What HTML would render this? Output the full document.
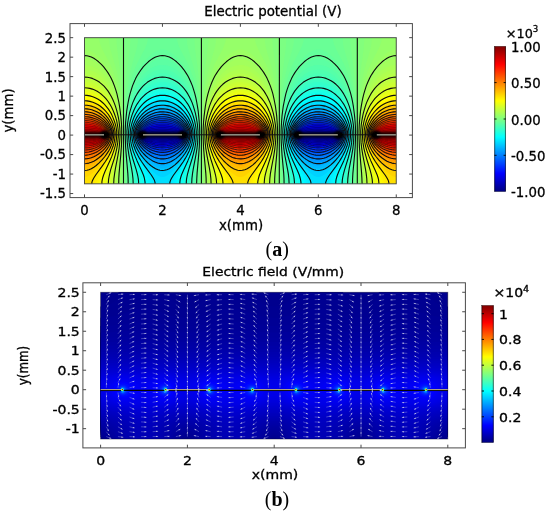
<!DOCTYPE html>
<html><head><meta charset="utf-8"><title>Electric potential and field</title>
<style>html,body{margin:0;padding:0;background:#fff}svg{display:block}</style></head>
<body>
<svg width="550" height="513" viewBox="0 0 550 513">
<rect width="550" height="513" fill="#fff"/>
<defs><filter id="bl" x="-2%" y="-2%" width="104%" height="104%"><feGaussianBlur stdDeviation="0.5"/></filter><filter id="bl2" x="-5%" y="-300%" width="110%" height="700%"><feGaussianBlur stdDeviation="1.1"/></filter><clipPath id="cp1"><rect x="84.50" y="37.67" width="311.76" height="146.14"/></clipPath></defs>
<g clip-path="url(#cp1)"><g filter="url(#bl)"><rect x="84.5" y="37.7" width="311.8" height="146.1" fill="#000083"/>
<g stroke="none" fill-rule="evenodd"><path fill="#000093" d="M84.5 183.8l311.8 0 0-146.1-311.8 0 0 146.1zM143 136.3l-.2-.2 0-1 0-1 .2-.2 3.9-.3 9.7-.3 11.7 0 10.7 .4 2.9 .2 .2 .2 0 2-.2 .2-3.9 .3-8.7 .3-9.8 0-9.7-.2-6.8-.4zM298.8 136.3l-.1-.2-.1-1 .1-1 .1-.2 3.9-.3 9.8-.3 11.7 0 10.7 .4 2.9 .2 .2 .2 0 2-.2 .2-3.9 .3-8.8 .3-9.7 0-9.7-.2-6.9-.4z"/>
<path fill="#00009f" d="M84.5 183.8l311.8 0 0-146.1-311.8 0 0 146.1zM146.9 137.1l-3.9-.6-.4-.4 0-2 .4-.4 2.9-.4 2.9-.3 9.7-.5 10.8 .1 5.8 .3 3.9 .4 2.9 .4 .4 .4 0 2-.4 .4-2.9 .5-3.9 .4-6.8 .3-7.8 .1-6.8-.2-6.8-.5zM302.7 137.1l-3.9-.6-.3-.4 0-2 .3-.4 3-.4 2.9-.3 9.7-.5 10.7 .1 5.9 .3 3.9 .4 2.9 .4 .4 .4 0 2-.4 .4-2.9 .5-3.9 .4-6.8 .3-7.8 .1-6.8-.2-6.9-.5z"/>
<path fill="#0000ac" d="M84.5 183.8l311.8 0 0-146.1-311.8 0 0 146.1zM150.7 138.1l-5.8-.9-1.9-.5-.6-.6 0-2 .6-.6 2.9-.7 2.9-.4 4.9-.5 4.8-.2 5.9-.1 4.9 .2 4.8 .4 4.9 .6 2.9 .7 .5 .6 .1 2-.6 .6-2.9 .7-2.9 .5-5.9 .6-6.8 .2-6.8-.1-5.9-.5zM306.6 138.1l-5.8-.9-2-.5-.5-.6 0-2 .5-.6 3-.7 2.9-.4 4.9-.5 4.8-.2 5.9-.1 4.8 .2 4.9 .4 4.9 .6 2.9 .7 .5 .6 0 2-.5 .6-2.9 .7-2.9 .5-5.9 .6-6.8 .2-6.8-.1-5.9-.5z"/>
<path fill="#0000b9" d="M84.5 183.8l311.8 0 0-146.1-311.8 0 0 146.1zM152.7 139.1l-3.9-.6-3.9-.8-1.9-.8-.7-.8-.1-1 .1-1 .7-.8 1.9-.7 3.9-.8 4.9-.6 4.8-.3 5.9-.1 4.9 .2 5.8 .6 3.9 .7 2 .6 .9 .4 .7 .8 .1 1-.1 1-.7 .8-1.9 .8-3.9 .8-5.9 .8-5.8 .3-5.9-.1-5.8-.4zM308.6 139.1l-3.9-.6-3.9-.8-2-.8-.7-.8-.1-1 .1-1 .7-.8 2-.7 3.9-.8 4.9-.6 4.8-.3 5.9-.1 4.8 .2 5.9 .6 3.9 .7 1.9 .6 1 .4 .7 .8 .1 1-.1 1-.7 .8-1.9 .8-3.9 .8-5.9 .8-5.8 .3-5.9-.1-5.8-.4z"/>
<path fill="#0000c6" d="M84.5 183.8l311.8 0 0-146.1-311.8 0 0 146.1zM153.7 140l-3.9-.7-3.9-.9-2-.7-.9-.5-.9-1.1-.1-1 .1-1 .9-1.1 .9-.5 2-.6 2.9-.7 4.9-.8 4.8-.4 5.9 0 4.9 .2 4.8 .6 4.9 1.1 2 .6 .9 .5 .9 1.1 .1 1-.1 1-.9 1.1-.9 .5-2 .7-3.9 .9-4.9 .8-5.8 .4-5.9-.1-4.8-.4zM309.6 140l-3.9-.7-3.9-.9-2-.7-1-.5-.8-1.1-.2-1 .2-1 .8-1.1 1-.5 2-.6 2.9-.7 4.9-.8 4.8-.4 5.9 0 4.8 .2 4.9 .6 4.9 1.1 1.9 .6 1 .5 .9 1.1 .1 1-.1 1-.9 1.1-1 .5-1.9 .7-3.9 .9-4.9 .8-5.8 .4-5.9-.1-4.8-.4z"/>
<path fill="#0000d2" d="M84.5 183.8l311.8 0 0-146.1-311.8 0 0 146.1zM155.6 141l-4.9-.7-3.8-1-3-1.2-.9-.5-.5-.6-.6-.9-.2-1 .2-1 .6-.9 .5-.5 1.9-1 2.9-.9 4.9-1 5.8-.6 5.9-.1 4.9 .3 4.8 .7 3 .7 1.9 .6 1 .3 1.9 1 .5 .5 .6 .9 .2 1-.2 1-.6 .9-.5 .6-1.9 1-3.9 1.2-4.9 1-4.9 .5-5.8 .1-4.9-.4zM311.5 141l-4.9-.7-3.9-1-2.9-1.2-1-.5-.4-.6-.7-.9-.1-1 .1-1 .7-.9 .4-.5 2-1 2.9-.9 4.9-1 5.8-.6 5.9-.1 4.8 .3 4.9 .7 2.9 .7 2 .6 1 .3 1.9 1 .5 .5 .6 .9 .1 1-.1 1-.6 .9-.5 .6-1.9 1-3.9 1.2-4.9 1-4.9 .5-5.8 .1-4.9-.4z"/>
<path fill="#0000df" d="M84.5 183.8l311.8 0 0-146.1-311.8 0 0 146.1zM156.6 142l-4.9-.8-2.9-.7-1.9-.6-3-1.3-.9-.7-.9-.9-.5-.9-.1-1 .1-1 .5-.9 .9-.9 .9-.6 2-.9 1.9-.6 4.9-1.2 5.8-.6 5.9-.1 4.9 .3 4.8 .8 2 .5 2.9 .9 2 .9 .9 .6 .8 .9 .6 .9 .1 1-.1 1-.5 .9-.9 .9-.9 .7-2 .9-2.9 1-4.9 1.1-4.9 .6-4.8 .2-4.9-.4zM312.5 142l-4.9-.8-2.9-.7-2-.6-2.9-1.3-1-.7-.8-.9-.5-.9-.2-1 .2-1 .5-.9 .8-.9 1-.6 2-.9 1.9-.6 4.9-1.2 5.8-.6 5.9-.1 4.8 .3 4.9 .8 2 .5 2.9 .9 1.9 .9 1 .6 .8 .9 .6 .9 .1 1-.1 1-.5 .9-.9 .9-1 .7-1.9 .9-2.9 1-4.9 1.1-4.9 .6-4.9 .2-4.8-.4z"/>
<path fill="#0000ec" d="M84.5 183.8l311.8 0 0-146.1-311.8 0 0 146.1zM156.6 142.9l-4.9-.9-2.9-.8-1.9-.7-3-1.5-.9-.6-1.2-1.4-.5-.9-.1-1 .1-1 .7-1.2 1-1 .9-.7 2-.9 1.9-.8 4.9-1.2 2.9-.5 2.9-.3 3-.1 2.9 0 4.9 .4 2.9 .5 2.9 .6 2.9 1 2 .8 1.9 1.2 1 1 .6 1.2 .2 1-.1 1-.7 1.3-1 1-1.9 1.2-2 .9-1.9 .7-4.9 1.3-4.9 .7-4.8 .1-4.9-.4zM312.5 142.9l-4.9-.9-2.9-.8-2-.7-2.9-1.5-1-.6-1.2-1.4-.4-.9-.1-1 .1-1 .7-1.2 .9-1 1-.7 2-.9 1.9-.8 4.9-1.2 2.9-.5 2.9-.3 2.9-.1 3 0 4.8 .4 3 .5 2.9 .6 2.9 1 2 .8 1.9 1.2 1 1 .6 1.2 .1 1-.1 1-.6 1.3-1 1-1.9 1.2-2 .9-1.9 .7-4.9 1.3-4.9 .7-4.9 .1-4.8-.4z"/>
<path fill="#0000f9" d="M84.5 183.8l311.8 0 0-146.1-311.8 0 0 146.1zM156.6 143.9l-4.9-1-1.9-.6-2.9-1.1-2-1-1.9-1.3-1-1-.6-.9-.3-.9-.1-1 .1-1 .3-.9 .6-.9 1-.9 .9-.7 2-1 1.9-.8 2.9-1 2-.4 2.9-.6 2.9-.3 3-.1 2.9 0 4.9 .4 4.8 1 3 1 1.9 .8 2 1 .9 .7 1 .9 .5 .9 .4 .9 .1 1-.1 1-.3 .9-.7 1-.9 .9-1.9 1.3-2 1-1.9 .7-2 .7-2.9 .7-4.9 .8-4.8 .2-4.9-.4zM312.5 143.9l-4.9-1-1.9-.6-3-1.1-1.9-1-2-1.3-.9-1-.6-.9-.4-.9-.1-1 .1-1 .4-.9 .6-.9 .9-.9 1-.7 2-1 1.9-.8 2.9-1 2-.4 2.9-.6 2.9-.3 2.9-.1 3 0 4.8 .4 4.9 1 2.9 1 2 .8 1.9 1 1 .7 1 .9 .5 .9 .4 .9 .1 1-.1 1-.4 .9-.6 1-.9 .9-1.9 1.3-2 1-1.9 .7-2 .7-2.9 .7-4.9 .8-4.9 .2-4.8-.4z"/>
<path fill="#0006ff" d="M84.5 183.8l311.8 0 0-146.1-311.8 0 0 146.1zM157.6 145l-3-.5-1.9-.5-2-.6-2.9-1.1-1.9-.9-2-1.2-.9-.8-1.4-1.4-.5-1-.4-.9-.1-1 .2-1 .3-.9 .9-1.4 1-.9 1.9-1.3 2-1 1.9-.8 2.9-.9 4.9-1 4.9-.4 2.9 .1 2.9 .2 2.9 .4 3 .7 2.9 .9 1.9 .8 2 1 1.9 1.3 1 .9 .9 1.4 .3 .9 .1 1-.1 1-.3 .9-.6 1-1.3 1.4-.9 .8-2 1.2-1.9 .9-3 1.1-1.9 .6-2 .5-2.9 .5-4.9 .3-4.8-.3zM313.4 145l-2.9-.5-1.9-.5-2-.6-2.9-1.1-1.9-.9-2-1.2-1-.8-1.3-1.4-.6-1-.3-.9-.1-1 .1-1 .4-.9 .9-1.4 .9-.9 2-1.3 1.9-1 2-.8 2.9-.9 4.9-1 4.8-.4 3 .1 2.9 .2 2.9 .4 2.9 .7 3 .9 1.9 .8 2 1 1.9 1.3 1 .9 .9 1.4 .3 .9 .1 1-.1 1-.3 .9-.6 1-1.3 1.4-1 .8-1.9 1.2-2 .9-2.9 1.1-1.9 .6-2 .5-2.9 .5-4.9 .3-4.9-.3z"/>
<path fill="#0013ff" d="M84.5 183.8l311.8 0 0-146.1-311.8 0 0 146.1zM157.6 146l-3-.6-1.9-.5-2-.6-2.9-1.2-1.9-1-2-1.3-1.9-1.7-.8-1.1-.5-1-.3-.9-.1-1 .1-1 .6-1.5 1-1.4 1-.9 1.9-1.4 2-1 1.9-.9 2.9-.9 2.9-.7 3-.5 2.9-.2 2.9-.1 4.9 .4 2.9 .6 2.9 .8 3 1 1.9 1 2 1.1 .9 .8 1 .9 .7 1 .6 1 .3 .9 .1 1-.1 1-.3 .9-.5 1-.8 1.1-1.9 1.7-2 1.3-1.9 1-3 1.2-1.9 .6-2 .5-2.9 .6-1.9 .2-3 .1-2.9-.1-1.9-.2zM313.4 146l-2.9-.6-1.9-.5-2-.6-2.9-1.2-1.9-1-2-1.3-1.9-1.7-.8-1.1-.5-1-.3-.9-.1-1 .1-1 .6-1.5 1-1.4 .9-.9 2-1.4 1.9-1 2-.9 2.9-.9 2.9-.7 2.9-.5 3-.2 2.9-.1 4.9 .4 2.9 .6 2.9 .8 2.9 1 2 1 1.9 1.1 1 .8 1 .9 .7 1 .5 1 .3 .9 .1 1-.1 1-.2 .9-.5 1-.8 1.1-2 1.7-1.9 1.3-2 1-2.9 1.2-1.9 .6-2 .5-2.9 .6-2 .2-2.9 .1-2.9-.1-2-.2z"/>
<path fill="#0020ff" d="M84.5 183.8l311.8 0 0-146.1-311.8 0 0 146.1zM156.6 146.8l-2-.4-2.9-.9-2.9-1.1-1.9-1-2-1.2-1.9-1.5-1-.9-1.2-1.8-.5-1-.2-.9-.1-1 .1-1 .2-.9 .5-1 1.2-1.6 1-1 2.9-1.9 1.9-1 2.9-1.2 3-.8 2.9-.6 4.9-.4 2.9 0 2.9 .3 2.9 .5 3 .7 1.9 .7 2.9 1.2 2 1.1 1.9 1.4 1 1 1.2 1.6 .4 1 .3 .9 .1 1-.1 1-.2 .9-.5 1-1.2 1.8-1 .9-1.9 1.5-2 1.2-1.9 1-2.9 1.1-3 .9-2.9 .6-2.9 .3-2.9 .1-3-.3-1.9-.3zM312.5 146.8l-2-.4-2.9-.9-2.9-1.1-2-1-1.9-1.2-2-1.5-.9-.9-1.3-1.8-.4-1-.2-.9-.1-1 .1-1 .2-.9 .5-1 1.2-1.6 .9-1 3-1.9 1.9-1 2.9-1.2 3-.8 2.9-.6 4.8-.4 3 0 2.9 .3 2.9 .5 2.9 .7 2 .7 2.9 1.2 2 1.1 1.9 1.4 1 1 1.2 1.6 .4 1 .3 .9 .1 1-.1 1-.3 .9-.4 1-1.2 1.8-1 .9-1.9 1.5-2 1.2-1.9 1-3 1.1-2.9 .9-2.9 .6-2.9 .3-3 .1-2.9-.3-1.9-.3z"/>
<path fill="#002dff" d="M84.5 183.8l311.8 0 0-146.1-311.8 0 0 146.1zM156.6 147.9l-2.9-.7-2-.7-2.9-1.2-1.9-1.1-2-1.2-1.9-1.6-1.4-1.4-1.3-2-.6-1.9-.1-1 .1-1 .7-1.9 .6-1.1 1-1.2 1.9-1.7 2-1.3 1.9-1 2.9-1.2 3-.9 2.9-.6 1.9-.3 3-.2 2.9 0 2.9 .3 2.9 .5 3 .8 2.9 1.1 1.9 1 2 1.1 1.9 1.5 1.3 1.2 .7 .9 .6 1.1 .7 1.9 0 1 0 1-.6 1.9-1.3 2-1.4 1.4-1.9 1.6-2 1.2-1.9 1.1-2.9 1.2-3 .9-2.9 .7-2.9 .3-2.9 .1-3-.3-1.9-.3zM312.5 147.9l-2.9-.7-2-.7-2.9-1.2-2-1.1-1.9-1.2-2-1.6-1.4-1.4-1.2-2-.6-1.9-.1-1 .1-1 .6-1.9 .7-1.1 1-1.2 1.9-1.7 2-1.3 1.9-1 2.9-1.2 3-.9 2.9-.6 1.9-.3 2.9-.2 3 0 2.9 .3 2.9 .5 2.9 .8 3 1.1 1.9 1 2 1.1 1.9 1.5 1.3 1.2 .7 .9 .6 1.1 .6 1.9 .1 1 0 1-.6 1.9-1.3 2-1.4 1.4-1.9 1.6-2 1.2-1.9 1.1-3 1.2-2.9 .9-2.9 .7-2.9 .3-3 .1-2.9-.3-1.9-.3z"/>
<path fill="#0039ff" d="M84.5 183.8l311.8 0 0-146.1-311.8 0 0 146.1zM155.6 148.8l-1.9-.6-3-1.1-2.9-1.4-1.9-1.2-2-1.4-1.9-1.8-1-1.3-1.1-2-.4-1-.2-1.9 .2-1.9 .5-1.3 1-1.6 1-1.1 1.9-1.8 2-1.3 1.9-1.1 2.9-1.2 3-1 2.9-.6 1.9-.3 3-.2 2.9 0 2.9 .3 2.9 .6 3 .8 2.9 1.2 1.9 .9 2 1.2 1.9 1.5 1.1 1.1 1.5 1.9 .8 2 .3 1.9-.2 1.9-.6 1.4-.9 1.7-2 2.1-1.9 1.6-2 1.3-1.9 1.1-2.9 1.3-3 1-2.9 .7-2.9 .3-2.9 .1-3-.3-2.9-.5zM311.5 148.8l-1.9-.6-3-1.1-2.9-1.4-1.9-1.2-2-1.4-1.9-1.8-1.1-1.3-1.1-2-.3-1-.3-1.9 .3-1.9 .5-1.3 1-1.6 1-1.1 1.9-1.8 2-1.3 1.9-1.1 2.9-1.2 3-1 2.9-.6 1.9-.3 2.9-.2 3 0 2.9 .3 2.9 .6 2.9 .8 3 1.2 1.9 .9 2 1.2 1.9 1.5 1.1 1.1 1.4 1.9 .9 2 .3 1.9-.3 1.9-.5 1.4-.9 1.7-2 2.1-1.9 1.6-2 1.3-1.9 1.1-3 1.3-2.9 1-2.9 .7-2.9 .3-3 .1-2.9-.3-2.9-.5z"/>
<path fill="#0046ff" d="M84.5 183.8l311.8 0 0-146.1-311.8 0 0 146.1zM160.5 150.7l-2.9-.4-2-.4-1.9-.6-3-1.1-1.9-1-2.9-1.8-2-1.5-2.1-2-.8-1-1.2-1.9-.7-2-.2-1.9 .2-1.9 .8-2 1.1-1.7 1-1.1 1.9-1.8 2-1.3 1.9-1.2 2.9-1.3 3-1 2.9-.6 2.9-.4 2.9-.2 3 .2 2.9 .4 2.9 .6 2.9 1 3 1.3 1.9 1.2 2 1.3 1.9 1.8 1.5 1.8 1 2 .5 1.9 .1 2-.5 1.9-.7 1.4-.9 1.5-2 2.2-1.9 1.6-2.9 2-3 1.5-1.9 .8-2.9 .9-3 .6-2.9 .3-2.9-.1zM316.4 150.7l-3-.4-1.9-.4-1.9-.6-3-1.1-1.9-1-2.9-1.8-2-1.5-2.1-2-.8-1-1.2-1.9-.7-2-.2-1.9 .2-1.9 .8-2 1.1-1.7 1-1.1 1.9-1.8 2-1.3 1.9-1.2 2.9-1.3 3-1 2.9-.6 2.9-.4 2.9-.2 2.9 .2 3 .4 2.9 .6 2.9 1 2.9 1.3 2 1.2 1.9 1.3 2 1.8 1.5 1.8 1 2 .5 1.9 0 2-.4 1.9-.7 1.4-.9 1.5-2 2.2-1.9 1.6-3 2-2.9 1.5-1.9 .8-3 .9-2.9 .6-2.9 .3-2.9-.1z"/>
<path fill="#0053ff" d="M84.5 183.8l311.8 0 0-146.1-311.8 0 0 146.1zM158.5 151.7l-2.9-.6-2.9-1-2-.8-2.9-1.6-1.9-1.3-2-1.5-1.9-1.9-1.6-2.1-1.1-1.9-.6-2-.2-.9 0-2 .2-.9 .7-2 1.1-1.9 1.5-1.8 1.9-1.7 2-1.4 1.9-1.2 2.9-1.4 3-1 2.9-.7 2.9-.4 2.9-.1 3 .1 2.9 .4 2.9 .7 2.9 1 3 1.4 1.9 1.2 2 1.4 1.9 1.7 1 1.1 .9 1.4 1 2 .6 2.1 0 2-.4 1.9-.9 2-1.2 1.8-2 2.2-1.9 1.7-2.9 2-3 1.6-2.9 1.2-2.9 .8-3.9 .6-2.9 .1-3-.3zM314.4 151.7l-2.9-.6-2.9-1-2-.8-2.9-1.6-1.9-1.3-2-1.5-1.9-1.9-1.6-2.1-1.1-1.9-.7-2-.1-.9 0-2 .2-.9 .7-2 1.1-1.9 1.5-1.8 1.9-1.7 2-1.4 1.9-1.2 2.9-1.4 3-1 2.9-.7 2.9-.4 2.9-.1 2.9 .1 3 .4 2.9 .7 2.9 1 2.9 1.4 2 1.2 1.9 1.4 2 1.7 1 1.1 .9 1.4 1 2 .5 2.1 .1 2-.5 1.9-.8 2-1.2 1.8-2 2.2-1.9 1.7-3 2-2.9 1.6-2.9 1.2-2.9 .8-3.9 .6-3 .1-2.9-.3z"/>
<path fill="#0060ff" d="M84.5 183.8l311.8 0 0-146.1-311.8 0 0 146.1zM157.6 152.8l-3-.7-1.9-.8-2.9-1.3-2-1.2-2.9-2.1-1.9-1.7-2-2.2-1-1.4-.9-1.7-.7-1.7-.3-1.9 0-2 .4-1.9 .6-1.5 .9-1.7 1.4-1.7 1.6-1.6 2.9-2.3 1.9-1.2 2.9-1.4 2-.7 2.9-.9 2.9-.5 3-.2 2.9 0 2.9 .3 2 .4 2.9 .9 2.9 1.1 2 1 2.9 1.9 1.9 1.6 2 2 1.7 2.5 .8 2 .2 1 .3 1.9-.2 1.9-.3 1-.6 1.7-1 1.7-1.9 2.6-2.9 2.7-2.9 2.1-3 1.7-3.9 1.6-2.9 .7-2.9 .4-3.9 0-2.9-.4zM313.4 152.8l-2.9-.7-1.9-.8-2.9-1.3-2-1.2-2.9-2.1-2-1.7-1.9-2.2-1-1.4-1-1.7-.6-1.7-.4-1.9 .1-2 .4-1.9 .5-1.5 1-1.7 1.3-1.7 1.6-1.6 3-2.3 1.9-1.2 2.9-1.4 2-.7 2.9-.9 2.9-.5 2.9-.2 3 0 2.9 .3 1.9 .4 3 .9 2.9 1.1 1.9 1 3 1.9 1.9 1.6 2 2 1.7 2.5 .8 2 .2 1 .2 1.9-.1 1.9-.3 1-.6 1.7-1 1.7-1.9 2.6-2.9 2.7-3 2.1-2.9 1.7-3.9 1.6-2.9 .7-2.9 .4-3.9 0-3-.4z"/>
<path fill="#006cff" d="M84.5 183.8l311.8 0 0-146.1-311.8 0 0 146.1zM160.5 154.6l-2-.2-1.9-.4-2.9-1-2-.8-1.9-1-2-1.2-1.9-1.4-2-1.6-1.9-2-1-1.1-1.3-2-1.1-1.9-.7-2-.3-1.9 0-2 .2-.9 .5-2 .9-1.9 1.4-2 1.4-1.6 1.9-1.8 2-1.5 1.9-1.2 2-1 2.9-1.2 1.9-.6 2-.5 2.9-.5 2-.1 2.9 .1 2.9 .3 2 .4 3.9 1.2 3.9 1.9 1.9 1.2 2 1.5 1.9 1.8 1 1 .9 1.3 1 1.6 1.1 2.6 .2 1 .2 1.9-.1 1.9-.3 1-.6 2-1.1 1.9-1.3 2-1 1.1-2.9 2.8-2 1.5-1.9 1.3-3.9 2-2 .8-1.9 .6-2 .4-1.9 .2-2 .1-1.9-.1zM316.4 154.6l-2-.2-1.9-.4-2.9-1-2-.8-1.9-1-2-1.2-1.9-1.4-2-1.6-1.9-2-1-1.1-1.4-2-1-1.9-.7-2-.3-1.9 0-2 .1-.9 .6-2 .9-1.9 1.3-2 1.5-1.6 1.9-1.8 2-1.5 1.9-1.2 2-1 2.9-1.2 1.9-.6 2-.5 2.9-.5 1.9-.1 3 .1 2.9 .3 1.9 .4 3.9 1.2 3.9 1.9 2 1.2 1.9 1.5 2 1.8 1 1 .9 1.3 1 1.6 1.1 2.6 .2 1 .2 1.9-.2 1.9-.2 1-.7 2-1 1.9-1.3 2-1 1.1-2.9 2.8-2 1.5-1.9 1.3-3.9 2-2 .8-1.9 .6-2 .4-1.9 .2-2 .1-1.9-.1z"/>
<path fill="#0079ff" d="M84.5 183.8l311.8 0 0-146.1-311.8 0 0 146.1zM157.6 155.6l-2-.5-2.9-1.1-2-1-2.9-1.7-1.9-1.5-2-1.7-1.9-2-2-2.4-1-1.8-1-1.9-.6-2-.3-1.9 0-2 .4-1.9 1.1-2.9 1.2-2 1.2-1.6 2-2 1.9-1.7 2-1.3 2.9-1.7 1.9-.8 2.9-1 2-.5 2.9-.5 2.9-.1 3 .1 2.9 .5 1.9 .5 3 1 1.9 .8 2 1.1 1.9 1.2 2.9 2.4 2.5 2.6 1.9 3 1.1 2.9 .2 1 .2 1.9-.3 2.9-1.1 2.9-1.1 2-1.4 2.1-2.9 3.1-2 1.7-1.9 1.5-2 1.2-1.9 1-2 .9-1.9 .7-2 .5-1.9 .4-2 .1-1.9 0-2-.1-1.9-.4zM313.4 155.6l-1.9-.5-2.9-1.1-2-1-2.9-1.7-1.9-1.5-2-1.7-1.9-2-2-2.4-1.1-1.8-.9-1.9-.6-2-.3-1.9 0-2 .3-1.9 1.2-2.9 1.2-2 1.2-1.6 1.9-2 2-1.7 1.9-1.3 3-1.7 1.9-.8 2.9-1 2-.5 2.9-.5 2.9-.1 2.9 .1 3 .5 1.9 .5 2.9 1 2 .8 1.9 1.1 2 1.2 2.9 2.4 2.5 2.6 1.9 3 1.1 2.9 .2 1 .2 1.9-.4 2.9-1 2.9-1.1 2-1.4 2.1-3 3.1-1.9 1.7-2 1.5-1.9 1.2-2 1-1.9 .9-2 .7-1.9 .5-2 .4-1.9 .1-2 0-1.9-.1-2-.4z"/>
<path fill="#0086ff" d="M84.5 183.8l311.8 0 0-146.1-311.8 0 0 146.1zM159.5 157.5l-1.9-.3-3-.9-1.9-.8-2-1-1.9-1.2-1.9-1.4-2-1.6-1.9-1.9-2-2.2-1-1.3-1.2-2-1-2-.7-1.9-.4-2-.1-1.9 .1-1.9 .5-2 .8-1.9 1-2 1-1.5 2-2.3 1.9-1.8 2-1.5 1.9-1.3 2-1 2.9-1.3 1.9-.6 3-.7 1.9-.3 2.9-.2 3 .2 1.9 .3 2.9 .7 2 .6 3.9 1.8 1.9 1.1 2 1.4 1.9 1.7 1.8 1.8 1.1 1.4 1.1 1.5 1 2 .8 1.9 .6 2.9 0 2-.3 1.9-.6 2-.8 1.9-1.1 2-1.6 2.3-2 2.2-1.9 1.9-2 1.6-1.9 1.4-2 1.2-1.9 1-2 .8-1.9 .6-2 .5-2.9 .3-1.9 0-2-.2zM315.4 157.5l-2-.3-2.9-.9-1.9-.8-2-1-1.9-1.2-2-1.4-1.9-1.6-2-1.9-1.9-2.2-1-1.3-1.2-2-1-2-.7-1.9-.4-2-.1-1.9 .1-1.9 .5-2 .7-1.9 1.1-2 1-1.5 2-2.3 1.9-1.8 2-1.5 1.9-1.3 2-1 2.9-1.3 1.9-.6 2.9-.7 2-.3 2.9-.2 2.9 .2 2 .3 2.9 .7 2 .6 3.9 1.8 1.9 1.1 2 1.4 1.9 1.7 1.8 1.8 1.1 1.4 1.1 1.5 1 2 .8 1.9 .5 2.9 .1 2-.3 1.9-.6 2-.8 1.9-1.1 2-1.6 2.3-2 2.2-1.9 1.9-2 1.6-1.9 1.4-2 1.2-1.9 1-2 .8-1.9 .6-2 .5-2.9 .3-2 0-1.9-.2z"/>
<path fill="#0093ff" d="M84.5 183.8l311.8 0 0-146.1-311.8 0 0 146.1zM156.6 158.6l-2-.7-1.9-.9-2-1-2.9-1.9-1.9-1.6-2-1.8-1.9-2-2-2.5-1.4-2.3-1-2-.8-1.9-.5-2-.2-1.9 0-2 .3-1.9 .5-2 .8-1.9 1.4-2.3 1.1-1.6 1.8-2 1.9-1.9 2-1.5 1.9-1.3 2.9-1.6 2-.8 2.9-.9 2-.4 2.9-.4 2.9 0 2.9 .2 2 .4 2.9 .8 3.9 1.6 2 1.1 1.9 1.3 2 1.5 1.9 1.9 1.8 2 1.1 1.6 1 1.6 .8 1.7 .7 1.9 .4 2 .1 2.9-.3 1.9-.5 2-.7 1.9-1.5 2.8-1 1.5-1.9 2.5-1.9 2-2 1.8-1.9 1.6-3 1.9-1.9 1-2 .9-2.9 .9-1.9 .4-2 .2-2.9-.1-2-.3-1.9-.4zM312.5 158.6l-2-.7-1.9-.9-2-1-2.9-1.9-1.9-1.6-2-1.8-1.9-2-2-2.5-1.5-2.3-.9-2-.8-1.9-.5-2-.2-1.9 0-2 .3-1.9 .5-2 .8-1.9 1.3-2.3 1.2-1.6 1.8-2 1.9-1.9 2-1.5 1.9-1.3 2.9-1.6 2-.8 2.9-.9 1.9-.4 3-.4 2.9 0 2.9 .2 2 .4 2.9 .8 3.9 1.6 1.9 1.1 2 1.3 1.9 1.5 2 1.9 1.7 2 1.2 1.6 1 1.6 .8 1.7 .6 1.9 .4 2 .2 2.9-.3 1.9-.5 2-.7 1.9-1.5 2.8-1 1.5-1.9 2.5-2 2-1.9 1.8-2 1.6-2.9 1.9-1.9 1-2 .9-2.9 .9-2 .4-1.9 .2-2.9-.1-2-.3-1.9-.4z"/>
<path fill="#009fff" d="M84.5 183.8l311.8 0 0-146.1-311.8 0 0 146.1zM157.6 160.6l-2-.6-2.9-1.2-2-1.1-1.9-1.3-1.9-1.5-2-1.7-1.9-2-2-2.3-1.5-2.1-1.4-2.3-1.2-2.6-.7-1.9-.4-2-.3-1.9 .1-2 .2-1.9 .9-2.9 .8-2 1.1-1.9 1.4-2.1 2-2.2 1.9-1.9 2-1.5 1.9-1.3 2-1.1 2.9-1.3 1.9-.7 3-.7 2.9-.4 2.9 0 2.9 .2 2 .4 1.9 .5 3 1.1 1.9 .9 2 1.1 1.9 1.3 2 1.5 1.9 1.9 1.9 2.2 1.5 2.1 1.1 1.9 .8 2 .6 1.9 .4 2 .2 1.9-.1 1.9-.4 2-.5 1.9-1.3 3-1.3 2.2-1.9 2.8-2 2.3-1.9 2-2 1.7-2.9 2.1-2.9 1.8-2 .9-1.9 .7-2 .5-1.9 .3-2.9 .1-2-.3-1.9-.4zM313.4 160.6l-1.9-.6-2.9-1.2-2-1.1-1.9-1.3-2-1.5-1.9-1.7-2-2-1.9-2.3-1.5-2.1-1.4-2.3-1.2-2.6-.7-1.9-.5-2-.2-1.9 0-2 .3-1.9 .8-2.9 .9-2 1.1-1.9 1.4-2.1 2-2.2 1.9-1.9 2-1.5 1.9-1.3 2-1.1 2.9-1.3 1.9-.7 2.9-.7 3-.4 2.9 0 2.9 .2 2 .4 1.9 .5 2.9 1.1 2 .9 1.9 1.1 2 1.3 1.9 1.5 2 1.9 1.9 2.2 1.4 2.1 1.1 1.9 .9 2 .6 1.9 .4 2 .1 1.9-.1 1.9-.3 2-.6 1.9-1.2 3-1.3 2.2-1.9 2.8-2 2.3-1.9 2-2 1.7-2.9 2.1-2.9 1.8-2 .9-1.9 .7-2 .5-1.9 .3-3 .1-1.9-.3-2-.4z"/>
<path fill="#00acff" d="M84.5 183.8l311.8 0 0-146.1-311.8 0 0 146.1zM157.6 162.7l-2-.7-1.9-.8-2-1.1-2.9-2-2.9-2.4-2-1.9-1.9-2.2-2-2.5-1.5-2.3-1.4-2.7-.9-2.2-.6-1.9-.4-2-.2-1.9 0-2 .2-1.9 .5-2 1.1-2.9 1.3-2.5 1.6-2.4 1.3-1.6 2-2 1.9-1.7 2.9-2.1 2-1.1 2.9-1.4 1.9-.6 3-.7 1.9-.3 2.9-.2 3 .2 1.9 .3 2.9 .7 2 .6 2.9 1.4 2 1.1 1.9 1.3 2 1.6 1.9 1.9 1.9 2.2 1.7 2.4 1.1 1.9 .9 2 .7 1.9 .4 2 .3 1.9 0 2-.4 2.9-.8 2.7-.9 2.4-1.5 2.7-1.5 2.3-1.9 2.5-1.9 2.2-2 1.9-2.9 2.4-2.9 2-2 1.1-1.9 .8-3 .9-1.9 .3-2.9 .1-2-.2-1.9-.4zM313.4 162.7l-1.9-.7-1.9-.8-2-1.1-2.9-2-2.9-2.4-2-1.9-1.9-2.2-2-2.5-1.5-2.3-1.4-2.7-.9-2.2-.6-1.9-.4-2-.2-1.9 0-2 .2-1.9 .5-2 1.1-2.9 1.3-2.5 1.6-2.4 1.3-1.6 1.9-2 2-1.7 2.9-2.1 2-1.1 2.9-1.4 1.9-.6 2.9-.7 2-.3 2.9-.2 2.9 .2 2 .3 2.9 .7 2 .6 2.9 1.4 1.9 1.1 2 1.3 1.9 1.6 2 1.9 1.9 2.2 1.7 2.4 1.1 1.9 .9 2 .7 1.9 .4 2 .3 1.9 0 2-.4 2.9-.8 2.7-.9 2.4-1.5 2.7-1.5 2.3-1.9 2.5-2 2.2-1.9 1.9-2.9 2.4-3 2-1.9 1.1-2 .8-2.9 .9-1.9 .3-3 .1-1.9-.2-2-.4z"/>
<path fill="#00b9ff" d="M84.5 183.8l311.8 0 0-146.1-311.8 0 0 146.1zM159.5 165.4l-1.9-.5-3-1.1-1.9-1-2.9-2-2.9-2.4-2-1.8-1.9-2.1-2-2.4-1.9-2.8-1.5-2.5-1.4-2.9-.7-2-.7-2.9-.3-2-.1-1.9 .1-1.9 .3-2 .9-2.9 1.2-2.9 1.2-2.1 1.9-2.7 2-2.3 1.9-1.9 2-1.5 1.9-1.4 2.9-1.6 2-.9 2.9-.9 2.9-.6 2-.3 2.9 0 2 .1 1.9 .3 2.9 .8 3 1 1.9 1 2.9 1.8 2 1.4 1.9 1.7 2 2.1 1.6 2.1 1.3 1.9 1.1 2 1.3 2.9 .6 1.9 .4 2 .2 1.9 0 2.9-.3 2-.7 2.9-1.2 2.9-1.4 2.8-2 3.1-1.9 2.6-1.9 2.3-3 2.8-1.9 1.7-2.9 2.1-3 1.6-1.9 .8-2.9 .8-2 .3-1.9 0-2-.3zM315.4 165.4l-2-.5-2.9-1.1-1.9-1-2.9-2-3-2.4-1.9-1.8-2-2.1-1.9-2.4-2-2.8-1.4-2.5-1.4-2.9-.7-2-.8-2.9-.2-2-.1-1.9 .1-1.9 .3-2 .8-2.9 1.3-2.9 1.2-2.1 1.9-2.7 2-2.3 1.9-1.9 2-1.5 1.9-1.4 2.9-1.6 2-.9 2.9-.9 2.9-.6 2-.3 2.9 0 1.9 .1 2 .3 2.9 .8 2.9 1 2 1 2.9 1.8 2 1.4 1.9 1.7 2 2.1 1.6 2.1 1.3 1.9 1.1 2 1.3 2.9 .6 1.9 .4 2 .2 1.9 0 2.9-.3 2-.7 2.9-1.2 2.9-1.4 2.8-2 3.1-1.9 2.6-2 2.3-2.9 2.8-1.9 1.7-3 2.1-2.9 1.6-1.9 .8-3 .8-1.9 .3-2 0-1.9-.3z"/>
<path fill="#00c6ff" d="M84.5 183.8l311.8 0 0-146.1-311.8 0 0 146.1zM160.5 168.3l-2-.4-2.9-1.1-1.9-1-2-1.3-1.9-1.4-2.9-2.6-3-3-1.9-2.3-2-2.7-1.9-3.1-1.4-2.6-1.2-2.9-1-3-.4-1.9-.3-2.9 0-2 .2-1.9 .7-2.9 1-3 .9-1.9 1.5-2.7 1.9-2.7 2-2.2 1.9-1.9 2-1.6 1.9-1.4 2.9-1.6 2-.9 2.9-1 2-.4 2.9-.4 2.9 0 2.9 .2 3 .6 2.9 1 1.9 .9 3 1.6 1.9 1.4 2 1.6 1.9 1.9 1.9 2.2 2 2.7 1.5 2.7 .9 1.9 1 3 .5 1.9 .3 2 .1 2.9-.3 2.9-.7 2.9-1.1 2.9-1.2 2.8-2 3.4-1.9 2.9-2 2.5-1.9 2.2-2.9 2.8-3 2.4-2.9 2-1.9 1-3 1.1-1.9 .4-2 .1-1.9-.1zM316.4 168.3l-2-.4-2.9-1.1-1.9-1-2-1.3-1.9-1.4-3-2.6-2.9-3-1.9-2.3-2-2.7-1.9-3.1-1.4-2.6-1.3-2.9-.9-3-.4-1.9-.3-2.9 0-2 .2-1.9 .6-2.9 1.1-3 .9-1.9 1.5-2.7 1.9-2.7 2-2.2 1.9-1.9 2-1.6 1.9-1.4 2.9-1.6 2-.9 2.9-1 1.9-.4 3-.4 2.9 0 2.9 .2 2.9 .6 3 1 1.9 .9 2.9 1.6 2 1.4 1.9 1.6 2 1.9 1.9 2.2 2 2.7 1.5 2.7 .9 1.9 1 3 .5 1.9 .2 2 .1 2.9-.3 2.9-.6 2.9-1.1 2.9-1.2 2.8-2 3.4-1.9 2.9-2 2.5-1.9 2.2-3 2.8-2.9 2.4-2.9 2-2 1-2.9 1.1-1.9 .4-2 .1-1.9-.1z"/>
<path fill="#00d2ff" d="M84.5 183.8l311.8 0 0-146.1-311.8 0 0 146.1zM158.5 171.2l-1.9-.8-2.9-1.7-3-2.2-1.9-1.7-2.9-2.9-2-2.2-1.9-2.5-2-2.7-1.9-3.2-1.4-2.6-1.3-2.9-1-2.9-.7-2.9-.3-2-.2-2.9 .1-1.9 .4-3 .8-2.9 1.2-2.9 1.4-2.8 2-3 1.9-2.4 2-2.1 1.9-1.7 2-1.5 2.9-1.8 1.9-1 2.9-1.1 2-.5 2.9-.5 2.9-.2 3 .2 2.9 .5 2.9 .8 2.9 1.3 2 1 2.9 2 2 1.6 1.9 1.9 1.9 2.2 2 2.7 1.4 2.4 1 2 1.1 2.9 .8 2.9 .4 2 .2 2.9-.2 2.9-.5 2.9-.8 3-1.5 3.6-1.5 3.2-2.4 3.8-1.9 2.7-1.9 2.5-3 3.2-2.9 2.8-2.9 2.3-2.9 1.9-2 1-2.9 .8-2 .2-1.9-.2-2-.5zM314.4 171.2l-1.9-.8-2.9-1.7-3-2.2-1.9-1.7-2.9-2.9-2-2.2-1.9-2.5-2-2.7-1.9-3.2-1.4-2.6-1.3-2.9-1-2.9-.8-2.9-.3-2-.1-2.9 .1-1.9 .4-3 .8-2.9 1.2-2.9 1.4-2.8 1.9-3 2-2.4 1.9-2.1 2-1.7 1.9-1.5 3-1.8 1.9-1 2.9-1.1 2-.5 2.9-.5 2.9-.2 2.9 .2 3 .5 2.9 .8 2.9 1.3 2 1 2.9 2 1.9 1.6 2 1.9 1.9 2.2 2 2.7 1.4 2.4 1 2 1.1 2.9 .8 2.9 .4 2 .2 2.9-.2 2.9-.5 2.9-.8 3-1.5 3.6-1.6 3.2-2.3 3.8-1.9 2.7-2 2.5-2.9 3.2-2.9 2.8-2.9 2.3-3 1.9-1.9 1-2.9 .8-2 .2-1.9-.2-2-.5z"/>
<path fill="#00dfff" d="M84.5 183.8l311.8 0 0-146.1-311.8 0 0 146.1zM162.4 177l-1.9-.2-2-.8-1.9-1.2-2.9-2.3-3-2.7-2.9-3-2.9-3.4-2.9-3.9-2-2.8-1.9-3.3-2-3.7-1.2-2.9-1-2.9-.7-3-.5-2.9-.1-2.9 .2-2.9 .5-2.9 .8-3 1.1-2.7 1.5-3.1 1.4-2.3 1.9-2.6 2-2.3 1.9-1.9 3-2.3 2.9-1.9 1.9-.9 2-.8 2.9-.9 2.9-.5 2.9-.2 3 .2 2.9 .5 2.9 .9 2 .8 1.9 .9 2.9 1.9 3 2.3 1.9 1.9 1.9 2.3 2 2.6 1.4 2.3 1.5 3.1 1.1 2.7 .8 3 .5 2.9 .2 2.9-.1 2.9-.5 2.9-.7 3-1 2.9-1.3 2.9-1.9 3.7-2 3.3-1.9 2.8-2.9 3.9-2.9 3.4-3 3-2.9 2.7-2.9 2.3-2 1.2-1.9 .8-2 .2zM318.3 177l-1.9-.2-2-.8-1.9-1.2-2.9-2.3-3-2.7-2.9-3-2.9-3.4-2.9-3.9-2-2.8-1.9-3.3-2-3.7-1.2-2.9-1-2.9-.8-3-.4-2.9-.1-2.9 .1-2.9 .6-2.9 .8-3 1-2.7 1.6-3.1 1.4-2.3 1.9-2.6 2-2.3 1.9-1.9 2.9-2.3 3-1.9 1.9-.9 2-.8 2.9-.9 2.9-.5 2.9-.2 2.9 .2 3 .5 2.9 .9 1.9 .8 2 .9 2.9 1.9 2.9 2.3 2 1.9 1.9 2.3 2 2.6 1.3 2.3 1.6 3.1 1.1 2.7 .8 3 .5 2.9 .2 2.9-.2 2.9-.4 2.9-.7 3-1.1 2.9-1.2 2.9-1.9 3.7-2 3.3-1.9 2.8-2.9 3.9-3 3.4-2.9 3-2.9 2.7-2.9 2.3-2 1.2-1.9 .8-2 .2z"/>
<path fill="#00e9ff" d="M84.5 183.8l70.7 0-.1-1-.5-1.9-1.4-2.9-1.9-3-6.4-8.6-2.9-4.2-2.9-4.7-3-5.5-2.1-5.2-1.3-4.9-.5-2.9-.2-2 0-3.8 .4-3 .6-2.9 1-2.9 1.2-2.9 1.5-3 1.4-2.2 1.9-2.7 2-2.3 1.9-1.9 3-2.3 2.9-1.9 1.9-.9 2-.8 2.9-.9 2.9-.5 2.9-.2 3 .2 2.9 .5 2.9 .9 2 .8 1.9 .9 2.9 1.9 3 2.3 1.9 1.9 1.9 2.3 2 2.7 1.4 2.2 1.5 3 1.2 2.9 1 2.9 .6 2.9 .4 3 0 3.8-.2 2-.5 2.9-1.3 4.9-2.2 5.2-2.9 5.5-2.9 4.7-2.9 4.2-6.4 8.6-1.9 3-1.4 2.9-.5 1.9-.1 1 141.4 0-.1-1-.5-1.9-1.4-2.9-2-3-6.3-8.6-2.9-4.2-3-4.7-2.9-5.5-2.1-5.2-1.4-4.9-.5-2.9-.1-2 0-3.8 .4-3 .6-2.9 .9-2.9 1.2-2.9 1.6-3 1.4-2.2 1.9-2.7 2-2.3 1.9-1.9 2.9-2.3 3-1.9 1.9-.9 2-.8 2.9-.9 2.9-.5 2.9-.2 2.9 .2 3 .5 2.9 .9 1.9 .8 2 .9 2.9 1.9 2.9 2.3 2 1.9 1.9 2.3 2 2.7 1.4 2.2 1.5 3 1.2 2.9 .9 2.9 .7 2.9 .3 3 .1 3.8-.2 2-.5 2.9-1.4 4.9-2.1 5.2-2.9 5.5-2.9 4.7-2.9 4.2-6.4 8.6-1.9 3-1.5 2.9-.4 1.9-.1 1 70.7 0 0-146.1-311.8 0 0 146.1z"/>
<path fill="#00efff" d="M84.5 183.8l67.8 0-.1-1-.3-1.9-.7-2-.9-1.9-2.2-3.9-6.1-9.4-2.9-4.8-2.3-4.3-2.2-4.9-1.6-4.9-1-4.8-.3-3-.1-1.9 .3-3.9 .5-2.9 .8-2.9 1-2.8 1.4-3.1 1.5-2.7 2-3 1.9-2.4 2-2.1 1.9-1.8 2-1.5 1.9-1.3 2.9-1.5 2-.8 2.9-.9 2.9-.5 2.9-.2 3 .2 2.9 .5 2.9 .9 2 .8 2.9 1.5 1.9 1.3 2 1.5 1.9 1.8 2 2.1 1.9 2.4 2 3 1.5 2.7 1.4 3.1 1 2.8 .8 2.9 .5 2.9 .3 3.9-.1 1.9-.3 3-1 4.8-1.7 4.9-2.1 4.9-2.3 4.3-2.9 4.8-6.1 9.4-2.3 3.9-.9 1.9-.6 2-.4 1.9 0 1 135.6 0-.1-1-.3-1.9-.7-2-.9-1.9-2.2-3.9-6.1-9.4-3-4.8-2.2-4.3-2.2-4.9-1.6-4.9-1.1-4.8-.3-3 0-1.9 .3-3.9 .5-2.9 .8-2.9 1-2.8 1.4-3.1 1.5-2.7 1.9-3 2-2.4 1.9-2.1 2-1.8 1.9-1.5 2-1.3 2.9-1.5 2-.8 2.9-.9 2.9-.5 2.9-.2 2.9 .2 3 .5 2.9 .9 1.9 .8 3 1.5 1.9 1.3 2 1.5 1.9 1.8 2 2.1 1.9 2.4 2 3 1.5 2.7 1.4 3.1 1 2.8 .7 2.9 .6 2.9 .2 3.9 0 1.9-.3 3-1 4.8-1.7 4.9-2.1 4.9-2.3 4.3-2.9 4.8-6.1 9.4-2.3 3.9-.9 1.9-.6 2-.4 1.9 0 1 67.8 0 0-146.1-311.8 0 0 146.1z"/>
<path fill="#00f5ff" d="M84.5 183.8l65.5 0-.1-1.9-.4-2-.7-1.9-.8-2-2-3.9-5-8.3-2.9-5.3-2.4-4.9-1.9-4.9-1.5-4.8-.8-4.9-.2-2.9 0-2 .4-3.9 .6-2.9 .8-2.9 1.1-3 1.3-2.9 1.6-2.8 2-3 1.9-2.4 2-2.1 1.9-1.8 2-1.5 1.9-1.3 2.9-1.5 2-.8 2.9-.9 2.9-.5 2.9-.2 3 .2 2.9 .5 2.9 .9 2 .8 2.9 1.5 1.9 1.3 2 1.5 1.9 1.8 2 2.1 1.9 2.4 2 3 1.6 2.8 1.3 2.9 1.1 3 .8 2.9 .6 2.9 .4 3.9 0 2-.2 2.9-.9 4.9-1.4 4.8-2 4.9-2.3 4.9-2.9 5.3-5 8.3-2 3.9-.8 2-.7 1.9-.4 2-.1 1.9 131 0-.1-1.9-.4-2-.7-1.9-.8-2-2.1-3.9-4.9-8.3-2.9-5.3-2.4-4.9-1.9-4.9-1.5-4.8-.8-4.9-.2-2.9 0-2 .4-3.9 .5-2.9 .9-2.9 1.1-3 1.3-2.9 1.6-2.8 1.9-3 2-2.4 1.9-2.1 2-1.8 1.9-1.5 2-1.3 2.9-1.5 2-.8 2.9-.9 2.9-.5 2.9-.2 2.9 .2 3 .5 2.9 .9 1.9 .8 3 1.5 1.9 1.3 2 1.5 1.9 1.8 2 2.1 1.9 2.4 2 3 1.5 2.8 1.4 2.9 1.1 3 .8 2.9 .6 2.9 .4 3.9 0 2-.2 2.9-.9 4.9-1.4 4.8-2 4.9-2.3 4.9-2.9 5.3-5 8.3-2 3.9-.9 2-.6 1.9-.4 2-.2 1.9 65.6 0 0-146.1-311.8 0 0 146.1z"/>
<path fill="#00fcff" d="M84.5 183.8l63.6 0-.1-1.9-.4-2-.5-1.9-.7-2-1.8-3.9-5.5-10.2-2-3.9-2.4-5.4-1.7-4.8-1.3-4.9-.6-4.9-.1-3.9 .1-1.9 .4-2.9 .6-3 .9-2.9 1.2-3.2 1.2-2.6 1.7-3.1 2-2.9 1.9-2.4 2-2.1 1.9-1.8 2.9-2.2 2.9-1.7 2-.9 2.9-1 2-.5 1.9-.3 2.9-.2 3 .2 1.9 .3 2 .5 2.9 1 1.9 .9 3 1.7 2.9 2.2 1.9 1.8 2 2.1 1.9 2.4 2 2.9 1.7 3.1 1.2 2.6 1.2 3.2 .9 2.9 .6 3 .4 2.9 .1 1.9-.1 3.9-.7 4.9-1.2 4.9-1.8 4.8-2.3 5.4-2 3.9-5.5 10.2-1.8 3.9-.7 2-.5 1.9-.4 2-.1 1.9 127.2 0-.2-1.9-.3-2-.5-1.9-.8-2-1.8-3.9-5.5-10.2-1.9-3.9-2.4-5.4-1.7-4.8-1.3-4.9-.7-4.9 0-3.9 .1-1.9 .4-2.9 .6-3 .9-2.9 1.2-3.2 1.2-2.6 1.7-3.1 1.9-2.9 2-2.4 1.9-2.1 2-1.8 2.9-2.2 2.9-1.7 2-.9 2.9-1 1.9-.5 2-.3 2.9-.2 2.9 .2 2 .3 1.9 .5 3 1 1.9 .9 2.9 1.7 3 2.2 1.9 1.8 2 2.1 1.9 2.4 2 2.9 1.6 3.1 1.3 2.6 1.2 3.2 .8 2.9 .7 3 .4 2.9 .1 1.9-.1 3.9-.7 4.9-1.2 4.9-1.8 4.8-2.3 5.4-2 3.9-5.5 10.2-1.8 3.9-.7 2-.6 1.9-.3 2-.1 1.9 63.6 0 0-146.1-311.8 0 0 146.1z"/>
<path fill="#03fffc" d="M84.5 183.8l61.9 0-.1-1.9-.3-2-.5-1.9-1-3-1.7-3.9-4.7-9.5-2.3-5.1-2-4.8-1.6-5-1-4.8-.5-4.9 .1-4.8 .5-3.9 .7-2.9 1.2-3.9 1.2-3 1.4-2.9 1.3-2.3 2-2.9 1.9-2.4 2-2.1 1.9-1.8 2-1.6 1.9-1.3 2.9-1.5 2.9-1.2 2-.5 2.9-.5 2.9-.2 3 .2 2.9 .5 1.9 .5 3 1.2 2.9 1.5 1.9 1.3 2 1.6 1.9 1.8 2 2.1 1.9 2.4 2 2.9 1.3 2.3 1.4 2.9 1.2 3 1.2 3.9 .7 2.9 .5 3.9 .1 4.8-.5 4.9-1.1 4.8-1.5 5-2 4.8-2.3 5.1-4.7 9.5-1.7 3.9-1 3-.5 1.9-.3 2-.1 1.9 123.7 0-.1-1.9-.3-2-.4-1.9-1-3-1.7-3.9-4.7-9.5-2.4-5.1-1.9-4.8-1.6-5-1-4.8-.6-4.9 .1-4.8 .6-3.9 .6-2.9 1.3-3.9 1.2-3 1.4-2.9 1.3-2.3 1.9-2.9 2-2.4 1.9-2.1 2-1.8 1.9-1.6 2-1.3 2.9-1.5 2.9-1.2 2-.5 2.9-.5 2.9-.2 2.9 .2 3 .5 1.9 .5 2.9 1.2 3 1.5 1.9 1.3 2 1.6 1.9 1.8 2 2.1 1.9 2.4 2 2.9 1.3 2.3 1.4 2.9 1.2 3 1.2 3.9 .7 2.9 .5 3.9 .1 4.8-.5 4.9-1.1 4.8-1.6 5-1.9 4.8-2.3 5.1-4.7 9.5-1.7 3.9-1 3-.5 1.9-.3 2-.1 1.9 61.9 0 0-146.1-311.8 0 0 146.1z"/>
<path fill="#0afff5" d="M84.5 183.8l60.3 0-.1-1.9-.3-2-.4-1.9-.9-3-1.5-3.9-4.5-9.8-2.4-5.7-1.7-4.9-1.4-4.9-.9-4.9-.4-4.8 .2-4.9 .6-3.9 .7-2.9 1.2-3.9 1.2-2.8 1.4-3.1 1.5-2.5 2-3 1.9-2.4 2-2.1 1.9-1.8 2-1.5 2.9-1.9 1.9-1 2-.8 2.9-.9 2.9-.5 2.9-.2 3 .2 2.9 .5 2.9 .9 2 .8 1.9 1 2.9 1.9 2 1.5 1.9 1.8 2 2.1 1.9 2.4 2 3 1.4 2.5 1.5 3.1 1.1 2.8 1.3 3.9 .7 2.9 .6 3.9 .2 4.9-.4 4.8-.9 4.9-1.4 4.9-1.7 4.9-2.4 5.7-4.5 9.8-1.5 3.9-.9 3-.5 1.9-.2 2-.1 1.9 120.6 0-.1-1.9-.3-2-.4-1.9-.9-3-1.5-3.9-4.5-9.8-2.4-5.7-1.8-4.9-1.3-4.9-1-4.9-.3-4.8 .2-4.9 .6-3.9 .7-2.9 1.2-3.9 1.2-2.8 1.4-3.1 1.5-2.5 1.9-3 2-2.4 1.9-2.1 2-1.8 1.9-1.5 3-1.9 1.9-1 2-.8 2.9-.9 2.9-.5 2.9-.2 2.9 .2 3 .5 2.9 .9 1.9 .8 2 1 2.9 1.9 2 1.5 1.9 1.8 2 2.1 1.9 2.4 2 3 1.4 2.5 1.5 3.1 1.1 2.8 1.3 3.9 .7 2.9 .6 3.9 .2 4.9-.4 4.8-.9 4.9-1.4 4.9-1.7 4.9-2.4 5.7-4.5 9.8-1.6 3.9-.8 3-.5 1.9-.2 2-.1 1.9 60.3 0 0-146.1-311.8 0 0 146.1z"/>
<path fill="#10ffef" d="M84.5 183.8l58.8 0-.3-3.9-.4-1.9-.8-3-1.4-3.9-4.3-10.3-1.9-4.9-1.7-5.2-1.3-4.9-.9-4.9-.4-4.8 .2-4.9 .8-4.9 1-3.9 1-2.9 1.3-3.2 1.3-2.6 1.6-3 2-2.9 1.9-2.5 2-2.1 1.9-1.8 2.9-2.2 2.9-1.7 2-.9 2.9-1 2-.5 1.9-.3 2.9-.2 3 .2 1.9 .3 2 .5 2.9 1 1.9 .9 3 1.7 2.9 2.2 1.9 1.8 2 2.1 1.9 2.5 2 2.9 1.6 3 1.3 2.6 1.3 3.2 1 2.9 1 3.9 .7 4.9 .2 4.9-.3 4.8-.9 4.9-1.3 4.9-1.7 5.2-2 4.9-4.3 10.3-1.3 3.9-.8 3-.4 1.9-.3 3.9 117.6 0-.3-3.9-.4-1.9-.8-3-1.4-3.9-4.3-10.3-1.9-4.9-1.8-5.2-1.3-4.9-.8-4.9-.4-4.8 .2-4.9 .8-4.9 1-3.9 1-2.9 1.3-3.2 1.2-2.6 1.7-3 1.9-2.9 2-2.5 1.9-2.1 2-1.8 2.9-2.2 2.9-1.7 2-.9 2.9-1 1.9-.5 2-.3 2.9-.2 2.9 .2 2 .3 1.9 .5 3 1 1.9 .9 2.9 1.7 3 2.2 1.9 1.8 2 2.1 1.9 2.5 2 2.9 1.6 3 1.3 2.6 1.3 3.2 1 2.9 1 3.9 .7 4.9 .2 4.9-.3 4.8-.9 4.9-1.3 4.9-1.7 5.2-2 4.9-4.3 10.3-1.4 3.9-.8 3-.3 1.9-.4 3.9 58.9 0 0-146.1-311.8 0 0 146.1z"/>
<path fill="#16ffe9" d="M84.5 183.8l57.4 0-.2-3.9-.4-1.9-.7-3-1.6-4.8-3.8-9.9-2-5.5-1.5-5.1-1.2-4.9-.7-4.8-.2-4.9 .3-4.9 .8-4.8 1-3.9 1-3 1.2-2.9 1.3-2.9 1.9-3.4 2-2.9 1.9-2.5 2-2.1 1.9-1.8 2-1.5 2.9-1.9 1.9-1 2-.8 2.9-.9 2.9-.6 2.9-.1 3 .1 2.9 .6 2.9 .9 2 .8 1.9 1 2.9 1.9 2 1.5 1.9 1.8 2 2.1 1.9 2.5 2 2.9 1.9 3.4 1.3 2.9 1.2 2.9 1 3 1 3.9 .8 4.8 .3 4.9-.2 4.9-.8 4.8-1.1 4.9-1.5 5.1-2 5.5-3.8 9.9-1.6 4.8-.7 3-.4 1.9-.2 3.9 114.8 0-.3-3.9-.3-1.9-.7-3-1.6-4.8-3.9-9.9-1.9-5.5-1.5-5.1-1.2-4.9-.7-4.8-.2-4.9 .3-4.9 .8-4.8 1-3.9 1-3 1.1-2.9 1.4-2.9 1.9-3.4 1.9-2.9 2-2.5 1.9-2.1 2-1.8 1.9-1.5 3-1.9 1.9-1 2-.8 2.9-.9 2.9-.6 2.9-.1 2.9 .1 3 .6 2.9 .9 1.9 .8 2 1 2.9 1.9 2 1.5 1.9 1.8 2 2.1 1.9 2.5 2 2.9 1.8 3.4 1.4 2.9 1.2 2.9 .9 3 1.1 3.9 .8 4.8 .3 4.9-.3 4.9-.7 4.8-1.1 4.9-1.6 5.1-1.9 5.5-3.8 9.9-1.6 4.8-.8 3-.3 1.9-.3 3.9 57.5 0 0-146.1-311.8 0 0 146.1z"/>
<path fill="#1dffe2" d="M84.5 183.8l56.1 0-.2-3.9-1-4.9-1.5-4.8-3.7-10.6-1.7-5-1.6-5.9-.9-4.8-.7-5.9 0-4.8 .5-4.9 .9-4.9 1.1-3.9 1-2.9 1.4-3.3 1.3-2.6 1.6-2.9 2-2.9 1.9-2.5 2-2.1 1.9-1.8 2.9-2.2 2.9-1.8 2-.9 1.9-.7 3-.8 1.9-.3 2.9-.2 3 .2 1.9 .3 2.9 .8 2 .7 1.9 .9 3 1.8 2.9 2.2 1.9 1.8 2 2.1 1.9 2.5 2 2.9 1.6 2.9 1.3 2.6 1.3 3.3 1.1 2.9 1.1 3.9 .9 4.9 .5 4.9 0 4.8-.7 5.9-1 4.8-1.6 5.9-1.6 5-3.8 10.6-1.4 4.8-1 4.9-.2 3.9 112.2 0-.3-3.9-.9-4.9-1.5-4.8-3.7-10.6-1.7-5-1.6-5.9-1-4.8-.6-5.9 0-4.8 .5-4.9 .9-4.9 1.1-3.9 1-2.9 1.4-3.3 1.2-2.6 1.7-2.9 1.9-2.9 2-2.5 1.9-2.1 2-1.8 2.9-2.2 2.9-1.8 2-.9 1.9-.7 2.9-.8 2-.3 2.9-.2 2.9 .2 2 .3 2.9 .8 2 .7 1.9 .9 2.9 1.8 3 2.2 1.9 1.8 2 2.1 1.9 2.5 2 2.9 1.6 2.9 1.3 2.6 1.3 3.3 1 2.9 1.1 3.9 1 4.9 .5 4.9-.1 4.8-.6 5.9-1 4.8-1.6 5.9-1.6 5-3.8 10.6-1.5 4.8-.9 4.9-.3 3.9 56.2 0 0-146.1-311.8 0 0 146.1z"/>
<path fill="#23ffdc" d="M84.5 183.8l54.9 0-.1-1.9-.3-3-1-4.8-1.4-4.9-4.6-14.6-1.5-5.9-.9-4.8-.6-5.9-.1-4.8 .5-4.9 1.1-5.9 1.1-3.9 1-2.9 1.6-3.9 1.4-2.9 1.5-2.6 2-2.9 1.9-2.5 2-2.1 1.9-1.8 2-1.6 1.9-1.3 2.9-1.6 2-.8 2.9-.9 2.9-.5 2.9-.2 3 .2 2.9 .5 2.9 .9 2 .8 2.9 1.6 1.9 1.3 2 1.6 1.9 1.8 2 2.1 1.9 2.5 2 2.9 1.4 2.6 1.5 2.9 1.6 3.9 1 2.9 1.1 3.9 1.1 5.9 .4 4.9 0 4.8-.6 5.9-.9 4.8-1.5 5.9-4.7 14.6-1.3 4.9-1 4.8-.3 3-.1 1.9 109.7 0 0-1.9-.3-3-1-4.8-1.4-4.9-4.7-14.6-1.4-5.9-1-4.8-.6-5.9 0-4.8 .5-4.9 1.1-5.9 1.1-3.9 1-2.9 1.6-3.9 1.4-2.9 1.5-2.6 1.9-2.9 2-2.5 1.9-2.1 2-1.8 1.9-1.6 2-1.3 2.9-1.6 2-.8 2.9-.9 2.9-.5 2.9-.2 2.9 .2 3 .5 2.9 .9 1.9 .8 3 1.6 1.9 1.3 2 1.6 1.9 1.8 2 2.1 1.9 2.5 2 2.9 1.4 2.6 1.5 2.9 1.6 3.9 1 2.9 1.1 3.9 1.1 5.9 .4 4.9 0 4.8-.6 5.9-.9 4.8-1.5 5.9-4.7 14.6-1.4 4.9-.9 4.8-.3 3-.1 1.9 54.9 0 0-146.1-311.8 0 0 146.1z"/>
<path fill="#29ffd6" d="M84.5 183.8l53.6 0-.3-4.9-.9-4.8-1.2-4.9-4.4-15.1-1.3-5.4-1-5.8-.4-5.9 0-4.8 .7-5.9 1.2-5.8 1.1-3.9 1.1-2.9 1.5-3.7 1.6-3.2 1.3-2.3 2-2.9 1.9-2.5 2-2.1 1.9-1.9 2-1.5 2.9-1.9 1.9-1 2-.9 2.9-.9 2.9-.5 2.9-.2 3 .2 2.9 .5 2.9 .9 2 .9 1.9 1 2.9 1.9 2 1.5 1.9 1.9 2 2.1 1.9 2.5 2 2.9 1.3 2.3 1.6 3.2 1.5 3.7 1 2.9 1.2 3.9 1.2 5.8 .6 5.9 .1 4.8-.5 5.9-.9 5.8-1.3 5.4-4.4 15.1-1.3 4.9-.8 4.8-.4 4.9 107.3 0-.3-4.9-.9-4.8-1.2-4.9-4.5-15.1-1.2-5.4-1-5.8-.4-5.9 0-4.8 .7-5.9 1.2-5.8 1.1-3.9 1-2.9 1.6-3.7 1.5-3.2 1.4-2.3 1.9-2.9 2-2.5 1.9-2.1 2-1.9 1.9-1.5 3-1.9 1.9-1 2-.9 2.9-.9 2.9-.5 2.9-.2 2.9 .2 3 .5 2.9 .9 1.9 .9 2 1 2.9 1.9 2 1.5 1.9 1.9 2 2.1 1.9 2.5 2 2.9 1.3 2.3 1.6 3.2 1.5 3.7 1 2.9 1.2 3.9 1.2 5.8 .6 5.9 .1 4.8-.5 5.9-1 5.8-1.2 5.4-4.4 15.1-1.3 4.9-.9 4.8-.3 4.9 53.7 0 0-146.1-311.8 0 0 146.1z"/>
<path fill="#30ffcf" d="M84.5 183.8l52.5 0-.3-4.9-.8-4.8-1.2-4.9-2.9-10.7-1.5-5.9-1.1-5.8-.7-4.9-.3-5.8 .2-5.9 .8-5.8 1.1-5.1 1-3.5 1-3.1 1.2-2.9 1.7-3.7 1.9-3.5 2-2.9 1.9-2.5 2-2.1 1.9-1.8 2-1.6 2.9-1.9 1.9-1 2-.9 2.9-.9 2.9-.5 2.9-.2 3 .2 2.9 .5 2.9 .9 2 .9 1.9 1 2.9 1.9 2 1.6 1.9 1.8 2 2.1 1.9 2.5 2 2.9 1.9 3.5 1.7 3.7 1.2 2.9 1 3.1 1 3.5 1.1 5.1 .8 5.8 .2 5.9-.4 5.8-.6 4.9-1.2 5.8-1.4 5.9-3 10.7-1.1 4.9-.8 4.8-.3 4.9 105 0-.3-4.9-.8-4.8-1.2-4.9-2.9-10.7-1.5-5.9-1.1-5.8-.7-4.9-.3-5.8 .2-5.9 .8-5.8 1.1-5.1 .9-3.5 1.1-3.1 1.2-2.9 1.6-3.7 2-3.5 1.9-2.9 2-2.5 1.9-2.1 2-1.8 1.9-1.6 3-1.9 1.9-1 2-.9 2.9-.9 2.9-.5 2.9-.2 2.9 .2 3 .5 2.9 .9 1.9 .9 2 1 2.9 1.9 2 1.6 1.9 1.8 2 2.1 1.9 2.5 2 2.9 1.9 3.5 1.7 3.7 1.1 2.9 1.1 3.1 1 3.5 1.1 5.1 .7 5.8 .3 5.9-.4 5.8-.6 4.9-1.2 5.8-1.4 5.9-3 10.7-1.1 4.9-.8 4.8-.3 4.9 52.5 0 0-146.1-311.8 0 0 146.1z"/>
<path fill="#36ffc9" d="M84.5 183.8l51.3 0-.2-4.9-.7-4.8-1.1-4.9-2.5-10.2-1.5-6.4-1-5.8-.7-5.9-.3-5.8 .3-5.8 .8-5.9 1.4-6.2 2-6.5 1.6-3.9 1.4-2.9 1.8-3.2 2-3 1.9-2.5 2-2.1 1.9-1.9 2-1.5 2.9-2 1.9-1 2-.8 2.9-1 2.9-.5 2.9-.2 3 .2 2.9 .5 2.9 1 2 .8 1.9 1 2.9 2 2 1.5 1.9 1.9 2 2.1 1.9 2.5 2 3 1.8 3.2 1.4 2.9 1.6 3.9 2 6.5 1.4 6.2 .8 5.9 .2 5.8-.2 5.8-.7 5.9-1 5.8-1.5 6.4-2.5 10.2-1.1 4.9-.7 4.8-.3 4.9 102.7 0-.2-4.9-.8-4.8-1-4.9-2.6-10.2-1.4-6.4-1.1-5.8-.7-5.9-.2-5.8 .3-5.8 .8-5.9 1.4-6.2 2-6.5 1.6-3.9 1.4-2.9 1.8-3.2 1.9-3 2-2.5 1.9-2.1 2-1.9 1.9-1.5 3-2 1.9-1 2-.8 2.9-1 2.9-.5 2.9-.2 2.9 .2 3 .5 2.9 1 1.9 .8 2 1 2.9 2 2 1.5 1.9 1.9 2 2.1 1.9 2.5 2 3 1.8 3.2 1.4 2.9 1.6 3.9 2 6.5 1.3 6.2 .8 5.9 .3 5.8-.2 5.8-.7 5.9-1.1 5.8-1.4 6.4-2.6 10.2-1 4.9-.7 4.8-.3 4.9 51.4 0 0-146.1-311.8 0 0 146.1z"/>
<path fill="#3dffc2" d="M84.5 183.8l50.2 0-.2-4.9-.7-4.8-.9-4.9-2.6-11.6-1.2-5.9-.9-5.9-.6-5.8-.1-6.8 .4-5.9 .9-5.8 1.5-6.6 1-3.3 1.3-3.8 1.6-3.8 1.5-3 1.4-2.5 2-3 1.9-2.5 2-2.1 1.9-1.9 2.9-2.3 2.9-1.8 2-.9 2.9-1.1 2-.4 1.9-.4 2.9-.2 3 .2 1.9 .4 2 .4 2.9 1.1 1.9 .9 3 1.8 2.9 2.3 1.9 1.9 2 2.1 1.9 2.5 2 3 1.4 2.5 1.5 3 1.6 3.8 1.3 3.8 1 3.3 1.5 6.6 .8 5.8 .5 5.9-.1 6.8-.6 5.8-.9 5.9-1.2 5.9-2.6 11.6-1 4.9-.6 4.8-.2 4.9 100.4 0-.2-4.9-.7-4.8-.9-4.9-2.6-11.6-1.2-5.9-.9-5.9-.6-5.8-.1-6.8 .4-5.9 .9-5.8 1.5-6.6 .9-3.3 1.4-3.8 1.6-3.8 1.5-3 1.4-2.5 1.9-3 2-2.5 1.9-2.1 2-1.9 2.9-2.3 2.9-1.8 2-.9 2.9-1.1 1.9-.4 2-.4 2.9-.2 2.9 .2 2 .4 1.9 .4 3 1.1 1.9 .9 2.9 1.8 3 2.3 1.9 1.9 2 2.1 1.9 2.5 2 3 1.4 2.5 1.5 3 1.6 3.8 1.3 3.8 1 3.3 1.5 6.6 .8 5.8 .4 5.9-.1 6.8-.5 5.8-.9 5.9-1.2 5.9-2.6 11.6-1 4.9-.6 4.8-.3 4.9 50.3 0 0-146.1-311.8 0 0 146.1z"/>
<path fill="#43ffbc" d="M84.5 183.8l49.1 0-.1-3.9-.5-4.9-1-5.8-2.4-11.7-1-5.8-.9-6.9-.5-5.8 0-5.8 .4-6.9 1.1-6.8 1.6-7 2.1-6.6 1.6-3.9 1.4-2.9 1.7-3 2-3 1.9-2.5 2-2.2 1.9-1.8 2-1.6 2.9-2 1.9-1 2-.9 2.9-.9 2.9-.6 2.9-.2 3 .2 2.9 .6 2.9 .9 2 .9 1.9 1 2.9 2 2 1.6 1.9 1.8 2 2.2 1.9 2.5 2 3 1.6 3 1.4 2.9 1.7 3.9 2.1 6.6 1.6 7 1 6.8 .5 6.9 0 5.8-.5 5.8-.9 6.9-1.1 5.8-2.3 11.7-1 5.8-.5 4.9-.2 3.9 98.3 0-.1-3.9-.5-4.9-1-5.8-2.4-11.7-1-5.8-1-6.9-.4-5.8-.1-5.8 .5-6.9 1-6.8 1.7-7 2.1-6.6 1.6-3.9 1.4-2.9 1.7-3 1.9-3 2-2.5 1.9-2.2 2-1.8 1.9-1.6 3-2 1.9-1 2-.9 2.9-.9 2.9-.6 2.9-.2 2.9 .2 3 .6 2.9 .9 1.9 .9 2 1 2.9 2 2 1.6 1.9 1.8 2 2.2 1.9 2.5 2 3 1.6 3 1.4 2.9 1.6 3.9 2.2 6.6 1.6 7 1 6.8 .5 6.9 0 5.8-.5 5.8-.9 6.9-1.1 5.8-2.3 11.7-1 5.8-.5 4.9-.2 3.9 49.2 0 0-146.1-311.8 0 0 146.1z"/>
<path fill="#49ffb6" d="M84.5 183.8l48.1 0-.2-3.9-.4-4.9-.9-5.8-2.1-11.7-1.1-6.8-.8-6.8-.3-5.9 .1-6.8 .5-6.8 1.3-7.8 1.6-6.8 1-3.2 1.2-3.7 1.7-3.9 1.4-2.9 1.5-2.7 2-3 1.9-2.5 2-2.2 1.9-1.9 2-1.6 1.9-1.4 2.9-1.6 2-.9 2.9-.9 2.9-.6 2.9-.2 3 .2 2.9 .6 2.9 .9 2 .9 2.9 1.6 1.9 1.4 2 1.6 1.9 1.9 2 2.2 1.9 2.5 2 3 1.5 2.7 1.4 2.9 1.6 3.9 1.3 3.7 1 3.2 1.6 6.8 1.2 7.8 .6 6.8 .1 6.8-.4 5.9-.8 6.8-1 6.8-2.1 11.7-.9 5.8-.5 4.9-.1 3.9 96.1 0-.1-3.9-.4-4.9-.9-5.8-2.1-11.7-1.1-6.8-.8-6.8-.3-5.9 0-6.8 .6-6.8 1.3-7.8 1.6-6.8 .9-3.2 1.3-3.7 1.7-3.9 1.4-2.9 1.5-2.7 1.9-3 2-2.5 1.9-2.2 2-1.9 1.9-1.6 2-1.4 2.9-1.6 2-.9 2.9-.9 2.9-.6 2.9-.2 2.9 .2 3 .6 2.9 .9 1.9 .9 3 1.6 1.9 1.4 2 1.6 1.9 1.9 2 2.2 1.9 2.5 2 3 1.5 2.7 1.4 2.9 1.6 3.9 1.3 3.7 1 3.2 1.6 6.8 1.2 7.8 .6 6.8 .1 6.8-.4 5.9-.8 6.8-1.1 6.8-2.1 11.7-.8 5.8-.5 4.9-.1 3.9 48.1 0 0-146.1-311.8 0 0 146.1z"/>
<path fill="#50ffaf" d="M84.5 183.8l47 0-.1-4.9-.6-5.8-2.7-17.5-.9-6.9-.5-5.8-.3-5.9 .2-7.7 .7-7.8 1.4-7.8 1.6-6.8 1-3.3 1.2-3.6 1.7-4 1.4-2.8 1.5-2.8 2-3 1.9-2.5 2-2.2 1.9-1.9 2-1.7 2.9-2 1.9-1.1 2-.9 2.9-1 2.9-.5 2.9-.2 3 .2 2.9 .5 2.9 1 2 .9 1.9 1.1 2.9 2 2 1.7 1.9 1.9 2 2.2 1.9 2.5 2 3 1.5 2.8 1.4 2.8 1.6 4 1.3 3.6 1 3.3 1.6 6.8 1.3 7.8 .8 7.8 .2 7.7-.3 5.9-.5 5.8-.9 6.9-2.7 17.5-.6 5.8-.1 4.9 94 0-.2-4.9-.5-5.8-2.7-17.5-.9-6.9-.6-5.8-.2-5.9 .2-7.7 .7-7.8 1.3-7.8 1.7-6.8 .9-3.3 1.3-3.6 1.7-4 1.3-2.8 1.6-2.8 1.9-3 2-2.5 1.9-2.2 2-1.9 1.9-1.7 3-2 1.9-1.1 2-.9 2.9-1 2.9-.5 2.9-.2 2.9 .2 3 .5 2.9 1 1.9 .9 2 1.1 2.9 2 2 1.7 1.9 1.9 2 2.2 1.9 2.5 2 3 1.5 2.8 1.4 2.8 1.6 4 1.3 3.6 1 3.3 1.6 6.8 1.3 7.8 .8 7.8 .1 7.7-.2 5.9-.5 5.8-.9 6.9-2.7 17.5-.6 5.8-.2 4.9 47.1 0 0-146.1-311.8 0 0 146.1z"/>
<path fill="#56ffa9" d="M84.5 183.8l46 0-.2-4.9-.4-5.8-2.4-17.5-.9-7.8-.4-5.9-.2-5.8 .3-7.8 .8-8.8 1.3-7.8 .9-4.4 1-3.8 1-3.2 1.4-4.2 1.5-3.4 1.6-3.4 1.3-2.3 2-3 1.9-2.6 2-2.3 1.9-1.9 2.9-2.4 2-1.4 2.9-1.6 1.9-.8 3-.9 2.9-.4 1.9-.1 2 .1 2.9 .4 2.9 .9 2 .8 2.9 1.6 2 1.4 2.9 2.4 1.9 1.9 2 2.3 1.9 2.6 2 3 1.2 2.3 1.7 3.4 1.4 3.4 1.5 4.2 1 3.2 1 3.8 .9 4.4 1.3 7.8 .8 8.8 .2 7.8-.1 5.8-.5 5.9-.8 7.8-2.4 17.5-.5 5.8-.1 4.9 92 0-.2-4.9-.5-5.8-2.3-17.5-.9-7.8-.4-5.9-.2-5.8 .2-7.8 .9-8.8 1.2-7.8 1-4.4 1-3.8 .9-3.2 1.5-4.2 1.5-3.4 1.6-3.4 1.3-2.3 1.9-3 2-2.6 1.9-2.3 2-1.9 2.9-2.4 2-1.4 2.9-1.6 1.9-.8 2.9-.9 3-.4 1.9-.1 2 .1 2.9 .4 2.9 .9 2 .8 2.9 1.6 1.9 1.4 3 2.4 1.9 1.9 2 2.3 1.9 2.6 2 3 1.2 2.3 1.7 3.4 1.4 3.4 1.5 4.2 1 3.2 .9 3.8 1 4.4 1.3 7.8 .8 8.8 .2 7.8-.2 5.8-.4 5.9-.9 7.8-2.3 17.5-.5 5.8-.1 4.9 46 0 0-146.1-311.8 0 0 146.1z"/>
<path fill="#5cffa3" d="M84.5 183.8l45 0-.2-4.9-.4-5.8-2.1-18.5-.7-7.8-.4-6.8 0-5.9 .3-8.7 .9-8.8 1.4-8.6 1-4.5 1-3.8 1-3.3 1.4-4.2 1.5-3.5 1.6-3.3 1.3-2.4 2-3.1 1.9-2.6 2-2.3 1.9-2 2.9-2.5 2.9-2 2-1.1 1.9-.9 3-.9 1.9-.4 2.9-.2 3 .2 1.9 .4 2.9 .9 2 .9 1.9 1.1 3 2 2.9 2.5 1.9 2 2 2.3 1.9 2.6 2 3.1 1.3 2.4 1.6 3.3 1.4 3.5 1.5 4.2 1 3.3 1 3.8 .9 4.5 1.4 8.6 .9 8.8 .4 8.7-.1 5.9-.3 6.8-.7 7.8-2.1 18.5-.5 5.8-.1 4.9 89.9 0-.1-4.9-.4-5.8-2.1-18.5-.7-7.8-.4-6.8 0-5.9 .3-8.7 .9-8.8 1.4-8.6 1-4.5 1-3.8 .9-3.3 1.5-4.2 1.5-3.5 1.6-3.3 1.3-2.4 1.9-3.1 2-2.6 1.9-2.3 2-2 2.9-2.5 2.9-2 2-1.1 1.9-.9 2.9-.9 2-.4 2.9-.2 2.9 .2 2 .4 2.9 .9 2 .9 1.9 1.1 2.9 2 3 2.5 1.9 2 2 2.3 1.9 2.6 2 3.1 1.3 2.4 1.6 3.3 1.4 3.5 1.5 4.2 1 3.3 .9 3.8 1 4.5 1.4 8.6 .9 8.8 .4 8.7-.1 5.9-.4 6.8-.7 7.8-2.1 18.5-.4 5.8-.1 4.9 45 0 0-146.1-311.8 0 0 146.1z"/>
<path fill="#63ff9c" d="M84.5 183.8l43.9 0-.1-4.9-.3-5.8-1.7-18.5-.6-7.8-.4-7.8 0-6.8 .5-9.8 1-9.7 1.5-9.3 1-4.5 1-3.8 2.2-6.8 1.5-3.9 1.4-2.9 1.7-3.3 2-3.2 1.9-2.7 2-2.4 1.9-2.1 2.9-2.7 2-1.6 2.9-1.8 1.9-1 3-1.1 1.9-.4 2.9-.2 3 .2 1.9 .4 2.9 1.1 2 1 2.9 1.8 2 1.6 2.9 2.7 1.9 2.1 2 2.4 1.9 2.7 2 3.2 1.7 3.3 1.4 2.9 1.5 3.9 2.2 6.8 1 3.8 .9 4.5 1.6 9.3 1 9.7 .4 9.8 0 6.8-.3 7.8-.6 7.8-1.7 18.5-.4 5.8-.1 4.9 87.9 0-.1-4.9-.3-5.8-1.8-18.5-.5-7.8-.4-7.8 0-6.8 .5-9.8 1-9.7 1.5-9.3 1-4.5 1-3.8 2.1-6.8 1.6-3.9 1.4-2.9 1.7-3.3 1.9-3.2 2-2.7 1.9-2.4 2-2.1 2.9-2.7 2-1.6 2.9-1.8 1.9-1 2.9-1.1 2-.4 2.9-.2 2.9 .2 2 .4 2.9 1.1 2 1 2.9 1.8 1.9 1.6 3 2.7 1.9 2.1 2 2.4 1.9 2.7 2 3.2 1.7 3.3 1.3 2.9 1.6 3.9 2.2 6.8 .9 3.8 1 4.5 1.5 9.3 1 9.7 .5 9.8 0 6.8-.3 7.8-.6 7.8-1.7 18.5-.4 5.8-.1 4.9 44 0 0-146.1-311.8 0 0 146.1z"/>
<path fill="#69ff96" d="M84.5 183.8l42.9 0 0-4.9-.3-5.8-1.4-18.5-.5-8.8-.3-8.8 .1-7.7 .6-10.8 1.1-10.7 1.6-9.7 1.8-7.8 2.1-7.1 1.4-3.6 1.6-3.6 1.9-3.9 2-3.3 1.9-3 2-2.7 1.9-2.4 2.9-3.2 2.9-2.7 3-2.2 2.9-1.7 1.9-.9 2-.5 1.9-.1 2 .1 1.9 .5 2 .9 2.9 1.7 2.9 2.2 3 2.7 2.9 3.2 1.9 2.4 2 2.7 1.9 3 2 3.3 1.9 3.9 1.6 3.6 1.3 3.6 2.2 7.1 1.8 7.8 1.6 9.7 1.1 10.7 .5 10.8 .1 7.7-.2 8.8-.5 8.8-1.4 18.5-.3 5.8-.1 4.9 85.9 0-.1-4.9-.2-5.8-1.4-18.5-.5-8.8-.3-8.8 .1-7.7 .6-10.8 1.1-10.7 1.6-9.7 1.7-7.8 2.2-7.1 1.4-3.6 1.5-3.6 2-3.9 1.9-3.3 2-3 1.9-2.7 2-2.4 2.9-3.2 2.9-2.7 3-2.2 2.9-1.7 1.9-.9 2-.5 1.9-.1 2 .1 1.9 .5 2 .9 2.9 1.7 2.9 2.2 2.9 2.7 3 3.2 1.9 2.4 2 2.7 1.9 3 2 3.3 1.9 3.9 1.5 3.6 1.4 3.6 2.2 7.1 1.8 7.8 1.5 9.7 1.1 10.7 .6 10.8 .1 7.7-.2 8.8-.5 8.8-1.4 18.5-.3 5.8-.1 4.9 43 0 0-146.1-311.8 0 0 146.1z"/>
<path fill="#70ff8f" d="M84.5 183.8l41.9 0-.2-10.7-1.4-26.3-.2-13.6 .2-8.8 .5-9.8 .8-8.7 1.1-8.8 1.1-6.6 1.1-5.1 1.6-5.8 1.5-4.9 2.3-5.8 2.3-5.3 7.4-14.2 1.8-3.9 1.2-3.9 .4-2 .1-1.9-63.5 0 0 146.1zM198.4 183.8l83.9 0-.2-10.7-1.4-26.3-.2-13.6 .2-8.8 .5-9.8 .8-8.7 1.1-8.8 1.1-6.6 1.1-5.1 1.6-5.8 1.5-4.9 2.2-5.8 2.4-5.3 7.4-14.2 1.8-3.9 1.2-3.9 .3-2 .2-1.9-127 0 .1 1.9 .4 2 1.2 3.9 1.8 3.9 7.4 14.2 2.3 5.3 2.2 5.8 1.6 4.9 1.5 5.8 1.1 5.1 1.2 6.6 1.1 8.8 .7 8.7 .6 9.8 .2 8.8-.2 13.6-1.4 26.3-.3 10.7zM354.3 183.8l42 0 0-146.1-63.5 0 .1 1.9 .3 2 1.3 3.9 1.7 3.9 7.5 14.2 2.3 5.3 2.2 5.8 1.6 4.9 1.5 5.8 1.1 5.1 1.1 6.6 1.2 8.8 .7 8.7 .6 9.8 .2 8.8-.2 13.6-1.4 26.3-.3 10.7z"/>
<path fill="#76ff89" d="M84.5 183.8l40.9 0-.1-10.7-.9-25.3-.2-12.7 .1-8.8 .3-8.7 .4-8.8 .6-7.8 1.3-11.7 .8-5.8 .9-4.9 1.3-5.9 1.4-5.4 4.1-14 1.3-4.9 .6-2.9 .5-3 .3-4.8-53.6 0 0 146.1zM199.4 183.8l81.9 0-.1-10.7-.9-25.3-.2-12.7 .1-8.8 .3-8.7 .4-8.8 .6-7.8 1.2-11.7 .9-5.8 .9-4.9 1.3-5.9 1.3-5.4 4.2-14 1.3-4.9 .6-2.9 .5-3 .3-4.8-107.2 0 .3 4.8 .4 3 .7 2.9 1.3 4.9 4.1 14 1.4 5.4 1.3 5.9 .8 4.9 .9 5.8 1.3 11.7 .5 7.8 .5 8.8 .3 8.7 .1 8.8-.2 12.7-.9 25.3-.2 10.7zM355.3 183.8l41 0 0-146.1-53.7 0 .4 4.8 .4 3 .7 2.9 1.3 4.9 4.1 14 1.4 5.4 1.2 5.9 .9 4.9 .9 5.8 1.3 11.7 .5 7.8 .5 8.8 .3 8.7 .1 8.8-.2 12.7-.9 25.3-.2 10.7z"/>
<path fill="#7cff83" d="M84.5 183.8l40 0-.7-48.7 .2-16.6 .5-16.5 .6-11.7 .8-10.7 1.2-10.7 2.7-20.5 .5-5.9 .2-4.8-46 0 0 146.1zM200.4 183.8l79.9 0-.6-48.7 .2-16.6 .5-16.5 .6-11.7 .8-10.7 1.2-10.7 2.7-20.5 .5-5.9 .1-4.8-91.9 0 .2 4.8 .4 5.9 2.8 20.5 1.1 10.7 .9 10.7 .6 11.7 .5 16.5 .1 16.6-.6 48.7zM356.3 183.8l40 0 0-146.1-46 0 .1 4.8 .5 5.9 2.7 20.5 1.2 10.7 .9 10.7 .6 11.7 .5 16.5 .1 16.6-.6 48.7z"/>
<path fill="#83ff7c" d="M84.5 183.8l39 0 0-146.1-39 0 0 146.1zM201.4 183.8l77.9 0 .1-146.1-78 0 0 146.1zM357.3 183.8l39 0 0-146.1-39 0 0 146.1z"/>
<path fill="#89ff76" d="M84.5 183.8l38 0 .6-48.7-.2-16.6-.5-16.5-.6-11.7-.8-10.7-1.2-10.7-2.7-20.5-.5-5.9-.1-4.8-32 0 0 146.1zM202.4 183.8l76 0 .6-48.7-.2-16.6-.5-16.5-.6-11.7-.8-10.7-1.2-10.7-2.7-20.5-.5-5.9-.1-4.8-64 0-.1 4.8-.5 5.9-2.7 20.5-1.2 10.7-.9 10.7-.6 11.7-.5 16.5-.1 16.6 .6 48.7zM358.3 183.8l38 0 0-146.1-32 0-.2 4.8-.4 5.9-2.8 20.5-1.1 10.7-.9 10.7-.6 11.7-.5 16.5-.1 16.6 .6 48.7z"/>
<path fill="#8fff70" d="M84.5 183.8l37 0 .2-10.7 .9-25.3 .1-12.7-.1-8.8-.2-8.7-.5-8.8-.6-7.8-1.2-11.7-.9-5.8-.9-4.9-1.2-5.9-1.4-5.4-4.2-14-1.3-4.9-.6-2.9-.5-3-.3-4.8-24.3 0 0 146.1zM203.4 183.8l74 0 .1-10.7 .9-25.3 .2-12.7-.1-8.8-.3-8.7-.4-8.8-.6-7.8-1.2-11.7-.9-5.8-.9-4.9-1.3-5.9-1.3-5.4-4.2-14-1.3-4.9-.6-2.9-.5-3-.3-4.8-48.6 0-.4 4.8-.4 3-.7 2.9-1.3 4.9-4.1 14-1.4 5.4-1.2 5.9-.9 4.9-.9 5.8-1.3 11.7-.5 7.8-.5 8.8-.3 8.7-.1 8.8 .2 12.7 .9 25.3 .2 10.7zM359.3 183.8l37 0 0-146.1-24.4 0-.3 4.8-.4 3-.7 2.9-1.3 4.9-4.1 14-1.4 5.4-1.3 5.9-.8 4.9-.9 5.8-1.3 11.7-.5 7.8-.5 8.8-.3 8.7-.1 8.8 .2 12.7 .9 25.3 .2 10.7z"/>
<path fill="#96ff69" d="M84.5 183.8l36 0 .3-10.7 1.3-26.3 .3-13.6-.3-8.8-.5-9.8-.8-8.7-1.1-8.8-1.1-6.6-1.1-5.1-1.5-5.8-1.6-4.9-2.2-5.8-2.4-5.3-7.4-14.2-1.7-3.9-1.3-3.9-.3-2-.1-1.9-14.5 0 0 146.1zM204.4 183.8l72 0 .2-10.7 1.4-26.3 .2-13.6-.2-8.8-.5-9.8-.8-8.7-1.1-8.8-1.1-6.6-1.1-5.1-1.6-5.8-1.5-4.9-2.2-5.8-2.4-5.3-7.4-14.2-1.8-3.9-1.2-3.9-.3-2-.2-1.9-28.9 0-.1 1.9-.3 2-1.3 3.9-1.7 3.9-7.5 14.2-2.3 5.3-2.2 5.8-1.6 4.9-1.3 4.8-1.1 4.9-.9 4.9-.9 5.8-.7 5.9-.6 6.8-.4 6.8-.5 11.7 .1 10.7 .4 10.7 1.2 21.5 .2 9.7zM360.3 183.8l36 0 0-146.1-14.5 0-.1 1.9-.4 2-1.2 3.9-1.8 3.9-6.4 12.2-2.9 6.3-1.6 3.9-1.3 3.8-1.3 4-1.3 4.8-1.8 8.8-1.5 10.1-1 11.3-.7 11.7-.1 8.8 .1 8.8 .4 9.7 1.1 19.5 .3 10.7z"/>
<path fill="#9cff63" d="M84.5 183.8l35 0 .1-4.9 .3-5.8 1.8-25.3 .2-6.9 .1-5.8-.2-7.8-.5-8.8-.8-8-1-7.6-1.2-6.8-1.6-6.6-2-6.3-1.9-5-3-6.1-2.9-4.9-1.9-2.8-2-2.5-3.9-4.4-3.9-3.5-1.9-1.4-2-1.2-1.9-1-2-.7-1-.2-1.9-.1 0 134.4zM205.4 183.8l70 0 .1-4.9 .2-5.8 1.4-18.5 .5-8.8 .3-7.8-.1-6.8-.5-10.7-.9-10-1.3-9.5-1.6-7.7-1-3.8-1.2-4.1-1.3-3.9-1.4-3.3-2.9-6.1-1.9-3.3-2-3-1.9-2.7-3-3.5-1.9-2.1-2.9-2.7-3-2.2-1.9-1.2-1.9-1-2-.7-1.9-.3-2 0-1.9 .3-3 1.2-1.9 1-2.9 2.1-3 2.6-2.9 3-2.9 3.5-2 2.7-1.9 3-2 3.3-1.9 3.9-1.5 3.6-1.4 3.6-1.7 5.1-1 3.9-1.1 4.9-1.5 8.8-1.2 10.7-.7 11.7-.1 7.8 .2 8.7 .5 8.8 1.4 19.5 .3 5.8 .1 4.9zM361.3 183.8l35 0 0-134.4-2 .1-1.9 .5-2 .9-2.9 1.7-2.9 2.2-3 2.7-2.9 3.2-1.9 2.4-2 2.7-1.9 3-2 3.3-1.9 3.9-1.6 3.6-1.3 3.6-2.2 7.1-1.8 7.8-1.6 9.7-1.1 10.7-.5 10.8-.1 7.7 .2 8.8 .5 8.8 1.4 18.5 .3 5.8 .1 4.9z"/>
<path fill="#a3ff5c" d="M84.5 183.8l34 0 .1-4.9 .3-5.8 1.7-17.5 .6-7.8 .3-6.9 .1-5.8-.2-7.8-.5-7.8-.9-7.8-1.1-6.8-1.5-6.8-1.6-5.9-2.1-5.8-1.9-4.5-2.9-5.3-3-4.3-2.9-3.5-1.9-2-2-1.7-2.9-2.2-2-1.2-1.9-1-2-.8-1.9-.5-2-.3-1.9-.1 0 124.8zM206.4 183.8l68 0 .1-4.9 .3-5.8 1.8-18.5 .5-7.8 .3-6.8 .1-5.9-.3-8.7-.8-9.1-1.1-8.5-1.5-7.8-1-3.9-1.2-4.3-2.4-6.4-1.5-3.5-1.3-2.3-1.7-3-1.9-3-2-2.6-1.9-2.2-2-2-1.9-1.7-2-1.6-2.9-1.8-1.9-1-2-.8-1.9-.5-2.9-.4-2 0-2.9 .4-2.9 .9-3 1.4-2.9 1.8-1.9 1.6-3 2.7-1.9 2.1-2.9 3.7-2 3-1.9 3.4-2 4.1-1.7 4.2-1.2 3.5-1.2 4.3-1 3.9-1.7 8.9-.8 5.7-.5 4.9-.4 5.9-.3 4.8 0 7.8 .3 7.8 .6 8.8 1.7 18.5 .4 5.8 .1 4.9zM362.3 183.8l34 0 0-124.8-3 .2-1.9 .4-2.9 1.1-2 1-2.9 1.8-2 1.6-2.9 2.7-1.9 2.1-2 2.4-1.9 2.7-2 3.2-1.7 3.3-1.4 2.9-1.5 3.9-2.2 6.8-1 3.8-.9 4.5-1.6 9.3-1 9.7-.4 9.8 0 6.8 .3 7.8 .6 7.8 1.7 18.5 .4 5.8 .1 4.9z"/>
<path fill="#a9ff56" d="M84.5 183.8l33 0 .1-4.9 .4-5.8 2-17.5 .7-7.8 .5-6.9 .1-5.8-.2-6.8-.6-7-.9-7.7-1.2-6.8-1.4-5.8-1.7-5.8-2.3-5.9-2.2-4.5-2.9-4.9-2.5-3.3-3.4-3.6-2.9-2.5-2.9-2-2-1.1-1.9-.9-2-.7-1.9-.4-2-.3-1.9-.1 0 118.8zM207.4 183.8l66 0 .1-4.9 .4-5.8 2-17.5 .7-7.8 .4-5.9 .1-5.8-.1-7.8-.7-7.8-1-7.8-1.5-7.8-.9-3.9-1.1-3.9-2.2-6.1-1.2-2.7-1.7-3.5-2.9-4.9-2-2.6-1.9-2.3-2-2-1.9-1.8-2-1.5-1.9-1.2-2-1.1-2.9-1.2-2.9-.8-2-.3-2.9-.1-2.9 .4-2.9 .8-3 1.2-1.9 1.1-2.9 2-3 2.5-1.9 2-2 2.3-2.3 3.2-1.8 3-2 3.9-1.6 3.6-1.6 4.2-1.4 4.5-.9 3.8-1 4.5-.9 4.7-1.2 9.7-.3 4.9-.2 4.9 0 6.8 .4 7.8 .7 7.8 2.1 18.5 .4 5.8 .1 4.9zM363.3 183.8l33 0 0-118.8-3 .2-1.9 .4-2.9 .9-2 .9-1.9 1.1-3 2-2.9 2.5-1.9 2-2 2.3-1.9 2.6-2 3.1-1.3 2.4-1.6 3.3-1.4 3.5-1.5 4.2-1 3.3-1 3.8-.9 4.5-1.4 8.6-.9 8.8-.4 8.7 .1 5.9 .3 6.8 .7 7.8 2.1 18.5 .5 5.8 .1 4.9z"/>
<path fill="#afff50" d="M84.5 183.8l32 0 .1-4.9 .5-5.8 2.3-17.5 .9-7.8 .5-6.9 .1-5.8-.2-5.8-.5-6.9-.9-6.8-1.1-5.8-1.5-6.3-1.8-5.4-2.1-5.4-2-4-2.9-4.7-2.9-3.8-3-3-2.9-2.4-1.9-1.4-2-1.1-2.9-1.3-2-.6-1.9-.5-2-.2-1.9-.1 0 114.2zM208.4 183.8l63.9 0 .1-3.9 .4-4.9 .5-4.8 2.6-19.5 .6-6.8 .3-5.9-.1-6.8-.4-6.8-1-7.8-1.2-6.8-1-3.9-1-3.9-1.3-3.9-1.1-2.9-1.1-2.5-1.6-3.4-1.3-2.3-1.6-2.6-3.3-4.2-1.9-2.1-2-1.8-1.9-1.5-2-1.4-1.9-1.1-2.9-1.3-2.9-.9-3-.4-2.9-.1-1.9 .2-3 .6-2.9 1-1.9 .9-3 1.8-2.9 2.2-1.9 1.8-3 3.3-1.9 2.6-2 3-1.9 3.6-1.6 3.6-1.5 3.9-1.3 3.9-1.1 3.9-.9 3.9-.9 4.8-.8 4.9-.5 4.9-.5 8.8 .1 6.8 .4 6.8 .8 7.6 2.5 18.7 .5 5.8 .1 4.9zM364.3 183.8l32 0 0-114.2-2 .1-2.9 .4-2.9 .9-2 .8-2.9 1.6-2 1.4-2.9 2.4-1.9 1.9-2 2.3-1.9 2.6-2 3-1.2 2.3-1.7 3.4-1.4 3.4-1.5 4.2-1 3.2-1 3.8-.9 4.4-1.3 7.8-.8 8.8-.2 7.8 .1 5.8 .5 5.9 .8 7.8 2.4 17.5 .5 5.8 .1 4.9z"/>
<path fill="#b6ff49" d="M84.5 183.8l30.9 0 .2-4.9 .6-5.8 2.6-17.5 1-7.8 .6-6.9 .1-5.8-.1-5.8-.6-5.9-1-6.8-1.2-5.9-1.5-5.8-1.7-4.9-2.1-4.8-2.5-4.8-2.9-4.3-2.9-3.4-2.9-2.8-3-2.2-2.9-1.7-1.9-.9-2-.7-1.9-.5-2-.3-2.9-.2 0 110.4zM209.5 183.8l61.8 0 .2-4.9 .4-4.8 3.4-22.4 .7-6.9 .4-5.8 0-5.8-.4-6.9-.8-6.8-1.2-6.8-1.8-6.8-1.2-3.9-1.1-2.9-1.3-3.1-1.3-2.8-1.6-2.8-1.3-2.1-1.6-2.2-2-2.4-1.9-2-2-1.8-1.9-1.5-2-1.3-1.9-1.1-2.9-1.2-2.9-.9-3-.4-2.9-.1-2.9 .3-2.9 .7-3 1.1-2.9 1.6-1.9 1.3-3 2.4-1.9 1.9-2 2.2-1.9 2.5-2 3-1.9 3.6-1.4 3.1-1.6 3.9-1.3 3.9-1.1 3.9-1.7 7.8-.7 4.7-.5 4.1-.3 4.8-.2 3.9 .2 6.8 .5 6.9 1 7.8 2.7 17.5 .6 5.8 .2 4.9zM365.3 183.8l31 0 0-110.4-3 .2-2.9 .5-2.9 1-2 .9-1.9 1.1-2.9 2-2 1.7-1.9 1.9-2 2.2-1.9 2.5-2 3-1.5 2.8-1.4 2.8-1.6 4-1.3 3.6-1 3.3-1.6 6.8-1.3 7.8-.8 7.8-.2 7.7 .3 5.9 .5 5.8 .9 6.9 2.7 17.5 .6 5.8 .1 4.9z"/>
<path fill="#bcff43" d="M84.5 183.8l29.9 0 .2-4.9 .6-5.8 3.1-17.5 1.1-7.8 .6-6.9 .2-5.8-.2-4.9-.5-5.8-.9-6-1.2-5.7-1.7-6.1-1.7-4.6-2.2-5-2-3.6-2.9-4.3-2.9-3.4-2.9-2.7-3-2.2-2.9-1.6-1.9-.9-2-.7-2.9-.7-2-.2-1.9-.1 0 107.2zM210.5 183.8l59.8 0 .1-4.9 .5-4.8 3.9-22.4 .7-5.9 .4-5.8 .1-5.9-.2-5.8-.7-5.9-1.2-6.8-1.7-6.8-1.2-3.9-1.1-2.9-1.3-3-1.4-2.9-1.5-2.7-1.4-2.1-1.5-2.2-2-2.3-1.9-2.1-2-1.7-1.9-1.5-2-1.3-1.9-1-2.9-1.3-2.9-.8-2-.3-2.9-.2-2.9 .2-3 .6-2.9 .9-1.9 .9-3 1.6-2.9 2.2-1.9 1.7-3 3.2-1.9 2.5-2 3-1.9 3.6-1.4 3-1.6 3.9-1.3 3.9-1.1 3.9-.9 3.9-.7 3.9-.7 4.9-.4 3.9-.2 3.9-.1 3.9 .2 5.8 .6 5.9 1.1 7.8 3.1 17.5 .6 5.8 .2 4.9zM366.4 183.8l29.9 0 0-107.2-3 .2-2.9 .6-2.9 .9-2 .9-2.9 1.6-1.9 1.4-2 1.6-1.9 1.9-2 2.2-1.9 2.5-2 3-1.5 2.7-1.4 2.9-1.6 3.9-1.3 3.7-1 3.2-1.6 6.8-1.2 7.8-.6 6.8-.1 6.8 .4 5.9 .8 6.8 1 6.8 2.1 11.7 .9 5.8 .5 4.9 .1 3.9z"/>
<path fill="#c2ff3d" d="M84.5 183.8l28.8 0 .2-4.9 .7-5.8 3.4-17.3 1.3-8 .7-6.9 .2-5.8-.2-4.9-.5-5.8-1-5.9-1.1-4.8-1.5-4.9-1.8-4.9-1.9-4.3-2.6-4.4-2.3-3.4-2.9-3.4-2.9-2.7-3-2.1-2.9-1.6-1.9-.9-2-.7-2.9-.6-2-.3-1.9-.1 0 104.4zM211.6 183.8l57.6 0 .2-4.9 .6-4.8 .8-4.9 3.3-16.6 .8-5.8 .5-4.9 .3-5.8-.2-5.9-.6-5.8-.9-5.9-1.7-6.8-1.2-3.9-1.1-2.9-2.3-5.3-1.4-2.5-1.8-2.9-1.7-2.4-2-2.3-1.9-2-2-1.8-1.9-1.4-2-1.3-1.9-1-2.9-1.2-2.9-.9-3-.4-2.9-.1-2.9 .4-2.9 .6-3 1.1-2.9 1.5-1.9 1.3-3 2.3-1.9 1.8-2 2.2-1.9 2.5-2 3-1.9 3.5-1.6 3.3-1.5 3.9-2.1 6.9-.9 3.9-.7 3.9-.6 3.9-.4 3.9-.2 3.9 0 3.8 .3 5.9 .7 5.8 1.2 7.1 3.3 17.3 .8 5.8 .2 4.9zM367.5 183.8l28.8 0 0-104.4-3 .2-2.9 .6-2.9 .9-2 .9-1.9 1-2.9 2-2 1.6-1.9 1.8-2 2.2-1.9 2.5-2 3-1.6 3-1.4 2.9-1.7 3.9-2.1 6.6-1.6 7-1 6.8-.5 6.9 0 5.8 .5 5.8 .9 6.9 1.1 5.8 2.3 11.7 1 5.8 .5 4.9 .2 3.9z"/>
<path fill="#c9ff36" d="M84.5 183.8l27.7 0 .3-4.9 .8-5.8 3.8-17.5 1.4-7.8 .7-6.9 .3-5.8-.2-4.9-.5-4.8-1-5.9-1.2-4.9-1.5-4.8-1.9-4.9-1.9-3.9-2.4-4.1-2-2.7-2.9-3.3-2.9-2.7-3-2.1-1.9-1.2-2-.9-2.9-1.1-3.9-.8-2.9-.2 0 101.9zM212.7 183.8l55.4 0 .2-4.9 .7-4.8 .9-4.9 3.6-16.4 1-5.8 .6-5.1 .2-5.8-.1-4.9-.4-4.9-1-5.8-1.6-6.8-1.3-3.9-1.1-3-1.2-2.8-1.5-3-1.4-2.5-1.5-2.4-1.4-1.9-2-2.3-1.9-2-2-1.7-1.9-1.5-2-1.2-2.9-1.5-1.9-.7-2.9-.8-3-.5-2.9 0-2.9 .3-2.9 .6-3 1.1-1.9 .9-2.9 1.8-3 2.3-1.9 1.9-2 2.1-2.3 3.1-1.6 2.4-1.9 3.5-1.9 4.2-1.4 3.6-.9 2.9-1.1 3.9-.9 3.9-.6 3.7-.4 3.1-.4 3.9 0 6.8 .4 5.9 1 6.8 1.3 6.9 2.8 12.6 .9 4.8 .6 4.9 .2 3.9zM368.5 183.8l27.8 0 0-101.9-3 .2-1.9 .4-2 .4-2.9 1.1-1.9 .9-3 1.8-2.9 2.3-1.9 1.9-2 2.1-1.9 2.5-2 3-1.4 2.5-1.5 3-1.6 3.8-1.3 3.8-1 3.3-1.5 6.6-.8 5.8-.5 5.9 .1 6.8 .6 5.8 .9 5.9 1.2 5.9 2.6 11.6 1 4.9 .6 4.8 .2 4.9z"/>
<path fill="#cfff30" d="M84.5 183.8l26.6 0 .3-4.9 .7-4.8 1-4.9 3.6-14.3 1.3-7.1 .9-6.9 .2-5.8-.2-4.9-.6-4.8-.9-4.9-1.2-4.9-1.5-4.7-1.9-4.7-2-3.9-1.9-3.2-2-2.7-2.9-3.3-2.9-2.7-3-2.1-2.9-1.6-1.9-.8-2-.7-2.9-.7-3.9-.3 0 99.6zM213.8 183.8l53.2 0 .2-4.9 .8-4.8 1-4.9 3.8-15.6 1.1-5.8 .7-4.9 .3-4.9 0-4.8-.3-4.9-.9-5.9-1.6-6.8-1.2-3.9-1.1-2.9-1.2-2.6-1.6-3.3-1.3-2.2-1.7-2.6-3.2-4-1.9-2-2-1.7-1.9-1.4-2-1.3-1.9-1-2.9-1.2-2.9-.8-3-.4-2.9-.1-2.9 .3-2.9 .7-3 1.1-2.9 1.4-1.9 1.3-3 2.2-1.9 1.9-2 2.1-1.9 2.5-2 3-1.9 3.5-1.7 3.6-1.5 3.9-1 2.9-1 3.9-1.4 6.9-.4 3.9-.2 2.9-.1 2.9 .1 3.9 .5 5.8 1.2 6.9 1.2 5.8 3.2 12.7 1 4.8 .6 4.9 .2 3.9zM369.7 183.8l26.6 0 0-99.6-3 .2-2.9 .5-2.9 1-2 .8-1.9 1-2.9 2-2 1.5-1.9 1.9-2 2.1-1.9 2.5-2 3-1.8 3.2-1.4 2.9-1.6 3.9-2 6.5-1.4 6.2-.8 5.9-.2 5.8 .2 5.8 .7 5.9 1 5.8 1.5 6.4 2.5 10.2 1.1 4.9 .7 4.8 .3 4.9z"/>
<path fill="#d6ff29" d="M84.5 183.8l25.5 0 .3-4.9 .8-4.8 1.1-4.9 3.7-13.6 1.7-7.8 .9-6.9 .2-5.8-.2-4.9-.6-4.8-1-4.9-1.2-4.7-1.8-5.1-1.8-3.9-2.3-4.2-1.9-2.9-2-2.5-2.9-3.1-2.9-2.4-2.9-1.9-3-1.5-2.9-1-2.9-.7-3.9-.3 0 97.5zM214.9 183.8l50.9 0 .3-4.9 .8-4.8 1.2-4.9 4.1-15.6 1.1-4.9 .8-4.8 .4-4.9 .1-4.9-.3-4.8-.8-5.6-.7-3.2-1-3.9-2.2-6.2-1.6-3.6-1.3-2.5-2.9-4.6-3-3.6-1.9-2-2-1.7-1.9-1.4-2-1.2-1.9-1-2.9-1.2-2.9-.8-3-.4-2.9-.1-2.9 .3-2.9 .7-3 1-2.9 1.5-1.9 1.2-3 2.3-1.9 1.8-2 2.1-1.9 2.5-2 2.9-1.9 3.5-1.7 3.7-1.5 3.9-.9 2.9-1.1 3.9-.6 3.2-.6 3.6-.3 2.9-.3 3.9 .2 5.9 .7 5.8 1.2 6.6 1.5 6.1 3.2 11.7 1.1 4.8 .7 4.9 .2 3.9zM370.8 183.8l25.5 0 0-97.5-3 .2-2.9 .5-2.9 .9-2 .9-1.9 1-2.9 1.9-2 1.6-1.9 1.8-2 2.1-1.9 2.5-2 2.9-1.9 3.5-1.7 3.7-1.2 2.9-1 3.1-1 3.5-1.1 5.1-.8 5.8-.2 5.9 .4 5.8 .6 4.9 1.2 5.8 1.4 5.9 3 10.7 1.1 4.9 .8 4.8 .3 4.9z"/>
<path fill="#dcff23" d="M84.5 183.8l24.3 0 .3-4.9 .9-4.8 1.3-4.9 4-13.6 1.8-7.8 1-6.9 .3-5.8-.2-3.9-.5-4.9-1-4.8-1.1-3.9-1.7-4.9-1.7-3.9-2.4-4.3-1.9-2.9-2-2.5-2.9-3.1-2.9-2.4-2.9-1.9-3-1.5-2.9-1-2.9-.7-3.9-.3 0 95.6zM216.1 183.8l48.6 0 .3-4.9 .9-4.8 1.2-4.9 4.5-15.1 1-4.4 .9-4.9 .6-4.8 .2-4.9-.3-4.9-.6-4.8-.8-3.9-.8-3-.9-2.9-1.3-3.3-1.5-3.5-1.4-2.6-2.9-4.6-3-3.6-1.9-2-2-1.7-1.9-1.4-2-1.2-1.9-1-2.9-1.2-2.9-.8-3-.4-2.9-.1-2.9 .3-2.9 .7-3 1-2.9 1.5-1.9 1.2-3 2.2-1.9 1.9-2 2.1-2.2 2.9-1.7 2.5-1.9 3.5-1.7 3.7-1.5 3.9-1.7 5.9-.8 3.9-.5 2.9-.4 5.8 0 2.9 .3 3.9 .8 5.9 1.2 5.8 1.4 5.1 3.7 12.5 1.2 4.8 .8 4.9 .2 3.9zM372 183.8l24.3 0 0-95.6-3 .2-2.9 .5-2.9 .9-2 .9-1.9 1-2.9 1.9-2 1.5-1.9 1.9-2 2.1-1.9 2.5-2 2.9-1.3 2.3-1.6 3.2-1.5 3.7-1 2.9-1.2 3.9-1.2 5.8-.6 5.9-.1 4.8 .5 5.9 .9 5.8 1.3 5.4 4.4 15.1 1.3 4.9 .8 4.8 .4 4.9z"/>
<path fill="#e2ff1d" d="M84.5 183.8l23.1 0 0-1.9 .3-3 1-4.8 1.4-4.9 4.4-13.7 2-7.6 .7-4 .3-3 .3-5.8-.1-3.9-.5-3.9-.7-4-1.3-4.8-1.4-3.9-1.7-3.9-2.1-3.9-2.3-3.5-2-2.5-2.9-3.1-2.9-2.4-2.9-1.9-3-1.4-2.9-1.1-3.9-.7-2.9-.2 0 93.8zM217.3 183.8l46.2 0 0-1.9 .3-3 1-4.8 1.4-4.9 4.7-14.6 1.2-4.9 1-4.9 .6-4.8 .2-4.9-.1-3.9-.7-4.9-1.3-5.8-.9-2.9-1.3-3.6-1.4-3.3-1.5-2.8-2.9-4.6-3-3.6-1.9-2-2-1.6-1.9-1.5-2-1.2-1.9-1-2.9-1.1-2.9-.8-3-.4-2.9-.1-2.9 .3-2.9 .6-3 1.1-2.9 1.4-1.9 1.2-3 2.3-1.9 1.8-2 2.1-2.4 3.1-1.5 2.3-1.9 3.6-1.9 4.2-1.4 3.6-.9 2.9-.9 3.9-.9 5.8-.2 3-.1 2.9 .4 5.8 1 5.9 1.4 5.8 1.6 5.1 3.7 11.5 1.3 4.8 .9 4.9 .2 3.9zM373.2 183.8l23.1 0 0-93.8-3 .2-2.9 .5-2.9 .9-2 .8-2.9 1.6-1.9 1.3-2 1.6-1.9 1.8-2 2.1-1.9 2.5-2 2.9-1.4 2.6-1.5 2.9-1.6 3.9-1 2.9-1.1 3.9-1.1 5.9-.4 4.9 0 4.8 .6 5.9 .9 4.8 1.5 5.9 4.7 14.6 1.3 4.9 1 4.8 .3 3 .1 1.9z"/>
<path fill="#e9ff16" d="M84.5 183.8l21.8 0 .1-1.9 .3-3 1.1-4.8 1.5-4.9 4.4-12.5 1.3-4.1 1-3.9 .8-3.9 .5-2.9 .3-3.9 .1-2.9-.2-3.9-.7-4.9-.8-3.9-1.3-4.2-1.4-3.6-1.8-3.9-2.3-3.9-2.3-3.2-1.9-2.3-3-2.8-2.9-2.2-2.9-1.8-2.9-1.3-3-.9-2.9-.5-2.9-.2 0 92.2zM218.6 183.8l43.6 0 .1-1.9 .3-3 1.1-4.8 1.5-4.9 4.8-13.6 1.4-4.9 1.1-4.9 .8-4.9 .2-3.9 0-3.8-.5-4.9-.5-2.9-.6-3-.9-2.9-1-2.9-2.3-5.3-1.4-2.5-1.8-2.9-1.7-2.3-2-2.3-1.9-1.9-2-1.7-1.9-1.4-2-1.2-2.9-1.5-1.9-.7-2.9-.8-3-.4-2.9-.1-2.9 .3-2.9 .7-3 1-1.9 .9-2.9 1.8-3 2.2-1.9 1.8-2.9 3.3-2 2.7-1.9 3.2-1.7 3.2-1.2 2.9-1.4 3.9-.9 2.9-.7 3-.5 2.9-.3 2.9-.2 4.9 .1 2.9 .3 2.9 1.1 5.9 1.5 5.8 1.9 6 3.8 10.6 1.5 4.8 .9 4.9 .3 3.9zM374.4 183.8l21.9 0 0-92.2-3 .2-1.9 .3-2.9 .8-2 .7-1.9 .9-3 1.8-2.9 2.2-1.9 1.8-2 2.1-1.9 2.5-2 2.9-1.6 2.9-1.3 2.6-1.3 3.3-1.1 2.9-1.1 3.9-.9 4.9-.5 4.9 0 4.8 .7 5.9 1 4.8 1.6 5.9 1.6 5 3.8 10.6 1.4 4.8 1 4.9 .2 3.9z"/>
<path fill="#efff10" d="M84.5 183.8l20.5 0 .1-1.9 .3-3 1.2-4.8 1.7-4.9 4.8-12.7 1.3-3.9 1.1-3.9 .9-3.9 .5-2.9 .4-3.9 0-2.9-.1-3.9-.6-3.9-.8-3.9-1.2-3.9-1.5-3.9-1.9-3.9-2.3-3.9-2-2.7-1.9-2.3-3-2.8-2.9-2.2-2.9-1.7-2.9-1.3-3-.9-2.9-.6-2.9-.1 0 90.6zM219.9 183.8l41 0 .1-1.9 .3-3 1.2-4.8 1.7-4.9 3.5-8.9 1.7-4.7 1.5-4.9 1-3.9 .9-4.9 .3-3.9 .1-4.8-.4-3.9-.5-3-.7-3.2-1-3.3-1-2.6-1.5-3.5-1.4-2.7-2.9-4.6-3-3.6-1.9-1.9-2-1.7-1.9-1.4-2-1.2-1.9-1-2.9-1.2-2.9-.7-3-.4-2.9-.1-2.9 .3-2.9 .6-3 1.1-2.9 1.4-1.9 1.2-3 2.2-1.9 1.8-2 2.1-2.2 2.9-1.7 2.5-1.9 3.5-1.7 3.8-1.4 3.9-.9 2.9-.7 2.9-.4 3-.4 2.9 0 4.8 .2 3 .3 2.9 1.1 5.2 1.9 6.5 2 5.7 3.8 9.9 1.6 4.8 .8 3 .3 1.9 .3 3.9zM375.7 183.8l20.6 0 0-90.6-3 .1-2.9 .6-2.9 .9-2 .8-1.9 1-2.9 1.9-2 1.5-1.9 1.8-2 2.1-1.9 2.5-2 2.9-1.9 3.4-1.3 2.9-1.2 2.9-1 3-1 3.9-.8 4.8-.3 4.9 .2 4.9 .8 4.8 1.1 4.9 1.5 5.1 2 5.5 3.8 9.9 1.6 4.8 .7 3 .4 1.9 .2 3.9z"/>
<path fill="#f5ff0a" d="M84.5 183.8l19.1 0 .1-1.9 .4-3 .5-1.9 .8-2.9 1.9-4.9 5.2-12.7 1.2-3.4 1.3-4.4 1-3.9 .5-2.9 .4-3.9 .1-2.9-.1-2.9-.5-3.9-.8-3.9-1.2-3.9-1.6-4.2-1.8-3.6-2.1-3.5-2-2.7-1.9-2.2-3-2.9-2.9-2.2-2.9-1.7-2.9-1.3-3-.9-2.9-.5-2.9-.2 0 89.2zM221.3 183.8l38.2 0 .1-1.9 .4-3 .4-1.9 .9-2.9 1.9-4.9 4.8-11.7 1.6-4.4 1-3.1 1.3-5.2 .6-3.9 .3-3.9 0-3.8-.4-3.9-.8-4.5-1.3-4.3-1.5-3.9-2.1-4.2-2-3.2-1.9-2.7-2.9-3.3-3-2.6-2.9-2-1.9-1.1-2-.9-2.9-1-2.9-.7-2.9-.3-3 .1-2.9 .4-2.9 .8-2.9 1.1-3 1.6-1.9 1.3-2.9 2.4-2 2-1.9 2.2-2 2.7-1.9 3.2-1.7 3.2-1.2 3-1.4 3.8-.7 3-.6 2.9-.6 4.9 .1 4.8 .2 2.9 .5 3 1.1 4.8 1.9 5.9 2.4 6.2 4.3 10.3 1.4 3.9 .8 3 .3 1.9 .4 3.9zM377.1 183.8l19.2 0 0-89.2-3 .2-1.9 .3-2 .5-2.9 1-1.9 .9-3 1.7-2.9 2.2-1.9 1.8-2 2.1-1.9 2.5-2 2.9-1.6 3-1.3 2.6-1.3 3.2-1 2.9-1 3.9-.7 4.9-.2 4.9 .3 4.8 .9 4.9 1.3 4.9 1.7 5.2 2 4.9 4.3 10.3 1.3 3.9 .8 3 .4 1.9 .3 3.9z"/>
<path fill="#fcff03" d="M84.5 183.8l17.7 0 0-1.9 .3-2 .4-1.9 .9-3 1.5-3.9 6.5-14.4 1.5-4.1 1.3-3.9 1-3.9 .5-2.9 .5-3.9 .1-2.9-.3-3.9-.4-2.9-.9-3.9-1.2-3.9-1.2-2.9-1.9-3.9-1.9-3.2-2-2.6-1.9-2.3-3-2.8-2.9-2.2-2.9-1.7-2.9-1.3-3-.9-2.9-.5-2.9-.2 0 87.8zM222.7 183.8l35.3 0 .1-1.9 .3-2 .4-1.9 .9-3 1.5-3.9 6.5-14.4 1.5-4.1 1.4-4.3 .9-3.5 .7-3.9 .3-3.9 0-3.8-.4-3.9-.8-3.9-1.2-3.9-1.5-3.9-1.9-3.9-2-3.2-1.9-2.6-2.9-3.3-3-2.6-2.9-2-2.9-1.6-2-.8-1.9-.6-2.9-.7-2.9-.3-3 .1-2.9 .4-2.9 .7-2.9 1.2-2 1-2.9 1.9-2.9 2.4-2 1.9-1.9 2.3-2 2.6-1.9 3.2-1.9 3.9-1.2 2.9-1.3 3.9-1 4.9-.5 4.8 .2 4.9 .4 2.9 .5 2.9 1.3 4.9 2 5.9 2.4 5.7 4.5 9.8 1.6 3.9 .8 3 .5 1.9 .2 2 .1 1.9zM378.6 183.8l17.7 0 0-87.8-3 .2-2.9 .5-2.9 .9-2 .8-1.9 1-2.9 1.9-2 1.5-1.9 1.8-2 2.1-1.9 2.4-2 3-1.4 2.5-1.5 3.1-1.1 2.8-1.3 3.9-.7 2.9-.6 3.9-.2 4.9 .4 4.8 .9 4.9 1.4 4.9 1.7 4.9 2.4 5.7 4.5 9.8 1.5 3.9 .9 3 .5 1.9 .2 2 .1 1.9z"/>
<path fill="#fffc00" d="M84.5 183.8l16.1 0 .1-1.9 .3-2 .5-1.9 .9-3 1.7-3.9 6.7-13.7 1.6-3.8 1.4-3.9 1.1-3.9 .9-3.9 .4-3.9 .1-2.9-.1-2.9-.6-3.9-.9-3.9-1.3-3.9-1.6-3.6-2-3.6-1.9-2.9-2-2.4-1.9-2.1-2.9-2.6-2-1.4-2.9-1.7-2.9-1.3-3-.9-2.9-.5-2.9-.2 0 86.5zM224.3 183.8l32.2 0 .1-1.9 .3-2 .4-1.9 1-3 1.7-3.9 4.7-9.5 2.4-5.1 1.9-4.8 1.6-5 .9-3.8 .5-3.9 .2-3.9-.1-2.9-.6-3.9-.9-3.9-1.3-3.9-1.6-3.6-2-3.6-1.9-2.9-2-2.4-2.9-3.1-2.9-2.4-3-1.8-2.9-1.4-2.9-1.1-2.9-.6-2.9-.3-3 .1-2.9 .4-2.9 .7-2.9 1.2-3 1.5-1.9 1.3-2.9 2.4-2 2-1.9 2.2-2 2.7-1.9 3.2-1.8 3.5-1.2 3-1.2 3.9-1 4.8-.3 4.9 .2 4.9 .5 2.9 .7 2.9 1.4 4.9 2.3 5.8 2.3 5.1 4.7 9.5 1.7 3.9 1 3 .5 1.9 .3 2 .1 1.9zM380.2 183.8l16.1 0 0-86.5-3 .2-2.9 .5-1.9 .5-3 1.2-2.9 1.5-1.9 1.3-2 1.6-1.9 1.8-2 2.1-1.9 2.4-2 2.9-1.3 2.3-1.4 2.9-1.2 3-1.2 3.9-.7 2.9-.5 3.9-.1 4.8 .5 4.9 1.1 4.8 1.5 5 2 4.8 2.3 5.1 4.7 9.5 1.7 3.9 1 3 .5 1.9 .3 2 .1 1.9z"/>
<path fill="#fff500" d="M84.5 183.8l14.4 0 .1-1.9 .3-2 .6-1.9 .7-2 1.8-3.9 5.5-10.2 1.9-3.9 2-4.3 1.5-4 1.2-3.9 .9-3.9 .5-3.9 .1-2.9-.2-2.9-.5-3.9-1-3.9-1-2.9-1.5-3.4-2-3.6-1.9-2.9-2-2.4-1.9-2.1-2.9-2.6-2-1.4-2.9-1.7-2.9-1.3-3-.9-2.9-.5-2.9-.2 0 85.3zM226 183.8l28.7 0 .2-1.9 .3-2 .5-1.9 .8-2 1.8-3.9 5.5-10.2 2.9-6 2.5-6.2 1.4-4.9 .8-3.9 .4-3.9 0-2.9-.3-3.9-.6-2.9-1.1-3.9-1.2-3.2-1.9-4-2-3.2-1.9-2.7-2-2.2-2.9-2.8-2.9-2.2-2.9-1.7-3-1.3-2.9-.9-2.9-.5-2.9-.2-2.9 .2-3 .5-2.9 .9-2.9 1.3-2.9 1.7-2 1.4-2.9 2.6-2 2.1-1.9 2.4-2 2.9-1.6 3.1-1.4 2.9-1.1 2.9-1.1 3.9-.8 4.9-.1 1.9 0 2.9 .6 4.9 1.1 4.9 1.5 4.4 2.3 5.3 2.6 5.4 5.5 10.2 1.8 3.9 .7 2 .6 1.9 .3 2 .1 1.9zM381.9 183.8l14.4 0 0-85.3-3 .2-1.9 .3-2 .5-2.9 1-1.9 .9-3 1.7-2.9 2.2-1.9 1.8-2 2.1-1.9 2.4-2 2.9-1.7 3.1-1.2 2.6-1.2 3.2-.9 2.9-.6 3-.4 2.9-.1 1.9 .1 3.9 .7 4.9 1.2 4.9 1.8 4.8 2.3 5.4 2 3.9 5.5 10.2 1.8 3.9 .7 2 .5 1.9 .4 2 .1 1.9z"/>
<path fill="#ffef00" d="M84.5 183.8l12.4 0 .2-1.9 .4-2 .6-1.9 .8-2 2.1-3.9 4.9-8.3 2.4-4.3 2.5-5 1.6-3.8 1.4-3.9 1-3.9 .7-3.9 .2-3.9-.2-2.9-.4-2.9-.9-3.9-1.1-3-1.3-3.1-2-3.6-1.9-3-2-2.4-1.9-2.1-2.9-2.6-2-1.4-2.9-1.7-2.9-1.2-3-.9-2.9-.5-2.9-.2 0 84.1zM228 183.8l24.8 0 .3-2.9 .5-2 .8-1.9 1.9-3.9 6.5-11 3.4-6.5 1.5-3.3 1.3-3.6 1-2.9 .7-2.9 .6-3.9 .2-2.9-.1-3.9-.4-2.9-1-3.9-1-3-1.3-3.1-2-3.6-1.9-3-2-2.4-1.9-2.1-3-2.6-2.9-2-2.9-1.5-2.9-1.2-2.9-.7-3-.4-1.9-.1-2.9 .2-3 .5-2.9 .9-2.9 1.2-2.9 1.7-2 1.4-2.9 2.6-2 2.1-1.9 2.4-2 3-1.5 2.8-1.4 3-1.4 3.9-.7 2.9-.5 2.9-.2 2-.1 1.9 .1 2.9 .8 4.9 1.3 4.9 1.7 4.5 2.9 6.2 2.9 5.3 5 8.3 2 3.9 .9 2 .6 1.9 .4 2 .2 1.9zM383.8 183.8l12.5 0 0-84.1-3 .2-2.9 .5-2.9 .9-2 .8-2.9 1.5-1.9 1.3-2 1.5-1.9 1.8-2 2.1-1.9 2.4-2 3-1.6 2.8-1.3 2.9-1.1 3-.8 2.9-.6 2.9-.4 3.9 0 2 .2 2.9 .9 4.9 1.4 4.8 2 4.9 2.3 4.9 2.9 5.3 5 8.3 2 3.9 .8 2 .7 1.9 .4 2 .1 1.9z"/>
<path fill="#ffe900" d="M84.5 183.8l10.2 0 0-1 .4-1.9 .6-2 .9-1.9 2.2-3.9 5.2-7.8 2.9-4.8 2.9-5.3 2-4.2 1.6-4.2 1-3.9 .7-3.9 .2-3.9-.1-2.9-.5-2.9-.7-3-1.2-3.7-1.5-3.1-1.5-2.7-1.9-3-2-2.4-1.9-2.1-2.9-2.5-2-1.4-2.9-1.7-2.9-1.3-3-.9-2.9-.5-2.9-.2 0 83zM230.2 183.8l20.3 0 .1-1 .3-1.9 .7-2 .9-1.9 2.2-3.9 5.2-7.8 2.9-4.8 1.9-3.4 2-3.9 1.5-3.5 1-2.9 .9-2.9 .6-3 .5-3.9 0-2.9-.3-2.9-.5-2.9-1.1-3.9-1.2-2.9-1.4-3-1.7-2.9-2.2-3-2-2.3-1.9-1.9-2.9-2.4-2-1.3-2.9-1.5-2.9-1.1-2.9-.8-3-.4-1.9-.1-2.9 .2-3 .5-2.9 .9-2.9 1.3-2.9 1.7-2 1.4-2.9 2.5-2 2.1-1.9 2.4-2 3-1.5 2.7-1.4 3.1-1.2 3.7-.8 3-.4 2.9-.1 1.9 0 2 .2 2.9 .9 4.9 1.4 4.6 2 4.7 2.9 5.7 2.9 4.8 6.1 9.4 2.3 3.9 .9 1.9 .6 2 .4 1.9 0 1zM386.1 183.8l10.2 0 0-83-3 .2-2.9 .5-2.9 .9-2 .8-2.9 1.5-1.9 1.3-2 1.5-1.9 1.8-2 2.1-1.9 2.4-2 3-1.5 2.7-1.4 3.1-1 2.8-.8 2.9-.5 2.9-.3 3.9 .1 1.9 .3 3 1 4.8 1.7 4.9 2.1 4.9 2.3 4.3 2.9 4.8 6.1 9.4 2.3 3.9 .9 1.9 .6 2 .4 1.9 0 1z"/>
<path fill="#ffdf00" d="M84.5 183.8l7.3 0 0-1 .5-1.9 1.4-2.9 2-3 6.3-8.6 3-4.2 2.9-4.7 2.9-5.5 2-4.8 1.3-4.3 .7-3.9 .2-3.9-.2-2.9-.4-2.9-1.1-3.9-1.1-3-1.4-2.9-1.9-3.2-2-2.7-1.9-2.3-2-1.9-2.9-2.3-2.9-1.9-2-.9-1.9-.8-3-.9-2.9-.5-2.9-.2 0 81.9zM233.1 183.8l14.5 0 .1-1 .5-1.9 1.4-2.9 2-3 6.3-8.6 2.9-4.2 3-4.7 1.9-3.5 2-4.2 1.4-4 1.1-3.9 .5-2.9 .2-2.9-.1-2.9-.4-3-.8-3.5-1-2.9-1.4-3.3-1.5-2.7-1.9-2.9-2-2.5-1.9-2-2-1.8-2.9-2.2-2.9-1.7-3-1.2-2.9-.9-2.9-.5-2.9-.2-2.9 .2-3 .5-2.9 .9-2.9 1.2-2 1.1-1.9 1.3-2.9 2.3-2 1.9-1.9 2.3-2 2.7-1.9 3.2-1.8 3.9-1.1 2.9-.7 3-.5 2.9-.1 3.9 .1 1.9 .4 2.9 1.2 4.9 1.9 4.9 2.5 5.1 2.9 4.9 3 4.4 7.3 9.9 1.9 3 1.5 2.9 .4 1.9 .1 1zM389 183.8l7.3 0 0-81.9-3 .2-2.9 .5-2.9 .9-2 .8-1.9 .9-2.9 1.9-3 2.3-1.9 1.9-1.9 2.3-2 2.7-1.4 2.2-1.5 3-1.2 2.9-1 2.9-.6 2.9-.4 3 0 3.8 .2 2 .5 2.9 1.3 4.9 2.2 5.2 2.9 5.5 2.9 4.7 2.9 4.2 6.4 8.6 1.9 3 1.4 2.9 .5 1.9 .1 1z"/>
<path fill="#ffd200" d="M84.5 177l1 0 .9-.2 2-.8 1.9-1.2 3-2.3 2.9-2.7 2.9-3 2.9-3.4 3-3.9 1.9-2.8 2-3.3 1.9-3.7 1.2-2.9 1-2.9 .8-3 .4-2.9 .2-2.9-.2-2.9-.5-2.9-.9-3-1-2.7-1.6-3.1-1.3-2.3-2-2.6-1.9-2.3-2-1.9-2.9-2.3-2.9-1.9-2-.9-1.9-.8-3-.9-2.9-.5-2.9-.2 0 73.1zM239.7 177l1.7 0 1.9-.6 2-1 2.9-2.1 2.9-2.5 2.9-3 2.9-3.2 3-3.7 2.9-4.2 1.9-3.3 1.5-2.7 1.5-3.3 1.2-3.5 .8-3 .4-2.9 .1-2.9-.1-2.9-.6-2.9-.8-3-1-2.7-1.6-3.1-1.4-2.3-1.9-2.6-2-2.3-1.9-1.9-2.9-2.3-3-1.9-1.9-.9-2-.8-2.9-.9-2.9-.5-2.9-.2-2.9 .2-3 .5-2.9 .9-1.9 .8-2 .9-2.9 1.9-2.9 2.3-2 1.9-1.9 2.3-2 2.6-1.3 2.3-1.6 3.1-1.1 2.7-.8 3-.5 2.9-.2 2.9 .1 1.9 .3 3 .7 2.9 .9 2.9 1.2 2.9 1.3 2.9 2 3.5 1.9 3 3 4.1 2.9 3.5 2.9 3.1 2.9 2.9 2 1.6 2.9 2.1 2 1 .9 .4 1.3 .2zM395.6 177l.7 0 0-73.1-3 .2-2.9 .5-2.9 .9-2 .8-1.9 .9-2.9 1.9-3 2.3-1.9 1.9-1.9 2.3-2 2.6-1.4 2.3-1.5 3.1-1.1 2.7-.8 3-.5 2.9-.2 2.9 .1 1.9 .3 3 .6 2.9 1 2.9 1.1 2.9 1.4 2.9 2 3.5 1.9 3 2.9 4.1 3 3.5 2.9 3.1 2.9 2.9 2 1.6 2.9 2.1 1.9 1 1 .4 1.3 .2z"/>
<path fill="#ffc600" d="M84.5 171.1l0 .8 1.9-.2 1-.2 2.9-1.1 3-1.7 2.9-2.2 2.9-2.6 2.9-3.1 2-2.3 1.9-2.6 2-2.9 1.9-3.5 1.3-2.7 1.2-2.9 .8-3 .5-2.9 .1-2.9-.2-2.9-.3-2-.8-2.9-1.2-2.9-1.4-2.8-1.9-3-2-2.4-1.9-2.1-2-1.7-1.9-1.5-2-1.3-2.9-1.5-1.9-.8-3-.8-2.9-.5-2.9-.2 0 65.3zM236.3 171.1l2.1 .6 2 .2 1.9-.2 3-.8 1.9-1 2.9-1.9 2.9-2.3 2-1.8 2.9-3.1 2.9-3.6 2-2.7 1.9-3.2 1.9-3.5 1.2-3 1.2-3.9 .5-2.9 .1-2.9-.2-2.9-.3-2-.8-2.9-1.2-2.9-.9-2-1.5-2.4-1.9-2.7-2-2.2-1.9-1.9-2-1.6-2.9-2-1.9-1-3-1.3-2.9-.8-2.9-.5-2.9-.2-2.9 .2-3 .5-1.9 .5-2.9 1.1-2 1-2.9 1.8-2 1.5-1.9 1.7-2 2.1-1.9 2.4-2 3-1.4 2.8-1.1 2.9-.8 2.9-.5 3-.1 1.9 .2 2.9 .3 2 .7 2.9 1 2.9 1.3 2.9 1.4 2.6 2 3.2 1.9 2.7 2 2.5 1.9 2.2 2.9 2.9 2 1.7 2.9 2.2 2.9 1.7 1.8 .7zM392.2 171.1l2.1 .6 2 .2 0-66.1-3 .2-2.9 .5-2.9 .8-2 .8-2.9 1.5-1.9 1.3-2 1.5-1.9 1.7-2 2.1-1.9 2.4-1.9 2.9-1 2-1.3 2.8-.9 3-.4 1.9-.3 2.9-.1 2 .3 2.9 .4 1.9 .8 3 1.1 2.9 1.3 2.7 3 5 1.9 2.7 1.9 2.5 2 2.2 2.9 2.9 2 1.7 2.9 2.2 2.9 1.7 1.8 .7z"/>
<path fill="#ffb900" d="M84.5 168.2l0 .2 1 0 2.9-.5 2.9-1.1 2-1 2.9-2 1.9-1.5 3-2.7 1.9-2.1 2-2.3 2.5-3.5 1.7-3 1.5-2.9 1.1-2.9 .8-2.9 .5-3 0-1.9-.1-1.9-.5-3-.7-2.5-1-2.4-1.5-2.9-1.4-2.1-2-2.5-1.9-2-2-1.7-1.9-1.5-2-1.3-2.9-1.5-1.9-.7-3-.9-2.9-.5-2.9-.2 0 60.7zM238 168.2l2.4 .2 1.9-.1 2-.4 2.9-1.1 1.9-1 3-2 2.9-2.4 1.9-1.8 3-3.2 1.9-2.5 2-2.9 1.8-3.2 1.4-3 1-2.9 .6-2.6 .3-2.3 .1-2.9-.2-1.9-.6-2.9-.7-2-.8-2-1.5-2.9-1.4-2.1-2-2.5-1.9-2-2-1.7-1.9-1.5-3-1.8-2.9-1.4-1.9-.7-2.9-.7-3-.4-2.9 0-2.9 .2-2 .4-2.9 .9-2.9 1.2-2 1-2.9 2-1.9 1.6-2 1.9-1.9 2.2-2 2.7-1.5 2.7-.9 1.9-1 3-.6 2.9-.2 1.9 0 2 .3 2.9 .4 1.9 .9 3 1.2 2.9 1.4 2.6 2 3.1 1.9 2.7 2 2.3 1.9 2.1 2 1.8 2.9 2.4 2.9 2 2 1 1.9 .8 2.5 .6zM393.9 168.2l2.4 .2 0-60.9-3 .2-2.9 .5-2.9 .9-2 .7-2.9 1.5-1.9 1.3-2 1.5-1.9 1.7-2 2-1.9 2.5-1.4 2.1-1.1 2-.9 1.9-1 3-.6 2.9-.2 1.9-.1 2 .3 2.9 .5 1.9 .9 3 1.2 2.9 1.4 2.6 2 3.1 1.9 2.7 1.9 2.3 2 2.1 1.9 1.8 3 2.4 2.9 2 1.9 1 2 .8 2.5 .6z"/>
<path fill="#ffac00" d="M84.5 165.3l0 .4 1.9-.1 2-.4 1.9-.6 3-1.3 1.9-1.1 2.9-2.1 3-2.6 1.9-1.9 2-2.3 1.9-2.6 2-3.1 1.4-2.8 1.1-2.9 .6-1.9 .5-3 0-1.9-.1-1.9-.3-2-.8-2.9-.8-2-1-1.9-1.6-2.5-2-2.5-1.9-2.1-2-1.7-1.9-1.4-2-1.3-2.9-1.5-2.9-1-2-.6-2.9-.5-2.9-.1 0 56.1zM237 165.3l2.4 .4 2 0 1.9-.3 2.9-.8 2-.8 2.9-1.6 2.9-2.1 2-1.7 2.9-2.8 1.9-2.3 2-2.6 1.9-3.1 1.5-2.8 1.1-2.9 .8-2.9 .2-2 .1-2.9-.2-1.9-.4-2-.6-1.9-1.3-2.9-1.1-2-1.3-1.9-1.7-2.1-1.9-2.1-2-1.7-1.9-1.4-3-1.8-1.9-1-2.9-1-2.9-.8-2-.3-1.9-.1-3 0-1.9 .3-2.9 .6-3 .9-1.9 .9-2.9 1.6-2 1.4-1.9 1.5-2 1.9-1.9 2.3-2 2.7-1.1 2.1-1.3 2.9-.8 2.9-.3 2-.2 1.9 .1 1.9 .3 2 .7 2.9 .8 2 1.4 2.9 1.4 2.5 1.9 2.8 2 2.4 1.9 2.1 2 1.8 2.9 2.4 2.9 2 2 1 1.9 .8 2.5 .7zM392.9 165.3l1.4 .3 2 .1 0-56.5-3 .1-1.9 .3-2.9 .8-2 .6-2.9 1.4-2 1.1-1.9 1.4-2 1.5-1.9 1.9-1.9 2.3-1.4 1.8-1.6 2.6-.9 2.1-.8 2.2-.7 2.9-.2 1.9-.1 2 .4 2.9 .4 1.9 1 2.7 .9 2.2 1.7 2.9 1.3 2 1.9 2.6 1.9 2.3 2 1.9 2.9 2.6 2 1.4 1.9 1.3 2 1 1.9 .8 2.5 .7z"/>
<path fill="#ff9f00" d="M84.5 162.4l0 .9 1.9-.1 3-.5 2.9-1.1 2.9-1.5 2-1.3 2.9-2.2 1.9-1.8 2-2.1 1.9-2.3 2-2.8 1.6-2.8 1.2-2.9 .6-1.9 .6-3 .1-1.9-.3-2.9-.4-2-.7-1.9-.9-2-1.1-1.9-1.7-2.4-1.9-2.2-2-1.9-1.9-1.6-2-1.3-1.9-1.1-3-1.4-1.9-.6-2.9-.7-2-.3-2.9-.2 0 51.7zM234.6 162.4l2.9 .7 1.9 .2 2 0 1.9-.2 2-.4 2.9-1.1 2.9-1.5 1.9-1.3 3-2.2 1.9-1.8 2.9-3.2 2-2.5 1.5-2.3 1.4-2.7 1-2.4 .8-2.7 .3-2.9 0-2-.2-1.9-.5-2-.6-1.9-.9-2-1.1-1.9-1.7-2.4-2-2.2-1.9-1.9-2-1.6-1.9-1.3-2-1.1-1.9-1-2-.7-2.9-.8-2.9-.5-2.9-.2-2.9 .2-2 .3-2.9 .7-2 .6-2.9 1.4-1.9 1.1-2 1.3-1.9 1.6-2 1.9-1.9 2.2-1.7 2.4-1.3 2.2-.9 2.3-.7 2.3-.4 2-.1 1.9 .1 1.9 .5 3 .6 1.9 .9 2.2 1.5 2.7 1.5 2.3 1.9 2.5 2 2.2 1.9 1.9 2 1.7 1.9 1.4 2.9 1.9 2 .9 2 .8zM390.5 162.4l2.8 .7 3 .2 0-52.6-3 .2-1.9 .3-3.9 1-2.9 1.2-2 1-1.9 1.2-2 1.5-1.9 1.7-2 2-1.3 1.6-1.6 2.4-1.3 2.5-.8 2-.5 1.9-.4 2-.1 1.9 .1 1.9 .3 2 .5 1.9 .7 2 .9 1.9 1.6 2.8 1.4 2.1 1.5 1.9 1.9 2.2 2 1.9 1.9 1.7 2 1.4 2.9 1.9 2 .9 2 .8z"/>
<path fill="#ff9300" d="M84.5 160.4l0 .9 1.9-.1 3-.6 2.9-.9 1.9-.9 3-1.8 2.9-2.1 1.9-1.7 2-2 1.9-2.3 1.5-2.1 1.5-2.3 1.1-2.6 .7-1.9 .6-3 .1-1.9-.1-1.9-.4-2-.6-1.9-.9-2-1.1-1.9-1.4-2.1-1.9-2.2-2-1.9-1.9-1.5-2-1.3-1.9-1.1-3-1.3-1.9-.7-2.9-.7-2-.3-2.9-.1 0 48.2zM234.8 160.4l2.7 .6 1.9 .3 2.9-.1 2-.3 1.9-.5 2-.7 1.9-.9 2.9-1.8 3-2.1 1.9-1.7 2-2 1.9-2.3 1.5-2.1 1.4-2.3 1.2-2.6 .8-2.3 .4-1.6 .2-1.9 0-2-.3-1.9-.5-2-.7-1.9-1.1-2.1-1.2-1.8-1.7-2.2-1.9-2.1-2-1.7-1.9-1.4-2-1.2-1.9-1-2-.8-2.9-1-2.9-.6-2-.2-2.9 0-2.9 .2-2.9 .6-2 .6-2.9 1.2-2 1-1.9 1.2-2 1.4-1.9 1.7-2.2 2.3-1.7 2.3-1 1.6-1.4 3-.6 1.9-.4 2-.1 1.9 .1 1.9 .3 2 .6 1.9 .8 2 .9 1.9 1.8 2.8 1.9 2.5 2 2.1 1.9 1.8 2 1.6 1.9 1.4 2.9 1.8 2 .9 2.2 .7zM390.7 160.4l2.6 .6 3 .3 0-49.1-3 .1-1.9 .3-2.9 .7-2 .7-3.9 1.8-1.9 1.2-2 1.4-1.9 1.7-2 2.1-2.4 3.2-1.1 1.9-.8 2-.6 1.9-.4 2-.2 1.9 .1 1.9 .4 2 .5 1.9 .8 2 1 1.9 1.2 2 1.5 2.1 2 2.3 1.9 2 2 1.7 1.9 1.5 2 1.3 1.9 1.1 2 .9 2.2 .7z"/>
<path fill="#ff8600" d="M84.5 158.5l0 .9 1.9-.1 3-.5 2.9-.9 1.9-.9 3-1.6 2.9-2.1 1.9-1.6 2-2 1.9-2.2 1.9-2.7 1.1-1.8 .9-2.1 .6-1.9 .4-2 .1-1.9-.2-1.9-.4-2-.7-1.9-.9-2-1.3-1.9-1.5-2-1.9-2-2-1.7-1.9-1.4-2-1.2-1.9-1-2.9-1.1-3.9-1-3-.4-1.9-.1 0 45zM234.3 158.5l2.2 .5 1.9 .3 3 .1 1.9-.2 2-.4 2.9-.9 1.9-.9 2-1 2.9-1.9 1.9-1.6 2-1.8 1.9-2 2-2.5 1-1.5 1.4-2.8 .8-1.9 .5-2 .2-1.9-.1-2.9-.4-2-.7-1.9-.8-1.7-.9-1.6-1.2-1.6-1.8-2-1.9-1.9-2-1.5-1.9-1.3-2-1.1-3.9-1.6-2.9-.8-1.9-.4-2.9-.2-3 0-2.9 .4-1.9 .4-3 .9-1.9 .8-2.9 1.6-2 1.3-1.9 1.5-2 1.9-1.7 2-1.2 1.6-1.3 2.3-.8 1.9-.6 2-.2 1.9-.1 2 .3 1.9 .5 2 .7 1.9 1 2 1.5 2.3 1.9 2.5 2 2 1.9 1.8 2 1.6 2.9 1.9 1.9 1 2 .9 1.7 .6zM390.2 158.5l3.1 .7 3 .2 0-45.9-2 .1-2.9 .4-3.9 1-3.9 1.6-2 1.1-1.9 1.3-2 1.5-1.9 1.9-1.8 2-1.1 1.6-1 1.6-.8 1.7-.7 1.9-.4 2-.1 2.9 .3 1.9 .5 2 .7 1.9 1 2 2.4 3.6 2.9 3.2 2 1.8 1.9 1.6 3 1.9 1.9 1 2 .9 1.7 .6z"/>
<path fill="#ff7900" d="M84.5 157.5l0 .2 1 0 2.9-.3 1.9-.5 3-1 1.9-.9 2.9-1.7 2-1.4 1.9-1.6 2-1.9 1.9-2.2 2.3-3.3 .9-2 .7-1.9 .4-2 .2-1.9-.2-1.9-.5-2-.7-1.9-1.1-2-1-1.5-1.9-2.3-3-2.6-1.9-1.4-2-1.1-1.9-1-2.9-1.1-3.9-1-2-.3-2.9-.2 0 42.7zM237.4 157.5l2 .2 2 0 1.9-.2 2-.3 1.9-.6 1.9-.7 2-.9 2.9-1.7 2-1.4 1.9-1.6 2-1.9 1.9-2.2 1.7-2.3 1.1-2 .8-1.9 .5-2 .3-1.9 0-2-.6-2.9-1.2-2.9-1.2-2-1.4-1.7-2.9-2.9-2-1.5-1.9-1.3-2-1-1.9-.9-2-.7-2.9-.8-1.9-.4-2.9-.2-3 0-1.9 .2-2 .4-2.9 .8-2.9 1.1-2 1-1.9 1.1-2 1.4-1.9 1.7-2 2-1.3 1.7-1.2 2-.9 1.9-.6 2-.3 1.9-.1 2 .3 1.9 .6 2 .6 1.5 1 1.9 1 1.5 1.9 2.4 2 2.1 1.9 1.7 2.9 2.2 2 1.2 1.9 1 2 .8 1.9 .6 2.9 .6zM393.3 157.5l3 .2 0-42.9-3 .2-1.9 .3-3.9 1-2.9 1.1-2 1-1.9 1.1-2 1.4-2.9 2.6-1.6 1.9-1.3 1.8-1.5 3-.6 2-.4 1.9 .1 2.9 .4 2 .7 1.9 1 2 1.3 2 .9 1.3 2 2.2 1.9 1.9 2 1.6 1.9 1.4 2 1.2 1.9 1 2 .8 1.9 .6 2.9 .6z"/>
<path fill="#ff6c00" d="M84.5 155.6l0 .6 1.9-.1 3-.5 2.9-.8 1.9-.8 3-1.5 1.9-1.2 2-1.5 1.9-1.7 2-2 1.8-2.2 1.1-1.8 .6-1.2 .8-1.9 .4-2 .2-1.9-.2-1.9-.2-1-.7-2-.9-1.8-1-1.5-1.9-2.3-3-2.6-1.9-1.3-2-1.2-3.9-1.7-1.9-.6-2.9-.7-2-.3-2.9-.1 0 39.5zM235.3 155.6l2.2 .4 1.9 .1 2 0 1.9-.1 2-.4 1.9-.5 1.9-.7 2-.9 1.9-1 2-1.2 1.9-1.5 2-1.7 2.9-3.1 1.5-2.1 1.1-2 1-2.9 .3-2.9-.1-1.9-.2-1-1.2-2.9-1.9-3-2.4-2.6-3-2.4-1.9-1.2-2-1.1-1.9-.8-2.9-1-2-.5-2.9-.5-2.9-.1-2.9 .1-3 .5-1.9 .5-2.9 1-2 .8-2.9 1.7-2 1.3-1.9 1.7-2 2-1.2 1.6-1.2 2-1.1 2.9-.3 1.9 0 2 .3 1.9 .6 2 .9 1.9 1.1 1.8 1.9 2.4 2 2 1.9 1.7 2 1.5 2.9 1.7 1.9 1 2 .8 2.7 .8zM391.2 155.6l2.1 .4 3 .2 0-40.1-3.9 .3-3 .5-1.9 .6-3.9 1.5-2 1.1-1.9 1.2-2.9 2.4-2 2-.9 1.2-1 1.5-.9 1.8-.7 2-.2 1-.2 1.9 .1 1.9 .9 3 1.5 2.9 2.4 3.2 2.9 2.9 2 1.6 1.9 1.3 2 1.1 1.9 1 2 .8 2.7 .8z"/>
<path fill="#ff6000" d="M84.5 154.6l0 .1 1 0 2.9-.3 1.9-.4 3-1 3.9-1.8 1.9-1.2 2-1.4 1.9-1.6 2-2 .9-1.1 1.4-2 1-1.9 .6-1.5 .3-1.5 .2-1.9-.2-1.9-.2-1-.8-2-.5-.9-1.3-2-1.4-1.6-3-2.6-1.9-1.3-2-1.1-3.9-1.7-2.9-.9-1.9-.4-3-.3-1.9-.1 0 37.3zM238.2 154.6l2.2 .1 1.9-.1 2-.2 1.9-.4 2-.6 1.9-.8 3.9-2 2-1.3 1.9-1.5 2.9-2.8 1-1.1 1.4-2 1-1.9 .7-2 .2-1 .2-1.9-.2-1.9-.3-1-1-2.6-1-1.6-1-1.3-1-1-1.9-1.8-2.9-2.1-2-1.1-1.9-1-3.9-1.3-2-.5-2.9-.5-1.9-.1-3 .1-2.9 .3-1.9 .4-3 .9-1.9 .7-2.9 1.5-2 1.2-1.9 1.5-2 1.8-1.4 1.6-1.3 2-.5 .9-.8 2-.2 1-.2 1.9 .2 1.9 .5 2 .8 1.9 1 1.6 .9 1.4 2 2.1 1.9 1.8 2 1.5 2.9 1.9 2 1 1.9 .8 2 .7 1.9 .5 2.7 .4zM394.1 154.6l2.2 .1 0-37.4-2 .1-2.9 .3-3.9 .9-3.9 1.6-2 1-1.9 1.2-2.9 2.3-2 2-.9 1.3-1 1.6-.8 1.6-.5 2-.2 .9 0 2 .1 .9 .6 2 .8 1.9 1 1.6 .9 1.4 1 1.1 1.9 2 2 1.6 1.9 1.4 2 1.2 1.9 1 2 .8 1.9 .7 2 .5 2.7 .4z"/>
<path fill="#ff5300" d="M84.5 152.6l0 .7 1.9-.1 3-.4 2.9-.7 2.9-1.2 2-.9 1.9-1.2 2-1.3 2.9-2.5 1.9-2.2 1-1.4 1-1.7 .6-1.7 .2-1 .2-1.9-.2-1.9-.2-1-.6-1.5-1-1.7-1-1.3-1.9-2-2.9-2.3-2-1.2-1.9-1-3.9-1.4-3.9-1-2-.2-2.9-.2 0 34.2zM234.7 152.6l3.7 .6 3 .1 2.9-.3 2.9-.6 3.9-1.5 2.9-1.5 2.9-1.9 3-2.5 1.9-2.2 1.3-1.9 .7-1.2 .6-1.7 .4-1.9 0-1-.2-1.9-.6-2-1.2-2.2-2-2.4-1.9-1.8-2-1.4-1.9-1.2-2.9-1.4-3-1-2.9-.8-2.9-.4-2.9-.2-2.9 .2-3 .4-2.9 .8-2.9 1-2.9 1.4-2 1.2-1.9 1.4-2 1.8-1.4 1.7-1.3 1.9-.8 2-.2 1-.2 1.9 .1 1.9 .6 2 1 1.9 1.2 1.9 2 2.2 1.9 1.7 2 1.5 1.9 1.2 3 1.5 2.9 1.2 2.1 .5zM390.6 152.6l2.7 .5 3 .2 0-34.9-3.9 .3-3.9 .8-3.9 1.3-2 .9-1.9 1.1-3 2-1.9 1.8-1 1.1-1.7 2.5-.8 2-.2 1-.3 1.9 .1 1 .4 1.9 .3 1 1.3 2.4 1.9 2.6 2.9 2.7 2 1.5 1.9 1.2 3.9 1.9 2 .8 2.1 .5z"/>
<path fill="#ff4600" d="M84.5 151.7l0 .3 2.9-.1 2.9-.6 2-.5 1.9-.7 3-1.3 1.9-1.1 2-1.3 2.9-2.4 1-1.1 1.6-2 .6-.9 .8-2 .3-1 .2-1.9-.2-1.9-.3-1-1-2-.6-.9-1.4-1.8-1-.9-2.9-2.2-2-1.2-1.9-.9-3.9-1.5-3.9-.9-2-.2-2.9-.1 0 32.1zM236.2 151.7l3.2 .3 2.9-.1 3-.4 2.9-.7 2.9-1.1 2.9-1.4 2.9-1.9 3-2.4 1.9-2.2 1.2-1.8 .9-2 .4-1.9 0-2-.5-2.1-1-2-1-1.4-1-1.1-1.9-1.7-2-1.4-1.9-1.2-2.9-1.4-3-1-2.9-.7-2.9-.4-2.9-.1-2.9 .1-3 .4-2.9 .7-2.9 1-2.9 1.4-2 1.2-1.9 1.4-2 1.7-1.4 1.8-1.2 1.9-.7 2-.1 .9-.1 2 .2 .9 .6 2 1.1 1.9 1.6 2.1 2 1.9 1.9 1.5 2 1.3 2.9 1.6 1.9 .8 3 1 2.6 .6zM392.1 151.7l2.2 .2 2 .1 0-32.4-3.9 .2-3.9 .8-3.9 1.2-3.9 2-3 2-1.9 1.7-1 1.1-.9 1.4-.7 1.2-.7 2-.2 .9 0 2 .2 .9 .4 1.4 .7 1.6 1.2 1.8 .9 1.1 2 2 3 2.2 1.9 1.2 2 1 3.9 1.5 3.6 .9z"/>
<path fill="#ff3900" d="M84.5 150.7l0 .1 1 0 1.9-.2 2.9-.5 3-.8 2.9-1.1 2.9-1.5 2.9-2 2-1.6 1.9-2.2 1.2-1.9 .7-2 .3-1.9-.3-1.9-.8-2-1.1-1.7-1.9-2.1-2-1.5-1.9-1.2-2-1-3.9-1.6-1.9-.5-2.9-.6-2-.2-2.9-.2 0 30.1zM238.2 150.7l2.2 .1 2.9-.2 2.9-.5 2.9-.8 3-1.1 2.9-1.5 2.9-2 2-1.6 1.9-2.2 1-1.5 .6-1.4 .5-1.9 0-2-.5-1.9-1.1-2-1.5-1.8-1.9-1.8-2-1.3-1.9-1.2-2.9-1.3-3-1-2.9-.6-2.9-.4-2.9-.2-2.9 .2-3 .4-2.9 .6-2.9 1-2.9 1.3-2 1.2-1.9 1.3-2 1.8-1 1.1-1.1 1.7-.4 1-.5 1.9 0 2 .4 1.9 .7 1.4 1 1.5 1.9 2.2 1.9 1.6 2 1.4 2.9 1.6 2.9 1.3 2 .6 2.9 .7 2.7 .4zM394.1 150.7l2.2 .1 0-30.2-3.9 .3-3.9 .7-3.9 1.2-3.9 1.9-3 1.9-1.9 1.8-1 1.1-.9 1.4-.6 1.3-.5 1.9-.1 1 .2 1.9 .3 1 .7 1.4 .9 1.5 1 1.2 1 1 1.9 1.6 2 1.4 1.9 1.1 3.9 1.8 3.9 1.1 3.7 .6z"/>
<path fill="#ff2d00" d="M84.5 148.7l0 .9 1.9-.1 3-.3 3.9-1 2.9-1.1 2.9-1.4 2.9-1.9 2-1.6 1.2-1.3 1.4-1.9 .8-2 .2-.9 0-2-.6-1.9-1.1-1.9-.9-1.1-2-1.8-1.9-1.3-2-1.1-2.9-1.2-2.9-1-3-.6-2.9-.4-2.9-.1 0 27zM233.5 148.7l3 .6 2.9 .3 2.9-.1 3-.3 2.9-.7 2.9-1 2.9-1.3 2-1.1 1.9-1.3 2-1.6 1.9-2.1 1-1.7 .5-1.4 .3-1.9-.3-1.9-.9-2-1.5-1.9-1-1.1-2-1.5-1.9-1.2-2-.9-2.9-1.2-2.9-.8-2.9-.6-3-.3-2.9 0-2.9 .2-2 .3-2.9 .6-2.9 1-2.9 1.2-2 1.1-1.9 1.3-2 1.8-1 1.1-.9 1.6-.5 1.3-.3 1.9 .3 1.9 .3 1 1.1 2 1 1.3 2 1.8 1.9 1.4 2 1.2 2.9 1.4 2.9 1.1 1.9 .5zM389.3 148.7l3.1 .6 3.9 .3 0-27.9-3.9 .2-3.9 .7-3.9 1.2-3 1.2-2.9 1.7-1.9 1.5-1 1-1.6 2-.8 2-.2 .9-.1 2 .6 1.9 1.1 2.1 2 2.1 2.9 2.3 2.9 1.7 2.9 1.3 3.8 1.2z"/>
<path fill="#ff2000" d="M84.5 147.8l0 .7 2.9-.2 3.9-.6 2.9-.8 3-1.2 2.9-1.5 1.9-1.2 2-1.6 1-.9 1.1-1.5 .5-1 .6-1.9 0-2-.2-.9-1-2-1-1.3-2-1.7-1.9-1.3-2-1-2.9-1.2-2.9-.9-3-.6-2.9-.4-2.9-.1 0 25.1zM234 147.8l2.5 .4 2.9 .3 2.9-.1 2-.2 2.9-.5 2.9-.8 2-.8 2.9-1.3 1.9-1.2 2-1.3 1.9-1.8 1.2-1.5 .5-1 .6-1.9 0-2-.6-1.9-.7-1.1-1-1.2-1.9-1.7-2-1.3-1.9-1-2.9-1.2-3-.9-2.9-.6-1.9-.3-2.9-.2-3 0-2.9 .3-2.9 .5-2.9 .8-3 1.1-1.9 1-2 1.1-1.9 1.5-1.3 1.2-.7 .9-.6 1.1-.6 1.9-.1 1 0 1 .6 1.9 .7 1.2 1 1.3 2 1.8 1.9 1.3 2.9 1.7 2 .8 2.9 1.1 2.4 .6zM389.8 147.8l3.5 .5 3 .2 0-25.8-3.9 .2-3.9 .6-3.9 1.2-3 1.2-2.9 1.6-1.9 1.5-1 .9-1 1.2-.6 1.1-.4 1-.3 1.9 .3 1.9 .3 1 .7 1.2 1 1.3 1 .9 2.9 2.2 2.9 1.7 3.9 1.6 3.3 .9z"/>
<path fill="#ff1300" d="M84.5 146.8l0 .6 1.9-.1 3-.3 2.9-.6 2.9-.9 2-.7 2.9-1.4 1.9-1.2 2-1.5 1-.9 .9-1.3 .7-1.5 .3-.9-.1-2-.2-.9-.7-1.4-.9-1.2-2-1.7-2.9-1.8-2.9-1.2-3-1-2.9-.6-2.9-.4-3.9-.3 0 23.2zM234.3 146.8l2.2 .3 2.9 .3 2.9-.1 3-.3 2.9-.6 2.9-.9 2.9-1.1 2-1 1.9-1.2 2-1.5 .9-.9 1.3-1.8 .4-1 .2-.9 .1-1-.1-1-.2-.9-.5-1-1.2-1.6-.9-1-2-1.4-1.9-1.1-3-1.2-1.9-.7-2.9-.7-2.9-.5-3-.3-2.9 0-4.9 .4-2.9 .6-2.9 .8-2.9 1.2-2 1-2.9 1.9-1 1-1.2 1.6-.4 1-.3 .9-.1 1 .1 1 .3 .9 .4 1 1.2 1.8 1 .9 1.9 1.5 2 1.2 1.9 1 3 1.1 1.9 .7 2.7 .6zM390.2 146.8l3.1 .4 3 .2 0-23.8-3.9 .3-3.9 .6-3.9 1-3 1.2-2.9 1.5-1.9 1.4-1.5 1.6-.7 1-.4 1-.3 .9-.1 1 .1 1 .2 .9 .5 1 .6 1 1.6 1.7 .9 .8 2 1.3 2.9 1.6 3.9 1.5 3.7 .9z"/>
<path fill="#ff0600" d="M84.5 145.8l0 .5 1.9 0 3-.3 2.9-.6 2.9-.8 2-.7 2.9-1.3 1.9-1.1 2-1.5 1-.9 .7-1.1 .5-1 .3-.9 .1-1-.1-1-.3-.9-.5-1-.7-1-2-1.7-2.9-1.6-2.9-1.2-3-.9-2.9-.6-2.9-.4-3.9-.2 0 21.2zM234.5 145.8l2 .3 2.9 .2 2.9 0 3-.3 2.9-.6 1.9-.5 2-.6 2.9-1.2 1.9-1 2-1.3 1.9-1.7 .8-1.1 .5-1 .3-.9 .1-1-.1-1-.3-.9-.5-1-.8-1-.9-.9-1-.8-2-1.1-1.9-1-2.9-1-3-.8-2.9-.6-4.8-.4-3 .1-2.9 .2-2.9 .5-2.9 .7-3 .9-1.9 .9-2.9 1.6-2 1.7-.7 1-.5 1-.3 .9-.1 1 .1 1 .5 1.6 1 1.4 1 .9 1.9 1.5 2 1.1 1.9 .9 3 1.1 2.9 .8 1.9 .4zM390.4 145.8l2.9 .4 3 .1 0-21.7-3.9 .2-3.9 .6-3.9 1-3 1-2.9 1.5-1.9 1.4-1 .9-.7 1-.6 1-.3 .9-.1 1 .1 1 .6 1.6 1 1.4 1.9 1.7 3 1.8 2.9 1.3 3.9 1.3 2.9 .6z"/>
<path fill="#f90000" d="M84.5 144.8l0 .5 1.9 0 3-.3 2.9-.5 2.9-.8 2-.6 3.9-1.7 1.9-1.2 1-.8 1-.9 .9-1.5 .3-.9 .1-1-.1-1-.4-.9-.8-1.4-1-.9-1-.7-1.9-1.2-3-1.2-2.9-.9-3.9-.8-2.9-.4-3.9-.2 0 19.3zM234.6 144.8l2.9 .4 2.9 .1 4.9-.3 2.9-.5 1.9-.5 2-.6 2.9-1.1 1.9-.9 2-1.2 1-.8 1.3-1.4 .6-1 .3-.9 .1-1-.1-1-.4-.9-.9-1.4-.9-.9-2-1.3-1.9-1-2-.8-2.9-.9-2.9-.7-2.9-.4-3-.2-2.9-.1-4.9 .4-4.8 1-3 .9-1.9 .8-2 1-1.9 1.3-1 .9-.9 1.4-.3 .9-.1 1 .1 1 .3 .9 .6 1 1.3 1.4 1 .8 1.9 1.2 2 .9 3.9 1.4 2.9 .8 2 .3zM390.5 144.8l2.8 .4 3 .1 0-19.8-3.9 .2-3.9 .5-3.9 1-3 1-2.9 1.4-1.9 1.3-1.3 1.3-.6 1-.3 .9-.1 1 .1 1 .3 .9 .9 1.5 1 .9 .9 .8 3 1.7 2.9 1.2 3.9 1.1 3 .6z"/>
<path fill="#ec0000" d="M84.5 143.9l0 .4 1.9 0 3-.3 2.9-.5 4.9-1.2 3.9-1.6 1.9-1.1 1-.7 1-1 .5-.9 .4-.9 .1-1-.1-1-.4-.9-.7-1-.8-.8-1-.7-1.9-1-3-1.2-2.9-.8-3.9-.8-2.9-.3-3.9-.2 0 17.5zM234.5 143.9l4.9 .4 4.9-.2 4.8-.8 3-.7 1.9-.7 2-.7 1.9-1 2-1.3 .8-.9 .7-1 .4-.9 .1-1-.1-1-.4-.9-.6-.9-.9-.9-1-.7-2-1-1.9-.8-2.9-1-4.9-1-4.9-.4-2.9 0-2.9 .1-2.9 .3-3 .6-1.9 .4-2.9 1-2 .8-1.9 1-1 .7-1 .9-.5 .9-.4 .9-.1 1 .1 1 .4 .9 .5 .9 1 1 1.9 1.3 2 1 2.9 1.1 2 .6 4.8 1zM390.4 143.9l2.9 .3 3 .1 0-17.9-3.9 .2-3 .3-2.9 .6-2.9 .7-2.9 1.1-2 .9-1.9 1.2-1 .9-.5 .9-.4 .9-.1 1 .1 1 .3 .9 .6 .9 1 1 .9 .7 2 1.1 2.9 1.2 3.9 1.2 3.9 .8z"/>
<path fill="#df0000" d="M84.5 142.9l0 .4 1 0 2.9-.1 2.9-.4 4.9-1 3.9-1.3 2.9-1.5 1-.6 1-1 .6-1.3 .1-1-.1-1-.6-1.2-1-1-2-1.2-2.9-1.2-2.9-.8-3.9-.8-3.9-.4-3.9-.2 0 15.6zM234.2 142.9l5.2 .4 4.9-.1 4.8-.7 4.9-1.3 2-.7 1.9-.9 2-1.2 .9-1 .7-1.3 .1-1-.1-1-.7-1.2-.9-1-2-1.2-1.9-.8-3-1-2.9-.6-2.9-.5-4.9-.4-2.9 0-2.9 .1-2.9 .3-3 .5-4.8 1.2-2 .8-1.9 .9-1 .7-1 1-.6 1.2-.1 1 .1 1 .4 .9 1.2 1.4 1 .6 2.9 1.5 1.9 .7 3 .8 4.5 .9zM390 142.9l3.3 .3 3 .1 0-16-3.9 .2-3 .3-2.9 .5-2.9 .6-2.9 1-2 .8-1.9 1.2-1 1-.6 1.2-.2 1 .1 1 .7 1.3 1 1 1.9 1.2 2 .9 1.9 .7 3.9 1.1 3.5 .6z"/>
<path fill="#d20000" d="M84.5 141.9l0 .5 3.9-.2 2.9-.3 4.9-.9 3.9-1.1 2.9-1.3 1-.7 .8-.9 .5-.9 .2-1-.2-1-.5-.9-.8-.9-1-.6-1.9-.9-3-.9-2.9-.7-3.9-.6-2.9-.2-3.9-.2 0 13.7zM233.6 141.9l4.8 .4 3 .1 2.9-.2 4.8-.6 4.9-1.1 2.9-1 2-.9 1-.7 .8-.9 .5-.9 .2-1-.2-1-.5-.9-.8-.9-1-.6-2-.9-2.9-.9-1.9-.5-4.9-.8-4.9-.3-5.8 .1-4.9 .5-4.9 1-2.9 .9-1.9 .9-1 .6-.8 .9-.6 .9-.1 1 .1 1 .4 .8 1 1 1 .7 2.9 1.3 3.9 1.1 4.9 .9zM389.4 141.9l3 .3 3.9 .2 0-14.2-3.9 .2-3 .2-2.9 .4-2.9 .6-2.9 .9-3 1.2-.9 .6-1 1.1-.4 .7-.1 1 .1 1 .5 .9 .9 .9 .9 .7 2 .9 2.9 1 2.9 .7 3.9 .7z"/>
<path fill="#c60000" d="M84.5 140.9l0 .6 5.8-.3 4.9-.7 4.9-1.2 1.9-.7 2-1 .5-.6 .6-.9 .1-1-.1-1-.7-.9-.4-.5-1-.6-1.9-.7-3-.9-2.9-.5-3.9-.6-3.9-.2-2.9-.1 0 11.8zM232.8 140.9l5.6 .5 4.9 0 5.8-.6 4.9-1 3.9-1.2 2-1 .4-.6 .7-.9 .1-1-.1-1-.7-.9-.4-.5-2-1-1-.3-1.9-.6-2.9-.7-4.9-.7-4.9-.3-5.8 .1-4.9 .5-4.9 .8-3.9 1.2-1.9 1-.5 .5-.6 .9-.1 1 .2 1.2 1 1.3 1.9 1 1 .3 3.9 1.1 5.1 .9zM388.6 140.9l3.8 .4 3.9 .2 0-12.4-3 .1-3.9 .2-3.9 .6-2.9 .5-2.9 .9-2 .7-.9 .6-1 1.2-.3 1.2 .2 1 .6 .9 .5 .6 .9 .5 2 .8 2.9 .9 2.9 .7 3.1 .4z"/>
<path fill="#b90000" d="M84.5 140l0 .5 3.9-.1 2.9-.2 4.9-.7 4.9-1.1 1.9-.7 1.1-.7 .8-.9 .1-1-.1-1-.9-1.1-1-.5-1.9-.6-3-.7-2.9-.5-3.9-.5-6.8-.3 0 10.1zM231.6 140l4.9 .4 5.8 .1 5.9-.4 4.8-.8 3.9-.9 2-.7 1-.5 .8-1.1 .2-1-.2-1-.8-1.1-1-.5-2-.6-4.8-1.1-4.9-.6-4.9-.2-5.8 0-4.9 .4-4.9 .8-2.9 .7-1.9 .6-1 .5-.9 1.1-.1 1 .1 1 .9 1.1 1 .5 1.9 .7 3.9 .9 3.9 .7zM387.5 140l3.9 .4 4.9 .1 0-10.6-5.9 .3-5.8 .6-4.9 1.1-2 .6-1 .7-.8 .9-.1 1 .1 1 .9 1.1 .9 .5 3 1 2.9 .6 3.9 .7z"/>
<path fill="#ac0000" d="M84.5 139l0 .6 5.8-.2 5.9-.6 4.9-.9 1.9-.6 1-.4 .7-.8 .1-1-.1-1-.7-.8-1-.4-1.9-.6-3-.5-6.8-.8-6.8-.2 0 8.2zM230.1 139l5.4 .5 5.9 .1 5.8-.2 5.8-.7 3.9-.8 2-.6 1-.4 .7-.8 .1-1-.1-1-.7-.8-1-.4-2-.6-3.9-.7-5.8-.6-4.9-.2-5.8 .1-4.9 .3-4.9 .6-3.9 .8-1.9 .7-.7 .8-.1 1 .1 1 .7 .8 1.9 .8 3 .6 4.3 .7zM386 139l5.4 .5 4.9 .1 0-8.8-5.9 .2-5.8 .5-4.9 .8-2 .6-.9 .4-.7 .8-.1 1 .1 1 .7 .8 1.9 .8 2 .4 5.3 .9z"/>
<path fill="#9f0000" d="M84.5 138l0 .7 3.9 0 6.8-.5 5.9-.8 2.9-.7 .5-.6 0-2-.5-.6-1-.3-1.9-.4-3-.4-6.8-.6-6.8-.2 0 6.4zM227.9 138l5.7 .5 6.8 .2 6.8-.2 5.8-.5 3.9-.6 3-.7 .5-.6 0-2-.5-.6-3-.7-4.8-.6-4.9-.4-4.9-.2-5.8 .1-4.9 .2-4.9 .5-2.9 .4-2.9 .7-.5 .6 0 2 .5 .6 1.9 .5 5.1 .8zM383.7 138l5.7 .5 6.9 .2 0-7.1-5.9 .2-5.8 .4-4.9 .6-2.9 .7-.5 .6-.1 1 0 1 .6 .6 2.9 .7 4 .6z"/>
<path fill="#930000" d="M84.5 137l0 .8 1.9 0 8.8-.3 6.8-.7 2-.3 .3-.4 0-2-.3-.4-2.9-.4-3-.3-6.8-.4-6.8-.1 0 4.5zM224.6 137l6 .6 7.8 .2 7.8-.1 6.8-.3 3.9-.4 3-.5 .3-.4 0-2-.3-.4-3-.4-3.9-.4-5.8-.3-10.7-.1-9.8 .5-2.9 .3-2.9 .4-.4 .4 0 2 .4 .4 3.7 .5zM380.4 137l7.1 .6 8.8 .2 0-5.3-5.9 .1-5.8 .2-4.9 .5-2.9 .4-.4 .4 0 1 0 1 .4 .4 3.6 .5z"/>
<path fill="#860000" d="M84.5 136.1l0 .9 11.7-.2 7.8-.5 .2-.2 0-2-.2-.2-5.9-.4-13.6-.2 0 2.8zM220.7 136.1l.2 .2 2.9 .2 10.7 .4 10.8 0 9.7-.3 4.9-.3 .1-.2 0-2-.1-.2-3-.2-10.7-.4-11.7 0-9.7 .3-3.9 .3-.2 .2 0 2zM376.6 136.1l.2 .2 5.8 .4 13.7 .3 0-3.7-11.7 .2-7.8 .4-.2 .2 0 2z"/></g>
<path fill="none" stroke="#0a0a0a" stroke-opacity="0.28" stroke-width="1.1" stroke-linejoin="round" d="M149.8 137.1l-5.4-.5-1.4-.3-.3-.2-.1-1 .1-1 .3-.3 2.4-.4 3.9-.4 5.3-.3 5.9-.1 5.8 0 5.4 .2 4.9 .3 3.9 .4 1.4 .3 .3 .3 0 .5 0 1.5-.3 .2-1.9 .4-2.9 .2-6.4 .4-7.3 .1-6.8-.1-6.8-.2M305.7 137.1l-5.4-.5-1.5-.3-.2-.2-.1-1 .1-1 .2-.3 2.5-.4 3.9-.4 5.3-.3 5.9-.1 5.8 0 5.4 .2 4.8 .3 3.9 .4 1.5 .3 .3 .3 0 .5 0 1.5-.3 .2-1.9 .4-3 .2-6.3 .4-7.3 .1-6.8-.1-6.8-.2M84.5 137.4l9.7-.2 4.4-.2 3.4-.3 2-.4 .2-.2 .1-1 0-1-.3-.3-2.5-.4-3.4-.3-4.3-.3-9.3-.2M227.5 137l6.5 .3 7.4 .1 7.3-.1 6.3-.4 2.9-.2 2-.4 .2-.2 .1-1.5-.1-.5-.2-.3-1.5-.3-3.9-.4-4.9-.3-5.3-.2-5.9 0-5.8 .1-5.4 .3-3.9 .4-2.4 .4-.3 .3 0 1.5 0 .5 .3 .2 2.4 .4 4.2 .3M396.3 132.6l-9.3 .2-4.4 .3-3.4 .3-2.4 .4-.3 .3 0 1 0 1 .3 .2 1.9 .4 3.4 .3 4.4 .2 9.8 .2"/>
<path fill="none" stroke="#0a0a0a" stroke-opacity="0.30" stroke-width="1.1" stroke-linejoin="round" d="M155.1 138.5l-5.3-.5-3.9-.5-2.5-.6-.4-.2-.5-.6-.2-1 .1-1 .6-.7 .9-.4 2-.6 4.4-.7 4.8-.6 5.4-.2 5.3 0 4.9 .3 5.4 .7 3.9 .8 1.9 .7 .6 .7 .1 .5-.1 1-.1 .5-.5 .6-1.9 .6-2.9 .5-5.4 .6-5.4 .3-5.3 0-5.9-.2M311 138.5l-5.3-.5-3.9-.5-2.5-.6-.5-.2-.5-.6-.1-1 .1-1 .5-.7 1-.4 2-.6 4.3-.7 4.9-.6 5.4-.2 5.3 0 4.9 .3 5.4 .7 3.9 .8 1.9 .7 .6 .7 0 .5 0 1-.1 .5-.5 .6-1.9 .6-3 .5-5.3 .6-5.4 .3-5.3 0-5.9-.2M84.5 138.7l4.4 0 3.9-.3 4.4-.4 3.4-.4 1.9-.4 1.5-.5 .5-.6 .1-1-.1-1-.5-.7-1.5-.6-2.4-.6-3.4-.5-3.9-.5-3.9-.2-4.4-.1M233 138.5l5.4 .2 5.9 0 5.3-.3 5.4-.6 2.9-.5 2-.6 .5-.6 .1-.5 0-1-.1-.5-.5-.7-2-.7-3.9-.8-5.3-.7-4.9-.3-5.4 0-5.3 .2-4.9 .6-4.4 .7-1.9 .6-1 .4-.6 .7-.1 1 .2 1 .5 .6 .5 .2 2.4 .6 3.9 .5 5.3 .5M396.3 130.9l-4.4 .1-3.9 .2-3.9 .5-3.4 .5-2.5 .6-1.4 .6-.6 .7-.1 1 .2 1 .5 .6 1.4 .5 2 .4 3.4 .4 4.4 .4 3.9 .3 4.4 0"/>
<path fill="none" stroke="#0a0a0a" stroke-opacity="0.32" stroke-width="1.1" stroke-linejoin="round" d="M158.5 140l-5.3-.5-5.4-.9-3.4-.9-1.4-.6-.5-.5-.4-.5-.2-1 .1-1 .5-.8 .5-.4 1.4-.9 2-.7 1.9-.5 2.4-.6 2.5-.4 5.3-.5 5.4-.1 5.4 .3 2.9 .4 2.4 .4 2.5 .6 1.9 .6 1.5 .5 1.4 .9 .5 .4 .4 .8 .1 1-.1 1-.4 .5-.4 .4-1.5 .7-2.5 .7-4.4 .9-5.3 .6-4.9 .2-4.9-.1M314.4 140l-5.3-.5-5.4-.9-3.4-.9-1.5-.6-.5-.5-.3-.5-.2-1 .1-1 .4-.8 .5-.4 1.5-.9 1.9-.7 2-.5 2.4-.6 2.5-.4 5.3-.5 5.4-.1 5.3 .3 3 .4 2.4 .4 2.4 .6 2 .6 1.4 .5 1.5 .9 .5 .4 .4 .8 .1 1-.2 1-.3 .5-.5 .4-1.5 .7-2.4 .7-4.4 .9-5.3 .6-4.9 .2-4.9-.1M84.5 140.1l4.1-.1 4.2-.4 4.4-.6 3.4-.7 1.9-.6 1.5-.6 .5-.5 .3-.5 .2-1-.1-1-.4-.8-.5-.4-1-.6-1-.5-2.4-.8-3.4-.8-3.9-.5-3.9-.4-3.9-.1M236.3 140l5.1 .1 4.8-.2 5.4-.6 4.4-.9 2.4-.7 1.5-.7 .5-.4 .3-.5 .2-1-.1-1-.4-.8-.5-.4-1.5-.9-1.5-.5-1.9-.6-2.4-.6-2.5-.4-2.9-.4-5.4-.3-5.3 .1-5.4 .5-4.4 .8-3.4 1-1.4 .7-1 .6-.7 .7-.2 .5-.1 .5 0 .5 .2 1 .3 .5 .5 .5 1.5 .6 3.4 .9 4.8 .9 5.7 .5M396.3 129.2l-3.9 .1-3.9 .4-3.9 .5-3.4 .8-2.5 .8-1 .5-.9 .6-.5 .4-.4 .8-.1 1 .1 1 .4 .5 .5 .5 1.4 .6 2 .6 3.4 .7 4.4 .6 4.2 .4 4.1 .1"/>
<path fill="none" stroke="#0a0a0a" stroke-opacity="0.34" stroke-width="1.1" stroke-linejoin="round" d="M161 141.4l-2.9-.1-3-.3-2.9-.4-2.4-.6-2.5-.6-2.4-.8-1.5-.7-.9-.7-.5-.6-.3-.5-.2-1 .1-1 .4-.9 1-1.1 .9-.7 1.5-.8 1.9-.8 2-.6 2.4-.6 2.5-.4 2.9-.4 2.9-.2 2.4-.1 2.5 .1 2.9 .2 2.9 .4 2.9 .5 2.5 .7 2.4 .8 1.5 .6 1.4 .9 1 .8 .7 1.1 .2 1 0 1-.4 1-.4 .4-1.1 .9-2.4 1-3.9 1.1-4.9 .9-4.8 .5-4.4 0M316.9 141.4l-3-.1-2.9-.3-2.9-.4-2.4-.6-2.5-.6-2.4-.8-1.5-.7-1-.7-.4-.6-.3-.5-.2-1 .1-1 .4-.9 .9-1.1 1-.7 1.5-.8 1.9-.8 2-.6 2.4-.6 2.4-.4 3-.4 2.9-.2 2.4-.1 2.5 .1 2.9 .2 2.9 .4 2.9 .5 2.5 .7 2.4 .8 1.5 .6 1.4 .9 1 .8 .7 1.1 .2 1 0 1-.4 1-.4 .4-1.1 .9-2.4 1-3.9 1.1-4.9 .9-4.9 .5-4.3 0M84.5 141.5l3.9-.2 4.4-.4 4.4-.9 3.4-.9 2.4-.9 1-.6 .5-.4 .5-.6 .2-.5 .1-.5 .1-1-.1-.5-.3-.9-.5-.7-.5-.4-1-.7-1-.6-2.4-1-3.4-1-3.9-.7-3.9-.4-3.9-.2M238.5 141.4l4.8 0 4.9-.5 4.8-.9 3.9-1.1 2.5-1 1.1-.9 .3-.4 .4-1 .1-1-.2-1-.7-1.1-1-.8-1.5-.9-1.4-.6-2.5-.8-2.4-.7-2.9-.5-3-.4-2.9-.2-2.4-.1-2.5 .1-2.9 .2-2.9 .4-2.4 .4-2.5 .6-1.9 .6-2 .8-1.4 .8-1 .7-1 1.1-.4 .9 0 1 .2 1 .2 .5 .5 .6 1 .7 1.4 .7 2.5 .8 2.4 .6 2.5 .6 2.9 .4 2.9 .3 2.5 .1M396.3 127.5l-3.9 .2-3.9 .4-3.9 .7-3.4 1-2.5 1-1 .6-.9 .7-.5 .4-.5 .7-.4 .9 0 .5 0 1 .2 .5 .2 .5 .5 .6 .5 .4 .9 .6 2.5 .9 3.4 .9 4.4 .9 4.4 .4 3.9 .2"/>
<path fill="none" stroke="#0a0a0a" stroke-opacity="0.40" stroke-width="1.1" stroke-linejoin="round" d="M156.1 142.5l-2.9-.5-2.5-.6-2.4-.7-2.4-.9-1.5-.7-1.4-.9-1-.9-.7-1.2-.2-1.5 .1-1 .4-.9 .9-1.2 .9-.8 2-1.2 1.9-.9 2.5-.9 2.4-.7 2.4-.5 2.5-.4 2.4-.2 2.5-.1 2.4 .1 2.9 .2 2.4 .3 2.5 .5 2.9 .8 2.4 .9 2 .9 1.9 1.2 1 .8 .9 1.2 .4 .9 .1 1-.2 1.5-.5 .9-.7 .8-1 .7-1.4 .8-2 .9-1.9 .7-2.5 .6-2.4 .6-2.4 .4-2.5 .2-2.4 .2-2.4 0-2.5-.1-2.9-.3M312 142.5l-2.9-.5-2.5-.6-2.4-.7-2.4-.9-1.5-.7-1.5-.9-.9-.9-.7-1.2-.2-1.5 .1-1 .4-.9 .8-1.2 1-.8 2-1.2 1.9-.9 2.5-.9 2.4-.7 2.4-.5 2.5-.4 2.4-.2 2.4-.1 2.5 .1 2.9 .2 2.4 .3 2.5 .5 2.9 .8 2.4 .9 2 .9 1.9 1.2 1 .8 .8 1.2 .4 .9 .2 1-.2 1.5-.5 .9-.7 .8-1 .7-1.4 .8-2 .9-1.9 .7-2.5 .6-2.4 .6-2.4 .4-2.5 .2-2.4 .2-2.5 0-2.4-.1-2.9-.3M84.5 142.9l4.4-.2 3.9-.5 3.9-.9 3.4-1.1 2.4-1.1 1-.6 1-.7 .6-.8 .5-.9 .3-1.5-.2-1-.1-.4-.6-1-.5-.7-1-.8-1-.7-1.4-.8-1.5-.6-3.4-1.2-3.9-.9-3.9-.5-3.9-.2M233.6 142.4l2.9 .3 2.4 .2 2.5 0 2.4-.1 2.9-.3 2.4-.4 2.5-.6 2.4-.6 2-.7 1.9-.9 1.5-.8 1-.7 .6-.8 .5-.9 .2-1.5-.1-1-.4-.9-.8-1.2-1-.8-2-1.2-1.9-.9-2.5-.9-2.9-.8-2.4-.5-2.4-.3-3-.2-2.4-.1-2.4 .1-2.5 .2-2.4 .4-2.4 .5-2.5 .7-2.4 .9-2 .9-1.9 1.2-1 .8-.8 1.2-.4 .9-.2 1 .2 1.5 .7 1.2 1 .9 1.5 .9 1.4 .7 2.5 .9 2.4 .7 2.4 .6 2.5 .4M396.3 125.8l-3.9 .2-3.9 .5-3.9 .9-3.4 1.2-1.5 .6-1.5 .8-.9 .7-1 .8-.6 .7-.5 1-.2 .4-.1 1 .2 1.5 .5 .9 .7 .8 1 .7 .9 .6 2.5 1.1 3.4 1.1 3.9 .9 3.9 .5 4.4 .2"/>
<path fill="none" stroke="#0a0a0a" stroke-opacity="0.45" stroke-width="1.1" stroke-linejoin="round" d="M161 144.4l-2.9-.2-3-.5-2.9-.6-2.4-.8-2.9-1.1-2-1-1.5-.9-1.4-1.2-.8-1.1-.5-1.4-.1-1.5 .3-1.4 .6-1.2 1-1.1 1.4-1.2 2-1.2 1.9-1 2.5-.9 2.4-.8 2.9-.6 2.5-.4 2.9-.2 2.9 0 2.9 .2 2.9 .5 2.5 .5 2.9 1 2.4 1 2 1 1.9 1.3 1.5 1.3 .9 1.3 .4 1 .1 .9-.1 1.5-.3 1-.6 .9-.9 1-1 .8-1.4 .9-2 1-2.4 1-2.9 .9-2 .4-2.4 .5-2.5 .2-2.4 .2-2.4 0M316.9 144.4l-3-.2-2.9-.5-2.9-.6-2.4-.8-3-1.1-1.9-1-1.5-.9-1.4-1.2-.8-1.1-.6-1.4-.1-1.5 .4-1.4 .6-1.2 .9-1.1 1.5-1.2 2-1.2 1.9-1 2.4-.9 2.5-.8 2.9-.6 2.4-.4 3-.2 2.9 0 2.9 .2 2.9 .5 2.5 .5 2.9 1 2.4 1 2 1 1.9 1.3 1.5 1.3 .9 1.3 .3 1 .2 .9-.1 1.5-.3 1-.6 .9-.9 1-1 .8-1.4 .9-2 1-2.4 1-3 .9-1.9 .4-2.4 .5-2.5 .2-2.4 .2-2.4 0M84.5 144.4l3.9-.2 3.9-.6 3.9-.9 1.9-.7 2-.8 1.9-1 1-.6 1-.7 1-.8 .4-.6 .6-.9 .3-1 .1-1-.1-1-.3-.9-.4-1-.6-.8-1-1-1-.7-1.5-.9-1.4-.8-3.4-1.4-3.9-1.1-3.9-.7-2.5-.2-1.9 0M238.7 144.4l2.7 0 2.4-.2 2.4-.2 2.5-.5 1.9-.4 2.9-.9 2.5-1 1.4-.7 1.5-.9 1-.7 .9-.8 .8-1.1 .4-.9 .3-1.5-.2-1.4-.4-1-.9-1.3-1.4-1.3-2-1.3-1.9-1-2.5-1-2.4-.8-2.4-.6-3-.5-2.9-.3-2.4 0-2.9 .1-2.5 .3-2.4 .5-2.9 .8-2.5 .8-2.4 1.1-1.9 1.2-1.5 1-1.2 1.3-.8 1.2-.2 .8-.2 .9 .1 1.5 .6 1.4 .7 1 1.5 1.3 1.4 .9 2 1 2.4 1 3 .9 2.4 .5 2.9 .5 3.2 .3M396.3 124.1l-2 0-2.4 .2-3.9 .7-3.9 1.1-3.4 1.4-1.5 .8-1.5 .9-.9 .7-1 1-.6 .8-.5 1-.3 .9 0 1 .1 1 .3 1 .5 .9 .5 .6 1 .8 .9 .7 1 .6 2 1 1.9 .8 2 .7 3.9 .9 3.9 .6 3.9 .2"/>
<path fill="none" stroke="#0a0a0a" stroke-opacity="0.54" stroke-width="1.1" stroke-linejoin="round" d="M158.5 145.9l-2.9-.5-2.4-.6-2.9-.9-2.5-1-2.4-1.3-2-1.3-1.4-1.3-1.1-1.5-.7-1.4-.3-1.5 .1-1.4 .5-1.5 1-1.5 1-1.1 1.9-1.5 2-1.3 1.9-1 2.4-1 3-.9 2.4-.5 2.9-.4 2.5-.2 2.9 .1 2.4 .2 2.9 .5 3 .7 2.4 .9 2.4 1.1 2 1.1 1.9 1.4 1.5 1.3 1.2 1.6 .6 1.5 .2 1.4-.1 1.5-.5 1.4-.9 1.4-1 1.1-1.4 1.2-2 1.2-1.9 1-2.5 1-2.9 .9-2.4 .6-2.5 .4-2.9 .3-2.4 0-3-.2M314.4 145.9l-2.9-.5-2.4-.6-3-.9-2.4-1-2.4-1.3-2-1.3-1.4-1.3-1.2-1.5-.6-1.4-.3-1.5 .1-1.4 .5-1.5 .9-1.5 1-1.1 2-1.5 1.9-1.3 2-1 2.4-1 3-.9 2.4-.5 2.9-.4 2.4-.2 3 .1 2.4 .2 2.9 .5 2.9 .7 2.5 .9 2.4 1.1 2 1.1 1.9 1.4 1.5 1.3 1.2 1.6 .6 1.5 .2 1.4-.1 1.5-.5 1.4-.9 1.4-1 1.1-1.5 1.2-1.9 1.2-2 1-2.4 1-2.9 .9-2.5 .6-2.4 .4-2.9 .3-2.5 0-2.9-.2M84.5 146.1l1.9-.1 2.5-.2 3.9-.7 3.9-1.2 1.9-.8 2-.9 1.4-.9 1.5-1 1-.8 .9-1.1 .7-.9 .5-.9 .3-1 .1-1.5-.1-.9-.3-1-.4-1-.8-1-.9-1.1-1.5-1.2-1.5-1-1.9-1.1-3.4-1.5-2-.6-1.9-.5-3.9-.7-3.9-.2M236.1 145.8l2.8 .3 2.5 0 2.9-.2 2.4-.4 2.9-.7 2.5-.7 2.4-1 2.4-1.2 2-1.2 1.5-1.2 .9-1.1 .9-1.4 .5-1.4 .2-1.5-.2-1.4-.6-1.5-1.3-1.6-1.4-1.3-2-1.4-1.9-1.1-2.5-1.1-2.4-.9-2.9-.7-2.9-.5-2.5-.2-2.9-.1-2.4 .2-3 .4-2.4 .5-2.9 .9-2.4 1-2 1-1.9 1.3-2 1.5-1 1.1-.9 1.5-.5 1.5-.1 1.4 .2 1.5 .7 1.4 1.1 1.5 1.5 1.3 1.9 1.3 2 1.1 2.4 1 2.9 1 2.5 .6 3 .5M396.3 122.3l-3.9 .2-3.9 .7-2 .5-1.9 .6-3.4 1.5-2 1.1-1.5 1-1.4 1.2-1 1.1-.7 1-.5 1-.2 1-.1 .9 .1 1.5 .3 1 .5 .9 .6 .9 1 1.1 1 .8 1.4 1 1.5 .9 1.9 .9 2 .8 3.9 1.2 3.9 .7 2.4 .2 2 .1"/>
<path fill="none" stroke="#0a0a0a" stroke-opacity="0.62" stroke-width="1.1" stroke-linejoin="round" d="M159.5 147.8l-2.9-.4-2.9-.8-3-.9-2.4-1.1-2.4-1.4-2-1.3-1.9-1.8-1.3-1.6-.8-1.5-.5-1.4-.1-1 0-1 .2-1.4 .6-1.5 .9-1.3 1.5-1.6 1.9-1.6 2-1.4 2.7-1.4 2.3-1 2.8-.8 2.7-.6 2.6-.4 2.9-.1 2.5 .1 2.9 .3 2.4 .5 3 .9 2.4 1 2.9 1.5 2 1.4 1.9 1.6 1.5 1.6 .9 1.3 .6 1.5 .2 1.4 0 1-.2 1-.4 1.4-1.1 1.9-1.5 1.7-1.9 1.6-2.5 1.6-2.4 1.2-2.4 1-3 .9-2.9 .6-2.4 .3-2.9 .1-2.5-.1M315.4 147.8l-2.9-.4-2.9-.8-3-.9-2.4-1.1-2.4-1.4-2-1.3-1.9-1.8-1.3-1.6-.8-1.5-.5-1.4-.1-1-.1-1 .3-1.4 .6-1.5 .9-1.3 1.4-1.6 2-1.6 1.9-1.4 2.8-1.4 2.3-1 2.7-.8 2.8-.6 2.6-.4 2.9-.1 2.5 .1 2.9 .3 2.4 .5 2.9 .9 2.5 1 2.9 1.5 1.9 1.4 2 1.6 1.5 1.6 .9 1.3 .6 1.5 .2 1.4 0 1-.2 1-.5 1.4-1 1.9-1.5 1.7-2 1.6-2.4 1.6-2.4 1.2-2.5 1-2.9 .9-2.9 .6-2.4 .3-3 .1-2.4-.1M84.5 147.9l1.9 0 2.5-.3 1.9-.3 2-.5 1.9-.6 2-.7 1.9-.9 2-1.1 1.9-1.3 1.5-1.1 1-1 .9-1.2 .9-1.4 .4-.9 .4-1.5 .1-1-.1-.9-.3-1.5-.5-1-.9-1.3-.9-1.1-1.5-1.4-1.5-1.1-1.4-1-2-1-1.9-.9-2.5-.9-1.4-.4-2.5-.6-1.4-.2-2.5-.2-1.9-.1M237.4 147.8l2.5 .1 2.9-.1 2.5-.3 2.9-.6 2.9-.9 2.4-1 2.5-1.2 2.4-1.6 1.5-1.1 1.4-1.6 .8-1 .6-1 .6-1.4 .2-1.5 0-1.4-.3-1.5-.4-.9-.5-.7-1.5-1.8-1.4-1.4-2.5-1.7-2.4-1.4-1.9-.9-3-1-2.9-.8-2.9-.4-2.9-.2-2.5 .1-3.4 .3-2.4 .5-2.9 .9-2.5 1-2.1 1.1-2.3 1.4-1.9 1.5-1.5 1.5-1.1 1.4-.7 1.5-.4 1.5 0 .9 .1 1 .2 1 .4 .9 .8 1.5 1.2 1.6 2 1.8 1.9 1.3 2.5 1.4 2.4 1.1 2.9 .9 2.9 .8 2.9 .4M396.3 120.5l-2 .1-2.4 .2-1.5 .2-2.4 .6-1.5 .4-2.4 .9-2 .9-1.9 1-1.5 1-1.4 1.1-1.5 1.4-1 1.1-.9 1.3-.4 1-.4 1.5 0 .9 .1 1 .3 1.5 .5 .9 .8 1.4 1 1.2 1 1 1.4 1.1 2 1.3 1.9 1.1 2 .9 1.9 .7 2 .6 1.9 .5 2 .3 2.4 .3 2 0"/>
<path fill="none" stroke="#0a0a0a" stroke-opacity="0.74" stroke-width="1.1" stroke-linejoin="round" d="M159 149.7l-2.4-.4-2.9-.7-2.5-.9-2.4-1.2-2.4-1.4-2.5-1.8-1.9-1.8-1.2-1.5-1.2-2-.8-1.9-.3-2 .1-1.4 .4-1.5 .7-1.5 1.3-1.8 1.5-1.6 1.9-1.7 2.5-1.6 2.4-1.3 2.4-1.1 2.5-.8 2.9-.7 2.9-.3 2.9-.1 2.9 .2 3 .4 2.9 .8 2.4 .9 2.5 1.2 2.4 1.4 2 1.4 1.9 1.8 1.6 2 1.2 1.9 .5 1.5 .1 1 .1 .9-.3 2-.4 .9-.7 1.5-1.2 2-1.9 2-1.9 1.6-2.9 1.9-3 1.4-2.9 1.2-3.4 .8-2.9 .5-2.9 .1-3-.3M314.9 149.7l-2.4-.4-2.9-.7-2.5-.9-2.4-1.2-2.5-1.4-2.4-1.8-1.9-1.8-1.3-1.5-1.1-2-.8-1.9-.3-2 .1-1.4 .3-1.5 .8-1.5 1.3-1.8 1.4-1.6 2-1.7 2.4-1.6 2.5-1.3 2.4-1.1 2.4-.8 3-.7 2.9-.3 2.9-.1 2.9 .2 3 .4 2.9 .8 2.4 .9 2.4 1.2 2.5 1.4 1.9 1.4 2 1.8 1.6 2 1.2 1.9 .5 1.5 .1 1 0 .9-.3 2-.3 .9-.7 1.5-1.3 2-1.8 2-1.9 1.6-3 1.9-2.9 1.4-2.9 1.2-3.4 .8-2.9 .5-3 .1-2.9-.3M84.5 150l1.9-.1 2.5-.3 2.4-.5 2-.5 1.9-.7 2-.9 1.9-1 2-1.2 1.4-1.1 1.5-1.2 1-1.1 1.2-1.4 1.1-2 .7-1.4 .3-1.5 .1-1.5-.1-1.4-.3-1-.6-1.2-1-1.5-1-1.2-1.4-1.4-1.5-1.3-1.9-1.3-2-1.1-1.9-1-2-.8-1.9-.6-2-.5-1.9-.3-2.5-.3-1.9 0M236.8 149.7l3.1 .3 2.9-.1 2.9-.5 3.4-.8 3-1.2 2.9-1.4 2.9-1.9 2-1.6 1.8-2 1.3-2 .8-1.9 .5-2 0-1-.1-.9-.3-1.5-1.1-1.9-1.5-2-1.9-1.9-2-1.5-2.4-1.5-2.4-1.2-2.5-.9-2.9-.9-2.9-.5-2.9-.2-3 0-2.9 .4-2.4 .5-2.9 .8-2.5 1-2.4 1.3-2.5 1.6-1.9 1.6-1.5 1.4-1.5 2-.9 1.7-.5 1.7 0 1.4 .3 2 .7 1.9 1.2 2 1.2 1.5 2 1.8 2.4 1.8 2.4 1.4 2.5 1.2 2.4 .9 2.9 .7 2.3 .4M396.3 118.7l-2 0-2.4 .3-2 .3-1.9 .5-2 .6-1.9 .8-2 1-1.9 1.1-2 1.3-1.4 1.3-1.5 1.4-1 1.2-.9 1.5-.6 1.2-.3 1-.2 1.4 .1 1.5 .4 1.5 .6 1.4 1.2 2 1.1 1.4 1.1 1.1 1.4 1.2 1.5 1.1 1.9 1.2 2 1 1.9 .9 2 .7 1.9 .5 2.5 .5 2.4 .3 2 .1"/>
<path fill="none" stroke="#0a0a0a" stroke-opacity="0.86" stroke-width="1.1" stroke-linejoin="round" d="M159.5 152.2l-1.9-.3-2.5-.6-2.4-.8-2.4-1.1-2.5-1.4-1.9-1.3-2-1.6-1.4-1.3-1.5-1.7-1.1-1.6-1-2-.8-1.9-.4-2 0-1.4 .2-1.5 .5-1.5 1.1-2 1.4-1.9 1.6-1.7 1.9-1.7 2.5-1.7 2.4-1.4 2.4-1.1 2.5-.8 2.4-.6 2.4-.4 2.5-.2 2.9 0 2.4 .3 2.9 .6 2.5 .8 2.4 1 2 .9 1.4 .9 3 2.1 1.4 1.3 1.2 1.2 1.1 1.5 1 1.5 .8 1.4 .3 1 .3 1 .1 1.4-.1 1.5-.2 1-.9 2.4-.7 1.5-.9 1.4-1 1.3-1.5 1.6-1.4 1.3-2 1.4-1.4 1-2 1.1-1.9 1-2 .7-1.9 .6-2 .5-1.9 .3-2 .2-1.9 0-2-.2M315.4 152.2l-2-.3-2.4-.6-2.4-.8-2.5-1.1-2.4-1.4-1.9-1.3-2-1.6-1.5-1.3-1.4-1.7-1.1-1.6-1-2-.8-1.9-.4-2 0-1.4 .2-1.5 .5-1.5 1.1-2 1.4-1.9 1.5-1.7 2-1.7 2.4-1.7 2.5-1.4 2.4-1.1 2.4-.8 2.5-.6 2.4-.4 2.4-.2 3 0 2.4 .3 2.9 .6 2.5 .8 2.4 1 1.9 .9 1.5 .9 2.9 2.1 1.5 1.3 1.1 1.2 1.2 1.5 1 1.5 .7 1.4 .4 1 .3 1 .1 1.4-.1 1.5-.2 1-.9 2.4-.8 1.5-.9 1.4-.9 1.3-1.5 1.6-1.5 1.3-1.9 1.4-1.5 1-1.9 1.1-2 1-1.9 .7-2 .6-1.9 .5-2 .3-1.9 .2-2 0-1.9-.2M84.5 152.4l1.9-.1 2.5-.3 2.4-.6 2-.6 2.4-1 2-.9 1.9-1.2 1.9-1.4 1.5-1.2 1.5-1.3 1.4-1.7 1-1.4 1.2-2.2 .6-1.5 .4-1.9 .2-1.5-.2-1.4-.4-1.5-.7-1.4-.9-1.5-1.2-1.6-1.4-1.6-1.5-1.3-1.9-1.4-2-1.3-1.9-1-2-.9-2.4-.8-2-.5-2.4-.5-2-.2-1.9 0M237 152.1l1.9 .2 2 .1 3.4-.3 3.4-.8 1.9-.7 2-.8 3.4-1.8 1.5-1 1.9-1.4 1.5-1.3 1.4-1.6 1-1.3 .9-1.4 1.3-3 .4-1.4 .2-1 0-1.4-.1-1-.2-1-.4-1-.8-1.4-.8-1.4-1-1.2-1.4-1.6-1.5-1.3-1.5-1.1-2.9-1.9-2.4-1.2-2.5-.9-2.9-.8-2.4-.5-2.5-.2-2.9 0-2.4 .2-2.5 .5-2.9 .8-2.4 .9-2.4 1.2-2.5 1.6-1.9 1.4-2 1.8-1.8 2.2-1.3 2-.6 1.4-.5 1.5-.1 1.4 .2 2 .6 1.9 1.1 2.3 1 1.6 1.1 1.5 1.8 1.8 1.9 1.6 2.5 1.7 1.9 1.1 2 1 2.4 .9 2.4 .7 2.5 .4M396.3 116.7l-2 0-1.9 .2-2.5 .5-1.9 .5-2.5 .8-1.9 .9-2 1-1.9 1.3-2 1.4-1.4 1.3-1.5 1.6-1.2 1.6-.9 1.5-.7 1.4-.4 1.5-.1 1.4 .1 1.5 .5 1.9 .6 1.5 1.2 2.2 .9 1.4 1.5 1.7 1.4 1.3 1.5 1.2 2 1.4 1.9 1.2 2 .9 2.4 1 1.9 .6 2.5 .6 2.4 .3 2 .1"/>
<path fill="none" stroke="#0a0a0a" stroke-opacity="0.93" stroke-width="1.1" stroke-linejoin="round" d="M160 155.1l-1.9-.3-2-.5-2.4-.8-2.5-1.1-2.4-1.3-2.4-1.7-2-1.6-1.4-1.4-1.5-1.6-1.2-1.4-.9-1.5-1-1.9-.9-2.5-.6-1.9-.2-2 .2-1.9 .6-2 1-1.9 1-1.7 1.5-1.9 1.5-1.6 1.9-1.7 2-1.5 2.4-1.5 1.9-.9 2.5-1 2.4-.7 2.5-.5 2.4-.3 2.4-.1 2.5 .2 2.4 .3 1.9 .5 2.5 .8 1.9 .8 2 .9 1.9 1.2 1.5 1 1.9 1.6 1.5 1.4 1.5 1.7 1.1 1.5 .9 1.5 1 1.9 .5 1.5 .2 1.5 0 1.4-.2 1.5-.5 1.9-.9 2.5-1 1.9-1 1.5-1.6 2-1.5 1.5-1.9 1.7-2 1.5-1.9 1.3-2 1-2.4 1.1-2.4 .8-2.5 .6-1.9 .2-2.4 .1-2-.1M315.9 155.1l-2-.3-1.9-.5-2.4-.8-2.5-1.1-2.4-1.3-2.5-1.7-1.9-1.6-1.5-1.4-1.4-1.6-1.2-1.4-.9-1.5-1-1.9-1-2.5-.5-1.9-.2-2 .2-1.9 .6-2 .9-1.9 1.1-1.7 1.5-1.9 1.4-1.6 2-1.7 1.9-1.5 2.5-1.5 1.9-.9 2.5-1 2.4-.7 2.4-.5 2.5-.3 2.4-.1 2.4 .2 2.5 .3 1.9 .5 2.5 .8 1.9 .8 2 .9 1.9 1.2 1.5 1 1.9 1.6 1.5 1.4 1.4 1.7 1.2 1.5 .9 1.5 .9 1.9 .5 1.5 .3 1.5 0 1.4-.2 1.5-.5 1.9-.9 2.5-1 1.9-1 1.5-1.6 2-1.5 1.5-1.9 1.7-2 1.5-1.9 1.3-2 1-2.4 1.1-2.4 .8-2.5 .6-1.9 .2-2.5 .1-1.9-.1M84.5 155.2l1.9-.1 2.5-.3 1.9-.5 2.5-.8 2.4-1.1 2-1 1.9-1.3 1.9-1.5 2-1.7 1.5-1.5 1.4-1.8 1.2-1.7 .9-1.9 1.1-3 .5-1.9 .1-1.5-.1-1.4-.3-1.5-.8-1.9-1.1-2-1.5-2-1.4-1.7-1.5-1.4-2-1.6-1.9-1.3-1.9-1.1-2-.9-2.4-1-2-.5-2.4-.5-2.5-.3-1.9-.1M237.9 155.1l2 .1 2.4-.1 2-.2 2.4-.6 2.4-.8 2.5-1.1 1.9-1 2-1.3 1.9-1.5 2-1.7 1.4-1.5 1.7-2 .9-1.5 1-1.9 1-2.5 .5-1.9 .2-1.5-.1-1.4-.2-1.5-.5-1.5-.9-1.9-1-1.5-1.1-1.5-1.5-1.7-1.4-1.4-2-1.6-1.4-1-2-1.2-1.9-.9-2-.8-2.4-.8-2-.5-2.4-.3-2.4-.2-2.5 .1-2.4 .3-2.4 .5-2.5 .7-2.4 1-2 .9-2.4 1.5-1.9 1.5-2 1.7-1.5 1.6-1.4 1.9-1.1 1.7-.9 1.9-.6 2-.2 1.9 .2 2 .5 1.9 .9 2.5 1 1.9 1 1.5 1.1 1.4 1.5 1.6 1.5 1.4 1.9 1.6 2.4 1.7 2.5 1.3 1.9 .9 2.5 .9 2.4 .6 1.9 .3M396.3 114.4l-2 .1-2.4 .3-2.5 .5-1.9 .5-2.4 1-2 .9-1.9 1.1-2 1.3-1.9 1.6-1.5 1.4-1.5 1.7-1.4 2-1.1 2-.8 1.9-.3 1.5-.1 1.4 .1 1.5 .4 1.9 1.1 3 1 1.9 1.1 1.7 1.5 1.8 1.5 1.5 1.9 1.7 2 1.5 1.9 1.3 2 1 2.4 1.1 2.4 .8 2 .5 2.4 .3 2 .1"/>
<path fill="none" stroke="#0a0a0a" stroke-opacity="1.00" stroke-width="1.1" stroke-linejoin="round" d="M158.5 158.5l-2.4-.6-1.9-.7-2-.9-2.4-1.4-2.5-1.6-1.9-1.6-2-1.9-1.9-2.1-1.5-1.9-1.2-1.9-1-2-.8-1.9-.9-3-.3-1.9-.1-1.9 .2-2 .6-1.9 .8-2 1.3-2.2 1.5-2.2 1.9-2.1 1.9-1.9 2-1.5 2.4-1.6 2.4-1.3 2.5-1 1.9-.7 2.5-.5 2.4-.4 2.9-.1 2.5 .2 2.4 .4 1.9 .4 2 .7 2.4 1 2 1 1.9 1.2 2 1.4 1.9 1.7 1.6 1.7 1.6 1.9 1.4 2 1 1.9 .9 2 .6 1.9 .2 1.5 0 1.4-.2 2-.5 1.9-1 2.9-.9 2-1.3 2.2-1.4 2-2 2.2-1.9 1.9-2.5 2.1-2.4 1.6-2.4 1.4-2.5 1.1-2.4 .8-2.4 .5-2 .2-2.4 0-2.5-.4M314.4 158.5l-2.4-.6-2-.7-1.9-.9-2.4-1.4-2.5-1.6-1.9-1.6-2-1.9-1.9-2.1-1.5-1.9-1.2-1.9-1-2-.8-1.9-.9-3-.4-1.9 0-1.9 .2-2 .6-1.9 .8-2 1.3-2.2 1.5-2.2 1.9-2.1 1.9-1.9 2-1.5 2.4-1.6 2.4-1.3 2.5-1 1.9-.7 2.4-.5 2.5-.4 2.9-.1 2.4 .2 2.5 .4 1.9 .4 2 .7 2.4 1 2 1 1.9 1.2 2 1.4 1.9 1.7 1.6 1.7 1.6 1.9 1.3 2 1.1 1.9 .9 2 .5 1.9 .3 1.5 0 1.4-.3 2-.4 1.9-1 2.9-.9 2-1.3 2.2-1.4 2-2 2.2-1.9 1.9-2.5 2.1-2.4 1.6-2.5 1.4-2.4 1.1-2.4 .8-2.5 .5-1.9 .2-2.4 0-2.5-.4M159.5 163.4l-1.9-.4-2.5-.9-2.4-1.2-2.4-1.5-2.5-1.8-1.9-1.6-2.5-2.5-1.9-2.2-1.5-2-1.6-2.5-1.3-2.5-1-2.3-.6-2-.8-3.4-.2-2.5 .1-1.9 .3-2 .8-2.4 1-2.4 1.4-2.5 1.4-2.1 2-2.3 1.9-2 2.5-2 2.4-1.7 2-1 2.4-1.1 2.4-.9 2.5-.5 2.4-.4 2.9-.1 2.5 .2 2.4 .4 2.4 .6 2.5 .9 1.9 .9 2 1 2.4 1.7 2 1.6 1.9 1.9 1.9 2.2 1.5 2 1.3 2.2 1.2 2.4 .8 2 .6 2.4 .2 2-.1 2.4-.5 2.4-.9 3.4-.9 2.5-1.2 2.3-2 3.1-1.9 2.6-1.9 2.1-2.5 2.4-2.4 2-2.5 1.7-2.4 1.3-2.4 1.1-2.5 .7-2.4 .4-2.4 0-2-.2M315.4 163.4l-2-.4-2.4-.9-2.4-1.2-2.5-1.5-2.4-1.8-1.9-1.6-2.5-2.5-1.9-2.2-1.5-2-1.6-2.5-1.3-2.5-1-2.3-.6-2-.8-3.4-.2-2.5 0-1.9 .4-2 .7-2.4 1.1-2.4 1.4-2.5 1.4-2.1 2-2.3 1.9-2 2.5-2 2.4-1.7 1.9-1 2.5-1.1 2.4-.9 2.4-.5 2.5-.4 2.9-.1 2.4 .2 2.5 .4 2.4 .6 2.4 .9 2 .9 1.9 1 2.5 1.7 1.9 1.6 2 1.9 1.9 2.2 1.5 2 1.3 2.2 1.2 2.4 .7 2 .7 2.4 .2 2-.1 2.4-.5 2.4-.9 3.4-.9 2.5-1.2 2.3-2 3.1-1.9 2.6-2 2.1-2.4 2.4-2.4 2-2.5 1.7-2.4 1.3-2.4 1.1-2.5 .7-2.4 .4-2.5 0-1.9-.2M160 170.2l-1.9-.5-2.5-1-2.4-1.5-2.5-1.7-2.4-2.1-2.4-2.4-2.5-2.8-2.4-3.1-1.9-2.9-1.5-2.5-1.5-2.9-1.1-2.9-.8-2.7-.6-3.2-.4-2.9 0-2.4 .2-2 .7-2.9 .9-2.4 1.4-3 1.4-2.4 2-2.9 2.2-2.6 1.9-1.8 2-1.7 2.4-1.6 2.4-1.4 2.5-1.1 2.4-.8 2.9-.6 3-.3 2.4 .1 2.9 .3 2.5 .5 2.4 .8 2.4 1.1 2.5 1.4 2.4 1.6 2 1.7 1.9 1.8 1.9 2.3 2 2.7 1.7 2.9 1.2 2.5 .9 2.4 .8 2.9 .3 2.5 0 2.4-.4 2.9-.7 3.4-.9 3-1.4 3.4-1.5 2.8-2 3.1-2.4 3.3-2.4 2.9-2.5 2.6-2.9 2.6-2.9 2.1-2.4 1.5-2.5 1-2.4 .6-2 .2-2.4-.3M315.9 170.2l-2-.5-2.4-1-2.4-1.5-2.5-1.7-2.4-2.1-2.4-2.4-2.5-2.8-2.4-3.1-2-2.9-1.4-2.5-1.5-2.9-1.1-2.9-.8-2.7-.7-3.2-.3-2.9 0-2.4 .2-2 .7-2.9 .9-2.4 1.3-3 1.4-2.4 2.1-2.9 2.2-2.6 1.9-1.8 2-1.7 2.4-1.6 2.4-1.4 2.5-1.1 2.4-.8 2.9-.6 2.9-.3 2.5 .1 2.9 .3 2.4 .5 2.5 .8 2.4 1.1 2.4 1.4 2.5 1.6 1.9 1.7 2 1.8 1.9 2.3 2 2.7 1.7 2.9 1.2 2.5 .9 2.4 .7 2.9 .4 2.5 0 2.4-.4 2.9-.7 3.4-.9 3-1.4 3.4-1.5 2.8-2 3.1-2.4 3.3-2.4 2.9-2.5 2.6-2.9 2.6-2.9 2.1-2.5 1.5-2.4 1-2.4 .6-2 .2-2.4-.3M155.2 183.8l-.2-1.4-.4-1.5-.6-1.5-.8-1.4-1.9-3-6.4-8.6-3.4-4.9-2-3.1-1.4-2.6-2.5-4.9-1.7-4.6-.8-2.4-.5-2.5-.5-2.9-.3-2.4-.1-2.5 .1-1.9 .5-2.9 .8-3 1-2.9 1.3-2.9 1.5-2.9 1.7-2.6 1.9-2.5 2-2.2 1.9-1.8 2.5-2 2.4-1.5 2.4-1.3 2.5-1 2.9-.8 2.9-.5 2.4-.1 2.5 .1 2.9 .5 2.9 .8 2.5 1 2.4 1.3 2.4 1.5 2.5 2 1.9 1.8 2 2.2 1.9 2.5 1.7 2.6 1.5 2.9 1.3 2.9 1 2.9 .8 3 .4 2.9 .1 1.9 0 2.5-.3 2.4-.5 2.9-.5 2.5-.8 2.4-1.8 4.6-2.4 4.9-1.5 2.6-1.9 3.1-3.4 4.9-6.4 8.6-1.9 3-.8 1.4-.6 1.5-.4 1.5-.2 1.4M311 183.8l-.1-1.4-.4-1.5-.6-1.5-.8-1.4-2-3-6.3-8.6-3.4-4.9-2-3.1-1.4-2.6-2.5-4.9-1.8-4.6-.7-2.4-.6-2.5-.4-2.9-.3-2.4-.1-2.5 .1-1.9 .5-2.9 .7-3 1-2.9 1.3-2.9 1.6-2.9 1.7-2.6 1.9-2.5 1.9-2.2 2-1.8 2.4-2 2.5-1.5 2.4-1.3 2.4-1 3-.8 2.9-.5 2.4-.1 2.5 .1 2.9 .5 2.9 .8 2.4 1 2.5 1.3 2.4 1.5 2.4 2 2 1.8 1.9 2.2 2 2.5 1.6 2.6 1.6 2.9 1.3 2.9 1 2.9 .8 3 .4 2.9 .1 1.9-.1 2.5-.2 2.4-.5 2.9-.6 2.5-.7 2.4-1.8 4.6-2.4 4.9-1.5 2.6-1.9 3.1-3.4 4.9-6.4 8.6-1.9 3-.8 1.4-.6 1.5-.5 1.5-.1 1.4M145.1 183.8l-.1-1.9-.4-2.5-.4-1.9-.8-2.5-1.8-4.3-4.5-9.8-1.9-4.5-2-5.3-1.4-4.8-.6-2.4-.4-2.5-.3-2.9-.3-2.9 .1-3.9 .2-2 .4-2.4 .7-2.9 1-3.4 1.3-3.4 1.4-3 1.6-2.9 1.7-2.6 1.9-2.5 2-2.2 1.9-1.9 2.5-2 2.4-1.5 2.4-1.3 2.5-1 2.9-.8 2.9-.5 2.4-.1 2.5 .1 2.9 .5 2.9 .8 2.5 1 2.4 1.3 2.4 1.5 2.5 2 1.9 1.9 2 2.2 1.9 2.5 1.7 2.6 1.6 2.9 1.4 3 1.3 3.4 1 3.4 .7 2.9 .4 2.4 .2 2 0 3.9-.2 2.9-.3 2.9-.5 2.5-.5 2.4-1.4 4.8-2 5.3-1.9 4.5-4.5 9.8-1.8 4.3-.8 2.5-.5 1.9-.3 2.5-.1 1.9M301 183.8l-.1-1.9-.4-2.5-.5-1.9-.7-2.5-1.8-4.3-4.5-9.8-2-4.5-1.9-5.3-1.4-4.8-.6-2.4-.4-2.5-.4-2.9-.2-2.9 .1-3.9 .2-2 .4-2.4 .6-2.9 1.1-3.4 1.3-3.4 1.4-3 1.6-2.9 1.7-2.6 1.9-2.5 1.9-2.2 2-1.9 2.4-2 2.5-1.5 2.4-1.3 2.4-1 3-.8 2.9-.5 2.4-.1 2.5 .1 2.9 .5 2.9 .8 2.4 1 2.5 1.3 2.4 1.5 2.4 2 2 1.9 1.9 2.2 2 2.5 1.7 2.6 1.6 2.9 1.4 3 1.3 3.4 1 3.4 .7 2.9 .4 2.4 .2 2 0 3.9-.2 2.9-.4 2.9-.4 2.5-.5 2.4-1.5 4.8-1.9 5.3-1.9 4.5-4.6 9.8-1.7 4.3-.8 2.5-.5 1.9-.3 2.5-.1 1.9M138.6 183.8l0-1.9-.2-2.5-.4-2.4-.5-2.4-1.3-4.9-3.3-10.7-1.5-5.4-1.3-5.3-.9-5.4-.6-6.3 0-2.5 0-2.4 .2-2.4 .4-3 1.1-5.4 1-3.5 1.2-3.7 1.4-3.4 1.4-3 1.8-3.2 1.8-2.6 2.1-2.8 2-2.1 1.9-1.8 2.4-1.9 2.5-1.6 2.4-1.2 2.4-1 2.5-.7 2.4-.4 2.9-.2 3 .2 2.4 .4 2.4 .7 2.5 1 2.4 1.2 2.4 1.6 2.5 1.9 1.9 1.8 2 2.1 2.1 2.8 1.8 2.6 1.8 3.2 1.4 3 1.4 3.4 1.2 3.7 1 3.5 1.1 5.4 .4 3 .2 2.4 0 2.4-.1 2.5-.5 6.3-.9 5.4-1.3 5.3-1.5 5.4-3.3 10.7-1.3 4.9-.5 2.4-.4 2.4-.2 2.5 0 1.9M294.5 183.8l-.1-1.9-.2-2.5-.3-2.4-.5-2.4-1.3-4.9-3.3-10.7-1.6-5.4-1.2-5.3-.9-5.4-.6-6.3-.1-2.5 .1-2.4 .2-2.4 .4-3 1.1-5.4 .9-3.5 1.3-3.7 1.4-3.4 1.4-3 1.8-3.2 1.7-2.6 2.2-2.8 1.9-2.1 2-1.8 2.4-1.9 2.5-1.6 2.4-1.2 2.4-1 2.5-.7 2.4-.4 2.9-.2 2.9 .2 2.5 .4 2.4 .7 2.4 1 2.5 1.2 2.4 1.6 2.5 1.9 1.9 1.8 2 2.1 2.1 2.8 1.8 2.6 1.7 3.2 1.4 3 1.4 3.4 1.3 3.7 1 3.5 1.1 5.4 .3 3 .3 2.4 0 2.4-.1 2.5-.5 6.3-.9 5.4-1.3 5.3-1.5 5.4-3.3 10.7-1.3 4.9-.5 2.4-.4 2.4-.2 2.5-.1 1.9M133.2 183.8l-.2-4.9-.6-5.3-.8-4.9-2.6-13.1-1.1-7.3-.6-5.4-.3-5.9-.1-5.8 .3-3.4 .3-3.4 .5-3.4 .7-3.9 .7-3.4 .9-3.4 1.2-3.9 1.2-3.5 1.5-3.4 1.4-3 1.5-2.6 2-3 1.9-2.5 2-2.2 1.9-1.9 2.4-2 2.5-1.6 2.4-1.3 2.4-1 2.5-.7 2.4-.4 2.9-.2 3 .2 2.4 .4 2.4 .7 2.5 1 2.4 1.3 2.4 1.6 2.5 2 1.9 1.9 2 2.2 1.9 2.5 2 3 1.4 2.6 1.5 3 1.5 3.4 1.2 3.5 1.2 3.9 .9 3.4 .7 3.4 .7 3.9 .5 3.4 .3 3.4 .3 3.4-.1 5.8-.3 5.9-.6 5.4-1.2 7.3-2.5 13.1-.8 4.9-.6 5.3-.2 4.9M289.1 183.8l-.2-4.9-.6-5.3-.9-4.9-2.5-13.1-1.1-7.3-.6-5.4-.4-5.9 0-5.8 .2-3.4 .4-3.4 .5-3.4 .7-3.9 .7-3.4 .9-3.4 1.2-3.9 1.2-3.5 1.5-3.4 1.4-3 1.5-2.6 1.9-3 2-2.5 1.9-2.2 2-1.9 2.4-2 2.5-1.6 2.4-1.3 2.4-1 2.5-.7 2.4-.4 2.9-.2 2.9 .2 2.5 .4 2.4 .7 2.4 1 2.5 1.3 2.4 1.6 2.5 2 1.9 1.9 2 2.2 1.9 2.5 2 3 1.4 2.6 1.5 3 1.4 3.4 1.3 3.5 1.2 3.9 .8 3.4 .8 3.4 .7 3.9 .5 3.4 .3 3.4 .2 3.4 0 5.8-.3 5.9-.6 5.4-1.2 7.3-2.5 13.1-.8 4.9-.6 5.3-.2 4.9M128.2 183.8l-.1-5.3-.3-5.4-1.6-18.5-.6-7.8-.3-8.3-.1-7.3 .2-4.9 .3-4.8 .5-5.4 .5-4.9 .7-4.5 .8-4.7 .9-4.4 1-3.9 1.2-4.1 1.2-3.7 1.6-3.9 1.5-3.4 1.5-2.8 2-3.2 1.9-2.8 2.4-3.1 2.5-2.6 2.4-2.3 2.4-1.9 2.5-1.6 2.4-1.2 2.5-.9 1.9-.4 2.4-.2 2.5 .2 1.9 .4 2.5 .9 2.4 1.2 2.4 1.6 2.5 1.9 2.4 2.3 2.4 2.6 2.5 3.1 1.9 2.8 2 3.2 1.4 2.8 1.6 3.4 1.6 3.9 1.2 3.7 1.2 4.1 1 3.9 .9 4.4 .8 4.7 .7 4.5 .5 4.9 .5 5.4 .3 4.8 .2 4.9-.1 7.3-.3 8.3-.6 7.8-1.6 18.5-.3 5.4-.2 5.3M284.1 183.8l-.1-5.3-.3-5.4-1.7-18.5-.5-7.8-.4-8.3 0-7.3 .2-4.9 .3-4.8 .4-5.4 .6-4.9 .6-4.5 .9-4.7 .9-4.4 .9-3.9 1.2-4.1 1.3-3.7 1.6-3.9 1.5-3.4 1.5-2.8 1.9-3.2 2-2.8 2.4-3.1 2.5-2.6 2.4-2.3 2.4-1.9 2.5-1.6 2.4-1.2 2.4-.9 2-.4 2.4-.2 2.5 .2 1.9 .4 2.4 .9 2.5 1.2 2.4 1.6 2.4 1.9 2.5 2.3 2.4 2.6 2.5 3.1 1.9 2.8 2 3.2 1.4 2.8 1.6 3.4 1.5 3.9 1.3 3.7 1.2 4.1 1 3.9 .9 4.4 .8 4.7 .6 4.5 .6 4.9 .5 5.4 .3 4.8 .2 4.9-.1 7.3-.3 8.3-.6 7.8-1.7 18.5-.3 5.4-.1 5.3M123.5 183.8l0-146.1M279.3 183.8l.1-146.1M201.4 37.7l0 146.1M357.3 37.7l0 146.1M118.7 183.8l.1-5.3 .3-5.4 1.7-18.5 .6-7.8 .3-8.3 0-7.3-.1-4.9-.3-4.8-.5-5.4-.6-4.9-.6-4.5-.8-4.7-1-4.4-.9-3.9-1.2-4.1-1.3-3.7-1.5-3.9-1.6-3.4-1.5-2.8-1.9-3.2-2-2.8-2.4-3.1-2.4-2.6-2.5-2.3-2.4-1.9-2.4-1.6-2.5-1.2-2.4-.9-2-.4-2.4-.2M274.6 183.8l.1-5.3 .3-5.4 1.7-18.5 .5-7.8 .4-8.3 0-7.3-.2-4.9-.3-4.8-.4-5.4-.6-4.9-.6-4.5-.9-4.7-.9-4.4-.9-3.9-1.2-4.1-1.3-3.7-1.6-3.9-1.5-3.4-1.5-2.8-1.9-3.2-2-2.8-2.4-3.1-2.5-2.6-2.4-2.3-2.4-1.9-2.5-1.6-2.4-1.2-2.4-.9-2-.4-2.4-.2-2.5 .2-1.9 .4-2.4 .9-2.5 1.2-2.4 1.6-2.4 1.9-2.5 2.3-2.4 2.6-2.5 3.1-1.9 2.8-2 3.2-1.4 2.8-1.6 3.4-1.5 3.9-1.3 3.7-1.2 4.1-1 3.9-.9 4.4-.8 4.7-.6 4.5-.6 4.9-.5 5.4-.3 4.8-.2 4.9 .1 7.3 .3 8.3 .6 7.8 1.7 18.5 .3 5.4 .1 5.3M396.3 55.6l-2.5 .2-1.9 .4-2.5 .9-2.4 1.2-2.4 1.6-2.5 1.9-2.4 2.3-2.4 2.6-2.5 3.1-1.9 2.8-2 3.2-1.4 2.8-1.6 3.4-1.6 3.9-1.2 3.7-1.2 4.1-1 3.9-.9 4.4-.8 4.7-.7 4.5-.5 4.9-.5 5.4-.3 4.8-.2 4.9 .1 7.3 .3 8.3 .6 7.8 1.6 18.5 .3 5.4 .2 5.3M113.7 183.8l.2-4.9 .7-5.3 .8-4.9 2.5-13.1 1.2-7.3 .5-5.4 .4-5.9 0-5.8-.2-3.4-.4-3.4-.4-3.4-.7-3.9-.8-3.4-.8-3.4-1.2-3.9-1.3-3.5-1.4-3.4-1.5-3-1.5-2.6-1.9-3-2-2.5-1.9-2.2-2-1.9-2.4-2-2.4-1.6-2.5-1.3-2.4-1-2.4-.7-2.5-.4-2.9-.2M269.6 183.8l.2-4.9 .6-5.3 .9-4.9 2.5-13.1 1.1-7.3 .6-5.4 .4-5.9 0-5.8-.2-3.4-.4-3.4-.5-3.4-.7-3.9-.7-3.4-.9-3.4-1.2-3.9-1.2-3.5-1.5-3.4-1.4-3-1.5-2.6-1.9-3-2-2.5-1.9-2.2-2-1.9-2.4-2-2.5-1.6-2.4-1.3-2.4-1-2.5-.7-2.4-.4-2.9-.2-2.9 .2-2.5 .4-2.4 .7-2.4 1-2.5 1.3-2.4 1.6-2.5 2-1.9 1.9-2 2.2-1.9 2.5-2 3-1.4 2.6-1.5 3-1.4 3.4-1.3 3.5-1.2 3.9-.8 3.4-.8 3.4-.7 3.9-.5 3.4-.3 3.4-.2 3.4 0 5.8 .3 5.9 .6 5.4 1.2 7.3 2.5 13.1 .8 4.9 .6 5.3 .2 4.9M396.3 77.1l-3 .2-2.4 .4-2.4 .7-2.5 1-2.4 1.3-2.4 1.6-2.5 2-1.9 1.9-2 2.2-1.9 2.5-2 3-1.4 2.6-1.5 3-1.5 3.4-1.2 3.5-1.2 3.9-.9 3.4-.7 3.4-.7 3.9-.5 3.4-.3 3.4-.3 3.4 .1 5.8 .3 5.9 .6 5.4 1.2 7.3 2.5 13.1 .8 4.9 .6 5.3 .2 4.9M108.3 183.8l.1-1.9 .2-2.5 .4-2.4 .5-2.4 1.2-4.9 3.4-10.7 1.5-5.4 1.2-5.3 .9-5.4 .6-6.3 .1-2.5-.1-2.4-.2-2.4-.4-3-1-5.4-1-3.5-1.3-3.7-1.4-3.4-1.4-3-1.8-3.2-1.7-2.6-2.2-2.8-1.9-2.1-2-1.8-2.4-1.9-2.4-1.6-2.5-1.2-2.4-1-2.4-.7-2.5-.4-2.9-.2M264.2 183.8l.1-1.9 .2-2.5 .3-2.4 .5-2.4 1.3-4.9 3.3-10.7 1.6-5.4 1.2-5.3 .9-5.4 .6-6.3 .1-2.5-.1-2.4-.2-2.4-.4-3-1.1-5.4-.9-3.5-1.3-3.7-1.4-3.4-1.4-3-1.8-3.2-1.7-2.6-2.2-2.8-1.9-2.1-2-1.8-2.4-1.9-2.5-1.6-2.4-1.2-2.4-1-2.5-.7-2.4-.4-2.9-.2-2.9 .2-2.5 .4-2.4 .7-2.4 1-2.5 1.2-2.4 1.6-2.5 1.9-1.9 1.8-2 2.1-2.1 2.8-1.8 2.6-1.7 3.2-1.4 3-1.4 3.4-1.3 3.7-1 3.5-1.1 5.4-.3 3-.3 2.4 0 2.4 .1 2.5 .5 6.3 .9 5.4 1.3 5.3 1.5 5.4 3.3 10.7 1.3 4.9 .5 2.4 .4 2.4 .2 2.5 .1 1.9M396.3 87.8l-3 .2-2.4 .4-2.4 .7-2.5 1-2.4 1.2-2.4 1.6-2.5 1.9-1.9 1.8-2 2.1-2.1 2.8-1.8 2.6-1.8 3.2-1.4 3-1.4 3.4-1.2 3.7-1 3.5-1.1 5.4-.4 3-.2 2.4 0 2.4 .1 2.5 .5 6.3 .9 5.4 1.3 5.3 1.5 5.4 3.3 10.7 1.3 4.9 .5 2.4 .4 2.4 .2 2.5 0 1.9M101.9 183.8l0-1.9 .4-2.5 .5-1.9 .8-2.5 1.7-4.3 4.5-9.8 2-4.5 1.9-5.3 1.4-4.8 .6-2.4 .4-2.5 .4-2.9 .2-2.9 0-3.9-.2-2-.4-2.4-.7-2.9-1.1-3.4-1.3-3.4-1.3-3-1.6-2.9-1.7-2.6-2-2.5-1.9-2.2-2-1.9-2.4-2-2.4-1.5-2.5-1.3-2.4-1-2.9-.8-3-.5-2.4-.1M257.7 183.8l.1-1.9 .4-2.5 .5-1.9 .7-2.5 1.8-4.3 4.5-9.8 2-4.5 1.9-5.3 1.4-4.8 .6-2.4 .4-2.5 .4-2.9 .2-2.9-.1-3.9-.2-2-.4-2.4-.6-2.9-1.1-3.4-1.3-3.4-1.4-3-1.6-2.9-1.7-2.6-1.9-2.5-1.9-2.2-2-1.9-2.4-2-2.5-1.5-2.4-1.3-2.4-1-3-.8-2.9-.5-2.4-.1-2.5 .1-2.9 .5-2.9 .8-2.4 1-2.5 1.3-2.4 1.5-2.4 2-2 1.9-1.9 2.2-2 2.5-1.7 2.6-1.6 2.9-1.4 3-1.3 3.4-1 3.4-.7 2.9-.4 2.4-.2 2 0 3.9 .2 2.9 .4 2.9 .4 2.5 .5 2.4 1.5 4.8 1.9 5.3 1.9 4.5 4.6 9.8 1.7 4.3 .8 2.5 .5 1.9 .3 2.5 .1 1.9M396.3 95.3l-2.5 .1-2.9 .5-2.9 .8-2.5 1-2.4 1.3-2.4 1.5-2.5 2-1.9 1.9-2 2.2-1.9 2.5-1.7 2.6-1.6 2.9-1.4 3-1.3 3.4-1 3.4-.7 2.9-.4 2.4-.2 2 0 3.9 .2 2.9 .3 2.9 .5 2.5 .5 2.4 1.4 4.8 2 5.3 1.9 4.5 4.5 9.8 1.8 4.3 .8 2.5 .5 1.9 .3 2.5 .1 1.9M91.8 183.8l.1-1.4 .4-1.5 .7-1.5 .8-1.4 1.9-3 6.3-8.6 3.4-4.9 2-3.1 1.5-2.6 2.4-4.9 1.8-4.6 .7-2.4 .6-2.5 .4-2.9 .3-2.4 .1-2.5-.1-1.9-.5-2.9-.7-3-1-2.9-1.3-2.9-1.6-2.9-1.6-2.6-2-2.5-1.9-2.2-2-1.8-2.4-2-2.4-1.5-2.5-1.3-2.4-1-2.9-.8-3-.5-2.4-.1M247.7 183.8l.1-1.4 .4-1.5 .6-1.5 .8-1.4 2-3 6.3-8.6 3.4-4.9 2-3.1 1.4-2.6 2.5-4.9 1.8-4.6 .7-2.4 .6-2.5 .4-2.9 .3-2.4 .1-2.5-.1-1.9-.5-2.9-.7-3-1-2.9-1.3-2.9-1.6-2.9-1.7-2.6-1.9-2.5-1.9-2.2-2-1.8-2.4-2-2.5-1.5-2.4-1.3-2.4-1-3-.8-2.9-.5-2.4-.1-2.5 .1-2.9 .5-2.9 .8-2.4 1-2.5 1.3-2.4 1.5-2.4 2-2 1.8-1.9 2.2-2 2.5-1.6 2.6-1.6 2.9-1.3 2.9-1 2.9-.8 3-.4 2.9-.1 1.9 .1 2.5 .2 2.4 .5 2.9 .6 2.5 .7 2.4 1.8 4.6 2.4 4.9 1.5 2.6 1.9 3.1 3.4 4.9 6.4 8.6 1.9 3 .8 1.4 .6 1.5 .5 1.5 .1 1.4M396.3 100.8l-2.5 .1-2.9 .5-2.9 .8-2.5 1-2.4 1.3-2.4 1.5-2.5 2-1.9 1.8-2 2.2-1.9 2.5-1.7 2.6-1.5 2.9-1.3 2.9-1 2.9-.8 3-.4 2.9-.1 1.9 0 2.5 .3 2.4 .5 2.9 .5 2.5 .8 2.4 1.8 4.6 2.4 4.9 1.5 2.6 1.9 3.1 3.4 4.9 6.4 8.6 1.9 3 .8 1.4 .6 1.5 .4 1.5 .2 1.4M84.5 170.5l2.4-.3 2-.5 2.4-1 2.5-1.5 2.4-1.7 2.9-2.6 2.9-3 2.5-2.9 1.9-2.6 2-3 1.5-2.7 1.5-3.4 .9-2.4 .7-2.9 .6-3.4 .2-3-.2-2.4-.5-2.4-1-3-1-2.4-1.6-2.9-1.6-2.4-2-2.5-1.9-2-2-1.8-2.4-1.8-2.4-1.5-2.5-1.2-2.4-.9-2.4-.6-3-.5-2.4-.1M237.7 170.2l2.2 .3 2.4-.2 2.5-.6 2.4-1 2.4-1.5 3-2.1 2.9-2.6 2.4-2.6 2.5-2.9 2.4-3.3 1.9-3.1 1.5-2.8 1.5-3.4 .9-3 .7-3.4 .3-2.9 0-2.4-.3-2.5-.8-2.9-.9-2.4-1.1-2.5-1.8-2.9-1.9-2.7-2-2.3-1.9-1.8-2-1.7-2.4-1.6-2.4-1.4-2.5-1.1-2.4-.8-2.4-.5-3-.3-2.4-.1-2.9 .3-2.9 .6-2.5 .8-2.4 1.1-2.4 1.4-2.5 1.6-1.9 1.7-2 1.8-2.2 2.6-2 2.9-1.4 2.4-1.4 3-.8 2.4-.7 2.9-.3 2 0 2.4 .4 2.9 .6 3.2 .8 2.7 1.2 2.9 1.4 2.9 1.5 2.5 1.9 2.9 2.5 3.1 2.4 2.8 2.5 2.4 2.4 2.1 2.4 1.7 2.5 1.5 1.9 .8 2.2 .7M396.3 105.2l-2.5 .1-2.9 .5-2.4 .6-2.5 .9-2.4 1.2-2.4 1.5-2.5 1.8-1.9 1.8-2 2-1.9 2.5-1.6 2.4-1.6 2.9-1.1 2.4-.9 3-.5 2.4-.2 2.4 .2 3 .5 3.4 .8 2.9 .8 2.4 1.6 3.4 1.5 2.7 1.9 3 2 2.6 2.4 2.9 2.9 3 3 2.6 2.4 1.7 2.4 1.5 2.5 1 1.9 .5 2.5 .3M84.5 163.7l1.9-.2 2.5-.4 2.4-.8 2.5-1.1 2.4-1.4 2.4-1.8 2.5-2 2.4-2.5 1.9-2.2 2-2.7 1.5-2.4 1.2-2.3 .9-2.5 .8-2.9 .5-2.4 .2-2.5-.2-1.9-.4-2-.8-2.4-1.3-2.7-1.4-2.4-1.5-2-1.9-2.2-2-1.9-1.9-1.6-2.5-1.7-2.4-1.3-2-.8-2.4-.9-2.4-.5-2.5-.4-2.4-.1M237.2 163.4l2.2 .2 2.4 0 2.5-.4 2.4-.7 2.4-1.1 2.5-1.3 2.4-1.7 2.5-2 2.4-2.4 1.9-2.1 2-2.6 1.9-3.1 1.2-2.3 1-2.5 .9-3.4 .4-2.4 .1-2.4-.2-2-.6-2.4-.7-2-1.2-2.4-1.4-2.2-1.4-2-2-2.2-1.9-1.9-2-1.6-2.4-1.7-1.9-1-2-.9-2.4-.9-2.5-.6-2.4-.4-2.4-.2-3 .1-2.4 .4-2.4 .5-2.5 .9-2.4 1.1-1.9 1-2.5 1.7-2.4 2-2 2-1.9 2.3-1.5 2.1-1.3 2.5-1.1 2.4-.8 2.4-.3 2-.1 1.9 .3 2.5 .7 3.4 .7 2 .9 2.3 1.3 2.5 1.7 2.5 1.4 2 2 2.2 2.4 2.5 2 1.6 2.4 1.8 2.4 1.5 2.5 1.2 1.9 .7 2.2 .6M396.3 108.8l-2.5 .1-2.4 .4-2.4 .5-2.5 .9-1.9 .8-2.5 1.3-2.4 1.7-2 1.6-1.9 1.9-1.9 2.2-1.5 2-1.5 2.4-1.2 2.7-.9 2.4-.4 2-.1 1.9 .2 2.5 .5 2.4 .8 2.9 .9 2.5 1.2 2.3 1.5 2.4 1.9 2.7 2 2.2 2.4 2.5 2.4 2 2.5 1.8 2.4 1.4 2.4 1.1 2.5 .8 2.4 .4 2 .2M84.5 158.9l2.4-.1 2.5-.5 1.9-.5 2.5-1 1.9-1 2.4-1.5 2.5-1.8 1.9-1.7 2-2 1.4-1.7 1.5-2 1.3-2.2 1.1-2.4 .9-3 .4-1.9 .2-2-.2-1.9-.3-1.5-.7-1.9-1.3-2.5-1.4-2.1-1.5-1.9-1.9-2-2-1.7-1.9-1.4-2-1.2-1.9-1-2.4-1-2-.7-2.4-.5-2.5-.4-2.4-.1M236.3 158.5l2.1 .3 2.5 .1 2.4-.2 2.4-.5 2.5-.8 2.4-1.1 2.4-1.4 2-1.3 1.9-1.5 2.5-2.3 1.9-2.1 1.8-2.4 1.5-2.4 .9-2 .9-2.9 .5-1.9 .2-2 0-1.4-.2-1.5-.6-1.9-.8-2-1.1-1.9-1.3-2-1.6-1.9-1.6-1.7-2-1.7-1.9-1.4-2-1.2-1.9-1-2.5-1-1.9-.7-2-.4-2.4-.4-2.4-.2-3 .1-2.4 .4-2.4 .5-2 .7-2.4 1-2.4 1.3-2.5 1.6-1.9 1.5-2 1.9-1.8 2.1-1.6 2.2-1.2 2.2-.9 2-.5 1.9-.3 2 .1 1.9 .4 1.9 .9 3 .7 1.9 1 2 1.3 1.9 1.4 1.9 2 2.1 1.9 1.9 2 1.6 2.4 1.6 2.5 1.4 1.9 .9 1.9 .7 2.3 .6M396.3 111.8l-2.5 .1-2.4 .4-2.4 .5-2 .7-2.4 1-2 1-1.9 1.2-2 1.4-1.9 1.7-2 2-1.4 1.9-1.5 2.1-1.2 2.5-.7 1.9-.4 1.5-.1 1.9 .2 2 .4 1.9 .9 3 1.1 2.4 1.3 2.2 1.4 2 1.5 1.7 1.9 2 2 1.7 2.4 1.8 2.5 1.5 1.9 1 2.4 1 2 .5 2.4 .5 2.5 .1"/>
<path d="M84.5 134.8H396.3" stroke="#111" stroke-width="1"/>
<g filter="url(#bl2)"><rect x="83.5" y="132.3" width="21.5" height="5" fill="#000" opacity="0.8"/><ellipse cx="104.8" cy="134.8" rx="5.2" ry="4.3" fill="#000"/><rect x="142.0" y="132.3" width="41.0" height="5" fill="#000" opacity="0.8"/><ellipse cx="142.2" cy="134.8" rx="5.2" ry="4.3" fill="#000"/><ellipse cx="182.7" cy="134.8" rx="5.2" ry="4.3" fill="#000"/><rect x="219.9" y="132.3" width="41.0" height="5" fill="#000" opacity="0.8"/><ellipse cx="220.1" cy="134.8" rx="5.2" ry="4.3" fill="#000"/><ellipse cx="260.7" cy="134.8" rx="5.2" ry="4.3" fill="#000"/><rect x="297.8" y="132.3" width="41.0" height="5" fill="#000" opacity="0.8"/><ellipse cx="298.0" cy="134.8" rx="5.2" ry="4.3" fill="#000"/><ellipse cx="338.6" cy="134.8" rx="5.2" ry="4.3" fill="#000"/><rect x="375.8" y="132.3" width="21.5" height="5" fill="#000" opacity="0.8"/><ellipse cx="376.0" cy="134.8" rx="5.2" ry="4.3" fill="#000"/></g>
<rect x="84.5" y="134.0" width="19.5" height="1.6" fill="#8d897e"/>
<rect x="143.0" y="134.0" width="39.0" height="1.6" fill="#8d897e"/>
<rect x="220.9" y="134.0" width="39.0" height="1.6" fill="#8d897e"/>
<rect x="298.8" y="134.0" width="39.0" height="1.6" fill="#8d897e"/>
<rect x="376.8" y="134.0" width="19.5" height="1.6" fill="#8d897e"/></g></g><rect x="84.50" y="37.67" width="311.76" height="146.14" fill="none" stroke="#333" stroke-opacity="0.85" stroke-width="1" filter="url(#bl)"/>
<g font-family="DejaVu Sans, Liberation Sans, sans-serif" fill="#000" stroke="#000" stroke-width="0.3"><rect x="70.00" y="23.60" width="342.40" height="174.00" fill="none" stroke="#4a4a4a" stroke-width="1"/>
<path d="M84.50 197.60v-3.2M84.50 23.60v3.2M162.44 197.60v-3.2M162.44 23.60v3.2M240.38 197.60v-3.2M240.38 23.60v3.2M318.32 197.60v-3.2M318.32 23.60v3.2M396.26 197.60v-3.2M396.26 23.60v3.2M70.00 193.56h3.2M412.40 193.56h-3.2M70.00 174.07h3.2M412.40 174.07h-3.2M70.00 154.58h3.2M412.40 154.58h-3.2M70.00 135.10h3.2M412.40 135.10h-3.2M70.00 115.61h3.2M412.40 115.61h-3.2M70.00 96.13h3.2M412.40 96.13h-3.2M70.00 76.64h3.2M412.40 76.64h-3.2M70.00 57.16h3.2M412.40 57.16h-3.2M70.00 37.67h3.2M412.40 37.67h-3.2" stroke="#4a4a4a" stroke-width="1" fill="none"/>
<text x="66.00" y="198.41" font-size="13.30" text-anchor="end" >-1.5</text>
<text x="66.00" y="178.92" font-size="13.30" text-anchor="end" >-1</text>
<text x="66.00" y="159.44" font-size="13.30" text-anchor="end" >-0.5</text>
<text x="66.00" y="139.95" font-size="13.30" text-anchor="end" >0</text>
<text x="66.00" y="120.47" font-size="13.30" text-anchor="end" >0.5</text>
<text x="66.00" y="100.98" font-size="13.30" text-anchor="end" >1</text>
<text x="66.00" y="81.50" font-size="13.30" text-anchor="end" >1.5</text>
<text x="66.00" y="62.01" font-size="13.30" text-anchor="end" >2</text>
<text x="66.00" y="42.53" font-size="13.30" text-anchor="end" >2.5</text>
<text x="84.50" y="214.50" font-size="13.30" text-anchor="middle" >0</text>
<text x="162.44" y="214.50" font-size="13.30" text-anchor="middle" >2</text>
<text x="240.38" y="214.50" font-size="13.30" text-anchor="middle" >4</text>
<text x="318.32" y="214.50" font-size="13.30" text-anchor="middle" >6</text>
<text x="396.26" y="214.50" font-size="13.30" text-anchor="middle" >8</text>
<text x="241.00" y="229.50" font-size="13.30" text-anchor="middle" >x(mm)</text>
<text transform="translate(12.8 110.5) rotate(-90)" font-size="13.30" text-anchor="middle">y(mm)</text>
<text x="204.30" y="15.70" font-size="13.40" text-anchor="start" >Electric potential (V)</text>
<linearGradient id="cb1" x1="0" y1="1" x2="0" y2="0">
<stop offset="0.0000" stop-color="#000080"/>
<stop offset="0.0156" stop-color="#00008f"/>
<stop offset="0.0312" stop-color="#00009f"/>
<stop offset="0.0469" stop-color="#0000af"/>
<stop offset="0.0625" stop-color="#0000bf"/>
<stop offset="0.0781" stop-color="#0000cf"/>
<stop offset="0.0938" stop-color="#0000df"/>
<stop offset="0.1094" stop-color="#0000ef"/>
<stop offset="0.1250" stop-color="#0000ff"/>
<stop offset="0.1406" stop-color="#0010ff"/>
<stop offset="0.1562" stop-color="#0020ff"/>
<stop offset="0.1719" stop-color="#0030ff"/>
<stop offset="0.1875" stop-color="#0040ff"/>
<stop offset="0.2031" stop-color="#0050ff"/>
<stop offset="0.2188" stop-color="#0060ff"/>
<stop offset="0.2344" stop-color="#0070ff"/>
<stop offset="0.2500" stop-color="#0080ff"/>
<stop offset="0.2656" stop-color="#008fff"/>
<stop offset="0.2812" stop-color="#009fff"/>
<stop offset="0.2969" stop-color="#00afff"/>
<stop offset="0.3125" stop-color="#00bfff"/>
<stop offset="0.3281" stop-color="#00cfff"/>
<stop offset="0.3438" stop-color="#00dfff"/>
<stop offset="0.3594" stop-color="#00efff"/>
<stop offset="0.3750" stop-color="#00ffff"/>
<stop offset="0.3906" stop-color="#10ffef"/>
<stop offset="0.4062" stop-color="#20ffdf"/>
<stop offset="0.4219" stop-color="#30ffcf"/>
<stop offset="0.4375" stop-color="#40ffbf"/>
<stop offset="0.4531" stop-color="#50ffaf"/>
<stop offset="0.4688" stop-color="#60ff9f"/>
<stop offset="0.4844" stop-color="#70ff8f"/>
<stop offset="0.5000" stop-color="#80ff80"/>
<stop offset="0.5156" stop-color="#8fff70"/>
<stop offset="0.5312" stop-color="#9fff60"/>
<stop offset="0.5469" stop-color="#afff50"/>
<stop offset="0.5625" stop-color="#bfff40"/>
<stop offset="0.5781" stop-color="#cfff30"/>
<stop offset="0.5938" stop-color="#dfff20"/>
<stop offset="0.6094" stop-color="#efff10"/>
<stop offset="0.6250" stop-color="#ffff00"/>
<stop offset="0.6406" stop-color="#ffef00"/>
<stop offset="0.6562" stop-color="#ffdf00"/>
<stop offset="0.6719" stop-color="#ffcf00"/>
<stop offset="0.6875" stop-color="#ffbf00"/>
<stop offset="0.7031" stop-color="#ffaf00"/>
<stop offset="0.7188" stop-color="#ff9f00"/>
<stop offset="0.7344" stop-color="#ff8f00"/>
<stop offset="0.7500" stop-color="#ff8000"/>
<stop offset="0.7656" stop-color="#ff7000"/>
<stop offset="0.7812" stop-color="#ff6000"/>
<stop offset="0.7969" stop-color="#ff5000"/>
<stop offset="0.8125" stop-color="#ff4000"/>
<stop offset="0.8281" stop-color="#ff3000"/>
<stop offset="0.8438" stop-color="#ff2000"/>
<stop offset="0.8594" stop-color="#ff1000"/>
<stop offset="0.8750" stop-color="#ff0000"/>
<stop offset="0.8906" stop-color="#ef0000"/>
<stop offset="0.9062" stop-color="#df0000"/>
<stop offset="0.9219" stop-color="#cf0000"/>
<stop offset="0.9375" stop-color="#bf0000"/>
<stop offset="0.9531" stop-color="#af0000"/>
<stop offset="0.9688" stop-color="#9f0000"/>
<stop offset="0.9844" stop-color="#8f0000"/>
<stop offset="1.0000" stop-color="#800000"/>
</linearGradient>
<rect x="494.4" y="46.3" width="11.4" height="145.3" fill="url(#cb1)"/>
<path d="M494.8 46.3V191.6M505.4 46.3V191.6" stroke="#000" stroke-opacity="0.45" stroke-width="0.8" fill="none"/>
<text x="511.00" y="52.05" font-size="13.30" text-anchor="start" >1.00</text>
<text x="511.00" y="88.38" font-size="13.30" text-anchor="start" >0.50</text>
<text x="511.00" y="124.70" font-size="13.30" text-anchor="start" >0.00</text>
<text x="511.00" y="161.03" font-size="13.30" text-anchor="start" >-0.50</text>
<text x="511.00" y="197.35" font-size="13.30" text-anchor="start" >-1.00</text>
<path d="M494.4 82.6h2.2M505.8 82.6h-2.2M494.4 119.0h2.2M505.8 119.0h-2.2M494.4 155.3h2.2M505.8 155.3h-2.2" stroke="#000" stroke-width="0.9"/>
<text x="505.8" y="37.6" font-size="12.8">×10<tspan dy="-5.6" font-size="8.6">3</tspan></text></g>
<defs><radialGradient id="sp"><stop offset="0" stop-color="#7f0000"/><stop offset="0.18" stop-color="#c81000"/><stop offset="0.36" stop-color="#e8e000"/><stop offset="0.58" stop-color="#50ff90"/><stop offset="0.8" stop-color="#00d8ff" stop-opacity="0.7"/><stop offset="1" stop-color="#00a0ff" stop-opacity="0"/></radialGradient></defs>
<g transform="scale(1.11368 1)"><rect x="90.33" y="292.23" width="311.76" height="146.81" fill="#00008e"/>
<g stroke="none" fill-rule="evenodd"><path fill="#000091" d="M92.3 438.1l.2 .9 73.6 0 .2-.9 1-1 1-.2 .9 .2 1 1 .2 .9 73.7 0 .2-.9 .9-1 1-.2 1 .2 .9 1 .3 .9 73.6 0 .2-.9 1-1 1-.2 .9 .2 1 1 .2 .9 73.6 0 .3-.9 .9-1 1-.2 0-46.7-18.5-.1 18.5-.1 0-83.5-2.9-.3-3-.7-3.1-1.5-2.6-2-1.7-1.9-1.8-3-.6-1.9-.4-3-45.8 0-.3 3-.7 1.9-1.7 3-1.8 1.9-2.6 2-3.1 1.5-2.9 .7-2.9 .3-3-.3-2.9-.7-3.1-1.5-2.6-2-1.8-1.9-1.7-3-.7-1.9-.3-3-45.8 0-.4 3-.6 1.9-1.8 3-1.7 1.9-2.6 2-3.1 1.5-3 .7-2.9 .3-2.9-.3-2.9-.7-3.1-1.5-2.6-2-1.8-1.9-1.7-3-.7-1.9-.4-3-45.8 0-.3 3-.7 1.9-1.7 3-1.8 1.9-2.6 2-3.1 1.5-2.9 .7-2.9 .3-3-.3-2.9-.7-3.1-1.5-2.6-2-1.8-1.9-1.7-3-.6-1.9-.4-3-45.8 0-.4 3-.6 1.9-1.7 3-1.8 1.9-2.6 2-3.1 1.5-2.9 .7-3 .3 0 83.5 18.6 .1-18.6 .1 0 46.7 1 .2 1 1zM149.8 390.1l37 0-37 0zM227.7 390.1l37 0-37 0zM305.6 390.1l37.1 0-37.1 0z"/>
<path fill="#000095" d="M94.7 439l69.2 0 .1-.9 .4-.9 .7-1.1 1.2-.9 1-.4 1-.1 .9 .1 1 .4 1.2 .9 .8 1.1 .3 .9 .1 .9 69.3 0 .1-.9 .3-.9 .7-1.1 1.3-.9 .9-.4 1-.1 1 .1 1 .4 1.2 .9 .7 1.1 .3 .9 .1 .9 69.3 0 .1-.9 .4-.9 .7-1.1 1.2-.9 1-.4 1-.1 .9 .1 1 .4 1.2 .9 .7 1.1 .4 .9 .1 .9 69.3 0 .1-.9 .3-.9 .7-1.1 1.2-.9 1-.4 1-.1 0-44.4-18.6-.2 18.6-.1 0-72.3-5.9-.4-5.8-1.1-5.8-1.7-10.8-4.1-3.9-1.4-3.9-.8-2.9-.2-3.9 .3-3.9 1-11.6 4.5-6.9 2.2-5.8 1.2-4.9 .4-2.9 0-3.9-.2-3.9-.6-2.9-.6-5.9-1.7-10.7-4.1-3.9-1.4-3.9-.8-2.9-.2-3.9 .3-3.9 1-11.6 4.5-6 1.9-4.8 1.1-4.9 .7-3.9 .2-2.9-.1-3.9-.4-3.9-.8-6.8-1.9-10.7-4.1-3.9-1.4-3.9-.8-3-.2-2.9 .2-3.9 .8-3.9 1.4-10.7 4.1-5.8 1.7-3 .6-3.9 .6-3.9 .2-2.9 0-4.8-.4-5.9-1.2-6.9-2.2-11.6-4.5-3.9-1-3.9-.3-2.9 .2-3.9 .8-3.9 1.4-10.7 4.1-5.9 1.7-5.8 1.1-5.9 .4 0 72.3 18.6 .1-18.6 .2 0 44.4 1 .1 1 .4 1.2 .9 .7 1.1 .4 .9 .1 .9zM149.8 390.1l15.5-.1 21.5 .1-15.6 .1-21.4-.1zM227.7 390.1l15.6-.1 21.5 .1-15.7 .1-21.4-.1zM305.6 390.1l15.6-.1 21.5 .1-15.6 .1-21.5-.1z"/>
<path fill="#000098" d="M96.9 439l64.8 0 .3-1.9 .4-1 1-1.3 1-.9 .9-.6 1-.4 2-.3 1.9 .3 1 .4 1 .6 .9 .9 1 1.3 .4 1 .3 1.9 64.9 0 .3-1.9 .4-1 .9-1.3 1-.9 1-.6 1-.4 1.9-.3 2 .3 .9 .4 1 .6 1 .9 .9 1.3 .4 1 .4 1.9 64.8 0 .3-1.9 .4-1 1-1.3 1-.9 .9-.6 1-.4 2-.3 1.9 .3 1 .4 .9 .6 1 .9 1 1.3 .4 1 .3 1.9 64.8 0 .4-1.9 .4-1 .9-1.3 1-.9 1-.6 .9-.4 2-.3 0-42.3-18.6-.2 18.6-.2 0-63.9-4.9-.1-4.9-.4-20.4-2.9-4.9-.4-3.9-.1-3.9 .1-4.8 .4-20.4 2.9-8.9 .5-4.8-.1-5.9-.4-20.5-2.9-4.8-.4-3.9-.1-3.9 .1-3.9 .3-18.5 2.7-4.9 .5-4.9 .3-5.8 0-5.9-.4-5.8-.7-15.6-2.3-4.9-.4-3.9-.1-3.9 .1-4.8 .4-20.5 2.9-5.8 .4-5.9 .1-4.8-.2-4.9-.5-19.5-2.8-3.9-.3-3.9-.1-3.9 .1-4.9 .4-20.4 2.9-4.9 .4-4.9 .1 0 63.9 18.6 .2-18.6 .2 0 42.3 2 .3 1 .4 .9 .6 1 .9 1 1.3 .4 1 .3 1.9zM149.8 390.2l0-.2 .9 0 14.6-.1 21.5 .2-15.6 .2-21.4-.1zM227.7 390.2l0-.2 1 0 14.6-.1 21.5 .2-15.7 .2-21.4-.1zM305.6 390.2l0-.2 1 0 14.6-.1 21.5 .2-15.6 .2-21.5-.1z"/>
<path fill="#00009c" d="M99.1 438.1l0 .9 60.4 0 .2-1.9 .3-1 1.1-2 .8-.9 1.5-1.2 1.4-.8 1.5-.5 2-.2 1.9 .2 1.5 .5 1.4 .8 1.5 1.2 .9 .9 1 2 .3 1 .3 1.9 60.3 0 .2-1.9 .3-1 1.1-2 .9-.9 1.4-1.2 1.5-.8 1.5-.5 1.9-.2 2 .2 1.4 .5 1.5 .8 1.5 1.2 .8 .9 1.1 2 .3 1 .2 1.9 60.3 0 .3-1.9 .3-1 1.1-2 .8-.9 1.5-1.2 1.4-.8 1.5-.5 2-.2 1.9 .2 1.5 .5 1.4 .8 1.5 1.2 .8 .9 1.1 2 .3 1 .3 1.9 60.3 0 .2-1.9 .3-1 1.1-2 .8-.9 1.5-1.2 1.5-.8 1.4-.5 2-.2 0-40.1-14.6-.1-4-.2 4-.2 14.6-.1 0-57.3-8.8-.3-20.4-1.6-9.8-.3-8.7 .3-19.5 1.5-9.8 .4-9.7-.3-20.5-1.6-9.7-.3-8.8 .3-18.5 1.5-8.8 .4-10.7-.2-21.4-1.7-9.8-.3-9.7 .3-20.5 1.6-10.7 .3-9.7-.4-18.5-1.5-8.8-.3-9.7 .3-20.5 1.6-8.8 .3 0 57.3 14.6 .1 4 .2-4 .2-14.6 .1 0 40.1 2 .2 1 .3 1.9 1 1 .7 1 1 .9 1.4 .5 1 .5 2zM149.8 390.2l0-.2 .9 0 14.6-.2 15.6 .1 5.9 .2-2.9 .2-12.7 .1-21.4-.2zM227.7 390.2l0-.2 1 0 14.6-.2 15.6 .1 5.9 .2-3 .2-12.7 .1-21.4-.2zM305.6 390.2l0-.2 1 0 14.6-.2 15.6 .1 5.9 .2-3 .2-12.6 .1-21.5-.2z"/>
<path fill="#00009f" d="M101.5 439l55.6 0 .2-1.9 .6-2 1.1-1.9 1.5-1.7 1.9-1.4 2-.9 1.9-.5 2-.2 1.9 .2 2 .5 1.9 .9 2 1.4 1.4 1.7 1.1 1.9 .6 2 .2 1.9 55.7 0 .2-1.9 .6-2 1.1-1.9 1.4-1.7 2-1.4 1.9-.9 2-.5 1.9-.2 2 .2 1.9 .5 2 .9 1.9 1.4 1.4 1.7 1.1 1.9 .7 2 .2 1.9 55.6 0 .2-1.9 .6-2 1.1-1.9 1.5-1.7 1.9-1.4 2-.9 1.9-.5 2-.2 1.9 .2 1.9 .5 2 .9 1.9 1.4 1.5 1.7 1.1 1.9 .6 2 .2 1.9 55.7 0 .1-1.9 .7-2 1.1-1.9 1.4-1.7 1.9-1.4 2-.9 1.9-.5 2-.2 0-38-14.6-.2-3.9-.1-.1-.1 .1-.1 3.9-.1 14.6-.2 0-52-8.8-.2-20.4-1-9.8-.2-8.7 .1-19.5 1.1-9.8 .2-9.7-.2-20.5-1-9.7-.2-8.8 .1-18.5 1-8.8 .3-10.7-.1-21.4-1.1-9.8-.2-9.7 .2-20.5 1-10.7 .2-9.7-.3-18.5-1-8.8-.1-9.7 .2-20.5 1-8.8 .2 0 52 14.6 .2 3.9 .1 .1 .1-.1 .1-3.9 .1-14.6 .2 0 38 2 .2 1.9 .5 2 .9 1.9 1.4 1.5 1.7 1.1 1.9 .6 2 .2 1.9zM149.8 390.2l0-.2 .9-.1 14.6-.1 15.6 0 5.9 .2 .1 .1-.1 .1-2.9 .1-12.7 .2-21.4-.3zM227.7 390.2l0-.2 1-.1 14.6-.1 15.6 0 5.8 .2 .1 .1-.1 .1-2.9 .1-12.7 .2-21.4-.3zM305.6 390.2l0-.2 1-.1 14.6-.1 15.6 0 5.9 .2 0 .1 0 .1-3 .1-12.6 .2-21.5-.3z"/>
<path fill="#0000a3" d="M103.9 439l50.8 0 .4-2.9 .7-2 1.2-1.9 1.7-2 1.8-1.4 2.9-1.4 1.9-.6 3-.3 2.9 .3 1.9 .6 3 1.4 1.7 1.4 1.8 2 1.1 1.9 .8 2 .3 2.9 50.8 0 .4-2.9 .7-2 1.2-1.9 1.7-2 1.8-1.4 2.9-1.4 2-.6 2.9-.3 2.9 .3 2 .6 2.9 1.4 1.8 1.4 1.7 2 1.2 1.9 .7 2 .4 2.9 50.8 0 .4-2.9 .7-2 1.1-1.9 1.8-2 1.8-1.4 2.9-1.4 1.9-.6 3-.3 2.9 .3 1.9 .6 2.9 1.4 1.8 1.4 1.8 2 1.1 1.9 .7 2 .4 2.9 50.8 0 .4-2.9 .7-2 1.2-1.9 1.7-2 1.8-1.4 2.9-1.4 2-.6 2.9-.3 0-35.9-14.6-.2-3.9-.2-.1-.1 .1-.1 3.9-.2 14.6-.1 0-47.6-9.8-.2-20.4-.7-8.8-.2-8.7 .2-20.5 .7-8.8 .2-8.7-.1-20.5-.8-10.7-.2-9.8 .2-26.3 .9-10.7-.1-20.4-.8-10.8-.2-10.7 .2-20.4 .8-9.8 .1-8.7-.2-19.5-.7-8.8-.2-8.8 .2-20.4 .7-9.8 .2 0 47.6 14.6 .1 3.9 .2 .1 .1-.1 .1-3.9 .2-14.6 .2 0 35.9 3 .3 1.9 .6 2.9 1.4 1.8 1.4 1.7 2 1.2 1.9 .7 2 .4 2.9zM149.8 390.2l0-.2 .9-.1 14.6-.2 15.6 .1 5.9 .2 .1 .1-.1 .1-2.9 .2-12.7 .1-11.7 0-9.7-.3zM227.7 390.2l0-.2 1-.1 14.6-.2 15.6 .1 5.8 .2 .1 .1-.1 .1-2.9 .2-12.7 .1-11.7 0-9.7-.3zM305.6 390.2l0-.2 1-.1 14.6-.2 15.6 .1 5.9 .2 .1 .1-.1 .1-3 .2-12.6 .1-11.7 0-9.8-.3z"/>
<path fill="#0000a7" d="M106.5 439l45.6 0 .4-2.9 .6-2 1.7-2.9 1.8-2 2.9-2.2 2.9-1.4 2.9-.7 3-.3 2.9 .3 2.9 .7 2.9 1.4 3 2.2 1.7 2 1.7 2.9 .7 2 .3 2.9 45.6 0 .4-2.9 .6-2 1.7-2.9 1.8-2 2.9-2.2 3-1.4 2.9-.7 2.9-.3 2.9 .3 3 .7 2.9 1.4 2.9 2.2 1.8 2 1.7 2.9 .6 2 .4 2.9 45.6 0 .3-2.9 .7-2 1.7-2.9 1.8-2 2.9-2.2 2.9-1.4 2.9-.7 3-.3 2.9 .3 2.9 .7 2.9 1.4 2.9 2.2 1.8 2 1.7 2.9 .7 2 .3 2.9 45.6 0 .4-2.9 .6-2 1.7-2.9 1.8-2 2.9-2.2 2.9-1.4 3-.7 2.9-.3 0-34-14.6-.2-3.9-.1-.1-.2 .1-.2 3.9-.1 14.6-.2 0-43.8-39-.8-38 .8-39.9-.8-9.8 .1-27.2 .7-9.8-.1-20.4-.6-10.8-.1-39.9 .8-38-.8-39 .8 0 43.8 14.6 .2 3.9 .1 .2 .2-.2 .2-3.9 .1-14.6 .2 0 34 3 .3 2.9 .7 2.9 1.4 2.9 2.2 1.8 2 1.7 2.9 .6 2 .4 2.9zM149.8 390.3l-.2-.2 .2-.2 .9 0 14.6-.3 15.6 .1 5.9 .2 .1 .2-.1 .2-2.9 .1-12.7 .2-11.7 0-9.7-.3zM227.7 390.3l-.1-.2 .1-.2 1 0 14.6-.3 15.6 .1 5.8 .2 .1 .2-.1 .2-2.9 .1-12.7 .2-11.7 0-9.7-.3zM305.6 390.3l-.1-.2 .1-.2 1 0 14.6-.3 15.6 .1 5.9 .2 .1 .2-.1 .2-3 .1-12.6 .2-11.7 0-9.8-.3z"/>
<path fill="#0000aa" d="M109.3 439l40 0 .3-2.9 1.1-2.9 1.9-3 1.1-1.2 1.8-1.7 2.9-2 3.1-1.3 2.9-.9 3.9-.3 3.9 .3 2.9 .9 3.1 1.3 2.9 2 1.8 1.7 1.1 1.2 1.9 3 1 2.9 .4 2.9 39.9 0 .4-2.9 1-2.9 1.9-3 1.1-1.2 1.8-1.7 2.9-2 3.1-1.3 2.9-.9 3.9-.3 3.9 .3 2.9 .9 3.1 1.3 2.9 2 1.8 1.7 1.1 1.2 1.9 3 1 2.9 .4 2.9 40 0 .3-2.9 1.1-2.9 1.8-3 1.1-1.2 1.9-1.7 2.9-2 3-1.3 3-.9 3.9-.3 3.8 .3 3 .9 3 1.3 2.9 2 1.9 1.7 1.1 1.2 1.8 3 1.1 2.9 .3 2.9 40 0 .4-2.9 1-2.9 1.9-3 1.1-1.2 1.8-1.7 2.9-2 3.1-1.3 2.9-.9 3.9-.3 0-32.1-14.6-.2-3.9-.2-.1-.2 .1-.2 3.9-.2 14.6-.2 0-40.4-39-.7-38 .7-39.9-.7-37 .7-41-.7-39.9 .7-38-.7-39 .7 0 40.4 14.6 .2 3.9 .2 .2 .2-.2 .2-3.9 .2-14.6 .2 0 32.1 3.9 .3 3 .9 3 1.3 2.9 2 1.8 1.7 1.2 1.2 1.8 3 1.1 2.9 .3 2.9zM149.8 390.3l-.2-.2 .2-.2 .9 0 14.6-.4 15.6 .2 5.9 .2 .1 .2-.1 .2-2.9 .1-12.7 .3-11.7-.1-9.7-.3zM227.7 390.3l-.1-.2 .1-.2 1 0 14.6-.4 15.6 .2 5.8 .2 .1 .2-.1 .2-2.9 .1-12.7 .3-11.7-.1-9.7-.3zM305.6 390.3l-.1-.2 .1-.2 1 0 14.6-.4 15.6 .2 5.9 .2 .1 .2-.1 .2-3 .1-12.6 .3-11.7-.1-9.8-.3z"/>
<path fill="#0000ae" d="M112.5 439l33.6 0 .4-2.9 .6-2 1-1.9 2.1-3 3-2.9 3.4-2.2 3.9-1.8 3.9-1 3.9-.3 3.9 .3 3.9 1 3.9 1.8 3.3 2.2 3.1 2.9 2.1 3 .9 1.9 .7 2 .3 2.9 33.7 0 .3-2.9 .7-2 .9-1.9 2.1-3 3.1-2.9 3.3-2.2 3.9-1.8 3.9-1 3.9-.3 3.9 .3 3.9 1 3.9 1.8 3.3 2.2 3.1 2.9 2.1 3 1 1.9 .6 2 .3 2.9 33.7 0 .4-2.9 .6-2 .9-1.9 2.1-3 3.1-2.9 3.4-2.2 3.9-1.8 3.9-1 3.9-.3 3.8 .3 3.9 1 3.9 1.8 3.4 2.2 3.1 2.9 2.1 3 .9 1.9 .6 2 .4 2.9 33.7 0 .3-2.9 .6-2 1-1.9 2.1-3 3.1-2.9 3.3-2.2 3.9-1.8 3.9-1 3.9-.3 0-30.2-14.6-.3-3.9-.2-.2-.2 .2-.2 3.9-.2 14.6-.2 0-37.5-39-.6-11.7 .1-26.3 .5-39.9-.6-11.7 .1-25.3 .5-41-.6-39.9 .6-26.3-.5-11.7-.1-39 .6 0 37.5 14.6 .2 3.9 .2 .2 .2-.2 .2-3.9 .2-14.6 .3 0 30.2 3.9 .3 3.9 1 3.9 1.8 3.4 2.2 3 2.9 2.1 3 1 1.9 .6 2 .4 2.9zM149.8 390.3l-.2-.2 .2-.2 .9-.1 14.6-.3 15.6 .1 5.9 .3 .1 .2-.1 .2-2.9 .2-12.7 .3-11.7-.1-9.7-.4zM227.7 390.3l-.1-.2 .1-.2 1-.1 14.6-.3 15.6 .1 5.8 .3 .2 .2-.2 .2-2.9 .2-12.7 .3-11.7-.1-9.7-.4zM305.6 390.3l-.1-.2 .1-.2 1-.1 14.6-.3 15.6 .1 5.9 .3 .1 .2-.1 .2-3 .2-12.6 .3-11.7-.1-9.8-.4z"/>
<path fill="#0000b1" d="M116.2 439l26.2 0 .4-2.9 .7-2 1-1.9 1.4-2 1.7-1.9 3.3-3 2.8-1.8 1.9-1.1 3.9-1.6 2-.6 2.9-.6 3.9-.3 3.9 .3 2.9 .6 1.9 .6 3.9 1.6 2 1.1 2.7 1.8 3.4 3 1.7 1.9 1.3 2 1.1 1.9 .7 2 .4 2.9 26.1 0 .4-2.9 .7-2 1-1.9 1.4-2 1.7-1.9 3.3-3 2.8-1.8 1.9-1.1 3.9-1.6 2-.6 2.9-.6 3.9-.3 3.9 .3 2.9 .6 2 .6 3.9 1.6 1.9 1.1 2.8 1.8 3.3 3 1.7 1.9 1.4 2 1 1.9 .7 2 .4 2.9 26.2 0 .4-2.9 .6-2 1.1-1.9 1.3-2 1.8-1.9 3.3-3 2.7-1.8 2-1.1 3.9-1.6 1.9-.6 3-.6 3.9-.3 3.8 .3 3 .6 1.9 .6 3.9 1.6 2 1.1 2.7 1.8 3.4 3 1.7 1.9 1.3 2 1.1 1.9 .6 2 .4 2.9 26.2 0 .4-2.9 .7-2 1-1.9 1.4-2 1.7-1.9 3.3-3 2.8-1.8 1.9-1.1 3.9-1.6 2-.6 2.9-.6 3.9-.3 0-28.4-14.6-.3-3.9-.3-.2-.2 .2-.2 3.9-.3 14.6-.2 0-34.8-36.1-.6-15.5 .1-26.3 .5-33.2-.6-17.5 .1-27.3 .5-26.3-.5-16.6-.1-35 .6-25.4-.5-13.6-.1-13.6 .1-25.4 .5 0 34.8 14.6 .2 3.9 .3 .2 .2-.2 .2-3.9 .3-14.6 .3 0 28.4 3.9 .3 3 .6 1.9 .6 3.9 1.6 1.9 1.1 2.8 1.8 3.3 3 1.7 1.9 1.4 2 1 1.9 .7 2 .4 2.9zM149.8 390.3l-.2-.2 .2-.2 .9-.1 14.6-.4 15.6 .2 5.9 .3 .1 .2-.1 .2-2.9 .2-12.7 .3-11.7 0-9.7-.5zM227.7 390.3l-.2-.2 .2-.2 1-.1 14.6-.4 15.6 .2 5.8 .3 .2 .2-.2 .2-2.9 .2-12.7 .3-11.7 0-9.7-.5zM305.6 390.3l-.1-.2 .1-.2 1-.1 14.6-.4 15.6 .2 5.9 .3 .1 .2-.1 .2-3 .2-12.6 .3-11.7 0-9.8-.5z"/>
<path fill="#0000b5" d="M121.4 439l15.8 0 .3-1.9 .3-1 .9-2 1.3-1.9 1.7-2 1.9-1.9 2.2-2 2.6-1.9 5-3 2.2-1 2.9-1.1 4.9-1.3 4.9-.4 4.8 .4 4.9 1.3 2.9 1.1 2.3 1 4.9 3 2.6 1.9 2.3 2 1.9 1.9 1.6 2 1.3 1.9 1 2 .3 1 .2 1.9 15.8 0 .3-1.9 .3-1 1-2 1.3-1.9 1.6-2 1.9-1.9 2.3-2 2.6-1.9 4.9-3 2.2-1 3-1.1 4.8-1.3 4.9-.4 4.9 .4 4.9 1.3 2.9 1.1 2.2 1 4.9 3 2.6 1.9 2.3 2 1.9 1.9 1.6 2 1.4 1.9 .9 2 .3 1 .3 1.9 15.8 0 .2-1.9 .3-1 1-2 1.3-1.9 1.6-2 2-1.9 2.2-2 2.6-1.9 4.9-3 2.3-1 2.9-1.1 4.9-1.3 4.9-.4 4.8 .4 4.9 1.3 2.9 1.1 2.3 1 4.9 3 2.6 1.9 2.2 2 2 1.9 1.6 2 1.3 1.9 1 2 .3 1 .2 1.9 15.8 0 .3-1.9 .3-1 .9-2 1.4-1.9 1.6-2 1.9-1.9 2.3-2 2.6-1.9 4.9-3 2.2-1 2.9-1.1 4.9-1.3 2.9-.3 2-.1 0-26.7-14.6-.3-3.9-.2-.2-.3 .2-.3 3.9-.2 14.6-.3 0-32.3-34.1-.6-18.5 .1-25.3 .5-31.2-.6-21.5 .1-25.3 .5-25.3-.5-19.5-.1-33.1 .6-24.4-.5-14.6-.1-14.6 .1-24.4 .5 0 32.3 14.6 .3 3.9 .2 .2 .3-.2 .3-3.9 .2-14.6 .3 0 26.7 2 .1 2.9 .3 4.9 1.3 2.9 1.1 2.2 1 5 3 2.6 1.9 2.2 2 1.9 1.9 1.7 2 1.3 1.9 .9 2 .3 1 .3 1.9zM149.8 390.4l-.2-.3 .2-.3 .9 0 14.6-.5 15.6 .2 5.9 .3 .2 .3-.2 .3-2.9 .2-12.7 .3-11.7-.1-9.7-.4zM227.7 390.4l-.2-.3 .2-.3 1 0 14.6-.5 15.6 .2 5.8 .3 .2 .3-.2 .3-2.9 .2-12.7 .3-11.7-.1-9.7-.4zM305.6 390.4l-.1-.3 .1-.3 1 0 14.6-.5 15.6 .2 5.9 .3 .1 .3-.1 .3-3 .2-12.6 .3-11.7-.1-9.8-.4z"/>
<path fill="#0000b9" d="M127.4 432.2l1.9 .3 1-.1 1.9-.5 1-.4 2.9-1.7 6.6-4.5 4.7-2.9 3.7-2 3.5-1.5 3.9-1.4 3-.8 3.8-.6 3-.1 2.9 .1 3.9 .6 2.9 .8 3.9 1.4 3.5 1.5 3.7 2 4.8 2.9 6.5 4.5 2.9 1.7 1 .4 2 .5 1.9 0 2-.5 1.9-.9 11.6-7.6 3.4-2 4.1-1.9 4.3-1.7 3.9-1.1 3.9-.6 2.9-.1 2.9 .1 3.9 .6 3 .8 3.9 1.4 3.5 1.5 3.7 2 4.7 2.9 6.6 4.5 2.9 1.7 1 .4 1.9 .5 2 0 1.9-.5 2-.9 11.5-7.6 3.5-2 4-1.9 4.3-1.7 3.9-1.1 3.9-.6 3-.1 2.9 .1 3.9 .6 2.9 .8 3.9 1.4 3.5 1.5 3.7 2 4.8 2.9 6.5 4.5 2.9 1.7 1 .4 1.9 .5 1 .1 2-.3 2.9-1.2 11.6-7.6 3.4-2 4-1.9 4.4-1.7 3.9-1.1 3.9-.6 2.9-.1 0-25-14.6-.3-3.9-.3-.2-.3 .2-.3 3.9-.2 14.6-.4 0-30-30.2-.6-23.4 .1-24.3 .5-28.3-.6-25.3 .1-24.4 .5-24.3-.5-24.4-.1-29.2 .6-24.4-.5-21.4-.1-10.7 .1-21.5 .5 0 30 14.6 .4 3.9 .2 .2 .3-.2 .3-3.9 .3-14.6 .3 0 25 3 .1 3.9 .6 3.8 1.1 4.4 1.7 4 1.9 3.5 2 11.5 7.6 3 1.2zM149.8 390.4l-.2-.3 .2-.3 .9-.1 6.9-.3 7.7-.1 15.6 .2 5.9 .3 .2 .3-.2 .3-2.9 .2-12.7 .4-11.7-.1-9.7-.5zM227.7 390.4l-.2-.3 .2-.3 1-.1 6.8-.3 7.8-.1 15.6 .2 5.8 .3 .2 .3-.2 .3-2.9 .2-12.7 .4-11.7-.1-9.7-.5zM305.6 390.4l-.2-.3 .2-.3 1-.1 6.8-.3 7.8-.1 15.6 .2 5.9 .3 .2 .3-.2 .3-3 .2-12.6 .4-11.7-.1-9.8-.5z"/>
<path fill="#0000bc" d="M125.1 426.3l2.3 .5 1.9 .1 1.9-.1 2-.4 3.9-1.4 11.7-5.5 6.8-2.7 3.9-1.2 2.9-.6 2.9-.4 3-.2 2.9 .2 2.9 .4 2.9 .6 3 .8 3 1.1 4.8 2 9.7 4.7 3.9 1.6 3.9 1 2.9 .1 2.9-.5 3-1 12.6-5.9 3.9-1.7 3.6-1.3 3.2-.9 3-.6 2.9-.4 2.9-.2 2.9 .2 3 .4 2.9 .6 2.9 .8 3.1 1.1 4.7 2 9.7 4.7 3.9 1.6 3.9 1 3 .1 2.9-.5 2.9-1 12.7-5.9 3.9-1.7 3.6-1.3 3.2-.9 2.9-.6 2.9-.4 3-.2 2.9 .2 2.9 .4 2.9 .6 3.9 1.2 6.8 2.7 11.7 5.5 3.9 1.4 2 .4 1.9 .1 2-.1 1.9-.4 3.9-1.4 11.7-5.5 6.8-2.7 3.9-1.2 2.9-.6 3-.4 2.9-.2 0-23.3-14.6-.4-3.9-.3-.2-.3 .2-.3 3.9-.3 14.6-.3 0-27.9-20.5-.6-7.8-.1-26.3 0-23.3 .7-26.4-.7-28.2 0-23.4 .7-23.4-.7-28.2 0-26.3 .7-23.4-.7-27.3 0-27.3 .7 0 27.9 14.6 .3 3.9 .3 .2 .3-.2 .3-3.9 .3-14.6 .4 0 23.3 3 .2 2.9 .4 2.9 .6 3.9 1.2 6.8 2.7 11.7 5.5 3.6 1.3zM167.3 391.1l-9.7-.2-7.8-.5-.2-.3 .2-.3 3.9-.3 9.7-.3 10.7 0 10.7 .4 2 .2 .2 .3-.2 .3-4.9 .4-14.6 .3zM245.2 391.1l-9.7-.2-7.8-.5-.2-.3 .2-.3 3.9-.3 9.7-.3 10.8 0 10.7 .4 1.9 .2 .2 .3-.2 .3-4.8 .4-14.7 .3zM323.2 391.1l-9.8-.2-7.8-.5-.2-.3 .2-.3 3.9-.3 9.8-.3 10.7 0 10.7 .4 2 .2 .2 .3-.2 .3-4.9 .4-14.6 .3z"/>
<path fill="#0000c0" d="M123.1 422.4l2.3 .5 2.9 .4 2.9-.1 3-.5 4.8-1.4 12.4-4.8 6.1-1.9 5.9-1.3 4.9-.4 4.8 .4 6 1.3 6 1.9 11.4 4.5 4.9 1.5 3.9 .7 3.9 0 2.9-.5 3.9-1.1 13.4-5.1 6.1-1.9 5.8-1.3 4.9-.4 4.9 .4 4.9 1 7 2.2 14.4 5.5 2.9 .7 2 .4 3.9 .2 2.9-.4 3.9-.9 14.3-5.5 6.1-1.9 5.9-1.3 4.9-.4 4.8 .4 5.9 1.3 6.1 1.9 12.4 4.8 4.9 1.4 2.9 .5 1.9 .1 2-.1 2.9-.5 4.9-1.4 12.4-4.8 6-1.9 5.9-1.3 4.9-.4 0-21.7-7.8-.2-6.8-.2-3.9-.4-.2-.3 .2-.3 3.9-.3 14.6-.4 0-25.9-18.5-.7-7.8-.1-29.2 .1-22.4 .7-25.4-.8-30.2 .1-22.4 .7-24.3-.8-31.2 .1-22.4 .7-22.4-.7-30.2-.1-25.4 .8 0 25.9 14.6 .4 3.9 .3 .3 .3-.3 .3-3.9 .4-6.8 .2-7.8 .2 0 21.7 4.9 .4 5.9 1.3 6.1 1.9 11.4 4.5 4.5 1.4zM162.4 391.1l-7.8-.3-4.8-.4-.3-.3 .3-.3 6.8-.5 9.7-.2 9.8 .1 9.7 .5 1 .1 .2 .3-.2 .3-7.8 .5-7.8 .2-8.8 0zM240.4 391.1l-7.8-.3-4.9-.4-.2-.3 .2-.3 6.8-.5 9.8-.2 9.7 .1 9.7 .5 1 .1 .2 .3-.2 .3-7.8 .5-7.8 .2-8.7 0zM318.3 391.1l-7.8-.3-4.9-.4-.2-.3 .2-.3 6.9-.5 9.7-.2 9.7 .1 9.8 .5 1 .1 .2 .3-.2 .3-7.8 .5-7.8 .2-8.8 0z"/>
<path fill="#0000c3" d="M121.8 419.5l3.6 .7 2.9 .2 2.9 0 3-.4 5.8-1.4 12.4-4 6.1-1.8 4.9-1 4.9-.3 4.8 .3 4.9 1 6.1 1.8 11.5 3.7 4.8 1.3 4.9 .8 3.9 0 3.9-.6 3.9-.9 13.6-4.4 6.6-1.9 5.1-.9 3.9-.2 4.9 .3 4.9 1 6.1 1.8 11.4 3.7 4.9 1.3 3.9 .7 3.9 .1 3.9-.4 3.8-.8 3.9-1.2 11.7-3.8 5.9-1.6 4.9-.9 3.9-.2 4.8 .3 4.9 1 6.1 1.8 11.4 3.7 5.9 1.5 2.9 .5 2.9 .1 2.9-.1 3-.5 5.8-1.5 11.4-3.7 6.1-1.8 4.9-1 4.9-.3 0-20.3-7.8-.1-6.8-.3-3.9-.3-.3-.4 .3-.4 3.9-.3 6.8-.3 7.8-.1 0-24-21.4-.9-17.6 .1-13.6-.1-6.8 .1-12.7 .7-5.8 .1-5.9-.1-11.7-.7-6.8-.1-14.6 .1-17.6-.1-21.4 .9-23.4-.9-15.6 .1-17.5-.1-21.4 .9-21.5-.9-17.5 .1-14.6-.1-6.8 .1-11.7 .7-5.9 .1 0 24 7.8 .1 6.8 .3 3.9 .3 .3 .4-.3 .4-3.9 .3-6.8 .3-7.8 .1 0 20.3 4.9 .3 4.9 1 6.1 1.8 11.4 3.7 4.2 1.2zM159.5 391.1l-9.7-.6-.3-.4 .3-.4 7.8-.5 9.7-.2 9.7 .2 8.8 .4 1 .1 .2 .4-.2 .4-1 .1-8.8 .5-8.7 .1-8.8-.1zM237.4 391.1l-9.7-.6-.2-.4 .2-.4 7.8-.5 9.7-.2 9.8 .2 8.7 .4 1 .1 .3 .4-.3 .4-1 .1-8.7 .5-8.8 .1-8.8-.1zM315.4 391.1l-9.8-.6-.2-.4 .2-.4 7.8-.5 9.8-.2 9.7 .2 8.8 .4 1 .1 .2 .4-.2 .4-1 .1-8.8 .5-8.7 .1-8.8-.1z"/>
<path fill="#0000c7" d="M123.3 417.5l3.1 .4 2.9 .1 2.9-.1 3.9-.5 6.8-1.6 16.6-4.7 4.9-.8 3.9-.3 3.9 .3 3.9 .6 3.9 1 11.7 3.4 5.8 1.5 4.9 .9 3.9 .3 4.8-.2 4.9-.8 4.9-1.2 16.5-4.7 4.9-.8 3.9-.3 3.9 .3 3.9 .6 4.9 1.3 14.6 4.1 4.9 1.1 4.8 .5 4.9 0 4.9-.7 5.8-1.4 16.6-4.7 4.9-.8 3.9-.3 3.8 .3 4.9 .8 17.6 5 6.8 1.4 3.9 .4 2.9 .1 2.9-.2 3.9-.6 5.9-1.4 16.5-4.7 4.9-.8 3.9-.3 0-18.7-7.8-.1-6.8-.3-3.9-.4-.3-.4 .3-.4 3.9-.3 6.8-.3 7.8-.1 0-22.3-4.9-.1-12.6-.8-6.9-.1-14.6 .2-17.5-.2-5.9 .2-10.7 .7-4.8 .1-4.9-.1-12.7-.8-5.8-.1-15.6 .2-17.6-.2-5.8 .2-10.7 .7-4.9 .1-4.9-.1-11.7-.8-5.8-.1-16.6 .2-17.5-.2-5.8 .2-10.8 .7-4.8 .1-4.9-.1-10.7-.7-5.9-.2-17.5 .2-15.6-.2-5.8 .1-12.7 .8-4.9 .1 0 22.3 7.8 .1 6.8 .3 3.9 .3 .3 .4-.3 .4-3.9 .4-6.8 .3-7.8 .1 0 18.7 3.9 .3 4.9 .8 17.5 5 6.7 1.4zM158.5 391.1l-7.8-.5-.9-.1-.3-.4 .3-.4 .9-.1 7.8-.5 8.8-.1 9.7 .1 8.8 .5 1 .1 .2 .4-.2 .4-1 .1-8.8 .6-9.7 .1-8.8-.2zM236.5 391.1l-7.8-.5-1-.1-.3-.4 .3-.4 1-.1 7.8-.5 8.7-.1 9.8 .1 8.7 .5 1 .1 .3 .4-.3 .4-1 .1-8.7 .6-9.8 .1-8.7-.2zM314.4 391.1l-7.8-.5-1-.1-.2-.4 .2-.4 1-.1 7.8-.5 8.8-.1 9.7 .1 8.8 .5 1 .1 .2 .4-.2 .4-1 .1-8.8 .6-9.7 .1-8.8-.2z"/>
<path fill="#0000cb" d="M124 415.5l3.4 .3 3.8 0 6.9-.7 7.8-1.7 14.6-3.8 3.9-.7 3.9-.3 3.9 .3 3.9 .7 13.6 3.6 6.8 1.5 4.9 .8 3.9 .3 5.8-.1 5.9-.8 7.8-1.7 13.6-3.6 3.9-.7 3.9-.3 3.9 .3 3.9 .7 13.6 3.6 6.9 1.5 4.8 .8 3.9 .3 5.9-.1 5.8-.8 7.8-1.7 13.7-3.6 3.9-.7 3.9-.3 2.9 .1 3.9 .7 17.5 4.5 7.8 1.5 3.9 .4 3.9 0 3.9-.2 3.9-.5 7.8-1.7 14.6-3.8 3.9-.7 3.9-.3 0-17.2-6.8-.1-6.8-.3-4.9-.5-.3-.4 .3-.4 3.9-.4 6.8-.3 7.8-.1 0-20.5-4.9-.2-10.7-.8-4.9-.3-18.5 .3-15.6-.3-5.8 .1-12.7 1-4.8 .2-4.9-.2-11.7-.9-5.9-.2-16.5 .3-18.5-.3-4.9 .3-10.7 .8-4.9 .2-4.9-.2-11.7-.9-5.8-.2-16.6 .3-18.5-.3-4.8 .3-10.8 .8-4.8 .2-4.9-.2-10.7-.8-4.9-.3-18.5 .3-16.6-.3-5.8 .2-11.7 .9-4.9 .2 0 20.5 7.8 .1 6.8 .3 3.9 .4 .3 .4-.3 .4-4.8 .5-6.8 .3-6.9 .1 0 17.2 3 .1 3.9 .7 17.5 4.5 4.9 1 4.4 .6zM156.6 391.1l-6.8-.6-.3-.4 .3-.4 3.9-.4 5.8-.3 9.7-.1 8.8 .2 7.8 .5 1 .1 .3 .4-.3 .4-1 .1-9.7 .7-9.8 .1-9.7-.3zM234.5 391.1l-6.8-.6-.3-.4 .3-.4 3.9-.4 5.8-.3 9.8-.1 8.8 .2 7.7 .5 1 .1 .3 .4-.3 .4-1 .1-9.7 .7-9.7 .1-9.8-.3zM312.5 391.1l-6.9-.6-.2-.4 .2-.4 3.9-.4 5.9-.3 9.7-.1 8.8 .2 7.8 .5 1 .1 .2 .4-.2 .4-1 .1-9.8 .7-9.7 .1-9.7-.3z"/>
<path fill="#0000ce" d="M123 413.6l4.4 .3 3.8 0 3.9-.3 3.9-.4 4.9-.8 3.9-.9 14.6-3.7 2.9-.4 3-.2 2.9 .2 3.9 .6 12.7 3.3 6.8 1.4 4.8 .7 5.9 .5 6.8-.2 6.8-.8 7.8-1.6 12.7-3.3 3.9-.6 2.9-.2 2.9 .2 3.9 .6 11.7 3.1 6.8 1.5 4.9 .7 5.9 .5 6.8 0 7.8-.9 7.8-1.6 12.6-3.3 3.9-.6 3-.2 2.9 .2 2.9 .4 16.6 4.2 4.8 .9 3.9 .5 4.9 .4 3.9 .1 4.9-.3 4.8-.5 8.8-1.8 13.6-3.5 3-.4 2.9-.2 0-15.7-6.8-.1-6.8-.4-4.9-.5-.3-.4 .3-.4 3.9-.4 6.8-.4 7.8-.1 0-18.9-4.9-.2-11.7-1-5.8-.2-16.6 .4-13.6-.4-4.9 0-5.8 .3-9.8 .9-4.8 .2-4.9-.2-10.7-1-5.9-.2-17.5 .4-13.7-.4-4.8 0-5.9 .3-9.7 .9-4.9 .2-4.9-.2-9.7-.9-5.8-.3-4.9 0-13.7 .4-16.5-.4-5.9 .2-11.7 1-4.8 .2-4.9-.2-11.7-1-5.8-.2-16.6 .4-13.6-.4-4.9 0-5.9 .3-9.7 .9-4.9 .2 0 18.9 7.8 .1 6.8 .4 3.9 .4 .3 .4-.3 .4-4.8 .5-6.8 .4-6.9 .1 0 15.7 3 .2 2.9 .4 16.5 4.2 5.9 1.1 4.4 .5zM155.6 391.1l-5.8-.6-.3-.4 .3-.4 3.9-.4 6.8-.4 9.7-.1 8.8 .3 6.8 .4 1 .2 .3 .4-.3 .4-2 .3-9.7 .6-9.8 0-9.7-.3zM233.5 391.1l-5.8-.6-.3-.4 .3-.4 3.9-.4 6.8-.4 9.8-.1 8.7 .3 6.8 .4 1 .2 .3 .4-.3 .4-1.9 .3-9.8 .6-9.7 0-9.8-.3zM311.5 391.1l-5.9-.6-.2-.4 .2-.4 3.9-.4 6.9-.4 9.7-.1 8.8 .3 6.8 .4 1 .2 .2 .4-.2 .4-2 .3-9.7 .6-9.8 0-9.7-.3z"/>
<path fill="#0000d2" d="M119.7 411.6l4.7 .4 5.9 .1 5.8-.2 4.9-.5 7.8-1.4 13.6-3.5 2.9-.5 3-.2 2.9 .2 2.9 .5 10.7 2.8 6.9 1.5 6.8 .9 5.8 .4 8.8-.2 7.8-.8 6.8-1.3 12.7-3.3 2.9-.5 2.9-.2 2.9 .2 3 .5 10.7 2.8 6.8 1.5 5.8 .8 5.9 .4 8.8 0 3.8-.3 4.9-.6 6.8-1.3 12.7-3.3 2.9-.5 3-.2 1.9 .1 2.9 .4 14.6 3.7 4.9 1 4.9 .6 5.8 .4 5.9 .1 4.8-.2 5.9-.6 7.8-1.5 12.6-3.3 3-.5 2.9-.2 0-14.3-6.8-.1-6.8-.3-4.9-.5-.3-.5 .3-.5 3.9-.4 6.8-.3 7.8-.1 0-17.3-4.9-.3-11.7-1.3-4.8-.2-17.6 .6-13.6-.5-5.9 0-4.8 .3-9.8 1.1-4.8 .3-4.9-.3-11.7-1.3-4.9-.2-17.5 .6-13.7-.5-5.8 0-4.9 .3-9.7 1.1-4.9 .3-4.9-.3-9.7-1.1-4.9-.3-5.8 0-13.7 .5-17.5-.6-4.9 .2-11.7 1.3-4.8 .3-4.9-.3-11.7-1.3-5.8-.2-16.6 .6-13.6-.5-5.9 0-4.9 .3-9.7 1.1-4.9 .3 0 17.3 7.8 .1 6.8 .3 3.9 .4 .3 .5-.3 .5-4.8 .5-6.8 .3-6.9 .1 0 14.3 2 .1 2.9 .4 14.6 3.7 4.9 1 5 .6zM155.6 391.1l-5.8-.5-.3-.5 .3-.5 3.9-.4 6.8-.3 9.7-.1 8.8 .2 6.8 .5 1 .1 .3 .5-.3 .5-2 .2-9.7 .6-9.8 .1-9.7-.4zM233.5 391.1l-5.8-.5-.3-.5 .3-.5 3.9-.4 6.8-.3 9.8-.1 8.7 .2 6.8 .5 1 .1 .3 .5-.3 .5-1.9 .2-9.8 .6-9.7 .1-9.8-.4zM311.5 391.1l-5.9-.5-.3-.5 .3-.5 3.9-.4 6.9-.3 9.7-.1 8.8 .2 6.8 .5 1 .1 .3 .5-.3 .5-2 .2-9.7 .6-9.8 .1-9.7-.4z"/>
<path fill="#0000d5" d="M114.6 409.7l5 .5 6.8 .2 7.8 0 6.8-.4 3.9-.4 3.9-.7 3.9-1 9.7-2.7 2.9-.6 3-.2 1.9 .1 2.9 .4 11.7 3.3 3.9 .9 3.9 .6 3.9 .4 4.9 .3 6.8 .1 5.9-.2 5.8-.4 5.9-.8 4.8-1.2 9.8-2.7 2.9-.6 2.9-.2 2 .1 2.9 .4 11.7 3.3 6.8 1.4 3.9 .4 4.9 .3 11.7 .1 6.8-.4 5.8-.8 4.9-1 11.7-3.3 2.9-.4 2-.1 1.9 .1 2.9 .4 12.7 3.5 3.9 .8 4.9 .7 5.8 .4 7.8 .2 6.8-.2 5.9-.5 3.9-.6 3.9-.8 12.6-3.5 2.9-.4 2-.1 0-12.8-6.8-.1-6.8-.4-4.9-.5-.3-.5 .3-.5 3.9-.4 6.8-.4 7.8-.1 0-15.7-4.9-.3-10.7-1.5-5.8-.3-3.9 .1-9.8 .6-3.9 .1-3.9-.1-9.7-.6-5.9-.1-4.8 .4-9.8 1.4-4.8 .3-4.9-.3-10.7-1.5-5.9-.3-3.9 .1-9.7 .6-3.9 .1-3.9-.1-9.8-.6-5.8-.1-4.9 .4-9.7 1.4-4.9 .3-4.9-.3-9.7-1.4-4.9-.4-5.8 .1-9.8 .6-3.9 .1-3.9-.1-9.7-.6-3.9-.1-5.8 .3-10.8 1.5-4.8 .3-4.9-.3-11.7-1.6-5.8-.2-16.6 .8-3.9-.1-9.7-.6-5.9-.1-4.9 .4-9.7 1.4-4.9 .3 0 15.7 7.8 .1 6.8 .4 3.9 .4 .4 .5-.4 .5-4.8 .5-6.8 .4-6.9 .1 0 12.8 2 .1 2.9 .4 11.7 3.3 3.9 .9 3.8 .6zM154.6 391.1l-4.8-.5-.4-.5 .4-.5 4.8-.5 6.9-.3 8.7-.1 8.8 .2 6.8 .6 1 .1 .3 .5-.3 .5-2 .3-10.7 .6-9.7 .1-9.8-.5zM232.6 391.1l-4.9-.5-.3-.5 .3-.5 4.9-.5 6.8-.3 8.8-.1 8.7 .2 6.8 .6 1 .1 .3 .5-.3 .5-1.9 .3-10.7 .6-9.8 .1-9.7-.5zM310.5 391.1l-4.9-.5-.3-.5 .3-.5 4.9-.5 6.8-.3 8.8-.1 8.8 .2 6.8 .6 1 .1 .3 .5-.3 .5-2 .3-10.7 .6-9.7 .1-9.8-.5z"/>
<path fill="#0000d9" d="M117.2 408.7l5.3 .2 13.6 0 4.9-.2 3.9-.3 2.9-.4 3.9-.9 11.7-3.5 2.9-.5 2-.2 1.9 .2 2.9 .5 9.8 3 4.9 1.2 4.8 .7 5.9 .3 16.5 .1 7.8-.5 3-.4 3.8-.9 11.7-3.5 3-.5 1.9-.2 2 .2 2.9 .5 9.7 3 4.9 1.2 4.9 .7 4.8 .3 17.6 .1 7.8-.5 2.9-.4 3.9-.9 11.7-3.5 2.9-.5 2-.2 1.9 .2 1.9 .3 3 .7 9.7 3 3.9 .9 3.9 .5 6.8 .4 12.7 0 5.8-.1 4.9-.4 2.9-.4 3.9-.9 11.7-3.5 2.9-.5 2-.2 0-11.2-6.8-.1-6.8-.4-4.9-.6-.4-.5 .4-.5 3.9-.5 6.8-.3 7.8-.2 0-14.1-4.9-.4-10.7-1.8-5.8-.3-3.9 .1-9.8 .8-3.9 .1-3.9-.1-9.7-.8-5.9-.1-5.8 .6-9.8 1.6-3.8 .3-4.9-.4-10.7-1.8-5.9-.3-3.9 .1-9.7 .8-3.9 .1-3.9-.1-9.8-.8-5.8-.1-5.8 .6-9.8 1.6-3.9 .3-4.9-.4-10.7-1.8-5.8-.3-3.9 .1-9.8 .8-3.9 .1-3.9-.1-9.7-.8-5.8-.1-5.9 .6-9.7 1.6-3.9 .3-4.9-.4-10.7-1.8-4.9-.3-4.9 .1-9.7 .8-3.9 .1-3.9-.1-11.7-.9-3.9 0-3.9 .3-10.7 1.8-4.9 .4 0 14.1 7.8 .2 6.8 .3 3.9 .5 .4 .5-.4 .5-4.8 .6-6.8 .4-6.9 .1 0 11.2 2 .2 2.9 .5 8.8 2.7 4.8 1.3 3.9 .7 4.5 .4zM153.7 391.1l-3.9-.5-.4-.5 .4-.5 4.8-.5 6.9-.4 8.7-.1 8.8 .3 6.8 .5 1 .2 .3 .5-.3 .5-2 .3-4.8 .4-5.9 .3-10.7 0-9.7-.5zM231.6 391.1l-3.9-.5-.3-.5 .3-.5 4.9-.5 6.8-.4 8.8-.1 8.7 .3 6.8 .5 1 .2 .4 .5-.4 .5-1.9 .3-4.9 .4-5.8 .3-10.8 0-9.7-.5zM309.5 391.1l-3.9-.5-.3-.5 .3-.5 4.9-.5 6.8-.4 8.8-.1 8.8 .3 6.8 .5 1 .2 .3 .5-.3 .5-2 .3-4.9 .4-5.8 .3-10.7 0-9.8-.5z"/>
<path fill="#0000dd" d="M109.8 406.7l3.9 .6 4.9 .2 10.7-.1 10.7 .1 4.9-.2 2.9-.4 3.9-.8 3.9-1.1 7.8-2.8 2.9-.6 2-.2 1.9 .2 2 .4 11.7 3.9 2.9 .7 3.9 .6 5.8 .3 10.7-.1 12.7 .1 4.9-.4 3.9-.7 3.9-1.1 8.7-3.1 3-.6 1.9-.2 2 .2 1.9 .4 11.7 3.9 2.9 .7 3.9 .6 5.9 .3 10.7-.1 11.7 .1 4.8-.3 4.9-.8 3.9-1.1 8.8-3.1 2.9-.6 2-.2 1.9 .2 1.9 .4 11.7 3.9 3 .7 3.9 .6 6.8 .3 9.7-.1 10.7 .1 4.9-.2 2.9-.4 3.9-.8 3.9-1.1 7.8-2.8 2.9-.6 2-.2 0-9.6-6.8-.2-6.8-.4-4.9-.6-.4-.5 .4-.5 3.9-.5 6.8-.4 7.8-.2 0-12.5-2-.1-2.9-.4-10.7-2.1-2.9-.3-2.9-.1-3.9 .1-9.8 1.1-3.9 .1-3.9-.1-9.7-1.1-5.9-.1-5.8 .7-9.8 2-3.8 .3-2-.1-2.9-.4-10.7-2.1-3-.3-2.9-.1-3.9 .1-9.7 1.1-3.9 .1-3.9-.1-9.8-1.1-5.8-.1-5.8 .7-9.8 2-3.9 .3-1.9-.1-3-.4-10.7-2.1-4.8-.4-4.9 .1-9.8 1.1-3.9 .1-3.9-.1-9.7-1.1-5.8-.1-5.9 .7-9.7 2-3.9 .3-3.9-.3-9.8-2-5.8-.7-5.9 .1-9.7 1.1-3.9 .1-3.9-.1-10.7-1.1-3.9-.1-2.9 .2-4.9 .7-8.8 1.8-3.9 .3 0 12.5 7.8 .2 6.8 .4 3.9 .5 .4 .5-.4 .5-4.8 .6-6.8 .4-6.9 .2 0 9.6 2 .2 2.9 .6 8.8 3.1 5.8 1.4zM153.7 391.1l-3.9-.5-.4-.5 .4-.5 4.8-.6 6.9-.3 8.7-.2 8.8 .3 6.8 .6 1 .2 .3 .5-.3 .5-2 .3-4.8 .5-5.9 .3-10.7 0-9.7-.6zM231.6 391.1l-3.9-.5-.3-.5 .3-.5 4.9-.6 6.8-.3 8.8-.2 8.7 .3 6.8 .6 1 .2 .4 .5-.4 .5-1.9 .3-4.9 .5-5.8 .3-10.8 0-9.7-.6zM309.5 391.1l-3.9-.5-.3-.5 .3-.5 4.9-.6 6.8-.3 8.8-.2 8.8 .3 6.8 .6 1 .2 .3 .5-.3 .5-2 .3-4.9 .5-5.8 .3-10.7 0-9.8-.6z"/>
<path fill="#0000e0" d="M109.6 405.8l3.1 .4 3.9 .2 12.7-.4 11.7 .4 4.9-.2 3.9-.6 2.9-.7 3.9-1.3 7.8-3.1 1.9-.5 2-.1 1.9 .1 2 .5 7.8 3.1 3.9 1.3 2.9 .7 2.9 .5 5.9 .3 12.6-.4 9.8 .4 3.9-.1 3.9-.3 3.8-.8 3.9-1.2 8.8-3.5 2-.5 1.9-.1 2 .1 1.9 .5 7.8 3.1 3.9 1.3 2.9 .7 2.9 .5 5.9 .3 12.7-.4 12.6 .4 4.9-.4 3.9-.8 3.9-1.2 8.8-3.5 1.9-.5 2-.1 1.9 .1 1.9 .5 7.8 3.1 3.9 1.3 3 .7 2.9 .5 4.9 .3 12.6-.4 11.7 .4 4.9-.2 3.9-.6 2.9-.7 3.9-1.3 7.8-3.1 1.9-.5 2-.1 0-8.1-6.8-.1-6.8-.4-4.9-.6-.4-.6 .4-.6 3.9-.5 6.8-.4 7.8-.1 0-11-3.9-.4-8.8-2.2-2.9-.5-2.9-.4-2.9-.1-3.9 .2-9.8 1.3-3.9 .2-3.9-.2-9.7-1.3-2.9-.1-3 0-2.9 .3-2.9 .4-9.8 2.4-3.8 .4-3.9-.4-10.8-2.5-2.9-.5-2.9-.2-4.9 .2-9.7 1.3-3.9 .2-3.9-.2-9.8-1.3-2.9-.1-2.9 0-2.9 .3-2.9 .4-9.8 2.4-3.9 .4-3.9-.4-10.7-2.5-2.9-.5-2.9-.2-4.9 .2-9.8 1.3-3.9 .2-3.9-.2-9.7-1.3-2.9-.1-2.9 0-3 .3-2.9 .4-9.7 2.4-3.9 .4-3.9-.4-9.8-2.4-2.9-.4-2.9-.3-2.9 0-3 .1-9.7 1.3-3.9 .2-3.9-.2-10.7-1.4-3.9-.1-2.9 .2-4.9 .8-8.8 2.2-3.9 .4 0 11 7.8 .1 6.8 .4 3.9 .5 .4 .6-.4 .6-4.8 .6-6.8 .4-6.9 .1 0 8.1 2 .1 1.9 .5 9.8 3.8 2.9 .9 2.7 .6zM152.7 391.1l-2.9-.4-.4-.6 .4-.6 4.8-.5 7.8-.4 8.8-.1 8.8 .3 6.8 .7 .3 .6-.3 .6-2 .3-4.8 .4-6.9 .4-10.7-.1-9.7-.6zM230.6 391.1l-2.9-.4-.4-.6 .4-.6 4.9-.5 7.8-.4 8.7-.1 8.8 .3 6.8 .7 .4 .6-.4 .6-1.9 .3-4.9 .4-6.8 .4-10.7-.1-9.8-.6zM308.6 391.1l-3-.4-.3-.6 .3-.6 4.9-.5 7.8-.4 8.8-.1 8.7 .3 6.9 .7 .3 .6-.3 .6-2 .3-4.9 .4-6.8 .4-10.7-.1-9.7-.6z"/>
<path fill="#0000e4" d="M109.1 404.8l2.7 .4 2.9 .2 3.9-.1 6.8-.6 3.9-.2 3.9 .2 7.8 .6 2.9 .1 2.9-.2 3.9-.7 3-.8 3.9-1.5 6.8-3.3 1.9-.6 2-.2 1.9 .2 2 .6 6.8 3.3 3.9 1.5 2.9 .8 2.9 .6 3 .2 2.9 .1 9.7-.8 2.9-.1 3.9 .2 7.8 .6 3.9 0 3.9-.4 3.9-.9 3.9-1.4 7.8-3.7 2-.6 1.9-.2 2 .2 1.9 .6 6.8 3.3 3.9 1.5 2.9 .8 3 .6 2.9 .2 2.9 .1 9.8-.8 2.9-.1 3.9 .2 6.8 .6 3.9 .1 4.9-.5 3.9-.9 3.9-1.4 7.8-3.7 1.9-.6 2-.2 1.9 .2 1.9 .6 6.9 3.3 3.9 1.5 2.9 .8 2.9 .6 2.9 .2 3 .1 9.7-.8 2.9-.1 3.9 .2 7.8 .6 4.9 0 3.9-.6 3.9-1 3.9-1.5 6.8-3.3 1.9-.6 2-.2 0-6.2-6.8-.1-6.8-.5-4.9-.6-.4-.6 .4-.6 3.9-.5 6.8-.4 7.8-.2 0-9.3-2-.2-1.9-.3-7.8-2.4-2.9-.7-2.9-.5-3-.2-4.8 .3-9.8 1.5-3.9 .3-3.9-.3-10.7-1.6-2.9-.2-2.9 .1-3 .4-2.9 .7-8.8 2.6-1.9 .3-1.9 .2-2-.2-1.9-.3-7.8-2.4-3-.7-2.9-.5-2.9-.2-4.9 .3-9.7 1.5-3.9 .3-3.9-.3-10.7-1.6-3-.2-2.9 .1-2.9 .4-2.9 .7-8.8 2.6-1.9 .3-2 .2-1.9-.2-2-.3-7.8-2.4-2.9-.7-2.9-.5-2.9-.2-4.9 .3-9.8 1.5-3.9 .3-3.9-.3-10.7-1.6-2.9-.2-2.9 .1-2.9 .4-3 .7-8.7 2.6-2 .3-1.9 .2-2-.2-1.9-.3-8.8-2.6-2.9-.7-2.9-.4-3-.1-2.9 .2-10.7 1.6-3.9 .3-3.9-.3-10.7-1.6-2.9-.2-3 .1-2.9 .4-2.9 .7-8.8 2.6-1.9 .3-2 .2 0 9.3 7.8 .2 6.8 .4 3.9 .5 .4 .6-.4 .6-4.8 .6-6.8 .5-6.9 .1 0 6.2 1 0 2 .5 1.9 .7 7.8 3.7 2.9 1 3.2 .8zM152.7 391.1l-2.9-.4-.4-.6 .4-.6 4.8-.6 7.8-.4 8.8-.1 8.8 .4 6.8 .7 .4 .6-.4 .6-2.9 .4-4.9 .5-5.9 .2-10.7 0-9.7-.7zM230.6 391.1l-2.9-.4-.4-.6 .4-.6 4.9-.6 7.8-.4 8.7-.1 8.8 .4 6.8 .7 .4 .6-.4 .6-2.9 .4-4.9 .5-5.8 .2-10.7 0-9.8-.7zM308.6 391.1l-3-.4-.3-.6 .3-.6 4.9-.6 7.8-.4 8.8-.1 8.7 .4 6.9 .7 .3 .6-.3 .6-3 .4-4.8 .5-5.9 .2-10.7 0-9.7-.7z"/>
<path fill="#0000e7" d="M108.3 403.8l3.5 .5 3.9 .1 2.9-.2 7.8-.9 2.9-.2 3.9 .3 8.8 1 2.9 .1 2.9-.3 3.9-.7 2.9-1 3.4-1.6 7.3-4.3 2-.6 1-.1 .9 .1 2 .6 6.8 4 2.9 1.5 3 1.1 3.9 .9 2.9 .3 3.9 0 8.7-1 3.9-.3 3.9 .3 7.8 .9 4.9 .1 2.9-.3 2-.4 3.9-1.2 3.4-1.6 7.3-4.3 1.9-.6 1-.1 1 .1 1.9 .6 6.9 4 2.9 1.5 2.9 1.1 3.9 .9 2.9 .3 3.9 0 8.8-1 3.9-.3 3.9 .3 7.8 .9 3.9 .2 2.9-.3 1.9-.3 3.9-1.1 4.4-1.9 7.3-4.3 2-.6 1-.1 .9 .1 2 .6 6.8 4 2.9 1.5 2.9 1.1 3.9 .9 3 .3 3.9 0 8.7-1 3.9-.3 3.9 .3 8.8 1 4.9-.1 3.9-.6 3.9-1.2 3.4-1.6 7.3-4.3 1.9-.6 1-.1 0-3.9-6.8-.2-6.8-.4-4.9-.7-.4-.6 .4-.6 3.9-.5 6.8-.5 7.8-.2 0-7.5-2-.2-1.9-.5-6.8-2.5-2.9-.9-3.9-.8-3-.2-4.8 .3-9.8 1.8-3.9 .3-3.9-.3-7.8-1.5-2.9-.5-2.9-.1-2.9 .1-2 .2-2.9 .7-2.9 .9-6.9 2.5-1.9 .5-1.9 .2-2-.2-1.9-.5-6.9-2.5-2.9-.9-3.9-.8-2.9-.2-4.9 .3-9.7 1.8-3.9 .3-3.9-.3-7.8-1.5-2.9-.5-3-.1-2.9 .1-1.9 .2-2.9 .7-3 .9-6.8 2.5-1.9 .5-2 .2-1.9-.2-2-.5-6.8-2.5-2.9-.9-3.9-.8-2.9-.2-4.9 .3-9.8 1.8-3.9 .3-3.9-.3-7.7-1.5-3-.5-2.9-.1-2.9 .1-2 .2-2.9 .7-2.9 .9-6.8 2.5-2 .5-1.9 .2-2-.2-1.9-.5-6.8-2.5-3-.9-2.9-.7-1.9-.2-3-.1-2.9 .1-2.9 .5-7.8 1.5-3.9 .3-3.9-.3-7.8-1.5-2.9-.5-2.9-.1-3 .1-1.9 .2-2.9 .7-3 .9-6.8 2.5-1.9 .5-2 .2 0 7.5 7.8 .2 6.8 .5 3.9 .5 .4 .6-.4 .6-4.8 .7-6.8 .4-6.9 .2 0 3.9 1 .1 2 .6 6.8 4 2.9 1.5 2.9 1.1 2.4 .6zM152.7 391.2l-2.9-.5-.4-.6 .4-.6 4.8-.6 7.8-.5 8.8-.1 8.8 .4 6.8 .8 .4 .6-.4 .6-2.9 .5-4.9 .4-5.9 .3-10.7 0-9.7-.7zM230.6 391.2l-2.9-.5-.4-.6 .4-.6 4.9-.6 7.8-.5 8.7-.1 8.8 .4 6.8 .8 .4 .6-.4 .6-2.9 .5-4.9 .4-5.8 .3-10.7 0-9.8-.7zM308.6 391.2l-3-.5-.4-.6 .4-.6 4.9-.6 7.8-.5 8.8-.1 8.7 .4 6.9 .8 .4 .6-.4 .6-3 .5-4.8 .4-5.9 .3-10.7 0-9.7-.7z"/>
<path fill="#0000e9" d="M107.4 402.8l3.4 .7 3.9 .1 3.9-.4 7.8-1.3 2.9-.2 3.9 .4 6.8 1.1 2.9 .4 3.9 0 3.9-.7 2-.5 2.9-1.2 3.8-2.3 3.7-2.9 3.8-3.9-8.4-.4-6.8-.6-1.9-.4-.5-.6 .5-.6 2.9-.5 4.9-.4 5.8-.3 5.8 0 10.8 .4 3.9 .3 2.9 .5 .4 .6-.4 .6-2 .4-6.8 .6-8.4 .4 3.8 3.9 3.7 2.9 3.8 2.3 3.9 1.5 3.9 .8 3.9 .1 3.9-.4 7.8-1.3 2.9-.2 3.9 .4 8.8 1.4 2.9 .1 3-.1 1.9-.3 2.9-.8 2.9-1.2 2.4-1.3 2.8-2 2.3-1.9 3.9-3.9-8.4-.4-6.9-.6-1.9-.4-.4-.6 .4-.6 2.9-.5 4.9-.4 5.8-.3 5.9 0 10.7 .4 3.9 .3 2.9 .5 .4 .6-.4 .6-1.9 .4-6.8 .6-8.5 .4 3.9 3.9 3.7 2.9 3.8 2.3 3.9 1.5 3.9 .8 3.9 .1 3.9-.4 7.8-1.3 3.9-.1 2.9 .3 8.7 1.4 4.9 .1 2.9-.4 3-.8 2.9-1.2 1.9-1.1 1.9-1.2 2.5-1.9 3.2-3 1.8-1.9-8.4-.4-6.8-.6-2-.4-.4-.6 .4-.6 3-.5 4.8-.4 10.8-.3 10.7 .3 4.8 .4 3 .5 .4 .6-.4 .6-2 .4-6.8 .6-8.4 .4 3.8 3.9 3.7 2.9 3.8 2.3 3.9 1.5 3.9 .8 3.9 .1 3.9-.4 7.8-1.3 3.9-.1 2.9 .3 8.8 1.4 4.9 .1 2.9-.4 2.9-.8 2.9-1.2 2-1.1 1.8-1.2 2.6-1.9 3.2-3 1.8-1.9-8.5-.4-6.8-.6-1.9-.4-.4-.6 .4-.6 2.9-.5 4.9-.4 10.7-.3 0-5.6-2-.2-1.9-.7-5.9-2.8-3.8-1.4-3-.8-3.9-.3-1.9 0-2.9 .3-9.8 2.2-3.9 .4-3.9-.4-9.7-2.2-3.9-.4-2.9 .2-3 .4-2.9 .9-3.6 1.4-5.2 2.5-1.9 .7-1.9 .2-2-.2-1.9-.7-5.9-2.8-3.9-1.4-2.9-.8-3.9-.3-2 0-2.9 .3-9.7 2.2-3.9 .4-3.9-.4-9.8-2.2-3.9-.4-2.9 .2-2.9 .4-2.9 .9-3.6 1.4-5.2 2.5-1.9 .7-2 .2-1.9-.2-2-.7-5.8-2.8-3.9-1.4-3-.8-2.9-.3-2.9 0-2.9 .3-9.8 2.2-3.9 .4-3.9-.4-9.7-2.2-3.9-.4-2.9 .2-2.9 .4-3 .9-3.5 1.4-5.2 2.5-2 .7-1.9 .2-2-.2-1.9-.7-5.2-2.5-3.6-1.4-2.9-.9-2.9-.4-3-.2-3.9 .4-9.7 2.2-3.9 .4-3.9-.4-9.7-2.2-3-.3-2.9 0-2.9 .3-2.9 .8-3.9 1.4-5.9 2.8-1.9 .7-2 .2 0 5.6 10.7 .3 4.9 .4 2.9 .5 .5 .6-.5 .6-1.9 .4-6.8 .6-8.4 .4 3.8 3.9 3.7 2.9 3.8 2.3 1.9 .8 2.5 .8z"/>
<path fill="#0000eb" d="M111.9 402.8l1.8 .1 2.9-.3 3-.5 5.8-1.4 3.9-.4 2.9 .3 7.8 1.7 2.9 .4 3.9 .1 3.9-.6 3-1 1.9-.9 3.5-2.4 1.1-.9 1.7-2 1.2-2 .3-.9-6.8-.4-5.9-.7-.9-.2-.5-.7 .5-.7 2.9-.4 4.9-.5 10.7-.3 10.7 .3 4.9 .5 2.9 .4 .4 .7-.4 .7-1 .2-5.8 .7-6.8 .4 .3 .9 .5 1 1.4 2 2.1 1.9 2.5 1.8 2.9 1.5 1.9 .8 2 .5 2.9 .3 2 .1 2.9-.3 2.9-.5 5.8-1.4 3.9-.4 3 .3 7.8 1.7 2.9 .4 3.9 .1 3.9-.6 2.9-1 1.9-.9 3.5-2.4 1.1-.9 1.8-2 1.1-2 .3-.9-6.8-.4-5.8-.7-1-.2-.4-.7 .4-.7 2.9-.4 4.9-.5 10.7-.3 10.7 .3 4.9 .5 2.9 .4 .5 .7-.5 .7-1 .2-5.8 .7-6.8 .4 .3 .9 1.2 2 1.7 2 2.4 1.9 2.2 1.4 2.9 1.3 1.9 .6 3 .5 2.9 .2 2.9-.3 2.9-.5 5.9-1.4 3.9-.4 2.9 .3 7.8 1.7 2.9 .4 3.9 .1 3.9-.6 2.9-1 2-.9 3.5-2.4 1.1-.9 1.7-2 1.2-2 .3-.9-6.8-.4-5.9-.7-1-.2-.4-.7 .4-.7 3-.4 4.8-.5 10.8-.3 10.7 .3 4.8 .5 3 .4 .4 .7-.4 .7-1 .2-5.9 .7-6.7 .4 .2 .9 1.2 2 1.7 2 1.1 .9 3.5 2.4 2 .9 2.9 1 3.9 .6 3.9-.1 2.9-.4 7.8-1.7 2.9-.3 3.9 .4 5.9 1.4 2.9 .5 2.9 .3 2-.1 2.9-.3 1.9-.5 2-.8 2.9-1.5 2.5-1.8 2-1.9 1.5-2 .5-1 .3-.9-6.8-.4-5.8-.7-1-.2-.4-.7 .4-.7 2.9-.4 4.9-.5 10.7-.3 0-3-1-.1-1.9-.8-6.5-4-3.3-1.5-3.9-1.2-3.9-.4-1.9 0-2.9 .4-3 .7-6.8 2-1.9 .3-2 .2-1.9-.2-2-.3-6.8-2-3.9-.9-3.9-.2-2.9 .2-2.9 .7-3 1.1-2.9 1.5-5.8 3.6-2 .8-.9 .1-1-.1-2-.8-6.5-4-3.2-1.5-3.9-1.2-3.9-.4-2 0-2.9 .4-2.9 .7-6.8 2-2 .3-1.9 .2-2-.2-1.9-.3-6.8-2-3.9-.9-3.9-.2-3 .2-2.9 .7-2.9 1.1-2.9 1.5-5.9 3.6-1.9 .8-1 .1-1-.1-1.9-.8-6.5-4-3.3-1.5-2.9-1-3.9-.6-2.9 0-2.9 .4-2.9 .7-6.9 2-1.9 .3-2 .2-1.9-.2-2-.3-6.8-2-3.9-.9-3.9-.2-2.9 .2-2.9 .7-2.9 1.1-3 1.5-5.8 3.6-2 .8-.9 .1-1-.1-2-.8-5.8-3.6-2.9-1.5-2.9-1.1-3-.7-2.9-.2-3.9 .2-3.9 .9-6.8 2-2 .3-1.9 .2-1.9-.2-2-.3-6.8-2-2.9-.7-3-.4-2.9 0-3.9 .6-2.9 1-3.3 1.5-6.4 4-2 .8-1 .1 0 3 10.7 .3 4.9 .5 2.9 .4 .5 .7-.5 .7-.9 .2-5.9 .7-6.8 .4 .3 .9 .5 1 1.5 2 2 1.9 2.5 1.8 2.9 1.5 2 .8 1.9 .5 3.1 .3z"/>
<path fill="#0000ed" d="M109.2 401.8l3.5 .4 3-.2 3.9-.9 6.8-2 2.9-.3 2.9 .3 6.8 2 3.9 .9 3.9 .1 3.9-.5 2-.7 1.9-.9 3.1-2.1 1.1-.9 1.6-2 .6-1 .6-1.9-7-.6-4.8-.7-.5-.7 .5-.7 5.8-.8 9.6-.5-.5-.9-1.5-2-2-2-2.6-1.9-2-1.2-2-.9-1.9-.6-2-.5-2.9-.3-3.9 .4-3.9 .9-7.8 2.7-2.9 .4-2.9-.4-7.8-2.7-3.9-.9-3.9-.4-2 .2-1.9 .3-2 .6-1.9 .7-2 1-2.4 1.7-3.2 2.9-1.5 2-.5 .9 9.6 .5 5.8 .8 .5 .7-.5 .7-4.8 .7-7 .6 .6 1.9 .6 1 1.6 2 1.1 .9 2.1 1.6 1.9 1 2 .8 2.3 .5zM187.2 401.8l3.5 .4 2.9-.2 3.9-.9 6.8-2 2.9-.3 3 .3 6.8 2 3.9 .9 3.9 .1 3.9-.5 1.9-.7 2-.9 3.1-2.1 1-.9 1.6-2 .6-1 .7-1.9-7-.6-4.9-.7-.4-.7 .4-.7 5.8-.8 9.6-.5-.4-.9-1.5-2-2.1-2-2.6-1.9-2-1.2-1.9-.9-2-.6-1.9-.5-2.9-.3-3.9 .4-3.9 .9-7.8 2.7-3 .4-2.9-.4-7.8-2.7-3.9-.9-3.9-.4-1.9 .2-2 .3-1.9 .6-2 .7-1.9 1-2.4 1.7-3.3 2.9-1.5 2-.4 .9 9.5 .5 5.9 .8 .4 .7-.4 .7-4.9 .7-7 .6 .7 1.9 .6 1 1.6 2 1 .9 2.1 1.6 2 1 1.9 .8 2.4 .5zM265.1 401.8l3.5 .4 2.9-.2 3.9-.9 6.9-2 2.9-.3 2.9 .3 6.8 2 3.9 .9 3.9 .1 3.9-.5 2-.7 1.9-.9 3.1-2.1 1.1-.9 1.6-2 .5-1 .7-1.9-7-.6-4.9-.7-.4-.7 .4-.7 5.9-.8 9.5-.5-.4-.9-1.5-2-2-2-2.6-1.9-2-1.2-2-.9-1.9-.6-2-.5-2.9-.3-3.9 .4-3.9 .9-7.8 2.7-2.9 .4-2.9-.4-7.8-2.7-3.9-.9-3.9-.4-2 .2-1.9 .3-2 .6-1.9 .7-2 1-2.4 1.7-3.2 2.9-1.5 2-.5 .9 9.6 .5 5.8 .8 .5 .7-.5 .7-4.8 .7-7 .6 .6 1.9 .6 1 1.6 2 1.1 .9 2.1 1.6 1.9 1 2 .8 2.3 .5zM343 401.8l3.6 .4 2.9-.2 3.9-.9 6.8-2 2.9-.3 2.9 .3 6.9 2 3.9 .9 3.9 .1 3.9-.5 1.9-.7 2-.9 3-2.1 1.1-.9 1.6-2 .6-1 .6-1.9-6.9-.6-4.9-.7-.5-.7 .5-.7 5.8-.8 9.6-.5-.5-.9-1.5-2-2-2-2.6-1.9-2-1.2-1.9-.9-2-.6-1.9-.5-3-.3-3.9 .4-3.9 .9-7.8 2.7-2.9 .4-2.9-.4-7.8-2.7-3.9-.9-3.9-.4-1.9 .2-2 .3-1.9 .6-2 .7-1.9 1-2.5 1.7-3.2 2.9-1.5 2-.4 .9 9.5 .5 5.9 .8 .4 .7-.4 .7-4.9 .7-7 .6 .7 1.9 .5 1 1.6 2 1.1 .9 2.1 1.6 2 1 1.9 .8 2.3 .5z"/>
<path fill="#0000ef" d="M107.7 400.9l2.1 .4 2 .2 1.9 0 2-.3 3.9-1 6.8-2.6 2.9-.5 2.9 .5 6.8 2.6 3.9 1 2 .3 1.9 0 3-.3 1.9-.6 2-.8 2.8-1.9 1.1-.9 1.6-2 .9-2 .2-.9-6.6-.6-3.9-.7-.5-.7 .5-.7 4.8-.7 8-.6-.7-1.9-.6-1-1.8-2-1.1-.9-1.8-1.3-2-1-1.9-.7-2-.5-1.9-.3-2 0-1.9 .2-2 .4-3.8 1.2-6.9 3-1.9 .4-1 .1-1-.1-1.9-.4-7.8-3.3-3.9-1.2-2-.2-1.9-.1-2 .1-1.9 .4-2 .6-1.6 .7-3.1 2-1.1 .9-1.8 2-.6 1-.7 1.9 8 .6 4.8 .7 .5 .7-.5 .7-3.9 .7-6.6 .6 .2 .9 .9 2 1.6 2 1.1 .9 1.9 1.4 1.9 1 1.8 .6zM185.6 400.9l2.2 .4 1.9 .2 2 0 1.9-.3 3.9-1 6.8-2.6 2.9-.5 3 .5 6.8 2.6 3.9 1 1.9 .3 2 0 2.9-.3 1.9-.6 2-.8 2.9-1.9 1-.9 1.6-2 .9-2 .3-.9-6.7-.6-3.9-.7-.5-.7 .5-.7 4.9-.7 8-.6-.8-1.9-.6-1-1.8-2-1.1-.9-1.8-1.3-1.9-1-2-.7-1.9-.5-2-.3-1.9 0-2 .2-1.9 .4-3.9 1.2-6.8 3-2 .4-1 .1-.9-.1-2-.4-7.8-3.3-3.9-1.2-1.9-.2-2-.1-1.9 .1-2 .4-1.9 .6-1.7 .7-3 2-1.2 .9-1.7 2-.7 1-.7 1.9 8 .6 4.9 .7 .4 .7-.4 .7-3.9 .7-6.7 .6 .2 .9 1 2 1.5 2 1.1 .9 1.9 1.4 2 1 1.7 .6zM263.6 400.9l2.1 .4 1.9 .2 2 0 1.9-.3 3.9-1 6.9-2.6 2.9-.5 2.9 .5 6.8 2.6 3.9 1 2 .3 1.9 0 2.9-.3 2-.6 1.9-.8 2.9-1.9 1.1-.9 1.6-2 .9-2 .2-.9-6.7-.6-3.9-.7-.4-.7 .4-.7 4.9-.7 8-.6-.7-1.9-.7-1-1.7-2-1.1-.9-1.8-1.3-2-1-1.9-.7-2-.5-1.9-.3-2 0-1.9 .2-2 .4-3.8 1.2-6.9 3-1.9 .4-1 .1-1-.1-1.9-.4-7.8-3.3-3.9-1.2-2-.2-1.9-.1-2 .1-1.9 .4-2 .6-1.6 .7-3.1 2-1.1 .9-1.8 2-.6 1-.8 1.9 8.1 .6 4.8 .7 .5 .7-.5 .7-3.9 .7-6.6 .6 .2 .9 .9 2 1.6 2 1 .9 2 1.4 1.9 1 1.8 .6zM341.5 400.9l2.1 .4 2 .2 1.9 0 2-.3 3.9-1 6.8-2.6 2.9-.5 2.9 .5 6.9 2.6 3.9 1 1.9 .3 2 0 2.9-.3 1.9-.6 2-.8 2.9-1.9 1-.9 1.6-2 .9-2 .2-.9-6.6-.6-3.9-.7-.5-.7 .5-.7 4.9-.7 8-.6-.8-1.9-.6-1-1.8-2-1.1-.9-1.8-1.3-1.9-1-2-.7-1.9-.5-2-.3-1.9 0-2 .2-1.9 .4-3.9 1.2-6.9 3-1.9 .4-1 .1-1-.1-1.9-.4-7.8-3.3-3.9-1.2-1.9-.2-2-.1-1.9 .1-2 .4-1.9 .6-1.7 .7-3.1 2-1.1 .9-1.7 2-.7 1-.7 1.9 8 .6 4.9 .7 .4 .7-.4 .7-3.9 .7-6.7 .6 .2 .9 .9 2 1.6 2 1.1 .9 1.9 1.4 1.9 1 1.8 .6z"/>
<path fill="#0000f1" d="M110.9 400.9l1.8 0 2-.2 2.9-.7 2.8-1.1 6-3 1.9-.7 1-.1 1.9 .4 7.8 3.8 3.9 1.2 2 .3 1.9 .1 2-.1 1.9-.5 3-1.2 1.8-1.2 1.1-.9 1.6-2 .9-2 .2-.9-5.6-.6-3.9-.7-.5-.7 .5-.7 4.8-.8 6.5-.5-.3-.9-1-2-.7-1-.9-1-1.6-1.3-2.9-1.6-2-.7-1.9-.4-2-.1-1.9 .1-2 .3-1.9 .5-3.1 1.3-6.7 3.7-1.9 .6-1 .1-1-.1-1.9-.6-6.7-3.7-4-1.6-3-.5-1.9-.1-2 .1-1.9 .4-2 .7-1.9 1-2.6 1.9-1.6 2-1 2-.3 .9 6.5 .5 4.8 .8 .5 .7-.5 .7-3.9 .7-5.6 .6 .2 .9 .9 2 1.6 2 1.1 .9 1.8 1.2 2 .9 1.9 .6 2.1 .3zM188.9 400.9l1.8 0 1.9-.2 3-.7 2.7-1.1 6-3 2-.7 .9-.1 2 .4 7.8 3.8 3.9 1.2 1.9 .3 2 .1 1.9-.1 2-.5 2.9-1.2 1.8-1.2 1.1-.9 1.6-2 .9-2 .2-.9-5.6-.6-3.9-.7-.5-.7 .5-.7 4.9-.8 6.4-.5-.2-.9-1-2-.8-1-.9-1-1.6-1.3-2.9-1.6-2-.7-1.9-.4-1.9-.1-2 .1-1.9 .3-2 .5-3.1 1.3-6.6 3.7-2 .6-1 .1-.9-.1-2-.6-6.6-3.7-4.1-1.6-2.9-.5-2-.1-1.9 .1-2 .4-1.9 .7-2 1-2.5 1.9-1.7 2-1 2-.2 .9 6.4 .5 4.9 .8 .5 .7-.5 .7-3.9 .7-5.6 .6 .2 .9 .9 2 1.6 2 1.1 .9 1.8 1.2 1.9 .9 2 .6 2.1 .3zM266.8 400.9l1.8 0 2-.2 2.9-.7 2.8-1.1 6-3 1.9-.7 1-.1 1.9 .4 7.8 3.8 3.9 1.2 2 .3 1.9 .1 2-.1 1.9-.5 2.9-1.2 1.9-1.2 1.1-.9 1.6-2 .9-2 .2-.9-5.7-.6-3.9-.7-.4-.7 .4-.7 4.9-.8 6.4-.5-.2-.9-1-2-.7-1-.9-1-1.6-1.3-3-1.6-1.9-.7-2-.4-1.9-.1-2 .1-1.9 .3-2 .5-3 1.3-6.7 3.7-1.9 .6-1 .1-1-.1-1.9-.6-6.7-3.7-4.1-1.6-2.9-.5-1.9-.1-2 .1-1.9 .4-2 .7-1.9 1-2.6 1.9-1.7 2-.9 2-.3 .9 6.5 .5 4.8 .8 .5 .7-.5 .7-3.9 .7-5.6 .6 .2 .9 .9 2 1.6 2 1.1 .9 1.8 1.2 2 .9 1.9 .6 2.1 .3zM344.7 400.9l1.9 0 1.9-.2 2.9-.7 2.8-1.1 6-3 1.9-.7 1-.1 2 .4 7.8 3.8 3.9 1.2 1.9 .3 2 .1 1.9-.1 2-.5 2.9-1.2 1.8-1.2 1.1-.9 1.6-2 .9-2 .2-.9-5.6-.6-3.9-.7-.5-.7 .5-.7 4.9-.8 6.4-.5-.3-.9-.9-2-.8-1-.9-1-1.6-1.3-2.9-1.6-2-.7-1.9-.4-2-.1-1.9 .1-2 .3-1.9 .5-3.1 1.3-6.7 3.7-1.9 .6-1 .1-1-.1-1.9-.6-6.7-3.7-4-1.6-2.9-.5-2-.1-1.9 .1-2 .4-1.9 .7-2 1-2.6 1.9-1.6 2-1 2-.2 .9 6.4 .5 4.9 .8 .4 .7-.4 .7-3.9 .7-5.7 .6 .3 .9 .8 2 1.6 2 1.1 .9 1.9 1.2 1.9 .9 2 .6 2 .3z"/>
<path fill="#0000f6" d="M108.3 399.9l2.5 .4 1.9 0 2-.2 2.9-.9 2-.8 2.4-1.4 2.6-2 2.8-2.3 .9-.6 1-.4 1 .4 .9 .6 2.8 2.3 2.6 2 2.4 1.4 2 .8 2.9 .9 2 .2 1.9 0 2-.3 2.9-1 1.8-1.1 1.2-.9 1.6-2 .9-2 .2-.9-4.7-.5-3.9-.7-.5-.8 .5-.7 3.9-.7 6.2-.6-.7-1.9-.5-1-.7-1-1.4-1.4-1-.7-1.9-1.2-2-.7-1.9-.4-2-.2-2.9 .3-2 .5-2.3 .9-1.9 1-2.9 1.9-5.5 4.6-1 .3-1-.3-4.3-3.6-2.6-2-1.5-.9-2.3-1.2-2.9-1-2-.4-2.9 0-1.9 .2-2 .6-1.6 .8-1.6 1-1.1 .9-1.7 2-.5 1-.7 1.9 6.2 .6 3.9 .7 .5 .7-.5 .8-3.9 .7-4.7 .5 .2 .9 .9 2 1.6 2 2 1.5 2 1 1.4 .4zM186.2 399.9l2.5 .4 2 0 1.9-.2 3-.9 1.9-.8 2.4-1.4 2.7-2 2.7-2.3 1-.6 .9-.4 1 .4 1 .6 2.7 2.3 2.7 2 2.4 1.4 1.9 .8 3 .9 1.9 .2 2 0 1.9-.3 2.9-1 1.8-1.1 1.2-.9 1.6-2 .9-2 .3-.9-4.8-.5-3.9-.7-.5-.8 .5-.7 3.9-.7 6.2-.6-.6-1.9-.6-1-.7-1-1.4-1.4-1-.7-1.9-1.2-2-.7-1.9-.4-1.9-.2-3 .3-1.9 .5-2.4 .9-1.8 1-3 1.9-5.5 4.6-1 .3-.9-.3-4.3-3.6-2.6-2-1.6-.9-2.2-1.2-3-1-1.9-.4-2.9 0-2 .2-1.9 .6-1.7 .8-1.5 1-1.2 .9-1.6 2-.6 1-.6 1.9 6.2 .6 3.9 .7 .5 .7-.5 .8-3.9 .7-4.8 .5 .2 .9 .9 2 1.7 2 2 1.5 1.9 1 1.4 .4zM264.1 399.9l2.6 .4 1.9 0 2-.2 2.9-.9 1.9-.8 2.5-1.4 2.6-2 2.7-2.3 1-.6 1-.4 1 .4 .9 .6 2.7 2.3 2.7 2 2.4 1.4 2 .8 2.9 .9 1.9 .2 2 0 1.9-.3 3-1 1.8-1.1 1.2-.9 1.6-2 .9-2 .2-.9-4.8-.5-3.9-.7-.5-.8 .5-.7 3.9-.7 6.2-.6-.6-1.9-.5-1-.8-1-1.3-1.4-1-.7-2-1.2-1.9-.7-2-.4-1.9-.2-2.9 .3-2 .5-2.3 .9-1.9 1-2.9 1.9-5.5 4.6-1 .3-1-.3-4.3-3.6-2.6-2-1.5-.9-2.3-1.2-2.9-1-2-.4-2.9 0-2 .2-1.9 .6-1.6 .8-1.6 1-1.2 .9-1.6 2-.6 1-.6 1.9 6.2 .6 3.9 .7 .5 .7-.5 .8-3.9 .7-4.7 .5 .2 .9 .9 2 1.6 2 2 1.5 2 1 1.3 .4zM342.1 399.9l2.5 .4 2 0 1.9-.2 2.9-.9 2-.8 2.4-1.4 2.7-2 2.7-2.3 .9-.6 1-.4 1 .4 1 .6 2.7 2.3 2.6 2 2.5 1.4 1.9 .8 2.9 .9 2 .2 1.9 0 2-.3 2.9-1 1.8-1.1 1.2-.9 1.6-2 .9-2 .2-.9-4.7-.5-3.9-.7-.5-.8 .5-.7 3.9-.7 6.2-.6-.6-1.9-.6-1-.7-1-1.4-1.4-1-.7-1.9-1.2-2-.7-1.9-.4-2-.2-2.9 .3-1.9 .5-2.4 .9-1.9 1-2.9 1.9-5.5 4.6-1 .3-1-.3-4.2-3.6-2.6-2-1.6-.9-2.3-1.2-2.9-1-1.9-.4-3 0-1.9 .2-2 .6-1.6 .8-1.5 1-1.2 .9-1.7 2-.5 1-.6 1.9 6.2 .6 3.9 .7 .5 .7-.5 .8-3.9 .7-4.8 .5 .2 .9 .9 2 1.6 2 2.1 1.5 1.9 1 1.4 .4z"/>
<path fill="#0000ff" d="M107.9 397.9l.9 .3 2 .3 1.9-.1 2-.5 1.9-.9 1.5-1 1.1-1 1.3-2 .4-.9 .3-2-.3-2-.5-.9-.6-1-1.2-1.4-1-.9-1.9-1.2-2-.8-1.9-.4-2 0-1.9 .4-2 .8-1 .7-1 .8-1.4 2-.6 1.9 6 .9 .9 .3 .6 .8-.6 .9-2.9 .6-3.2 .5 .6 1.9 1.5 2 1.2 1 1.9 .9zM144 397.9l1.9 .5 1.9 .1 2-.3 .9-.3 1.9-.9 1.1-.9 1-1.1 .6-1 .6-1.9-3.2-.5-2.9-.6-.6-.9 .6-.8 .9-.3 6-.9-.6-1.9-.6-1-.9-1-1.9-1.5-2-.8-1.9-.4-2 0-1.9 .4-2 .8-2.3 1.5-1 1-1.4 2-.5 .9-.3 2 .3 2 .4 .9 1.3 2 1.1 1 1.5 1 2 .9zM185.9 397.9l.9 .3 1.9 .3 2-.1 1.9-.5 2-.9 1.5-1 1-1 1.3-2 .5-.9 .3-2-.4-2-.4-.9-.6-1-1.3-1.4-.9-.9-2-1.2-1.9-.8-2-.4-1.9 0-2 .4-1.9 .8-1 .7-1 .8-1.5 2-.6 1.9 6 .9 1 .3 .5 .8-.5 .9-2.9 .6-3.3 .5 .6 1.9 1.5 2 1.2 1 2 .9zM222 397.9l1.8 .5 2 .1 1.9-.3 1-.3 1.9-.9 1-.9 1-1.1 .6-1 .7-1.9-3.3-.5-2.9-.6-.6-.9 .6-.8 1-.3 6-.9-.7-1.9-.6-1-.8-1-2-1.5-1.9-.8-2-.4-1.9 0-2 .4-1.9 .8-2.4 1.5-1 1-1.4 2-.4 .9-.4 2 .3 2 .4 .9 1.4 2 1 1 1.5 1 2.1 .9zM263.8 397.9l.9 .3 2 .3 1.9-.1 2-.5 1.9-.9 1.5-1 1-1 1.4-2 .4-.9 .3-2-.4-2-.4-.9-.6-1-1.2-1.4-1-.9-2-1.2-1.9-.8-2-.4-1.9 0-2 .4-1.9 .8-1 .7-1 .8-1.4 2-.6 1.9 5.9 .9 1 .3 .6 .8-.6 .9-2.9 .6-3.3 .5 .7 1.9 1.4 2 1.3 1 1.9 .9zM299.9 397.9l1.8 .5 2 .1 1.9-.3 1-.3 1.9-.9 1-.9 1.1-1.1 .6-1 .6-1.9-3.2-.5-3-.6-.5-.9 .5-.8 1-.3 6-.9-.6-1.9-.6-1-.9-1-1.9-1.5-2-.8-1.9-.4-2 0-1.9 .4-2 .8-2.3 1.5-1.1 1-1.3 2-.5 .9-.3 2 .3 2 .4 .9 1.3 2 1.1 1 1.4 1 2.1 .9zM341.7 397.9l1 .3 1.9 .3 2-.1 1.9-.5 2-.9 1.4-1 1.1-1 1.3-2 .4-.9 .3-2-.3-2-.5-.9-.6-1-1.2-1.4-1-.9-1.9-1.2-2-.8-1.9-.4-2 0-1.9 .4-2 .8-.9 .7-1 .8-1.5 2-.6 1.9 6 .9 1 .3 .5 .8-.5 .9-3 .6-3.2 .5 .6 1.9 1.5 2 1.2 1 1.9 .9zM377.8 397.9l1.9 .5 1.9 .1 2-.3 1-.3 1.8-.9 1.1-.9 1-1.1 .6-1 .7-1.9-3.3-.5-2.9-.6-.6-.9 .6-.8 1-.3 5.9-.9-.6-1.9-.6-1-.8-1-2-1.5-1.9-.8-2-.4-1.9 0-2 .4-1.9 .8-2.4 1.5-1 1-1.4 2-.4 .9-.4 2 .3 2 .4 .9 1.4 2 1 1 1.5 1 2 .9z"/>
<path fill="#000aff" d="M107.5 396l1.3 .6 1 .2 2 0 .9-.2 1.5-.6 1.5-1 .9-1 .7-1 .7-1.9 0-2-.3-1-.4-.9-.7-1-.9-1-1-.7-1-.6-1.9-.6-1-.1-2 .2-1.9 .8-1.2 1-.8 1-.5 1-.3 .9 2.8 .5 1.9 .5 .7 1-.7 1-1.9 .5-2.3 .5 .8 1.9 .8 1 1.3 1zM144.4 396l1.5 .6 .9 .2 2 0 1-.2 1.9-1 1.5-1.6 .8-1.9-2.3-.5-1.9-.5-.7-1 .7-1 1.9-.5 2.8-.5-.3-.9-.5-1-.8-1-1.2-1-1-.5-1.9-.4-1-.1-1.9 .3-1.6 .7-1.4 1-.9 1-.7 1-.7 1.9-.1 1 .4 2 .4 .9 .7 1 1 1 1.4 1zM185.5 396l1.3 .6 1 .2 1.9 0 1-.2 1.4-.6 1.5-1 .9-1 .7-1 .7-1.9 0-2-.3-1-.4-.9-.7-1-.9-1-1-.7-.9-.6-2-.6-1-.1-1.9 .2-2 .8-1.2 1-.7 1-.6 1-.2 .9 2.7 .5 2 .5 .6 1-.6 1-2 .5-2.3 .5 .8 1.9 .8 1 1.4 1zM222.4 396l1.4 .6 1 .2 1.9 0 1-.2 1.9-1 1.6-1.6 .8-1.9-2.4-.5-1.9-.5-.6-1 .6-1 1.9-.5 2.8-.5-.3-.9-.5-1-.7-1-1.3-1-.9-.5-2-.4-.9-.1-2 .3-1.6 .7-1.3 1-1 1-.6 1-.7 1.9-.1 1 .3 2 .5 .9 .6 1 1 1 1.5 1zM263.4 396l1.3 .6 1 .2 1.9 0 1-.2 1.5-.6 1.4-1 1-1 .7-1 .7-1.9-.1-2-.2-1-.4-.9-.7-1-.9-1-1-.7-1-.6-2-.6-.9-.1-2 .2-1.9 .8-1.2 1-.8 1-.5 1-.3 .9 2.8 .5 1.9 .5 .7 1-.7 1-1.9 .5-2.3 .5 .8 1.9 .8 1 1.3 1zM300.3 396l1.4 .6 1 .2 2 0 .9-.2 2-1 1.5-1.6 .8-1.9-2.3-.5-2-.5-.6-1 .6-1 2-.5 2.8-.5-.3-.9-.5-1-.8-1-1.2-1-1-.5-1.9-.4-1-.1-2 .3-1.5 .7-1.4 1-.9 1-.7 1-.7 1.9-.1 1 .4 2 .4 .9 .7 1 .9 1 1.5 1zM341.4 396l1.3 .6 .9 .2 2 0 1-.2 1.4-.6 1.5-1 .9-1 .7-1 .7-1.9 0-2-.3-1-.4-.9-.7-1-.9-1-1-.7-1-.6-1.9-.6-1-.1-1.9 .2-2 .8-1.2 1-.8 1-.5 1-.3 .9 2.8 .5 2 .5 .6 1-.6 1-2 .5-2.3 .5 .8 1.9 .8 1 1.4 1zM378.2 396l1.5 .6 1 .2 1.9 0 1-.2 1.9-1 1.5-1.6 .8-1.9-2.3-.5-1.9-.5-.7-1 .7-1 1.9-.5 2.8-.5-.3-.9-.5-1-.8-1-1.2-1-.9-.5-2-.4-1-.1-1.9 .3-1.6 .7-1.3 1-1 1-.7 1-.6 1.9-.1 1 .3 2 .4 .9 .7 1 1 1 1.4 1z"/>
<path fill="#0014ff" d="M108.2 395l1.6 .6 1 0 1.9-.5 1.8-1.1 .8-1 .5-.9 .3-1 .1-1-.1-1-.3-1-.5-.9-.8-1-1.8-1.2-1.9-.5-2 .2-.9 .4-1 .7-1 1.4-.4 .9 3.3 .9 .8 1.1-.8 1.1-2.9 .9 .3 .9 .7 1 1.3 1zM145.6 395l1.2 .5 1 .1 1 0 1-.3 .9-.5 1-.8 .7-1 .3-.9-2.9-.9-.8-1.1 .8-1.1 3.3-.9-.4-.9-.7-1-1.3-1.1-.9-.4-1-.2-2 .1-1.9 .9-.8 .7-.8 1-.8 1.9 0 2 .8 1.9 .8 1 1.5 1zM186.1 395l1.7 .6 .9 0 2-.5 1.7-1.1 .8-1 .6-.9 .3-1 .1-1-.1-1-.3-1-.5-.9-.8-1-1.8-1.2-2-.5-1.9 .2-1 .4-1 .7-.9 1.4-.4 .9 3.3 .9 .7 1.1-.7 1.1-3 .9 .4 .9 .6 1 1.3 1zM223.5 395l1.3 .5 1 .1 .9 0 1-.3 1-.5 .9-.8 .7-1 .4-.9-3-.9-.7-1.1 .7-1.1 3.3-.9-.4-.9-.6-1-1.3-1.1-1-.4-1-.2-1.9 .1-2 .9-.8 .7-.8 1-.8 1.9 0 2 .8 1.9 .9 1 1.4 1zM264.1 395l1.6 .6 1 0 1.9-.5 1.7-1.1 .9-1 .5-.9 .3-1 .1-1-.1-1-.3-1-.5-.9-.8-1-1.8-1.2-1.9-.5-2 .2-1 .4-.9 .7-1 1.4-.4 .9 3.3 .9 .7 1.1-.7 1.1-2.9 .9 .3 .9 .7 1 1.3 1zM301.4 395l1.3 .5 1 .1 1 0 .9-.3 1-.5 1-.8 .7-1 .3-.9-3-.9-.7-1.1 .7-1.1 3.3-.9-.3-.9-.7-1-1.3-1.1-1-.4-.9-.2-2 .1-1.9 .9-.8 .7-.8 1-.9 1.9 .1 2 .8 1.9 .8 1 1.4 1zM342 395l1.6 .6 1 0 2-.5 1.7-1.1 .8-1 .5-.9 .4-1 0-1 0-1-.3-1-.5-.9-.9-1-1.7-1.2-2-.5-1.9 .2-1 .4-1 .7-1 1.4-.3 .9 3.3 .9 .7 1.1-.7 1.1-3 .9 .3 .9 .7 1 1.3 1zM379.4 395l1.3 .5 .9 .1 1 0 1-.3 1-.5 .9-.8 .7-1 .3-.9-2.9-.9-.7-1.1 .7-1.1 3.3-.9-.4-.9-.6-1-1.3-1.1-1-.4-1-.2-1.9 .1-2 .9-.8 .7-.8 1-.8 1.9 0 2 .8 1.9 .9 1 1.4 1z"/>
<path fill="#0023ff" d="M108.2 394l.6 .4 1 .3 1 0 1-.2 .9-.5 1-.8 .8-1.1 .4-1 .1-1-.1-1-.3-1-.9-1.2-1-.8-.9-.5-1-.2-1 0-1 .2-.9 .6-.9 1-.5 .9 2.3 .7 .8 1.3-.8 1.3-2 .7 .4 .9 1 1zM145.9 394l.9 .5 1 .2 1 0 1-.3 .6-.4 1-1 .4-.9-2-.7-.8-1.3 .8-1.3 2.3-.7-.5-.9-.9-1-.9-.6-1-.2-1 0-1 .2-.9 .5-1 .8-.8 1.2-.4 1-.1 1 .1 1 .4 1 .6 .9 1.2 1zM186.2 394l.6 .4 1 .3 .9 0 1-.2 1-.5 1-.8 .8-1.1 .3-1 .1-1-.1-1-.3-1-.8-1.2-1-.8-1-.5-1-.2-.9 0-1 .2-1 .6-.9 1-.4 .9 2.3 .7 .8 1.3-.8 1.3-2.1 .7 .5 .9 1 1zM223.8 394l1 .5 1 .2 .9 0 1-.3 .6-.4 1-1 .5-.9-2.1-.7-.8-1.3 .8-1.3 2.3-.7-.5-.9-.8-1-1-.6-1-.2-.9 0-1 .2-1 .5-1 .8-.8 1.2-.3 1-.2 1 .2 1 .3 1 .7 .9 1.1 1zM264.1 394l.6 .4 1 .3 1 0 .9-.2 1-.5 1-.8 .8-1.1 .4-1 .1-1-.1-1-.4-1-.8-1.2-1-.8-1-.5-.9-.2-1 0-1 .2-1 .6-.8 1-.5 .9 2.3 .7 .8 1.3-.8 1.3-2.1 .7 .5 .9 1 1zM301.7 394l1 .5 1 .2 1 0 .9-.3 .7-.4 1-1 .4-.9-2.1-.7-.8-1.3 .8-1.3 2.4-.7-.5-.9-.9-1-1-.6-.9-.2-1 0-1 .2-1 .5-.9 .8-.9 1.2-.3 1-.1 1 .1 1 .4 1 .6 .9 1.1 1zM342 394l.7 .4 .9 .3 1 0 1-.2 1-.5 .9-.8 .9-1.1 .3-1 .1-1-.1-1-.3-1-.9-1.2-.9-.8-1-.5-1-.2-1 0-.9 .2-1 .6-.9 1-.5 .9 2.4 .7 .8 1.3-.8 1.3-2.1 .7 .4 .9 1 1zM379.7 394l1 .5 .9 .2 1 0 1-.3 .6-.4 1-1 .5-.9-2.1-.7-.8-1.3 .8-1.3 2.3-.7-.5-.9-.8-1-1-.6-1-.2-1 0-.9 .2-1 .5-1 .8-.8 1.2-.4 1-.1 1 .1 1 .4 1 .6 .9 1.2 1z"/>
<path fill="#0036ff" d="M108.2 393l.6 .6 1 .3 1 0 1-.3 .7-.6 .9-.9 .4-1 .1-1-.1-1-.4-1-.8-.9-.8-.6-1-.3-1-.1-1 .3-.8 .7-.6 .9 1.4 .6 .9 1.4-.9 1.5-1.3 .5 .7 .9zM146.1 393l.7 .6 1 .3 1 0 1-.3 .6-.6 .7-.9-1.3-.5-.9-1.5 .9-1.4 1.4-.6-.6-.9-.8-.7-1-.3-1 .1-1 .3-.8 .6-.8 .9-.4 1-.1 1 .1 1 .4 1 .9 .9zM186.2 393l.6 .6 1 .3 .9 0 1-.3 .8-.6 .8-.9 .4-1 .2-1-.2-1-.3-1-.9-.9-.8-.6-1-.3-.9-.1-1 .3-.8 .7-.7 .9 1.5 .6 .9 1.4-.9 1.5-1.3 .5 .7 .9zM224 393l.8 .6 1 .3 .9 0 1-.3 .6-.6 .7-.9-1.3-.5-.9-1.5 .9-1.4 1.5-.6-.7-.9-.8-.7-1-.3-.9 .1-1 .3-.8 .6-.9 .9-.3 1-.2 1 .2 1 .4 1 .8 .9zM264.1 393l.6 .6 1 .3 1 0 .9-.3 .8-.6 .9-.9 .4-1 .1-1-.1-1-.4-1-.8-.9-.9-.6-.9-.3-1-.1-1 .3-.8 .7-.6 .9 1.4 .6 .9 1.4-.9 1.5-1.3 .5 .7 .9zM302 393l.7 .6 1 .3 1 0 .9-.3 .7-.6 .6-.9-1.3-.5-.9-1.5 .9-1.4 1.5-.6-.7-.9-.8-.7-.9-.3-1 .1-1 .3-.8 .6-.8 .9-.4 1-.1 1 .1 1 .4 1 .9 .9zM342 393l.7 .6 .9 .3 1 0 1-.3 .7-.6 .9-.9 .4-1 .1-1-.1-1-.4-1-.8-.9-.8-.6-1-.3-1-.1-.9 .3-.8 .7-.7 .9 1.5 .6 .9 1.4-.9 1.5-1.3 .5 .6 .9zM379.9 393l.8 .6 .9 .3 1 0 1-.3 .6-.6 .7-.9-1.3-.5-.9-1.5 .9-1.4 1.4-.6-.6-.9-.8-.7-1-.3-1 .1-.9 .3-.9 .6-.8 .9-.4 1-.1 1 .1 1 .4 1 .9 .9z"/>
<path fill="#0049ff" d="M109.2 393l.6 .3 1 0 .5-.3 .5-.2 .7-.7 .5-1 .2-1-.2-1-.4-1-.8-.7-1-.5-1-.1-1 .4-.8 .9 .8 .4 1 1.6-1 1.7-.7 .3 .7 .8 .4 .1zM147.3 393l.5 .3 1 0 1-.4 .7-.8-.7-.3-1-1.7 1-1.6 .8-.4-.8-.9-1-.4-1 .1-1 .5-.8 .7-.4 1-.2 1 .2 1 .5 1 .7 .7 .5 .2zM187.1 393l.7 .3 .9 0 .5-.3 .5-.2 .8-.7 .5-1 .1-1-.1-1-.5-1-.8-.7-1-.5-.9-.1-1 .4-.8 .9 .8 .4 1 1.6-1 1.7-.7 .3 .7 .8 .3 .1zM225.3 393l.5 .3 .9 0 1-.4 .7-.8-.7-.3-1-1.7 1-1.6 .8-.4-.8-.9-1-.4-.9 .1-1 .5-.8 .7-.5 1-.1 1 .1 1 .5 1 .8 .7 .5 .2zM265.1 393l.6 .3 1 0 .5-.3 .4-.2 .8-.7 .5-1 .2-1-.2-1-.5-1-.8-.7-.9-.5-1-.1-1 .4-.8 .9 .8 .4 1 1.6-1 1.7-.7 .3 .7 .8 .4 .1zM303.2 393l.5 .3 1 0 .9-.4 .7-.8-.7-.3-1-1.7 1-1.6 .8-.4-.8-.9-.9-.4-1 .1-1 .5-.8 .7-.5 1-.1 1 .2 1 .5 1 .7 .7 .5 .2zM343 393l.6 .3 1 0 .5-.3 .5-.2 .7-.7 .5-1 .2-1-.1-1-.5-1-.8-.7-1-.5-1-.1-.9 .4-.8 .9 .8 .4 1 1.6-1 1.7-.7 .3 .7 .8 .3 .1zM381.2 393l.4 .3 1 0 1-.4 .7-.8-.7-.3-1-1.7 1-1.6 .8-.4-.8-.9-1-.4-1 .1-.9 .5-.8 .7-.5 1-.2 1 .2 1 .5 1 .8 .7 .5 .2z"/>
<path fill="#005cff" d="M108.6 392.1l1.2 .8 1-.1 1-.7 .7-1 .1-1-.1-1-.6-1-1.1-.7-1-.2-1 .6-.3 .3 .3 .2 1.2 1.8-1.2 1.9-.2 .1zM146.8 392.1l1 .7 1 .1 1.2-.8-.2-.1-1.2-1.9 1.2-1.8 .3-.2-.3-.3-1-.6-1 .2-1.1 .7-.6 1-.1 1 .1 1 .7 1zM186.5 392.1l1.3 .8 .9-.1 1.1-.7 .6-1 .1-1-.1-1-.6-1-1.1-.7-.9-.2-1 .6-.4 .3 .4 .2 1.1 1.8-1.1 1.9-.3 .1zM224.7 392.1l1.1 .7 .9 .1 1.2-.8-.2-.1-1.1-1.9 1.1-1.8 .3-.2-.3-.3-1-.6-.9 .2-1.1 .7-.6 1-.2 1 .2 1 .6 1zM264.5 392.1l1.2 .8 1-.1 1-.7 .6-1 .2-1-.1-1-.6-1-1.1-.7-1-.2-1 .6-.3 .3 .3 .2 1.2 1.8-1.2 1.9-.2 .1zM302.7 392.1l1 .7 1 .1 1.2-.8-.3-.1-1.1-1.9 1.1-1.8 .4-.2-.4-.3-.9-.6-1 .2-1.1 .7-.6 1-.1 1 .1 1 .7 1zM342.4 392.1l1.2 .8 1-.1 1-.7 .7-1 .1-1-.1-1-.6-1-1.1-.7-1-.2-.9 .6-.4 .3 .4 .2 1.1 1.8-1.1 1.9-.3 .1zM380.6 392.1l1 .7 1 .1 1.2-.8-.2-.1-1.2-1.9 1.2-1.8 .3-.2-.3-.3-1-.6-1 .2-1 .7-.7 1-.1 1 .2 1 .6 1z"/>
<path fill="#0079ff" d="M109 392.1l.8 .6 1-.3 .5-.3 .7-1 .2-1-.2-1-.7-1-.5-.4-1-.2-.9 .6 .5 1 .7 1-.7 1-.4 1zM147.3 392.1l.5 .3 1 .3 .8-.6-.4-1-.7-1 .7-1 .5-1-.9-.6-1 .2-.5 .4-.7 1-.2 1 .2 1 .7 1zM186.9 392.1l.9 .6 .9-.3 .5-.3 .7-1 .2-1-.1-1-.7-1-.6-.4-.9-.2-.9 .6 .4 1 .8 1-.8 1-.4 1zM225.3 392.1l.5 .3 .9 .3 .8-.6-.4-1-.7-1 .8-1 .4-1-.9-.6-.9 .2-.6 .4-.7 1-.1 1 .1 1 .8 1zM264.9 392.1l.8 .6 1-.3 .5-.3 .7-1 .2-1-.2-1-.7-1-.5-.4-1-.2-.9 .6 .5 1 .7 1-.7 1-.4 1zM303.2 392.1l.5 .3 1 .3 .8-.6-.4-1-.8-1 .8-1 .4-1-.8-.6-1 .2-.5 .4-.7 1-.2 1 .2 1 .7 1zM342.8 392.1l.8 .6 1-.3 .5-.3 .7-1 .2-1-.2-1-.7-1-.5-.4-1-.2-.8 .6 .4 1 .8 1-.8 1-.4 1zM381.1 392.1l.5 .3 1 .3 .8-.6-.4-1-.7-1 .7-1 .5-1-.9-.6-1 .2-.5 .4-.7 1-.1 1 .1 1 .7 1z"/>
<path fill="#009fff" d="M109.6 392.1l.2 .1 1-.4 .6-.7 .1-1-.1-1-.6-.7-1-.4-.2 .1 0 1 .8 1-.8 1 0 1zM148.5 392.1l.3 .1 .2-.1 0-1-.8-1 .8-1 0-1-.2-.1-1 .4-.6 .7 0 2 .6 .7 .7 .3zM187.6 392.1l.2 .1 .9-.4 .7-.7 0-1 0-1-.7-.7-.9-.4-.3 .1 0 1 .9 1-.9 1 .1 1zM226.4 392.1l.3 .1 .2-.1 0-1-.8-1 .9-1 0-1-.3-.1-.9 .4-.7 .7 0 2 .7 .7 .6 .3zM265.5 392.1l.2 .1 1-.4 .6-.7 .1-1-.1-1-.6-.7-1-.4-.2 .1 0 1 .8 1-.8 1 0 1zM304.3 392.1l.4 .1 .1-.1 .1-1-.8-1 .8-1 0-1-.2-.1-1 .4-.7 .7 .1 2 .6 .7 .6 .3zM343.5 392.1l.1 .1 1-.4 .6-.7 .1-1 0-1-.7-.7-1-.4-.2 .1 0 1 .8 1-.8 1 .1 1zM382.3 392.1l.3 .1 .2-.1 0-1-.8-1 .8-1 0-1-.2-.1-1 .4-.6 .7 0 2 .6 .7 .7 .3z"/>
<path fill="#00d2ff" d="M109.8 391.1l1 .2 .2-.2 0-2-.2-.2-1 .1 0 .2 .9 .9-.9 1zM147.6 391.1l.2 .2 1-.1-.9-1.1 .9-.9 0-.2-1-.1-.2 .2 0 2zM187.7 391.1l1 .2 .2-.2 0-2-.2-.2-.9 .1 0 .2 .8 .9-.9 1zM225.6 391.1l.2 .2 .9-.1-.9-1.1 .9-.9 0-.2-.9-.1-.2 .2 0 2zM265.7 391.1l1 .2 .1-.2 .1-2-.2-.2-1 .1 0 .2 .9 .9-.9 1zM303.5 391.1l.2 .2 1-.1-.9-1.1 .9-.9 0-.2-1-.1-.2 .2 0 2zM343.6 391.1l1 .2 .2-.2 0-2-.2-.2-1 .1 0 .2 .9 .9-.9 1zM381.5 391.1l.1 .2 1-.1-.9-1.1 .9-.9 0-.2-1-.1-.2 .2 .1 2z"/></g>
<rect x="90.33" y="292.23" width="311.76" height="146.81" fill="none" stroke="#000" stroke-opacity="0.4" stroke-width="0.8"/>
<path d="M90.33 390.40H402.09" stroke="#050505" stroke-width="1.1"/>
<rect x="90.33" y="389.00" width="19.48" height="1.1" fill="#ab9f86"/>
<rect x="148.79" y="389.00" width="38.97" height="1.1" fill="#ab9f86"/>
<rect x="226.73" y="389.00" width="38.97" height="1.1" fill="#ab9f86"/>
<rect x="304.67" y="389.00" width="38.97" height="1.1" fill="#ab9f86"/>
<rect x="382.61" y="389.00" width="19.49" height="1.1" fill="#ab9f86"/>
<path d="M95.5 436.6L100.0 438.6M105.9 436.6L110.8 437.2M116.3 436.6L121.2 436.9M126.7 436.6L131.6 436.6M137.1 436.6L142.0 436.4M147.5 436.6L152.4 436.2M157.9 436.6L162.7 435.5M168.3 436.6L168.3 431.7M178.7 436.6L173.9 435.5M189.1 436.6L184.2 436.2M199.4 436.6L194.5 436.4M209.8 436.6L204.9 436.6M220.2 436.6L215.3 436.9M230.6 436.6L225.8 437.2M241.0 436.6L236.6 438.6M251.4 436.6L255.9 438.6M261.8 436.6L266.7 437.2M272.2 436.6L277.1 436.9M282.6 436.6L287.5 436.6M293.0 436.6L297.9 436.4M303.4 436.6L308.2 436.2M313.8 436.6L318.5 435.5M324.2 436.6L324.2 431.7M334.5 436.6L329.8 435.5M344.9 436.6L340.1 436.2M355.3 436.6L350.4 436.4M365.7 436.6L360.8 436.6M376.1 436.6L371.2 436.9M386.5 436.6L381.6 437.2M396.9 436.6L392.4 438.6M95.5 431.7L98.4 435.6M105.9 431.7L110.5 433.5M116.3 431.7L121.1 432.5M126.7 431.7L131.6 431.8M137.1 431.7L142.0 431.2M147.5 431.7L152.2 430.5M157.9 431.7L162.0 429.0M168.3 431.7L168.3 426.8M178.7 431.7L174.5 429.0M189.1 431.7L184.3 430.5M199.4 431.7L194.6 431.2M209.8 431.7L204.9 431.8M220.2 431.7L215.4 432.5M230.6 431.7L226.1 433.5M241.0 431.7L238.1 435.6M251.4 431.7L254.3 435.6M261.8 431.7L266.4 433.5M272.2 431.7L277.0 432.5M282.6 431.7L287.5 431.8M293.0 431.7L297.9 431.2M303.4 431.7L308.1 430.5M313.8 431.7L317.9 429.0M324.2 431.7L324.2 426.8M334.5 431.7L330.4 429.0M344.9 431.7L340.2 430.5M355.3 431.7L350.4 431.2M365.7 431.7L360.8 431.8M376.1 431.7L371.3 432.5M386.5 431.7L381.9 433.5M396.9 431.7L394.0 435.6M95.5 426.8L97.6 431.2M105.9 426.8L110.1 429.4M116.3 426.8L121.0 428.1M126.7 426.8L131.6 427.0M137.1 426.8L141.9 426.1M147.5 426.8L152.0 424.9M157.9 426.8L161.3 423.3M168.3 426.8L168.3 421.9M178.7 426.8L175.3 423.3M189.1 426.8L184.5 424.9M199.4 426.8L194.6 426.1M209.8 426.8L204.9 427.0M220.2 426.8L215.5 428.1M230.6 426.8L226.5 429.4M241.0 426.8L239.0 431.2M251.4 426.8L253.5 431.2M261.8 426.8L265.9 429.4M272.2 426.8L276.9 428.1M282.6 426.8L287.5 427.0M293.0 426.8L297.8 426.1M303.4 426.8L307.9 424.9M313.8 426.8L317.2 423.3M324.2 426.8L324.2 421.9M334.5 426.8L331.1 423.3M344.9 426.8L340.4 424.9M355.3 426.8L350.5 426.1M365.7 426.8L360.8 427.0M376.1 426.8L371.4 428.1M386.5 426.8L382.4 429.4M396.9 426.8L394.8 431.2M95.5 421.9L97.1 426.5M105.9 421.9L109.7 425.1M116.3 421.9L120.9 423.5M126.7 421.9L131.6 422.2M137.1 421.9L141.9 421.0M147.5 421.9L151.8 419.6M157.9 421.9L160.8 418.0M168.3 421.9L168.3 417.0M178.7 421.9L175.8 418.0M189.1 421.9L184.8 419.6M199.4 421.9L194.6 421.0M209.8 421.9L204.9 422.2M220.2 421.9L215.6 423.5M230.6 421.9L226.9 425.1M241.0 421.9L239.4 426.5M251.4 421.9L253.0 426.5M261.8 421.9L265.6 425.1M272.2 421.9L276.8 423.5M282.6 421.9L287.5 422.2M293.0 421.9L297.8 421.0M303.4 421.9L307.7 419.6M313.8 421.9L316.7 418.0M324.2 421.9L324.2 417.0M334.5 421.9L331.6 418.0M344.9 421.9L340.6 419.6M355.3 421.9L350.5 421.0M365.7 421.9L360.8 422.2M376.1 421.9L371.5 423.5M386.5 421.9L382.7 425.1M396.9 421.9L395.3 426.5M95.5 417.0L96.9 421.7M105.9 417.0L109.4 420.5M116.3 417.0L120.8 418.9M126.7 417.0L131.6 417.4M137.1 417.0L141.9 415.9M147.5 417.0L151.6 414.3M157.9 417.0L160.4 412.8M168.3 417.0L168.3 412.1M178.7 417.0L176.1 412.8M189.1 417.0L185.0 414.3M199.4 417.0L194.7 415.9M209.8 417.0L205.0 417.4M220.2 417.0L215.7 418.9M230.6 417.0L227.2 420.5M241.0 417.0L239.7 421.7M251.4 417.0L252.8 421.7M261.8 417.0L265.3 420.5M272.2 417.0L276.7 418.9M282.6 417.0L287.5 417.4M293.0 417.0L297.8 415.9M303.4 417.0L307.5 414.3M313.8 417.0L316.3 412.8M324.2 417.0L324.2 412.1M334.5 417.0L332.0 412.8M344.9 417.0L340.8 414.3M355.3 417.0L350.6 415.9M365.7 417.0L360.8 417.4M376.1 417.0L371.6 418.9M386.5 417.0L383.0 420.5M396.9 417.0L395.5 421.7M95.5 412.1L96.7 416.9M105.9 412.1L109.1 415.8M116.3 412.1L120.8 414.2M126.7 412.1L131.6 412.5M137.1 412.1L141.8 410.9M147.5 412.1L151.4 409.2M157.9 412.1L160.2 407.8M168.3 412.1L168.3 407.2M178.7 412.1L176.4 407.8M189.1 412.1L185.1 409.2M199.4 412.1L194.7 410.9M209.8 412.1L205.0 412.5M220.2 412.1L215.8 414.2M230.6 412.1L227.4 415.8M241.0 412.1L239.8 416.9M251.4 412.1L252.6 416.9M261.8 412.1L265.0 415.8M272.2 412.1L276.6 414.2M282.6 412.1L287.5 412.5M293.0 412.1L297.7 410.9M303.4 412.1L307.3 409.2M313.8 412.1L316.0 407.8M324.2 412.1L324.2 407.2M334.5 412.1L332.3 407.8M344.9 412.1L341.0 409.2M355.3 412.1L350.6 410.9M365.7 412.1L360.8 412.5M376.1 412.1L371.7 414.2M386.5 412.1L383.3 415.8M396.9 412.1L395.7 416.9M95.5 407.2L96.5 412.0M105.9 407.2L108.9 411.1M116.3 407.2L120.7 409.4M126.7 407.2L131.6 407.6M137.1 407.2L141.8 406.0M147.5 407.2L151.3 404.2M157.9 407.2L159.9 402.8M168.3 407.2L168.3 402.3M178.7 407.2L176.6 402.8M189.1 407.2L185.2 404.2M199.4 407.2L194.7 406.0M209.8 407.2L205.0 407.6M220.2 407.2L215.8 409.4M230.6 407.2L227.6 411.1M241.0 407.2L240.0 412.0M251.4 407.2L252.4 412.0M261.8 407.2L264.8 411.1M272.2 407.2L276.6 409.4M282.6 407.2L287.5 407.6M293.0 407.2L297.7 406.0M303.4 407.2L307.2 404.2M313.8 407.2L315.8 402.8M324.2 407.2L324.2 402.3M334.5 407.2L332.5 402.8M344.9 407.2L341.1 404.2M355.3 407.2L350.6 406.0M365.7 407.2L360.8 407.6M376.1 407.2L371.7 409.4M386.5 407.2L383.5 411.1M396.9 407.2L395.9 412.0M95.5 402.3L96.3 407.2M105.9 402.3L108.6 406.4M116.3 402.3L120.7 404.4M126.7 402.3L131.6 402.7M137.1 402.3L141.9 401.2M147.5 402.3L151.2 399.2M157.9 402.3L159.6 397.7M168.3 402.3L168.3 397.4M178.7 402.3L177.0 397.7M189.1 402.3L185.3 399.2M199.4 402.3L194.7 401.2M209.8 402.3L205.0 402.7M220.2 402.3L215.8 404.4M230.6 402.3L227.9 406.4M241.0 402.3L240.2 407.2M251.4 402.3L252.2 407.2M261.8 402.3L264.5 406.4M272.2 402.3L276.6 404.4M282.6 402.3L287.5 402.7M293.0 402.3L297.7 401.2M303.4 402.3L307.1 399.2M313.8 402.3L315.5 397.7M324.2 402.3L324.2 397.4M334.5 402.3L332.8 397.7M344.9 402.3L341.2 399.2M355.3 402.3L350.6 401.2M365.7 402.3L360.8 402.7M376.1 402.3L371.7 404.4M386.5 402.3L383.8 406.4M396.9 402.3L396.1 407.2M95.5 397.4L96.1 402.3M105.9 397.4L108.1 401.8M116.3 397.4L120.9 399.2M126.7 397.4L131.6 397.7M137.1 397.4L141.9 396.6M147.5 397.4L151.2 394.2M157.9 397.4L159.1 392.7M168.3 397.4L168.3 392.5M178.7 397.4L177.5 392.7M189.1 397.4L185.4 394.2M199.4 397.4L194.6 396.6M209.8 397.4L204.9 397.7M220.2 397.4L215.7 399.2M230.6 397.4L228.4 401.8M241.0 397.4L240.5 402.3M251.4 397.4L251.9 402.3M261.8 397.4L264.0 401.8M272.2 397.4L276.8 399.2M282.6 397.4L287.5 397.7M293.0 397.4L297.8 396.6M303.4 397.4L307.1 394.2M313.8 397.4L314.9 392.7M324.2 397.4L324.2 392.5M334.5 397.4L333.4 392.7M344.9 397.4L341.2 394.2M355.3 397.4L350.5 396.6M365.7 397.4L360.8 397.7M376.1 397.4L371.5 399.2M386.5 397.4L384.3 401.8M396.9 397.4L396.4 402.3M95.5 392.5L95.7 397.4M105.9 392.5L106.7 397.4M116.3 392.5L121.1 393.3M126.7 392.5L131.6 392.6M137.1 392.5L142.0 392.2M147.5 392.5L151.6 389.8M157.9 392.5L158.2 387.7M168.3 392.5L168.3 387.6M178.7 392.5L178.3 387.7M189.1 392.5L185.0 389.8M199.4 392.5L194.6 392.2M209.8 392.5L204.9 392.6M220.2 392.5L215.4 393.3M230.6 392.5L229.8 397.4M241.0 392.5L240.9 397.4M251.4 392.5L251.5 397.4M261.8 392.5L262.6 397.4M272.2 392.5L277.0 393.3M282.6 392.5L287.5 392.6M293.0 392.5L297.9 392.2M303.4 392.5L307.4 389.8M313.8 392.5L314.1 387.7M324.2 392.5L324.2 387.6M334.5 392.5L334.2 387.7M344.9 392.5L340.9 389.8M355.3 392.5L350.4 392.2M365.7 392.5L360.8 392.6M376.1 392.5L371.3 393.3M386.5 392.5L385.7 397.4M396.9 392.5L396.8 397.4M95.5 387.7L95.6 382.8M105.9 387.7L106.7 382.8M116.3 387.7L121.1 386.8M126.7 387.7L131.6 387.5M137.1 387.7L142.0 388.0M147.5 387.7L151.5 390.4M157.9 387.7L158.2 392.5M168.3 387.7L168.3 392.6M178.7 387.7L178.4 392.5M189.1 387.7L185.0 390.4M199.4 387.7L194.6 388.0M209.8 387.7L204.9 387.5M220.2 387.7L215.4 386.8M230.6 387.7L229.9 382.8M241.0 387.7L240.9 382.8M251.4 387.7L251.5 382.8M261.8 387.7L262.5 382.8M272.2 387.7L277.0 386.8M282.6 387.7L287.5 387.5M293.0 387.7L297.9 388.0M303.4 387.7L307.4 390.4M313.8 387.7L314.1 392.5M324.2 387.7L324.2 392.6M334.5 387.7L334.2 392.5M344.9 387.7L340.9 390.4M355.3 387.7L350.4 388.0M365.7 387.7L360.8 387.5M376.1 387.7L371.3 386.8M386.5 387.7L385.8 382.8M396.9 387.7L396.8 382.8M95.5 382.8L96.0 377.9M105.9 382.8L108.0 378.3M116.3 382.8L120.8 380.9M126.7 382.8L131.6 382.5M137.1 382.8L141.9 383.7M147.5 382.8L151.1 386.1M157.9 382.8L159.0 387.5M168.3 382.8L168.3 387.7M178.7 382.8L177.6 387.5M189.1 382.8L185.4 386.1M199.4 382.8L194.6 383.7M209.8 382.8L204.9 382.5M220.2 382.8L215.7 380.9M230.6 382.8L228.5 378.3M241.0 382.8L240.5 377.9M251.4 382.8L251.9 377.9M261.8 382.8L263.9 378.3M272.2 382.8L276.7 380.9M282.6 382.8L287.5 382.5M293.0 382.8L297.8 383.7M303.4 382.8L307.0 386.1M313.8 382.8L314.9 387.5M324.2 382.8L324.2 387.7M334.5 382.8L333.4 387.5M344.9 382.8L341.3 386.1M355.3 382.8L350.5 383.7M365.7 382.8L360.8 382.5M376.1 382.8L371.6 380.9M386.5 382.8L384.4 378.3M396.9 382.8L396.4 377.9M95.5 377.9L96.3 373.0M105.9 377.9L108.5 373.7M116.3 377.9L120.7 375.6M126.7 377.9L131.6 377.5M137.1 377.9L141.8 379.1M147.5 377.9L151.1 381.2M157.9 377.9L159.4 382.5M168.3 377.9L168.3 382.8M178.7 377.9L177.1 382.5M189.1 377.9L185.5 381.2M199.4 377.9L194.7 379.1M209.8 377.9L205.0 377.5M220.2 377.9L215.9 375.6M230.6 377.9L228.1 373.7M241.0 377.9L240.3 373.0M251.4 377.9L252.1 373.0M261.8 377.9L264.3 373.7M272.2 377.9L276.5 375.6M282.6 377.9L287.5 377.5M293.0 377.9L297.7 379.1M303.4 377.9L307.0 381.2M313.8 377.9L315.3 382.5M324.2 377.9L324.2 382.8M334.5 377.9L333.0 382.5M344.9 377.9L341.4 381.2M355.3 377.9L350.6 379.1M365.7 377.9L360.8 377.5M376.1 377.9L371.8 375.6M386.5 377.9L384.0 373.7M396.9 377.9L396.2 373.0M95.5 373.0L96.4 368.1M105.9 373.0L108.6 368.9M116.3 373.0L120.6 370.6M126.7 373.0L131.6 372.5M137.1 373.0L141.8 374.4M147.5 373.0L151.1 376.3M157.9 373.0L159.6 377.5M168.3 373.0L168.3 377.9M178.7 373.0L176.9 377.5M189.1 373.0L185.5 376.3M199.4 373.0L194.8 374.4M209.8 373.0L205.0 372.5M220.2 373.0L216.0 370.6M230.6 373.0L227.9 368.9M241.0 373.0L240.2 368.1M251.4 373.0L252.3 368.1M261.8 373.0L264.5 368.9M272.2 373.0L276.5 370.6M282.6 373.0L287.5 372.5M293.0 373.0L297.7 374.4M303.4 373.0L307.0 376.3M313.8 373.0L315.5 377.5M324.2 373.0L324.2 377.9M334.5 373.0L332.8 377.5M344.9 373.0L341.3 376.3M355.3 373.0L350.6 374.4M365.7 373.0L360.8 372.5M376.1 373.0L371.8 370.6M386.5 373.0L383.8 368.9M396.9 373.0L396.0 368.1M95.5 368.1L96.5 363.3M105.9 368.1L108.7 364.1M116.3 368.1L120.6 365.6M126.7 368.1L131.6 367.6M137.1 368.1L141.8 369.6M147.5 368.1L151.1 371.4M157.9 368.1L159.8 372.6M168.3 368.1L168.3 373.0M178.7 368.1L176.8 372.6M189.1 368.1L185.4 371.4M199.4 368.1L194.8 369.6M209.8 368.1L205.0 367.6M220.2 368.1L216.0 365.6M230.6 368.1L227.8 364.1M241.0 368.1L240.1 363.3M251.4 368.1L252.3 363.3M261.8 368.1L264.6 364.1M272.2 368.1L276.4 365.6M282.6 368.1L287.5 367.6M293.0 368.1L297.6 369.6M303.4 368.1L307.0 371.4M313.8 368.1L315.6 372.6M324.2 368.1L324.2 373.0M334.5 368.1L332.7 372.6M344.9 368.1L341.3 371.4M355.3 368.1L350.7 369.6M365.7 368.1L360.8 367.6M376.1 368.1L371.9 365.6M386.5 368.1L383.7 364.1M396.9 368.1L396.0 363.3M95.5 363.2L96.5 358.4M105.9 363.2L108.8 359.2M116.3 363.2L120.6 360.7M126.7 363.2L131.6 362.7M137.1 363.2L141.8 364.7M147.5 363.2L151.1 366.5M157.9 363.2L159.8 367.7M168.3 363.2L168.3 368.1M178.7 363.2L176.7 367.7M189.1 363.2L185.4 366.5M199.4 363.2L194.8 364.7M209.8 363.2L205.0 362.7M220.2 363.2L216.0 360.7M230.6 363.2L227.8 359.2M241.0 363.2L240.0 358.4M251.4 363.2L252.4 358.4M261.8 363.2L264.6 359.2M272.2 363.2L276.4 360.7M282.6 363.2L287.5 362.7M293.0 363.2L297.6 364.7M303.4 363.2L307.0 366.5M313.8 363.2L315.7 367.7M324.2 363.2L324.2 368.1M334.5 363.2L332.6 367.7M344.9 363.2L341.3 366.5M355.3 363.2L350.7 364.7M365.7 363.2L360.8 362.7M376.1 363.2L371.9 360.7M386.5 363.2L383.7 359.2M396.9 363.2L395.9 358.4M95.5 358.3L96.5 353.5M105.9 358.3L108.8 354.3M116.3 358.3L120.6 355.8M126.7 358.3L131.6 357.8M137.1 358.3L141.8 359.8M147.5 358.3L151.1 361.6M157.9 358.3L159.9 362.8M168.3 358.3L168.3 363.2M178.7 358.3L176.7 362.8M189.1 358.3L185.4 361.6M199.4 358.3L194.8 359.8M209.8 358.3L205.0 357.8M220.2 358.3L216.0 355.8M230.6 358.3L227.8 354.3M241.0 358.3L240.0 353.5M251.4 358.3L252.4 353.5M261.8 358.3L264.7 354.3M272.2 358.3L276.4 355.8M282.6 358.3L287.5 357.8M293.0 358.3L297.6 359.8M303.4 358.3L307.0 361.6M313.8 358.3L315.7 362.8M324.2 358.3L324.2 363.2M334.5 358.3L332.6 362.8M344.9 358.3L341.3 361.6M355.3 358.3L350.7 359.8M365.7 358.3L360.8 357.8M376.1 358.3L371.9 355.8M386.5 358.3L383.6 354.3M396.9 358.3L395.9 353.5M95.5 353.4L96.5 348.6M105.9 353.4L108.8 349.4M116.3 353.4L120.6 351.0M126.7 353.4L131.6 352.9M137.1 353.4L141.8 354.9M147.5 353.4L151.1 356.7M157.9 353.4L159.9 357.9M168.3 353.4L168.3 358.3M178.7 353.4L176.7 357.9M189.1 353.4L185.4 356.7M199.4 353.4L194.8 354.9M209.8 353.4L205.0 352.9M220.2 353.4L216.0 351.0M230.6 353.4L227.7 349.4M241.0 353.4L240.0 348.6M251.4 353.4L252.4 348.6M261.8 353.4L264.7 349.4M272.2 353.4L276.4 351.0M282.6 353.4L287.5 352.9M293.0 353.4L297.6 354.9M303.4 353.4L307.0 356.7M313.8 353.4L315.8 357.9M324.2 353.4L324.2 358.3M334.5 353.4L332.5 357.9M344.9 353.4L341.3 356.7M355.3 353.4L350.7 354.9M365.7 353.4L360.8 352.9M376.1 353.4L371.9 351.0M386.5 353.4L383.6 349.4M396.9 353.4L395.9 348.6M95.5 348.5L96.6 343.7M105.9 348.5L108.8 344.6M116.3 348.5L120.6 346.1M126.7 348.5L131.6 348.0M137.1 348.5L141.8 350.0M147.5 348.5L151.2 351.8M157.9 348.5L159.9 353.0M168.3 348.5L168.3 353.4M178.7 348.5L176.6 353.0M189.1 348.5L185.4 351.8M199.4 348.5L194.8 350.0M209.8 348.5L205.0 348.0M220.2 348.5L216.0 346.1M230.6 348.5L227.7 344.6M241.0 348.5L240.0 343.7M251.4 348.5L252.4 343.7M261.8 348.5L264.7 344.6M272.2 348.5L276.5 346.1M282.6 348.5L287.5 348.0M293.0 348.5L297.6 350.0M303.4 348.5L307.0 351.8M313.8 348.5L315.8 353.0M324.2 348.5L324.2 353.4M334.5 348.5L332.5 353.0M344.9 348.5L341.3 351.8M355.3 348.5L350.7 350.0M365.7 348.5L360.8 348.0M376.1 348.5L371.9 346.1M386.5 348.5L383.6 344.6M396.9 348.5L395.9 343.7M95.5 343.6L96.6 338.8M105.9 343.6L108.9 339.7M116.3 343.6L120.6 341.2M126.7 343.6L131.6 343.1M137.1 343.6L141.8 345.1M147.5 343.6L151.2 346.8M157.9 343.6L159.9 348.1M168.3 343.6L168.3 348.5M178.7 343.6L176.6 348.1M189.1 343.6L185.4 346.8M199.4 343.6L194.8 345.1M209.8 343.6L205.0 343.1M220.2 343.6L216.0 341.2M230.6 343.6L227.7 339.7M241.0 343.6L240.0 338.8M251.4 343.6L252.5 338.8M261.8 343.6L264.7 339.7M272.2 343.6L276.5 341.2M282.6 343.6L287.5 343.1M293.0 343.6L297.6 345.1M303.4 343.6L307.1 346.8M313.8 343.6L315.8 348.1M324.2 343.6L324.2 348.5M334.5 343.6L332.5 348.1M344.9 343.6L341.2 346.8M355.3 343.6L350.7 345.1M365.7 343.6L360.8 343.1M376.1 343.6L371.8 341.2M386.5 343.6L383.6 339.7M396.9 343.6L395.8 338.8M95.5 338.7L96.6 333.9M105.9 338.7L108.9 334.8M116.3 338.7L120.6 336.3M126.7 338.7L131.6 338.2M137.1 338.7L141.8 340.2M147.5 338.7L151.2 341.9M157.9 338.7L159.9 343.2M168.3 338.7L168.3 343.6M178.7 338.7L176.6 343.2M189.1 338.7L185.3 341.9M199.4 338.7L194.8 340.2M209.8 338.7L205.0 338.2M220.2 338.7L215.9 336.3M230.6 338.7L227.7 334.8M241.0 338.7L240.0 333.9M251.4 338.7L252.5 333.9M261.8 338.7L264.8 334.8M272.2 338.7L276.5 336.3M282.6 338.7L287.5 338.2M293.0 338.7L297.7 340.2M303.4 338.7L307.1 341.9M313.8 338.7L315.8 343.2M324.2 338.7L324.2 343.6M334.5 338.7L332.5 343.2M344.9 338.7L341.2 341.9M355.3 338.7L350.6 340.2M365.7 338.7L360.8 338.2M376.1 338.7L371.8 336.3M386.5 338.7L383.5 334.8M396.9 338.7L395.8 333.9M95.5 333.8L96.6 329.0M105.9 333.8L108.9 330.0M116.3 333.8L120.6 331.5M126.7 333.8L131.6 333.3M137.1 333.8L141.8 335.2M147.5 333.8L151.2 337.0M157.9 333.8L160.0 338.2M168.3 333.8L168.3 338.7M178.7 333.8L176.6 338.2M189.1 333.8L185.3 337.0M199.4 333.8L194.8 335.2M209.8 333.8L205.0 333.3M220.2 333.8L215.9 331.5M230.6 333.8L227.6 330.0M241.0 333.8L239.9 329.0M251.4 333.8L252.5 329.0M261.8 333.8L264.8 330.0M272.2 333.8L276.5 331.5M282.6 333.8L287.5 333.3M293.0 333.8L297.7 335.2M303.4 333.8L307.1 337.0M313.8 333.8L315.9 338.2M324.2 333.8L324.2 338.7M334.5 333.8L332.4 338.2M344.9 333.8L341.2 337.0M355.3 333.8L350.6 335.2M365.7 333.8L360.8 333.3M376.1 333.8L371.8 331.5M386.5 333.8L383.5 330.0M396.9 333.8L395.8 329.0M95.5 328.9L96.7 324.2M105.9 328.9L109.0 325.1M116.3 328.9L120.7 326.7M126.7 328.9L131.6 328.5M137.1 328.9L141.8 330.3M147.5 328.9L151.3 332.0M157.9 328.9L160.0 333.3M168.3 328.9L168.3 333.8M178.7 328.9L176.5 333.3M189.1 328.9L185.3 332.0M199.4 328.9L194.7 330.3M209.8 328.9L205.0 328.5M220.2 328.9L215.9 326.7M230.6 328.9L227.5 325.1M241.0 328.9L239.9 324.2M251.4 328.9L252.5 324.2M261.8 328.9L264.9 325.1M272.2 328.9L276.5 326.7M282.6 328.9L287.5 328.5M293.0 328.9L297.7 330.3M303.4 328.9L307.2 332.0M313.8 328.9L315.9 333.3M324.2 328.9L324.2 333.8M334.5 328.9L332.4 333.3M344.9 328.9L341.1 332.0M355.3 328.9L350.6 330.3M365.7 328.9L360.8 328.5M376.1 328.9L371.8 326.7M386.5 328.9L383.4 325.1M396.9 328.9L395.8 324.2M95.5 324.0L96.7 319.3M105.9 324.0L109.1 320.3M116.3 324.0L120.7 321.9M126.7 324.0L131.6 323.6M137.1 324.0L141.8 325.3M147.5 324.0L151.4 327.0M157.9 324.0L160.1 328.4M168.3 324.0L168.3 328.9M178.7 324.0L176.4 328.4M189.1 324.0L185.2 327.0M199.4 324.0L194.7 325.3M209.8 324.0L205.0 323.6M220.2 324.0L215.8 321.9M230.6 324.0L227.5 320.3M241.0 324.0L239.8 319.3M251.4 324.0L252.6 319.3M261.8 324.0L265.0 320.3M272.2 324.0L276.6 321.9M282.6 324.0L287.5 323.6M293.0 324.0L297.7 325.3M303.4 324.0L307.2 327.0M313.8 324.0L316.0 328.4M324.2 324.0L324.2 328.9M334.5 324.0L332.3 328.4M344.9 324.0L341.1 327.0M355.3 324.0L350.6 325.3M365.7 324.0L360.8 323.6M376.1 324.0L371.7 321.9M386.5 324.0L383.3 320.3M396.9 324.0L395.7 319.3M95.5 319.1L96.8 314.4M105.9 319.1L109.2 315.5M116.3 319.1L120.8 317.1M126.7 319.1L131.6 318.7M137.1 319.1L141.8 320.4M147.5 319.1L151.5 322.0M157.9 319.1L160.3 323.4M168.3 319.1L168.3 324.0M178.7 319.1L176.3 323.4M189.1 319.1L185.1 322.0M199.4 319.1L194.7 320.4M209.8 319.1L205.0 318.7M220.2 319.1L215.8 317.1M230.6 319.1L227.3 315.5M241.0 319.1L239.7 314.4M251.4 319.1L252.7 314.4M261.8 319.1L265.1 315.5M272.2 319.1L276.6 317.1M282.6 319.1L287.5 318.7M293.0 319.1L297.7 320.4M303.4 319.1L307.4 322.0M313.8 319.1L316.2 323.4M324.2 319.1L324.2 324.0M334.5 319.1L332.1 323.4M344.9 319.1L340.9 322.0M355.3 319.1L350.6 320.4M365.7 319.1L360.8 318.7M376.1 319.1L371.7 317.1M386.5 319.1L383.2 315.5M396.9 319.1L395.6 314.4M95.5 314.2L96.9 309.6M105.9 314.2L109.4 310.8M116.3 314.2L120.8 312.4M126.7 314.2L131.6 313.9M137.1 314.2L141.9 315.3M147.5 314.2L151.6 316.9M157.9 314.2L160.5 318.4M168.3 314.2L168.3 319.1M178.7 314.2L176.1 318.4M189.1 314.2L184.9 316.9M199.4 314.2L194.7 315.3M209.8 314.2L205.0 313.9M220.2 314.2L215.7 312.4M230.6 314.2L227.1 310.8M241.0 314.2L239.6 309.6M251.4 314.2L252.8 309.6M261.8 314.2L265.3 310.8M272.2 314.2L276.7 312.4M282.6 314.2L287.5 313.9M293.0 314.2L297.8 315.3M303.4 314.2L307.5 316.9M313.8 314.2L316.4 318.4M324.2 314.2L324.2 319.1M334.5 314.2L331.9 318.4M344.9 314.2L340.8 316.9M355.3 314.2L350.6 315.3M365.7 314.2L360.8 313.9M376.1 314.2L371.6 312.4M386.5 314.2L383.0 310.8M396.9 314.2L395.5 309.6M95.5 309.4L97.2 304.7M105.9 309.4L109.7 306.2M116.3 309.4L120.9 307.8M126.7 309.4L131.6 309.0M137.1 309.4L141.9 310.3M147.5 309.4L151.8 311.7M157.9 309.4L160.8 313.3M168.3 309.4L168.3 314.3M178.7 309.4L175.7 313.3M189.1 309.4L184.7 311.7M199.4 309.4L194.6 310.3M209.8 309.4L204.9 309.0M220.2 309.4L215.6 307.8M230.6 309.4L226.8 306.2M241.0 309.4L239.4 304.7M251.4 309.4L253.1 304.7M261.8 309.4L265.6 306.2M272.2 309.4L276.8 307.8M282.6 309.4L287.5 309.0M293.0 309.4L297.8 310.3M303.4 309.4L307.7 311.7M313.8 309.4L316.7 313.3M324.2 309.4L324.2 314.3M334.5 309.4L331.6 313.3M344.9 309.4L340.6 311.7M355.3 309.4L350.5 310.3M365.7 309.4L360.8 309.0M376.1 309.4L371.5 307.8M386.5 309.4L382.7 306.2M396.9 309.4L395.3 304.7M95.5 304.5L97.6 300.0M105.9 304.5L110.1 301.9M116.3 304.5L121.1 303.2M126.7 304.5L131.6 304.2M137.1 304.5L141.9 305.2M147.5 304.5L152.0 306.3M157.9 304.5L161.3 308.0M168.3 304.5L168.3 309.4M178.7 304.5L175.2 308.0M189.1 304.5L184.5 306.3M199.4 304.5L194.6 305.2M209.8 304.5L204.9 304.2M220.2 304.5L215.5 303.2M230.6 304.5L226.5 301.9M241.0 304.5L238.9 300.0M251.4 304.5L253.5 300.0M261.8 304.5L266.0 301.9M272.2 304.5L276.9 303.2M282.6 304.5L287.5 304.2M293.0 304.5L297.8 305.2M303.4 304.5L307.9 306.3M313.8 304.5L317.2 308.0M324.2 304.5L324.2 309.4M334.5 304.5L331.1 308.0M344.9 304.5L340.4 306.3M355.3 304.5L350.5 305.2M365.7 304.5L360.8 304.2M376.1 304.5L371.4 303.2M386.5 304.5L382.4 301.9M396.9 304.5L394.8 300.0M95.5 299.6L98.4 295.6M105.9 299.6L110.5 297.8M116.3 299.6L121.1 298.8M126.7 299.6L131.6 299.4M137.1 299.6L142.0 300.0M147.5 299.6L152.2 300.8M157.9 299.6L162.0 302.2M168.3 299.6L168.3 304.5M178.7 299.6L174.5 302.2M189.1 299.6L184.3 300.8M199.4 299.6L194.6 300.0M209.8 299.6L204.9 299.4M220.2 299.6L215.4 298.8M230.6 299.6L226.1 297.8M241.0 299.6L238.1 295.6M251.4 299.6L254.3 295.6M261.8 299.6L266.4 297.8M272.2 299.6L277.0 298.8M282.6 299.6L287.5 299.4M293.0 299.6L297.9 300.0M303.4 299.6L308.1 300.8M313.8 299.6L317.9 302.2M324.2 299.6L324.2 304.5M334.5 299.6L330.4 302.2M344.9 299.6L340.2 300.8M355.3 299.6L350.4 300.0M365.7 299.6L360.8 299.4M376.1 299.6L371.3 298.8M386.5 299.6L381.9 297.8M396.9 299.6L394.0 295.6M95.5 294.7L100.0 292.6M105.9 294.7L110.8 294.0M116.3 294.7L121.2 294.4M126.7 294.7L131.6 294.6M137.1 294.7L142.0 294.8M147.5 294.7L152.4 295.1M157.9 294.7L162.7 295.7M168.3 294.7L168.3 299.6M178.7 294.7L173.9 295.7M189.1 294.7L184.2 295.1M199.4 294.7L194.5 294.8M209.8 294.7L204.9 294.6M220.2 294.7L215.3 294.4M230.6 294.7L225.8 294.0M241.0 294.7L236.6 292.6M251.4 294.7L255.9 292.6M261.8 294.7L266.7 294.0M272.2 294.7L277.1 294.4M282.6 294.7L287.5 294.6M293.0 294.7L297.9 294.8M303.4 294.7L308.2 295.1M313.8 294.7L318.5 295.7M324.2 294.7L324.2 299.6M334.5 294.7L329.8 295.7M344.9 294.7L340.1 295.1M355.3 294.7L350.4 294.8M365.7 294.7L360.8 294.6M376.1 294.7L371.2 294.4M386.5 294.7L381.6 294.0M396.9 294.7L392.4 292.6" stroke="#a8a8e0" stroke-opacity="0.7" stroke-width="0.55" fill="none"/>
<path d="M100.0 438.6L98.6 437.3L98.1 438.5zM110.8 437.2L109.1 436.4L108.9 437.7zM121.2 436.9L119.4 436.1L119.4 437.4zM131.6 436.6L129.8 436.0L129.8 437.3zM142.0 436.4L140.2 435.8L140.2 437.1zM152.4 436.2L150.5 435.7L150.6 437.0zM162.7 435.5L160.8 435.3L161.0 436.6zM168.3 431.7L167.6 433.5L168.9 433.5zM173.9 435.5L175.5 436.6L175.8 435.3zM184.2 436.2L185.9 437.0L186.0 435.7zM194.5 436.4L196.3 437.1L196.4 435.8zM204.9 436.6L206.7 437.3L206.7 436.0zM215.3 436.9L217.2 437.4L217.1 436.1zM225.8 437.2L227.6 437.7L227.5 436.4zM236.6 438.6L238.5 438.5L237.9 437.3zM255.9 438.6L254.5 437.3L254.0 438.5zM266.7 437.2L265.0 436.4L264.8 437.7zM277.1 436.9L275.3 436.1L275.2 437.4zM287.5 436.6L285.7 436.0L285.7 437.3zM297.9 436.4L296.1 435.8L296.1 437.1zM308.2 436.2L306.4 435.7L306.5 437.0zM318.5 435.5L316.6 435.3L316.9 436.6zM324.2 431.7L323.5 433.5L324.8 433.5zM329.8 435.5L331.4 436.6L331.7 435.3zM340.1 436.2L341.8 437.0L341.9 435.7zM350.4 436.4L352.2 437.1L352.2 435.8zM360.8 436.6L362.6 437.3L362.6 436.0zM371.2 436.9L373.1 437.4L373.0 436.1zM381.6 437.2L383.5 437.7L383.3 436.4zM392.4 438.6L394.4 438.5L393.8 437.3zM98.4 435.6L97.9 433.8L96.8 434.6zM110.5 433.5L109.0 432.2L108.6 433.4zM121.1 432.5L119.5 431.6L119.3 432.8zM131.6 431.8L129.8 431.1L129.8 432.4zM142.0 431.2L140.1 430.8L140.2 432.1zM152.2 430.5L150.3 430.3L150.7 431.5zM162.0 429.0L160.1 429.5L160.8 430.6zM168.3 426.8L167.6 428.6L168.9 428.6zM174.5 429.0L175.7 430.6L176.4 429.5zM184.3 430.5L185.9 431.5L186.2 430.3zM194.6 431.2L196.3 432.1L196.4 430.8zM204.9 431.8L206.8 432.4L206.7 431.1zM215.4 432.5L217.3 432.8L217.1 431.6zM226.1 433.5L228.0 433.4L227.5 432.2zM238.1 435.6L239.7 434.6L238.6 433.8zM254.3 435.6L253.8 433.8L252.7 434.6zM266.4 433.5L264.9 432.2L264.4 433.4zM277.0 432.5L275.4 431.6L275.1 432.8zM287.5 431.8L285.7 431.1L285.7 432.4zM297.9 431.2L296.0 430.8L296.1 432.1zM308.1 430.5L306.2 430.3L306.5 431.5zM317.9 429.0L316.0 429.5L316.7 430.6zM324.2 426.8L323.5 428.6L324.8 428.6zM330.4 429.0L331.6 430.6L332.3 429.5zM340.2 430.5L341.8 431.5L342.1 430.3zM350.4 431.2L352.2 432.1L352.3 430.8zM360.8 431.8L362.6 432.4L362.6 431.1zM371.3 432.5L373.2 432.8L372.9 431.6zM381.9 433.5L383.9 433.4L383.4 432.2zM394.0 435.6L395.6 434.6L394.5 433.8zM97.6 431.2L97.4 429.3L96.2 429.9zM110.1 429.4L108.9 427.9L108.2 429.0zM121.0 428.1L119.5 427.0L119.1 428.2zM131.6 427.0L129.8 426.3L129.8 427.6zM141.9 426.1L140.1 425.7L140.3 427.0zM152.0 424.9L150.1 425.0L150.6 426.2zM161.3 423.3L159.6 424.1L160.5 425.0zM168.3 421.9L167.6 423.7L168.9 423.7zM175.3 423.3L176.0 425.0L177.0 424.1zM184.5 424.9L185.9 426.2L186.4 425.0zM194.6 426.1L196.3 427.0L196.5 425.7zM204.9 427.0L206.8 427.6L206.7 426.3zM215.5 428.1L217.4 428.2L217.1 427.0zM226.5 429.4L228.4 429.0L227.7 427.9zM239.0 431.2L240.3 429.9L239.1 429.3zM253.5 431.2L253.3 429.3L252.1 429.9zM265.9 429.4L264.8 427.9L264.1 429.0zM276.9 428.1L275.4 427.0L275.0 428.2zM287.5 427.0L285.7 426.3L285.6 427.6zM297.8 426.1L295.9 425.7L296.1 427.0zM307.9 424.9L306.0 425.0L306.5 426.2zM317.2 423.3L315.4 424.1L316.4 425.0zM324.2 421.9L323.5 423.7L324.8 423.7zM331.1 423.3L331.9 425.0L332.9 424.1zM340.4 424.9L341.8 426.2L342.3 425.0zM350.5 426.1L352.2 427.0L352.4 425.7zM360.8 427.0L362.7 427.6L362.6 426.3zM371.4 428.1L373.3 428.2L372.9 427.0zM382.4 429.4L384.2 429.0L383.5 427.9zM394.8 431.2L396.2 429.9L395.0 429.3zM97.1 426.5L97.2 424.6L95.9 425.0zM109.7 425.1L108.7 423.4L107.9 424.4zM120.9 423.5L119.5 422.3L119.0 423.5zM131.6 422.2L129.8 421.5L129.8 422.8zM141.9 421.0L140.0 420.7L140.3 422.0zM151.8 419.6L149.9 419.9L150.5 421.0zM160.8 418.0L159.2 419.0L160.2 419.8zM168.3 417.0L167.6 418.8L168.9 418.8zM175.8 418.0L176.3 419.8L177.4 419.0zM184.8 419.6L186.0 421.0L186.6 419.9zM194.6 421.0L196.3 422.0L196.5 420.7zM204.9 422.2L206.8 422.8L206.7 421.5zM215.6 423.5L217.5 423.5L217.1 422.3zM226.9 425.1L228.7 424.4L227.8 423.4zM239.4 426.5L240.6 425.0L239.4 424.6zM253.0 426.5L253.0 424.6L251.8 425.0zM265.6 425.1L264.6 423.4L263.8 424.4zM276.8 423.5L275.3 422.3L274.9 423.5zM287.5 422.2L285.7 421.5L285.6 422.8zM297.8 421.0L295.9 420.7L296.1 422.0zM307.7 419.6L305.8 419.9L306.4 421.0zM316.7 418.0L315.1 419.0L316.1 419.8zM324.2 417.0L323.5 418.8L324.8 418.8zM331.6 418.0L332.2 419.8L333.2 419.0zM340.6 419.6L341.9 421.0L342.5 419.9zM350.5 421.0L352.2 422.0L352.4 420.7zM360.8 422.2L362.7 422.8L362.6 421.5zM371.5 423.5L373.4 423.5L373.0 422.3zM382.7 425.1L384.5 424.4L383.7 423.4zM395.3 426.5L396.5 425.0L395.3 424.6zM96.9 421.7L97.0 419.8L95.8 420.2zM109.4 420.5L108.6 418.8L107.6 419.7zM120.8 418.9L119.4 417.6L118.9 418.8zM131.6 417.4L129.8 416.6L129.7 417.9zM141.9 415.9L140.0 415.7L140.3 417.0zM151.6 414.3L149.7 414.8L150.4 415.9zM160.4 412.8L158.9 414.0L160.0 414.7zM168.3 412.1L167.6 413.9L168.9 413.9zM176.1 412.8L176.5 414.7L177.6 414.0zM185.0 414.3L186.1 415.9L186.8 414.8zM194.7 415.9L196.3 417.0L196.6 415.7zM205.0 417.4L206.8 417.9L206.7 416.6zM215.7 418.9L217.6 418.8L217.1 417.6zM227.2 420.5L228.9 419.7L228.0 418.8zM239.7 421.7L240.8 420.2L239.5 419.8zM252.8 421.7L252.9 419.8L251.6 420.2zM265.3 420.5L264.4 418.8L263.5 419.7zM276.7 418.9L275.3 417.6L274.8 418.8zM287.5 417.4L285.7 416.6L285.6 417.9zM297.8 415.9L295.9 415.7L296.1 417.0zM307.5 414.3L305.6 414.8L306.3 415.9zM316.3 412.8L314.8 414.0L315.9 414.7zM324.2 412.1L323.5 413.9L324.8 413.9zM332.0 412.8L332.4 414.7L333.5 414.0zM340.8 414.3L342.0 415.9L342.7 414.8zM350.6 415.9L352.2 417.0L352.5 415.7zM360.8 417.4L362.7 417.9L362.6 416.6zM371.6 418.9L373.5 418.8L373.0 417.6zM383.0 420.5L384.8 419.7L383.9 418.8zM395.5 421.7L396.7 420.2L395.4 419.8zM96.7 416.9L96.9 415.0L95.6 415.3zM109.1 415.8L108.4 414.0L107.5 414.9zM120.8 414.2L119.4 412.8L118.9 414.0zM131.6 412.5L129.8 411.7L129.7 413.0zM141.8 410.9L139.9 410.7L140.3 412.0zM151.4 409.2L149.6 409.8L150.4 410.8zM160.2 407.8L158.7 409.1L159.9 409.7zM168.3 407.2L167.6 409.0L168.9 409.0zM176.4 407.8L176.6 409.7L177.8 409.1zM185.1 409.2L186.2 410.8L186.9 409.8zM194.7 410.9L196.3 412.0L196.6 410.7zM205.0 412.5L206.8 413.0L206.7 411.7zM215.8 414.2L217.7 414.0L217.1 412.8zM227.4 415.8L229.1 414.9L228.1 414.0zM239.8 416.9L240.9 415.3L239.6 415.0zM252.6 416.9L252.8 415.0L251.5 415.3zM265.0 415.8L264.3 414.0L263.3 414.9zM276.6 414.2L275.3 412.8L274.7 414.0zM287.5 412.5L285.7 411.7L285.6 413.0zM297.7 410.9L295.8 410.7L296.1 412.0zM307.3 409.2L305.5 409.8L306.2 410.8zM316.0 407.8L314.6 409.1L315.8 409.7zM324.2 407.2L323.5 409.0L324.8 409.0zM332.3 407.8L332.5 409.7L333.7 409.1zM341.0 409.2L342.1 410.8L342.8 409.8zM350.6 410.9L352.2 412.0L352.5 410.7zM360.8 412.5L362.7 413.0L362.6 411.7zM371.7 414.2L373.6 414.0L373.0 412.8zM383.3 415.8L385.0 414.9L384.0 414.0zM395.7 416.9L396.8 415.3L395.5 415.0zM96.5 412.0L96.8 410.1L95.5 410.4zM108.9 411.1L108.3 409.3L107.3 410.1zM120.7 409.4L119.4 408.0L118.8 409.2zM131.6 407.6L129.8 406.8L129.7 408.1zM141.8 406.0L139.9 405.8L140.3 407.1zM151.3 404.2L149.5 404.8L150.3 405.8zM159.9 402.8L158.6 404.1L159.8 404.7zM168.3 402.3L167.6 404.1L168.9 404.1zM176.6 402.8L176.8 404.7L178.0 404.1zM185.2 404.2L186.2 405.8L187.0 404.8zM194.7 406.0L196.3 407.1L196.6 405.8zM205.0 407.6L206.8 408.1L206.7 406.8zM215.8 409.4L217.7 409.2L217.2 408.0zM227.6 411.1L229.2 410.1L228.2 409.3zM240.0 412.0L241.0 410.4L239.7 410.1zM252.4 412.0L252.7 410.1L251.4 410.4zM264.8 411.1L264.2 409.3L263.2 410.1zM276.6 409.4L275.3 408.0L274.7 409.2zM287.5 407.6L285.7 406.8L285.6 408.1zM297.7 406.0L295.8 405.8L296.1 407.1zM307.2 404.2L305.4 404.8L306.2 405.8zM315.8 402.8L314.4 404.1L315.6 404.7zM324.2 402.3L323.5 404.1L324.8 404.1zM332.5 402.8L332.7 404.7L333.9 404.1zM341.1 404.2L342.1 405.8L342.9 404.8zM350.6 406.0L352.2 407.1L352.5 405.8zM360.8 407.6L362.7 408.1L362.6 406.8zM371.7 409.4L373.6 409.2L373.0 408.0zM383.5 411.1L385.1 410.1L384.1 409.3zM395.9 412.0L396.9 410.4L395.6 410.1zM96.3 407.2L96.7 405.3L95.4 405.5zM108.6 406.4L108.2 404.6L107.1 405.3zM120.7 404.4L119.4 403.1L118.8 404.2zM131.6 402.7L129.8 401.9L129.7 403.2zM141.9 401.2L140.0 401.0L140.3 402.2zM151.2 399.2L149.4 399.8L150.3 400.8zM159.6 397.7L158.3 399.2L159.6 399.7zM168.3 397.4L167.6 399.2L168.9 399.2zM177.0 397.7L177.0 399.7L178.2 399.2zM185.3 399.2L186.3 400.8L187.1 399.8zM194.7 401.2L196.3 402.2L196.6 401.0zM205.0 402.7L206.8 403.2L206.7 401.9zM215.8 404.4L217.7 404.2L217.2 403.1zM227.9 406.4L229.4 405.3L228.4 404.6zM240.2 407.2L241.1 405.5L239.9 405.3zM252.2 407.2L252.6 405.3L251.3 405.5zM264.5 406.4L264.1 404.6L263.0 405.3zM276.6 404.4L275.3 403.1L274.7 404.2zM287.5 402.7L285.7 401.9L285.6 403.2zM297.7 401.2L295.8 401.0L296.1 402.2zM307.1 399.2L305.3 399.8L306.2 400.8zM315.5 397.7L314.2 399.2L315.4 399.7zM324.2 397.4L323.5 399.2L324.8 399.2zM332.8 397.7L332.9 399.7L334.1 399.2zM341.2 399.2L342.2 400.8L343.0 399.8zM350.6 401.2L352.2 402.2L352.5 401.0zM360.8 402.7L362.7 403.2L362.6 401.9zM371.7 404.4L373.6 404.2L373.0 403.1zM383.8 406.4L385.3 405.3L384.2 404.6zM396.1 407.2L397.0 405.5L395.7 405.3zM96.1 402.3L96.5 400.5L95.2 400.6zM108.1 401.8L107.9 399.9L106.7 400.5zM120.9 399.2L119.4 398.0L119.0 399.2zM131.6 397.7L129.8 397.0L129.8 398.3zM141.9 396.6L140.0 396.3L140.3 397.5zM151.2 394.2L149.4 394.9L150.3 395.9zM159.1 392.7L158.0 394.3L159.3 394.6zM168.3 392.5L167.6 394.3L168.9 394.3zM177.5 392.7L177.3 394.6L178.5 394.3zM185.4 394.2L186.3 395.9L187.1 394.9zM194.6 396.6L196.3 397.5L196.5 396.3zM204.9 397.7L206.8 398.3L206.7 397.0zM215.7 399.2L217.6 399.2L217.1 398.0zM228.4 401.8L229.8 400.5L228.6 399.9zM240.5 402.3L241.3 400.6L240.0 400.5zM251.9 402.3L252.4 400.5L251.1 400.6zM264.0 401.8L263.8 399.9L262.6 400.5zM276.8 399.2L275.3 398.0L274.8 399.2zM287.5 397.7L285.7 397.0L285.6 398.3zM297.8 396.6L295.9 396.3L296.1 397.5zM307.1 394.2L305.3 394.9L306.1 395.9zM314.9 392.7L313.9 394.3L315.1 394.6zM324.2 392.5L323.5 394.3L324.8 394.3zM333.4 392.7L333.2 394.6L334.4 394.3zM341.2 394.2L342.2 395.9L343.0 394.9zM350.5 396.6L352.2 397.5L352.4 396.3zM360.8 397.7L362.7 398.3L362.6 397.0zM371.5 399.2L373.5 399.2L373.0 398.0zM384.3 401.8L385.7 400.5L384.5 399.9zM396.4 402.3L397.2 400.6L395.9 400.5zM95.7 397.4L96.3 395.6L95.0 395.7zM106.7 397.4L107.1 395.5L105.8 395.7zM121.1 393.3L119.5 392.4L119.3 393.7zM131.6 392.6L129.8 392.0L129.8 393.3zM142.0 392.2L140.1 391.7L140.2 393.0zM151.6 389.8L149.7 390.3L150.4 391.4zM158.2 387.7L157.4 389.4L158.7 389.5zM168.3 387.6L167.6 389.4L168.9 389.4zM178.3 387.7L177.8 389.5L179.1 389.4zM185.0 389.8L186.1 391.4L186.8 390.3zM194.6 392.2L196.3 393.0L196.4 391.7zM204.9 392.6L206.8 393.3L206.7 392.0zM215.4 393.3L217.3 393.7L217.1 392.4zM229.8 397.4L230.8 395.7L229.5 395.5zM240.9 397.4L241.6 395.7L240.3 395.6zM251.5 397.4L252.1 395.6L250.8 395.7zM262.6 397.4L262.9 395.5L261.6 395.7zM277.0 393.3L275.4 392.4L275.1 393.7zM287.5 392.6L285.7 392.0L285.7 393.3zM297.9 392.2L296.0 391.7L296.1 393.0zM307.4 389.8L305.6 390.3L306.3 391.4zM314.1 387.7L313.3 389.4L314.6 389.5zM324.2 387.6L323.5 389.4L324.8 389.4zM334.2 387.7L333.7 389.5L335.0 389.4zM340.9 389.8L342.0 391.4L342.7 390.3zM350.4 392.2L352.2 393.0L352.3 391.7zM360.8 392.6L362.6 393.3L362.6 392.0zM371.3 393.3L373.2 393.7L372.9 392.4zM385.7 397.4L386.7 395.7L385.4 395.5zM396.8 397.4L397.5 395.7L396.2 395.6zM95.6 382.8L95.0 384.5L96.3 384.6zM106.7 382.8L105.8 384.5L107.0 384.7zM121.1 386.8L119.2 386.5L119.5 387.7zM131.6 387.5L129.8 386.9L129.8 388.2zM142.0 388.0L140.2 387.3L140.1 388.5zM151.5 390.4L150.4 388.9L149.7 389.9zM158.2 392.5L158.7 390.7L157.4 390.8zM168.3 392.6L168.9 390.8L167.6 390.8zM178.4 392.5L179.1 390.8L177.8 390.7zM185.0 390.4L186.9 389.9L186.1 388.9zM194.6 388.0L196.4 388.5L196.3 387.3zM204.9 387.5L206.7 388.2L206.8 386.9zM215.4 386.8L217.1 387.7L217.3 386.5zM229.9 382.8L229.5 384.7L230.8 384.5zM240.9 382.8L240.3 384.6L241.6 384.5zM251.5 382.8L250.8 384.5L252.1 384.6zM262.5 382.8L261.6 384.5L262.9 384.7zM277.0 386.8L275.1 386.5L275.4 387.7zM287.5 387.5L285.7 386.9L285.7 388.2zM297.9 388.0L296.1 387.3L296.0 388.5zM307.4 390.4L306.3 388.9L305.6 389.9zM314.1 392.5L314.6 390.7L313.3 390.8zM324.2 392.6L324.8 390.8L323.5 390.8zM334.2 392.5L335.0 390.8L333.7 390.7zM340.9 390.4L342.7 389.9L342.0 388.9zM350.4 388.0L352.3 388.5L352.2 387.3zM360.8 387.5L362.6 388.2L362.6 386.9zM371.3 386.8L372.9 387.7L373.2 386.5zM385.8 382.8L385.4 384.7L386.7 384.5zM396.8 382.8L396.2 384.6L397.5 384.5zM96.0 377.9L95.2 379.6L96.5 379.7zM108.0 378.3L106.7 379.7L107.8 380.2zM120.8 380.9L118.9 381.0L119.4 382.2zM131.6 382.5L129.8 381.9L129.8 383.2zM141.9 383.7L140.3 382.7L140.0 384.0zM151.1 386.1L150.2 384.4L149.3 385.3zM159.0 387.5L159.2 385.6L157.9 385.9zM168.3 387.7L168.9 385.9L167.6 385.9zM177.6 387.5L178.6 385.9L177.3 385.6zM185.4 386.1L187.2 385.3L186.3 384.4zM194.6 383.7L196.5 384.0L196.3 382.7zM204.9 382.5L206.7 383.2L206.8 381.9zM215.7 380.9L217.1 382.2L217.6 381.0zM228.5 378.3L228.7 380.2L229.9 379.7zM240.5 377.9L240.1 379.7L241.4 379.6zM251.9 377.9L251.1 379.6L252.4 379.7zM263.9 378.3L262.5 379.7L263.7 380.2zM276.7 380.9L274.8 381.0L275.3 382.2zM287.5 382.5L285.6 381.9L285.7 383.2zM297.8 383.7L296.1 382.7L295.9 384.0zM307.0 386.1L306.1 384.4L305.2 385.3zM314.9 387.5L315.1 385.6L313.8 385.9zM324.2 387.7L324.8 385.9L323.5 385.9zM333.4 387.5L334.5 385.9L333.2 385.6zM341.3 386.1L343.1 385.3L342.2 384.4zM350.5 383.7L352.4 384.0L352.2 382.7zM360.8 382.5L362.6 383.2L362.7 381.9zM371.6 380.9L373.0 382.2L373.5 381.0zM384.4 378.3L384.6 380.2L385.8 379.7zM396.4 377.9L395.9 379.7L397.2 379.6zM96.3 373.0L95.3 374.7L96.6 374.9zM108.5 373.7L107.0 374.9L108.1 375.6zM120.7 375.6L118.8 375.9L119.4 377.0zM131.6 377.5L129.7 377.0L129.8 378.3zM141.8 379.1L140.3 378.0L139.9 379.3zM151.1 381.2L150.2 379.5L149.3 380.5zM159.4 382.5L159.5 380.6L158.2 381.0zM168.3 382.8L168.9 381.0L167.6 381.0zM177.1 382.5L178.3 381.0L177.1 380.6zM185.5 381.2L187.2 380.5L186.3 379.5zM194.7 379.1L196.6 379.3L196.3 378.0zM205.0 377.5L206.7 378.3L206.8 377.0zM215.9 375.6L217.2 377.0L217.8 375.9zM228.1 373.7L228.5 375.6L229.6 374.9zM240.3 373.0L239.9 374.9L241.2 374.7zM252.1 373.0L251.2 374.7L252.5 374.9zM264.3 373.7L262.9 374.9L264.0 375.6zM276.5 375.6L274.6 375.9L275.2 377.0zM287.5 377.5L285.6 377.0L285.7 378.3zM297.7 379.1L296.1 378.0L295.8 379.3zM307.0 381.2L306.1 379.5L305.2 380.5zM315.3 382.5L315.4 380.6L314.1 381.0zM324.2 382.8L324.8 381.0L323.5 381.0zM333.0 382.5L334.2 381.0L332.9 380.6zM341.4 381.2L343.1 380.5L342.2 379.5zM350.6 379.1L352.5 379.3L352.2 378.0zM360.8 377.5L362.6 378.3L362.7 377.0zM371.8 375.6L373.1 377.0L373.7 375.9zM384.0 373.7L384.3 375.6L385.5 374.9zM396.2 373.0L395.8 374.9L397.1 374.7zM96.4 368.1L95.4 369.8L96.7 370.0zM108.6 368.9L107.1 370.0L108.2 370.7zM120.6 370.6L118.7 370.9L119.3 372.0zM131.6 372.5L129.7 372.0L129.9 373.3zM141.8 374.4L140.3 373.2L139.9 374.5zM151.1 376.3L150.2 374.6L149.3 375.6zM159.6 377.5L159.6 375.6L158.4 376.1zM168.3 377.9L168.9 376.1L167.6 376.1zM176.9 377.5L178.2 376.1L176.9 375.6zM185.5 376.3L187.2 375.6L186.3 374.6zM194.8 374.4L196.7 374.5L196.3 373.2zM205.0 372.5L206.7 373.3L206.8 372.0zM216.0 370.6L217.2 372.0L217.8 370.9zM227.9 368.9L228.4 370.7L229.5 370.0zM240.2 368.1L239.8 370.0L241.1 369.8zM252.3 368.1L251.3 369.8L252.6 370.0zM264.5 368.9L263.0 370.0L264.1 370.7zM276.5 370.6L274.6 370.9L275.2 372.0zM287.5 372.5L285.6 372.0L285.7 373.3zM297.7 374.4L296.1 373.2L295.8 374.5zM307.0 376.3L306.1 374.6L305.2 375.6zM315.5 377.5L315.5 375.6L314.3 376.1zM324.2 377.9L324.8 376.1L323.5 376.1zM332.8 377.5L334.0 376.1L332.8 375.6zM341.3 376.3L343.1 375.6L342.2 374.6zM350.6 374.4L352.5 374.5L352.2 373.2zM360.8 372.5L362.6 373.3L362.7 372.0zM371.8 370.6L373.1 372.0L373.7 370.9zM383.8 368.9L384.2 370.7L385.3 370.0zM396.0 368.1L395.7 370.0L397.0 369.8zM96.5 363.3L95.5 364.9L96.8 365.2zM108.7 364.1L107.2 365.2L108.2 365.9zM120.6 365.6L118.7 366.0L119.3 367.1zM131.6 367.6L129.7 367.1L129.9 368.4zM141.8 369.6L140.2 368.4L139.9 369.6zM151.1 371.4L150.2 369.7L149.3 370.7zM159.8 372.6L159.7 370.7L158.5 371.2zM168.3 373.0L168.9 371.2L167.6 371.2zM176.8 372.6L178.1 371.2L176.9 370.7zM185.4 371.4L187.2 370.7L186.3 369.7zM194.8 369.6L196.7 369.6L196.3 368.4zM205.0 367.6L206.7 368.4L206.8 367.1zM216.0 365.6L217.2 367.1L217.9 366.0zM227.8 364.1L228.3 365.9L229.4 365.2zM240.1 363.3L239.8 365.2L241.1 364.9zM252.3 363.3L251.4 364.9L252.6 365.2zM264.6 364.1L263.0 365.2L264.1 365.9zM276.4 365.6L274.6 366.0L275.2 367.1zM287.5 367.6L285.6 367.1L285.7 368.4zM297.6 369.6L296.1 368.4L295.7 369.6zM307.0 371.4L306.1 369.7L305.2 370.7zM315.6 372.6L315.5 370.7L314.3 371.2zM324.2 373.0L324.8 371.2L323.5 371.2zM332.7 372.6L334.0 371.2L332.8 370.7zM341.3 371.4L343.1 370.7L342.2 369.7zM350.7 369.6L352.6 369.6L352.2 368.4zM360.8 367.6L362.6 368.4L362.7 367.1zM371.9 365.6L373.1 367.1L373.7 366.0zM383.7 364.1L384.2 365.9L385.3 365.2zM396.0 363.3L395.7 365.2L396.9 364.9zM96.5 358.4L95.5 360.0L96.8 360.3zM108.8 359.2L107.2 360.3L108.2 361.0zM120.6 360.7L118.7 361.1L119.3 362.2zM131.6 362.7L129.7 362.2L129.9 363.5zM141.8 364.7L140.2 363.5L139.8 364.8zM151.1 366.5L150.2 364.8L149.3 365.8zM159.8 367.7L159.7 365.8L158.5 366.3zM168.3 368.1L168.9 366.3L167.6 366.3zM176.7 367.7L178.0 366.3L176.8 365.8zM185.4 366.5L187.2 365.8L186.3 364.8zM194.8 364.7L196.7 364.8L196.3 363.5zM205.0 362.7L206.7 363.5L206.8 362.2zM216.0 360.7L217.2 362.2L217.9 361.1zM227.8 359.2L228.3 361.0L229.4 360.3zM240.0 358.4L239.8 360.3L241.0 360.0zM252.4 358.4L251.4 360.0L252.7 360.3zM264.6 359.2L263.1 360.3L264.1 361.0zM276.4 360.7L274.6 361.1L275.2 362.2zM287.5 362.7L285.6 362.2L285.7 363.5zM297.6 364.7L296.1 363.5L295.7 364.8zM307.0 366.5L306.1 364.8L305.2 365.8zM315.7 367.7L315.6 365.8L314.4 366.3zM324.2 368.1L324.8 366.3L323.5 366.3zM332.6 367.7L333.9 366.3L332.7 365.8zM341.3 366.5L343.1 365.8L342.2 364.8zM350.7 364.7L352.6 364.8L352.2 363.5zM360.8 362.7L362.6 363.5L362.7 362.2zM371.9 360.7L373.1 362.2L373.8 361.1zM383.7 359.2L384.2 361.0L385.2 360.3zM395.9 358.4L395.6 360.3L396.9 360.0zM96.5 353.5L95.5 355.1L96.8 355.4zM108.8 354.3L107.2 355.4L108.3 356.2zM120.6 355.8L118.7 356.2L119.3 357.3zM131.6 357.8L129.7 357.3L129.9 358.6zM141.8 359.8L140.2 358.6L139.8 359.9zM151.1 361.6L150.2 359.9L149.4 360.9zM159.9 362.8L159.7 360.9L158.5 361.4zM168.3 363.2L168.9 361.4L167.6 361.4zM176.7 362.8L178.0 361.4L176.8 360.9zM185.4 361.6L187.2 360.9L186.3 359.9zM194.8 359.8L196.7 359.9L196.3 358.6zM205.0 357.8L206.7 358.6L206.8 357.3zM216.0 355.8L217.2 357.3L217.9 356.2zM227.8 354.3L228.3 356.2L229.3 355.4zM240.0 353.5L239.7 355.4L241.0 355.1zM252.4 353.5L251.4 355.1L252.7 355.4zM264.7 354.3L263.1 355.4L264.1 356.2zM276.4 355.8L274.6 356.2L275.2 357.3zM287.5 357.8L285.6 357.3L285.7 358.6zM297.6 359.8L296.1 358.6L295.7 359.9zM307.0 361.6L306.1 359.9L305.2 360.9zM315.7 362.8L315.6 360.9L314.4 361.4zM324.2 363.2L324.8 361.4L323.5 361.4zM332.6 362.8L333.9 361.4L332.7 360.9zM341.3 361.6L343.1 360.9L342.2 359.9zM350.7 359.8L352.6 359.9L352.2 358.6zM360.8 357.8L362.6 358.6L362.7 357.3zM371.9 355.8L373.1 357.3L373.7 356.2zM383.6 354.3L384.2 356.2L385.2 355.4zM395.9 353.5L395.6 355.4L396.9 355.1zM96.5 348.6L95.5 350.2L96.8 350.5zM108.8 349.4L107.2 350.5L108.3 351.3zM120.6 351.0L118.7 351.3L119.3 352.4zM131.6 352.9L129.7 352.4L129.9 353.7zM141.8 354.9L140.2 353.7L139.8 355.0zM151.1 356.7L150.2 355.0L149.4 355.9zM159.9 357.9L159.7 356.0L158.5 356.5zM168.3 358.3L168.9 356.5L167.6 356.5zM176.7 357.9L178.0 356.5L176.8 356.0zM185.4 356.7L187.2 355.9L186.3 355.0zM194.8 354.9L196.7 355.0L196.3 353.7zM205.0 352.9L206.7 353.7L206.8 352.4zM216.0 351.0L217.2 352.4L217.9 351.3zM227.7 349.4L228.3 351.3L229.3 350.5zM240.0 348.6L239.7 350.5L241.0 350.2zM252.4 348.6L251.4 350.2L252.7 350.5zM264.7 349.4L263.1 350.5L264.2 351.3zM276.4 351.0L274.6 351.3L275.2 352.4zM287.5 352.9L285.6 352.4L285.7 353.7zM297.6 354.9L296.1 353.7L295.7 355.0zM307.0 356.7L306.1 355.0L305.2 355.9zM315.8 357.9L315.6 356.0L314.4 356.5zM324.2 358.3L324.8 356.5L323.5 356.5zM332.5 357.9L333.9 356.5L332.7 356.0zM341.3 356.7L343.1 355.9L342.2 355.0zM350.7 354.9L352.6 355.0L352.2 353.7zM360.8 352.9L362.6 353.7L362.7 352.4zM371.9 351.0L373.1 352.4L373.7 351.3zM383.6 349.4L384.2 351.3L385.2 350.5zM395.9 348.6L395.6 350.5L396.9 350.2zM96.6 343.7L95.5 345.3L96.8 345.6zM108.8 344.6L107.2 345.6L108.3 346.4zM120.6 346.1L118.7 346.4L119.3 347.5zM131.6 348.0L129.7 347.5L129.9 348.8zM141.8 350.0L140.2 348.8L139.9 350.1zM151.2 351.8L150.2 350.1L149.4 351.0zM159.9 353.0L159.7 351.1L158.6 351.6zM168.3 353.4L168.9 351.6L167.6 351.6zM176.6 353.0L178.0 351.6L176.8 351.1zM185.4 351.8L187.2 351.0L186.3 350.1zM194.8 350.0L196.7 350.1L196.3 348.8zM205.0 348.0L206.7 348.8L206.8 347.5zM216.0 346.1L217.2 347.5L217.9 346.4zM227.7 344.6L228.3 346.4L229.3 345.6zM240.0 343.7L239.7 345.6L241.0 345.3zM252.4 343.7L251.4 345.3L252.7 345.6zM264.7 344.6L263.1 345.6L264.2 346.4zM276.5 346.1L274.6 346.4L275.2 347.5zM287.5 348.0L285.6 347.5L285.7 348.8zM297.6 350.0L296.1 348.8L295.7 350.1zM307.0 351.8L306.1 350.1L305.3 351.0zM315.8 353.0L315.6 351.1L314.4 351.6zM324.2 353.4L324.8 351.6L323.5 351.6zM332.5 353.0L333.9 351.6L332.7 351.1zM341.3 351.8L343.0 351.0L342.2 350.1zM350.7 350.0L352.6 350.1L352.2 348.8zM360.8 348.0L362.6 348.8L362.7 347.5zM371.9 346.1L373.1 347.5L373.7 346.4zM383.6 344.6L384.1 346.4L385.2 345.6zM395.9 343.7L395.6 345.6L396.9 345.3zM96.6 338.8L95.6 340.4L96.8 340.7zM108.9 339.7L107.3 340.7L108.3 341.5zM120.6 341.2L118.7 341.5L119.3 342.7zM131.6 343.1L129.7 342.6L129.9 343.9zM141.8 345.1L140.2 343.9L139.9 345.2zM151.2 346.8L150.2 345.2L149.4 346.1zM159.9 348.1L159.8 346.2L158.6 346.7zM168.3 348.5L168.9 346.7L167.6 346.7zM176.6 348.1L178.0 346.7L176.8 346.2zM185.4 346.8L187.2 346.1L186.3 345.2zM194.8 345.1L196.7 345.2L196.3 343.9zM205.0 343.1L206.7 343.9L206.8 342.6zM216.0 341.2L217.2 342.7L217.8 341.5zM227.7 339.7L228.2 341.5L229.3 340.7zM240.0 338.8L239.7 340.7L241.0 340.4zM252.5 338.8L251.4 340.4L252.7 340.7zM264.7 339.7L263.1 340.7L264.2 341.5zM276.5 341.2L274.6 341.5L275.2 342.7zM287.5 343.1L285.6 342.6L285.7 343.9zM297.6 345.1L296.1 343.9L295.7 345.2zM307.1 346.8L306.1 345.2L305.3 346.1zM315.8 348.1L315.6 346.2L314.5 346.7zM324.2 348.5L324.8 346.7L323.5 346.7zM332.5 348.1L333.8 346.7L332.7 346.2zM341.2 346.8L343.0 346.1L342.2 345.2zM350.7 345.1L352.6 345.2L352.2 343.9zM360.8 343.1L362.6 343.9L362.7 342.6zM371.8 341.2L373.1 342.7L373.7 341.5zM383.6 339.7L384.1 341.5L385.2 340.7zM395.8 338.8L395.6 340.7L396.9 340.4zM96.6 333.9L95.6 335.5L96.8 335.8zM108.9 334.8L107.3 335.9L108.3 336.6zM120.6 336.3L118.7 336.6L119.3 337.8zM131.6 338.2L129.7 337.8L129.9 339.1zM141.8 340.2L140.2 339.0L139.9 340.3zM151.2 341.9L150.3 340.2L149.4 341.2zM159.9 343.2L159.8 341.3L158.6 341.8zM168.3 343.6L168.9 341.8L167.6 341.8zM176.6 343.2L177.9 341.8L176.8 341.3zM185.3 341.9L187.1 341.2L186.3 340.2zM194.8 340.2L196.7 340.3L196.3 339.0zM205.0 338.2L206.7 339.1L206.8 337.8zM215.9 336.3L217.2 337.8L217.8 336.6zM227.7 334.8L228.2 336.6L229.3 335.9zM240.0 333.9L239.7 335.8L241.0 335.5zM252.5 333.9L251.4 335.5L252.7 335.8zM264.8 334.8L263.2 335.9L264.2 336.6zM276.5 336.3L274.6 336.6L275.2 337.8zM287.5 338.2L285.6 337.8L285.7 339.1zM297.7 340.2L296.1 339.0L295.7 340.3zM307.1 341.9L306.1 340.2L305.3 341.2zM315.8 343.2L315.7 341.3L314.5 341.8zM324.2 343.6L324.8 341.8L323.5 341.8zM332.5 343.2L333.8 341.8L332.6 341.3zM341.2 341.9L343.0 341.2L342.2 340.2zM350.6 340.2L352.6 340.3L352.2 339.0zM360.8 338.2L362.6 339.1L362.7 337.8zM371.8 336.3L373.1 337.8L373.7 336.6zM383.5 334.8L384.1 336.6L385.1 335.9zM395.8 333.9L395.6 335.8L396.9 335.5zM96.6 329.0L95.6 330.7L96.8 330.9zM108.9 330.0L107.3 331.0L108.3 331.8zM120.6 331.5L118.7 331.8L119.3 332.9zM131.6 333.3L129.7 332.9L129.9 334.2zM141.8 335.2L140.3 334.1L139.9 335.3zM151.2 337.0L150.3 335.3L149.4 336.3zM160.0 338.2L159.8 336.3L158.6 336.9zM168.3 338.7L168.9 336.9L167.6 336.9zM176.6 338.2L177.9 336.9L176.7 336.3zM185.3 337.0L187.1 336.3L186.3 335.3zM194.8 335.2L196.7 335.3L196.3 334.1zM205.0 333.3L206.7 334.2L206.8 332.9zM215.9 331.5L217.2 332.9L217.8 331.8zM227.6 330.0L228.2 331.8L229.2 331.0zM239.9 329.0L239.7 330.9L241.0 330.7zM252.5 329.0L251.5 330.7L252.7 330.9zM264.8 330.0L263.2 331.0L264.2 331.8zM276.5 331.5L274.6 331.8L275.2 332.9zM287.5 333.3L285.6 332.9L285.7 334.2zM297.7 335.2L296.1 334.1L295.8 335.3zM307.1 337.0L306.2 335.3L305.3 336.3zM315.9 338.2L315.7 336.3L314.5 336.9zM324.2 338.7L324.8 336.9L323.5 336.9zM332.4 338.2L333.8 336.9L332.6 336.3zM341.2 337.0L343.0 336.3L342.1 335.3zM350.6 335.2L352.5 335.3L352.2 334.1zM360.8 333.3L362.6 334.2L362.7 332.9zM371.8 331.5L373.1 332.9L373.7 331.8zM383.5 330.0L384.1 331.8L385.1 331.0zM395.8 329.0L395.6 330.9L396.8 330.7zM96.7 324.2L95.6 325.8L96.9 326.1zM109.0 325.1L107.4 326.1L108.4 326.9zM120.7 326.7L118.8 326.9L119.4 328.1zM131.6 328.5L129.7 328.0L129.9 329.3zM141.8 330.3L140.3 329.2L139.9 330.4zM151.3 332.0L150.3 330.4L149.5 331.4zM160.0 333.3L159.8 331.4L158.7 332.0zM168.3 333.8L168.9 332.0L167.6 332.0zM176.5 333.3L177.9 332.0L176.7 331.4zM185.3 332.0L187.1 331.4L186.2 330.4zM194.7 330.3L196.7 330.4L196.3 329.2zM205.0 328.5L206.7 329.3L206.8 328.0zM215.9 326.7L217.2 328.1L217.8 326.9zM227.5 325.1L228.2 326.9L229.2 326.1zM239.9 324.2L239.7 326.1L240.9 325.8zM252.5 324.2L251.5 325.8L252.8 326.1zM264.9 325.1L263.2 326.1L264.3 326.9zM276.5 326.7L274.6 326.9L275.2 328.1zM287.5 328.5L285.6 328.0L285.7 329.3zM297.7 330.3L296.1 329.2L295.8 330.4zM307.2 332.0L306.2 330.4L305.4 331.4zM315.9 333.3L315.7 331.4L314.5 332.0zM324.2 333.8L324.8 332.0L323.5 332.0zM332.4 333.3L333.8 332.0L332.6 331.4zM341.1 332.0L342.9 331.4L342.1 330.4zM350.6 330.3L352.5 330.4L352.2 329.2zM360.8 328.5L362.6 329.3L362.7 328.0zM371.8 326.7L373.1 328.1L373.7 326.9zM383.4 325.1L384.1 326.9L385.1 326.1zM395.8 324.2L395.6 326.1L396.8 325.8zM96.7 319.3L95.6 320.9L96.9 321.2zM109.1 320.3L107.4 321.3L108.4 322.1zM120.7 321.9L118.8 322.1L119.4 323.2zM131.6 323.6L129.7 323.1L129.8 324.4zM141.8 325.3L140.3 324.2L139.9 325.5zM151.4 327.0L150.3 325.4L149.5 326.4zM160.1 328.4L159.9 326.5L158.7 327.1zM168.3 328.9L168.9 327.1L167.6 327.1zM176.4 328.4L177.8 327.1L176.7 326.5zM185.2 327.0L187.0 326.4L186.2 325.4zM194.7 325.3L196.6 325.5L196.3 324.2zM205.0 323.6L206.7 324.4L206.8 323.1zM215.8 321.9L217.2 323.2L217.7 322.1zM227.5 320.3L228.1 322.1L229.1 321.3zM239.8 319.3L239.6 321.2L240.9 320.9zM252.6 319.3L251.5 320.9L252.8 321.2zM265.0 320.3L263.3 321.3L264.3 322.1zM276.6 321.9L274.7 322.1L275.3 323.2zM287.5 323.6L285.6 323.1L285.7 324.4zM297.7 325.3L296.1 324.2L295.8 325.5zM307.2 327.0L306.2 325.4L305.4 326.4zM316.0 328.4L315.8 326.5L314.6 327.1zM324.2 328.9L324.8 327.1L323.5 327.1zM332.3 328.4L333.7 327.1L332.5 326.5zM341.1 327.0L342.9 326.4L342.1 325.4zM350.6 325.3L352.5 325.5L352.2 324.2zM360.8 323.6L362.6 324.4L362.7 323.1zM371.7 321.9L373.0 323.2L373.6 322.1zM383.3 320.3L384.0 322.1L385.0 321.3zM395.7 319.3L395.5 321.2L396.8 320.9zM96.8 314.4L95.7 316.0L97.0 316.3zM109.2 315.5L107.5 316.4L108.5 317.3zM120.8 317.1L118.9 317.3L119.4 318.4zM131.6 318.7L129.7 318.2L129.8 319.5zM141.8 320.4L140.3 319.3L139.9 320.5zM151.5 322.0L150.4 320.4L149.6 321.5zM160.3 323.4L160.0 321.5L158.8 322.2zM168.3 324.0L168.9 322.2L167.6 322.2zM176.3 323.4L177.7 322.2L176.6 321.5zM185.1 322.0L186.9 321.5L186.2 320.4zM194.7 320.4L196.6 320.5L196.3 319.3zM205.0 318.7L206.7 319.5L206.8 318.2zM215.8 317.1L217.1 318.4L217.7 317.3zM227.3 315.5L228.1 317.3L229.0 316.4zM239.7 314.4L239.6 316.3L240.8 316.0zM252.7 314.4L251.6 316.0L252.8 316.3zM265.1 315.5L263.4 316.4L264.4 317.3zM276.6 317.1L274.7 317.3L275.3 318.4zM287.5 318.7L285.6 318.2L285.7 319.5zM297.7 320.4L296.1 319.3L295.8 320.5zM307.4 322.0L306.3 320.4L305.5 321.5zM316.2 323.4L315.8 321.5L314.7 322.2zM324.2 324.0L324.8 322.2L323.5 322.2zM332.1 323.4L333.6 322.2L332.5 321.5zM340.9 322.0L342.8 321.5L342.0 320.4zM350.6 320.4L352.5 320.5L352.2 319.3zM360.8 318.7L362.6 319.5L362.7 318.2zM371.7 317.1L373.0 318.4L373.6 317.3zM383.2 315.5L383.9 317.3L384.9 316.4zM395.6 314.4L395.5 316.3L396.7 316.0zM96.9 309.6L95.8 311.1L97.0 311.5zM109.4 310.8L107.7 311.6L108.6 312.5zM120.8 312.4L118.9 312.5L119.4 313.7zM131.6 313.9L129.7 313.4L129.8 314.7zM141.9 315.3L140.3 314.3L140.0 315.6zM151.6 316.9L150.5 315.4L149.8 316.5zM160.5 318.4L160.1 316.5L159.0 317.2zM168.3 319.1L168.9 317.3L167.6 317.3zM176.1 318.4L177.6 317.2L176.5 316.5zM184.9 316.9L186.8 316.5L186.1 315.4zM194.7 315.3L196.6 315.6L196.3 314.3zM205.0 313.9L206.7 314.7L206.8 313.4zM215.7 312.4L217.1 313.7L217.6 312.5zM227.1 310.8L228.0 312.5L228.9 311.6zM239.6 309.6L239.5 311.5L240.7 311.1zM252.8 309.6L251.7 311.1L252.9 311.5zM265.3 310.8L263.6 311.6L264.5 312.5zM276.7 312.4L274.8 312.5L275.3 313.7zM287.5 313.9L285.6 313.4L285.7 314.7zM297.8 315.3L296.1 314.3L295.9 315.6zM307.5 316.9L306.3 315.4L305.6 316.5zM316.4 318.4L316.0 316.5L314.9 317.2zM324.2 319.1L324.8 317.3L323.5 317.3zM331.9 318.4L333.4 317.2L332.3 316.5zM340.8 316.9L342.7 316.5L342.0 315.4zM350.6 315.3L352.5 315.6L352.2 314.3zM360.8 313.9L362.6 314.7L362.7 313.4zM371.6 312.4L373.0 313.7L373.5 312.5zM383.0 310.8L383.8 312.5L384.7 311.6zM395.5 309.6L395.4 311.5L396.6 311.1zM97.2 304.7L96.0 306.2L97.2 306.7zM109.7 306.2L107.9 306.9L108.7 307.9zM120.9 307.8L119.0 307.7L119.5 309.0zM131.6 309.0L129.8 308.5L129.8 309.8zM141.9 310.3L140.3 309.3L140.0 310.6zM151.8 311.7L150.5 310.2L149.9 311.4zM160.8 313.3L160.3 311.4L159.2 312.2zM168.3 314.3L168.9 312.5L167.6 312.5zM175.7 313.3L177.3 312.2L176.3 311.4zM184.7 311.7L186.6 311.4L186.0 310.2zM194.6 310.3L196.5 310.6L196.3 309.3zM204.9 309.0L206.7 309.8L206.8 308.5zM215.6 307.8L217.1 309.0L217.5 307.7zM226.8 306.2L227.8 307.9L228.6 306.9zM239.4 304.7L239.4 306.7L240.6 306.2zM253.1 304.7L251.8 306.2L253.1 306.7zM265.6 306.2L263.8 306.9L264.6 307.9zM276.8 307.8L274.9 307.7L275.3 309.0zM287.5 309.0L285.6 308.5L285.7 309.8zM297.8 310.3L296.1 309.3L295.9 310.6zM307.7 311.7L306.4 310.2L305.8 311.4zM316.7 313.3L316.1 311.4L315.1 312.2zM324.2 314.3L324.8 312.5L323.5 312.5zM331.6 313.3L333.2 312.2L332.2 311.4zM340.6 311.7L342.5 311.4L341.9 310.2zM350.5 310.3L352.4 310.6L352.2 309.3zM360.8 309.0L362.6 309.8L362.7 308.5zM371.5 307.8L373.0 309.0L373.4 307.7zM382.7 306.2L383.7 307.9L384.5 306.9zM395.3 304.7L395.2 306.7L396.5 306.2zM97.6 300.0L96.3 301.4L97.4 301.9zM110.1 301.9L108.2 302.3L108.9 303.4zM121.1 303.2L119.1 303.0L119.5 304.3zM131.6 304.2L129.8 303.7L129.8 305.0zM141.9 305.2L140.3 304.3L140.1 305.6zM152.0 306.3L150.6 305.0L150.1 306.2zM161.3 308.0L160.5 306.2L159.6 307.1zM168.3 309.4L168.9 307.6L167.6 307.6zM175.2 308.0L177.0 307.1L176.0 306.2zM184.5 306.3L186.4 306.2L185.9 305.0zM194.6 305.2L196.5 305.6L196.3 304.3zM204.9 304.2L206.7 305.0L206.8 303.7zM215.5 303.2L217.1 304.3L217.4 303.0zM226.5 301.9L227.7 303.4L228.3 302.3zM238.9 300.0L239.1 301.9L240.3 301.4zM253.5 300.0L252.1 301.4L253.3 301.9zM266.0 301.9L264.1 302.3L264.8 303.4zM276.9 303.2L275.0 303.0L275.4 304.3zM287.5 304.2L285.6 303.7L285.7 305.0zM297.8 305.2L296.1 304.3L295.9 305.6zM307.9 306.3L306.5 305.0L306.0 306.2zM317.2 308.0L316.4 306.2L315.5 307.1zM324.2 309.4L324.8 307.6L323.5 307.6zM331.1 308.0L332.8 307.1L331.9 306.2zM340.4 306.3L342.3 306.2L341.8 305.0zM350.5 305.2L352.4 305.6L352.2 304.3zM360.8 304.2L362.6 305.0L362.7 303.7zM371.4 303.2L372.9 304.3L373.3 303.0zM382.4 301.9L383.5 303.4L384.2 302.3zM394.8 300.0L395.0 301.9L396.2 301.4zM98.4 295.6L96.9 296.7L97.9 297.5zM110.5 297.8L108.6 297.8L109.0 299.0zM121.1 298.8L119.3 298.4L119.5 299.7zM131.6 299.4L129.8 298.8L129.8 300.1zM142.0 300.0L140.2 299.2L140.1 300.5zM152.2 300.8L150.7 299.7L150.3 301.0zM162.0 302.2L160.8 300.7L160.1 301.8zM168.3 304.5L168.9 302.7L167.6 302.7zM174.5 302.2L176.4 301.8L175.7 300.7zM184.3 300.8L186.2 301.0L185.9 299.7zM194.6 300.0L196.4 300.5L196.3 299.2zM204.9 299.4L206.7 300.1L206.8 298.8zM215.4 298.8L217.1 299.7L217.3 298.4zM226.1 297.8L227.5 299.0L228.0 297.8zM238.1 295.6L238.6 297.5L239.7 296.7zM254.3 295.6L252.7 296.7L253.8 297.5zM266.4 297.8L264.4 297.8L264.9 299.0zM277.0 298.8L275.1 298.4L275.4 299.7zM287.5 299.4L285.7 298.8L285.7 300.1zM297.9 300.0L296.1 299.2L296.0 300.5zM308.1 300.8L306.5 299.7L306.2 301.0zM317.9 302.2L316.7 300.7L316.0 301.8zM324.2 304.5L324.8 302.7L323.5 302.7zM330.4 302.2L332.3 301.8L331.6 300.7zM340.2 300.8L342.1 301.0L341.8 299.7zM350.4 300.0L352.3 300.5L352.2 299.2zM360.8 299.4L362.6 300.1L362.6 298.8zM371.3 298.8L372.9 299.7L373.2 298.4zM381.9 297.8L383.4 299.0L383.9 297.8zM394.0 295.6L394.5 297.5L395.6 296.7zM100.0 292.6L98.1 292.8L98.6 294.0zM110.8 294.0L108.9 293.6L109.1 294.9zM121.2 294.4L119.4 293.8L119.4 295.1zM131.6 294.6L129.8 294.0L129.8 295.3zM142.0 294.8L140.2 294.1L140.2 295.4zM152.4 295.1L150.6 294.3L150.5 295.6zM162.7 295.7L161.0 294.7L160.8 296.0zM168.3 299.6L168.9 297.8L167.6 297.8zM173.9 295.7L175.8 296.0L175.5 294.7zM184.2 295.1L186.0 295.6L185.9 294.3zM194.5 294.8L196.4 295.4L196.3 294.1zM204.9 294.6L206.7 295.3L206.7 294.0zM215.3 294.4L217.1 295.1L217.2 293.8zM225.8 294.0L227.5 294.9L227.6 293.6zM236.6 292.6L237.9 294.0L238.5 292.8zM255.9 292.6L254.0 292.8L254.5 294.0zM266.7 294.0L264.8 293.6L265.0 294.9zM277.1 294.4L275.2 293.8L275.3 295.1zM287.5 294.6L285.7 294.0L285.7 295.3zM297.9 294.8L296.1 294.1L296.1 295.4zM308.2 295.1L306.5 294.3L306.4 295.6zM318.5 295.7L316.9 294.7L316.6 296.0zM324.2 299.6L324.8 297.8L323.5 297.8zM329.8 295.7L331.7 296.0L331.4 294.7zM340.1 295.1L341.9 295.6L341.8 294.3zM350.4 294.8L352.2 295.4L352.2 294.1zM360.8 294.6L362.6 295.3L362.6 294.0zM371.2 294.4L373.0 295.1L373.1 293.8zM381.6 294.0L383.3 294.9L383.5 293.6zM392.4 292.6L393.8 294.0L394.4 292.8z" fill="#d6d6ee" fill-opacity="0.9" stroke="none"/></g><circle cx="122.30" cy="389.70" r="1.9" fill="url(#sp)"/><circle cx="165.70" cy="389.70" r="1.9" fill="url(#sp)"/><circle cx="209.10" cy="389.70" r="1.9" fill="url(#sp)"/><circle cx="252.50" cy="389.70" r="1.9" fill="url(#sp)"/><circle cx="295.90" cy="389.70" r="1.9" fill="url(#sp)"/><circle cx="339.30" cy="389.70" r="1.9" fill="url(#sp)"/><circle cx="382.70" cy="389.70" r="1.9" fill="url(#sp)"/><circle cx="426.10" cy="389.70" r="1.9" fill="url(#sp)"/>
<g font-family="DejaVu Sans, Liberation Sans, sans-serif" fill="#000" stroke="#000" stroke-width="0.3"><rect x="82.90" y="282.80" width="382.50" height="165.10" fill="none" stroke="#4a4a4a" stroke-width="1"/>
<path d="M100.60 447.90v-3.2M100.60 282.80v3.2M187.40 447.90v-3.2M187.40 282.80v3.2M274.20 447.90v-3.2M274.20 282.80v3.2M361.00 447.90v-3.2M361.00 282.80v3.2M447.80 447.90v-3.2M447.80 282.80v3.2M82.90 428.67h3.2M465.40 428.67h-3.2M82.90 409.19h3.2M465.40 409.19h-3.2M82.90 389.70h3.2M465.40 389.70h-3.2M82.90 370.21h3.2M465.40 370.21h-3.2M82.90 350.73h3.2M465.40 350.73h-3.2M82.90 331.25h3.2M465.40 331.25h-3.2M82.90 311.76h3.2M465.40 311.76h-3.2M82.90 292.27h3.2M465.40 292.27h-3.2" stroke="#4a4a4a" stroke-width="1" fill="none"/>
<text transform="translate(79.80 433.01) scale(1.1800 1)" font-size="11.90" text-anchor="end" >-1</text>
<text transform="translate(79.80 413.53) scale(1.1800 1)" font-size="11.90" text-anchor="end" >-0.5</text>
<text transform="translate(79.80 394.04) scale(1.1800 1)" font-size="11.90" text-anchor="end" >0</text>
<text transform="translate(79.80 374.56) scale(1.1800 1)" font-size="11.90" text-anchor="end" >0.5</text>
<text transform="translate(79.80 355.07) scale(1.1800 1)" font-size="11.90" text-anchor="end" >1</text>
<text transform="translate(79.80 335.59) scale(1.1800 1)" font-size="11.90" text-anchor="end" >1.5</text>
<text transform="translate(79.80 316.10) scale(1.1800 1)" font-size="11.90" text-anchor="end" >2</text>
<text transform="translate(79.80 296.62) scale(1.1800 1)" font-size="11.90" text-anchor="end" >2.5</text>
<text transform="translate(100.60 464.50) scale(1.1800 1)" font-size="11.90" text-anchor="middle" >0</text>
<text transform="translate(187.40 464.50) scale(1.1800 1)" font-size="11.90" text-anchor="middle" >2</text>
<text transform="translate(274.20 464.50) scale(1.1800 1)" font-size="11.90" text-anchor="middle" >4</text>
<text transform="translate(361.00 464.50) scale(1.1800 1)" font-size="11.90" text-anchor="middle" >6</text>
<text transform="translate(447.80 464.50) scale(1.1800 1)" font-size="11.90" text-anchor="middle" >8</text>
<text transform="translate(275.00 478.50) scale(1.1800 1)" font-size="11.90" text-anchor="middle" >x(mm)</text>
<text transform="translate(27.5 365.5) rotate(-90) scale(1 1.1800)" font-size="11.90" text-anchor="middle">y(mm)</text>
<text transform="translate(202.30 275.90) scale(1.1650 1)" font-size="11.90" text-anchor="start" >Electric field (V/mm)</text>
<linearGradient id="cb2" x1="0" y1="1" x2="0" y2="0">
<stop offset="0.0000" stop-color="#000080"/>
<stop offset="0.0156" stop-color="#00008f"/>
<stop offset="0.0312" stop-color="#00009f"/>
<stop offset="0.0469" stop-color="#0000af"/>
<stop offset="0.0625" stop-color="#0000bf"/>
<stop offset="0.0781" stop-color="#0000cf"/>
<stop offset="0.0938" stop-color="#0000df"/>
<stop offset="0.1094" stop-color="#0000ef"/>
<stop offset="0.1250" stop-color="#0000ff"/>
<stop offset="0.1406" stop-color="#0010ff"/>
<stop offset="0.1562" stop-color="#0020ff"/>
<stop offset="0.1719" stop-color="#0030ff"/>
<stop offset="0.1875" stop-color="#0040ff"/>
<stop offset="0.2031" stop-color="#0050ff"/>
<stop offset="0.2188" stop-color="#0060ff"/>
<stop offset="0.2344" stop-color="#0070ff"/>
<stop offset="0.2500" stop-color="#0080ff"/>
<stop offset="0.2656" stop-color="#008fff"/>
<stop offset="0.2812" stop-color="#009fff"/>
<stop offset="0.2969" stop-color="#00afff"/>
<stop offset="0.3125" stop-color="#00bfff"/>
<stop offset="0.3281" stop-color="#00cfff"/>
<stop offset="0.3438" stop-color="#00dfff"/>
<stop offset="0.3594" stop-color="#00efff"/>
<stop offset="0.3750" stop-color="#00ffff"/>
<stop offset="0.3906" stop-color="#10ffef"/>
<stop offset="0.4062" stop-color="#20ffdf"/>
<stop offset="0.4219" stop-color="#30ffcf"/>
<stop offset="0.4375" stop-color="#40ffbf"/>
<stop offset="0.4531" stop-color="#50ffaf"/>
<stop offset="0.4688" stop-color="#60ff9f"/>
<stop offset="0.4844" stop-color="#70ff8f"/>
<stop offset="0.5000" stop-color="#80ff80"/>
<stop offset="0.5156" stop-color="#8fff70"/>
<stop offset="0.5312" stop-color="#9fff60"/>
<stop offset="0.5469" stop-color="#afff50"/>
<stop offset="0.5625" stop-color="#bfff40"/>
<stop offset="0.5781" stop-color="#cfff30"/>
<stop offset="0.5938" stop-color="#dfff20"/>
<stop offset="0.6094" stop-color="#efff10"/>
<stop offset="0.6250" stop-color="#ffff00"/>
<stop offset="0.6406" stop-color="#ffef00"/>
<stop offset="0.6562" stop-color="#ffdf00"/>
<stop offset="0.6719" stop-color="#ffcf00"/>
<stop offset="0.6875" stop-color="#ffbf00"/>
<stop offset="0.7031" stop-color="#ffaf00"/>
<stop offset="0.7188" stop-color="#ff9f00"/>
<stop offset="0.7344" stop-color="#ff8f00"/>
<stop offset="0.7500" stop-color="#ff8000"/>
<stop offset="0.7656" stop-color="#ff7000"/>
<stop offset="0.7812" stop-color="#ff6000"/>
<stop offset="0.7969" stop-color="#ff5000"/>
<stop offset="0.8125" stop-color="#ff4000"/>
<stop offset="0.8281" stop-color="#ff3000"/>
<stop offset="0.8438" stop-color="#ff2000"/>
<stop offset="0.8594" stop-color="#ff1000"/>
<stop offset="0.8750" stop-color="#ff0000"/>
<stop offset="0.8906" stop-color="#ef0000"/>
<stop offset="0.9062" stop-color="#df0000"/>
<stop offset="0.9219" stop-color="#cf0000"/>
<stop offset="0.9375" stop-color="#bf0000"/>
<stop offset="0.9531" stop-color="#af0000"/>
<stop offset="0.9688" stop-color="#9f0000"/>
<stop offset="0.9844" stop-color="#8f0000"/>
<stop offset="1.0000" stop-color="#800000"/>
</linearGradient>
<rect x="481.8" y="305.4" width="11.8" height="137.2" fill="url(#cb2)"/>
<path d="M482.2 305.4V442.6M493.2 305.4V442.6" stroke="#000" stroke-opacity="0.45" stroke-width="0.8" fill="none"/>
<text transform="translate(499.00 318.50) scale(1.1800 1)" font-size="11.90" text-anchor="start" >1</text>
<text transform="translate(499.00 344.29) scale(1.1800 1)" font-size="11.90" text-anchor="start" >0.8</text>
<text transform="translate(499.00 370.08) scale(1.1800 1)" font-size="11.90" text-anchor="start" >0.6</text>
<text transform="translate(499.00 395.86) scale(1.1800 1)" font-size="11.90" text-anchor="start" >0.4</text>
<text transform="translate(499.00 421.65) scale(1.1800 1)" font-size="11.90" text-anchor="start" >0.2</text>
<path d="M481.8 313.7h2.2M493.6 313.7h-2.2M481.8 339.4h2.2M493.6 339.4h-2.2M481.8 365.2h2.2M493.6 365.2h-2.2M481.8 391.0h2.2M493.6 391.0h-2.2M481.8 416.8h2.2M493.6 416.8h-2.2" stroke="#000" stroke-width="0.9"/>
<text transform="translate(493.5 296.8) scale(1.1800 1)" font-size="11.90">×10<tspan dy="-5" font-size="8.09">4</tspan></text></g>
<text x="277.2" y="256.3" font-family="Liberation Serif, serif" font-size="20" fill="#000" text-anchor="middle">(<tspan font-weight="bold">a</tspan>)</text>
<text x="277" y="506.4" font-family="Liberation Serif, serif" font-size="20" fill="#000" text-anchor="middle">(<tspan font-weight="bold">b</tspan>)</text>
</svg>
</body></html>
